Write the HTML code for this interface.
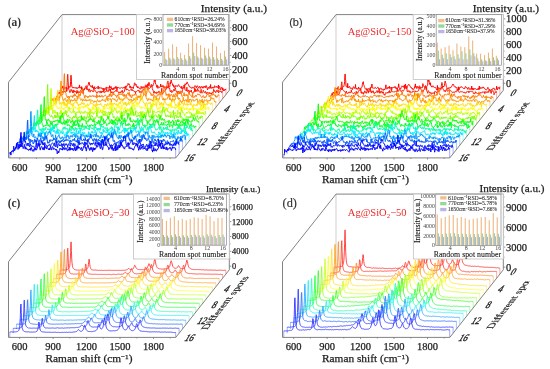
<!DOCTYPE html><html><head><meta charset="utf-8"><style>html,body{margin:0;padding:0;background:#fff;overflow:hidden}svg{display:block}</style></head><body>
<svg width="550" height="369" viewBox="0 0 550 369">
<rect width="550" height="369" fill="#fff"/>
<g transform="translate(0.0,0.0)">
<text x="7.7" y="26.4" font-family="'Liberation Serif', serif" font-size="11.5" font-weight="700" fill="#333" stroke="#333" stroke-width="0.0">(a)</text>
<line x1="62.0" y1="14.6" x2="62.0" y2="90.3" stroke="#cdcdcd" stroke-width="1"/>
<g fill="none" stroke-width="0.70" opacity="0.50"><path d="M60.0 94.5V90.7M225.9 94.5V88.8" stroke="#ff0000"/><path d="M56.7 98.8V96.7M222.6 98.8V91.2" stroke="#ff1500"/><path d="M53.3 103.0V101.1M219.2 103.0V95.8" stroke="#ff7700"/><path d="M50.0 107.2V102.4M215.9 107.2V101.7" stroke="#ff9400"/><path d="M46.6 111.4V110.8M212.5 111.4V104.5" stroke="#ffdc00"/><path d="M43.3 115.7V112.9M209.2 115.7V108.8" stroke="#ffff00"/><path d="M39.9 119.9V116.3M205.8 119.9V113.8" stroke="#bfff00"/><path d="M36.6 124.1V121.2M202.5 124.1V116.5" stroke="#7fff00"/><path d="M33.2 128.3V124.1M199.2 128.3V122.1" stroke="#15ff00"/><path d="M29.9 132.6V129.8M195.8 132.6V125.8" stroke="#00ff2a"/><path d="M26.6 136.8V132.1M192.5 136.8V129.9" stroke="#00ffa9"/><path d="M23.2 141.0V136.6M189.1 141.0V134.7" stroke="#00e9ff"/><path d="M19.9 145.2V141.0M185.8 145.2V135.5" stroke="#0094ff"/><path d="M16.5 149.5V144.9M182.4 149.5V140.6" stroke="#0054ff"/><path d="M13.2 153.7V150.9M179.1 153.7V144.1" stroke="#0015ff"/><path d="M9.8 157.9V153.8M175.7 157.9V150.0" stroke="#0000ff"/></g><g fill="none" stroke-width="0.98" stroke-linejoin="round" opacity="1.00"><path d="M60 90.7l.3-.8.3.2.2.1.3-1.2.3-.4.3.1.2-.6.3-.3.3 0 .3-1.6.3 1.7.2.4.3 2 .3-2.2.3-.4.3.1.2.5.3.3.3-.3.3-.2.3-.4.2-.8.3.9.3 3.7.3-1.2.2-1.3.3-.6.3-.2.3-.8.3-.2.2 1.3.3-.3.3-1.5.3-.1.3.3.2.3.3-1.2.3-4.5.3-6 .2-.3.3 5.9.3 3.8.3 2.1.3.6.2 0 .3.4.3.1.3-.6.3-.4.2.6.3.4.3-.3.3-.2.3.1.2.1.3-.3.3.3.3.8.2-.3.3-.7.3.1.3.7.3 0 .2-.6.3-.2.3-.4.3.2.3.8.2-.7.3-2.6.3 2.7.3.4.2-.6.3-.3.3.3.3 1.1.3.9.2-2.8.3 2.2.3-.3.3.8.3 1.5.2-.2.3-1.3.3 0 .3.7.3-.3.2-.7.3-.5.3-.4.3 0 .2.2.3-.6.3 0 .3.7.3 1.2.2-2.5.3 0 .3-.7.3-.8.3-.8.2-.7.3-1.1.3-.9.3.9.3 2 .2.5.3.2.3-.1.3 1.1.2 0 .3-.2.3-.1.3.4.3.7.2-2.2.3 2.5.3.2.3-.8.3 0 .2 2.1.3.7.3-2.3.3-1.1.2 1.7.3.7.3-.7.3.1.3.1.2-.5.3-.4.3.1.3 0 .3.3.2.4.3.2.3-2.7.3 2.7.3.5.2-.5.3-1.2.3.2.3.3.2-.1.3.4.3-.1.3-.5.3.4.2.3.3-.4.3.5.3.9.3 0 .2-.9.3-.4.3.9.3 1 .3.5.2-.9.3-.9.3.6.3.3.2-.7.3-.7.3-.7.3-.5.3.8.2.8.3-.3.3-.4.3-.2.3-.1.2.4.3.3.3-.6.3.4.2.3.3-2.6.3.9.3.6.3 1 .2-.3.3-1.4.3.8.3 1.9.3.2.2-.2.3.1.3.6.3-1.9.3 1.2.2-1.4.3 1.6.3-.1.3-.8.2-.9.3-.4.3.6.3.6.3-2 .2 0 .3 1.4.3.4.3-.1.3.3.2-.5.3-.8.3.5.3.2.2-.4.3.3.3.2.3 0 .3.2.2.3.3-.1.3-.3.3-.1.3-.1.2-.3.3-.3.3.3.3.3.3.2.2.3.3-.2.3-.4.3.3.2-.1.3-.9.3-.1.3 1 .3.4.2-1.1.3-.3.3.3.3-.7.3.2.2.1.3-.9.3-.7.3.1.3-.4.2-1.4.3.4.3.5.3.2.2-.8.3 1.1.3.6.3 2.4.3-1.7.2.4.3 0 .3 1.8.3-.8.3-.5.2 0 .3.3.3.1.3-.1.2.6.3.6.3-1.9.3-.5.3-1.2.2-1.6.3-.6.3.7.3.7.3.8.2.3.3-1 .3 1.1.3 1.1.3-.5.2 1 .3.9.3-.9.3-.3.2 1 .3.2.3 0 .3.3.3-.3.2.1.3.9.3.4.3-.4.3-.6.2-1.9.3.8.3.1.3 1.2.3-.6.2.2.3-1 .3-.6.3 1.1.2.6.3-.2.3.1.3-.1.3-.5.2-.7.3-.6.3.1.3 0 .3-.2.2 0 .3-.1.3.8.3.5.2-.5.3-3 .3 2.4.3-.8.3-1.4.2-1.7.3.5.3 1.8.3 1.1.3.4.2.4.3.6.3.1.3-.4.3-.4.2-1 .3-.3.3.5.3.5.2.1.3-.8.3-.9.3-1.2.3-.6.2-2.3.3.9.3-4 .3-.2.3 5.6.2 1.3.3.3.3.5.3 1.2.2 1.2.3.1.3-.5.3-1.4.3 3 .2-.9.3-.7.3.2.3.2.3.1.2.3.3-.3.3-.3.3-.7.3-2.3.2 3 .3 0 .3-.7.3-.6.2.5.3.9.3-.6.3-1.1.3.2.2 1.8.3-.1.3-.6.3 1.2.3.4.2-1.3.3-.2.3.7.3-.1.3-.5.2-.2.3.2.3.5.3.6.2.1.3-.8.3-.8.3.3.3.6.2-.7.3-.3.3.4.3 0 .3-.1.2-4 .3 1.3.3-2.2.3-1.6.2-.6.3 1.6.3 1.8.3.3.3.5.2 1.5.3 0 .3-.6.3 1.8.3-1.2.2 1.7.3.6.3-.9.3 0 .3.4.2-.5.3-1 .3-.1.3.7.2-.2.3.2.3.3.3 0 .3-.4.2-.8.3-.4.3-.3.3.2.3 1.1.2.6.3-.1.3.3.3.4.3-.2.2.5.3.9.3 0 .3-1.9.2 1.7.3.9.3.1.3-.4.3-.9.2-1.4.3-.8.3.1.3.6.3.3.2-.6.3-1.4.3-.9.3.5.2.6.3-.2.3-.5.3-1.3.3-.3.2-.6.3.4.3 1.3.3.4.3.4.2.9.3 0 .3.7.3.9.3.1.2.1.3.2.3 0 .3-.2.2.1.3.7.3.4.3.2.3-.7.2-.6.3.2.3 0 .3.2.3.6.2-.1.3-.9.3-.5.3-.6.2-.4.3.5.3-.1.3-.2.3.9.2 1 .3-.1.3-1.2.3-.8.3.2.2.6.3.1.3.4.3.8.3-.6.2-.1.3-.2.3-.6.3 1.1.2 1.1.3-.7.3-.8.3.1.3-.3.2-.3.3.7.3 1 .3-.7.3-.8.2 1 .3.5.3-.9.3-.7.3-.5.2.9.3.4.3-.6.3.3.2.5.3-1.6.3-.5.3 1.5.3.1.2-.2.3 1.6.3 1.4.3-.8.3-.7.2-.5.3-.6.3.5.3.7.2-1 .3-1 .3.2.3.8.3-3 .2 3.7.3.4.3-.4.3-.6.3-.5.2.4.3.7.3-.9.3-.4.3.9.2.3.3.2.3-.3.3-1.5.2-.8.3.4.3.7.3.3.3.3.2 0 .3-.8.3-.5.3.5.3.9.2.2.3-.6.3-.6.3-1.5.3 3.8.2-1.3.3-1.3.3.2.3.5.2 1.1.3 1.6.3.3.3-.8.3-1 .2-.7.3.1.3.2.3 0 .3 2.5.2-1.6.3-.2.3 1.3.3 1.2.2-.8.3-.3.3.7.3-.8.3-.6.2.6.3 0 .3-.9" stroke="#ff0000"/><path d="M56.7 96.7l.2.2.3-.5.3-1.4.3-1 .2-.9.3 0 .3.4.3-.9.3-.7.2.8.3 1 .3.1.3.1.3.4.2-.3.3-1.3.3-.6.3.4.2-.3.3-.8.3 0 .3 1 .3.3.2-.5.3-.2.3-.5.3-.4.3.5.2.4.3.1.3-.1.3-.1.3-.2.2-.7.3-.9.3-1.7.3-2 .2-3.9.3-7.5.3-.7.3 6.6.3 4.1.2 3.3.3 1.5.3.3.3.7.3 1.6.2.3.3-1.7.3-.4.3-1.3.3 0 .2.8.3 1 .3.4.3-.6.2.4.3 1.5.3-2.9.3 2.7.3-1.5.2-.8.3.4.3 1.4.3-.2.3-.5.2-.4.3.7.3.2.3.7.2-.4.3 1.4.3-3.3.3 2.6.3-1.3.2.5.3.8.3-.9.3-.5.3.2.2.4.3.6.3-.3.3-1.1.3-.7.2-.2.3-.4.3-.2.3 0 .2-.3.3 0 .3.6.3.6.3.7.2 2.2.3-1.9.3-1.5.3 0 .3-.2.2-1.4.3-.6.3-.3.3-.9.2-.5.3-.4.3-.3.3 1.3.3 1.5.2.1.3.1.3 1.1.3 0 .3-.6.2 1.2.3 1.1.3-1.3.3-1.3.3.4.2 1.5.3 1.5.3-.5.3-1.2.2 0 .3-.2.3 0 .3 0 .3-.1.2 1 .3.5.3-.5.3.3.3.2.2-1.1.3-.2.3.3.3 0 .3-.1.2-.2.3.2.3.7.3.9.2.2.3 0 .3.8.3.2.3-.8.2-.8.3-.2.3.2.3.1.3-.5.2-.3.3.4.3.1.3.6.2.9.3-.7.3-1.3.3 0 .3.2.2 1.7.3-1.2.3-.5.3-.4.3 1.1.2.2.3-.4.3.2.3-3.6.3 3.4.2.8.3.1.3-.6.3-.1.2-.6.3-.2.3.4.3-.2.3-2.8.2 2 .3.3.3-.3.3 1 .3.1.2.1.3-.6.3-1.2.3-1.2.3.3.2 1 .3.1.3.8.3-2 .2 4.1.3-1.5.3.3.3 1.1.3-.9.2-.4.3.7.3.4.3.8.3-.3.2-1 .3-.6.3 0 .3 0 .2.1.3-.2.3-.5.3-.6.3.7.2.2.3.1.3-.4.3-4.2.3 3.3.2.5.3.9.3 0 .3.2.3.9.2 0 .3-.5.3.4.3.5.2-.7.3-.6.3.4.3.7.3-.7.2-.8.3.6.3-.5.3-1.3.3.7.2 1.7.3.4.3-.6.3-.2.2-.3.3.1.3-.7.3-2 .3-.9.2-.2.3.2.3-2.5.3 4.3.3-.2.2-.5.3.2.3 0 .3-.7.3.1.2.8.3.4.3.3.3.2.2-.1.3 0 .3-.1.3-.2.3-.3.2-.4.3-.1.3.1.3.7.3-.2.2-1.3.3.7.3 1 .3-.4.3.4.2.2.3-.2.3.1.3.5.2.8.3-.1.3-.4.3.1.3 2.2.2-1.6.3-.4.3-.5.3.1.3-.4.2-.3.3 0 .3-.3.3.2.2.4.3-.7.3-.2.3 1.3.3.8.2-.7.3 1.2.3-.7.3-.1.3-.5.2.6.3.2.3.2.3 0 .3-1 .2-.7.3.1.3-.4.3-.9.2.1.3.5.3-.4.3.1.3 0 .2-1.9.3-2.5.3-.6.3.3.3-.1.2 1 .3 1.6.3.5.3 0 .3-.3.2-.6.3-.1.3.3.3.9.2.5.3-.5.3.1.3-.2.3-.2.2-.4.3-.7.3-.8.3-1.4.3-.4.2.3.3 1.4.3 2.7.3 1.1.2-.2.3.6.3 1.4.3 1.6.3 0 .2-1.6.3-.4.3 1.4.3.6.3-.6.2-.6.3.3.3 1.1.3.2.3-1.2.2-.6.3.5.3.7.3-.2.2-.1.3-.1.3-1.4.3-.3.3.7.2.4.3.6.3.1.3-.3.3-.3.2.1.3.2.3-.7.3-3.5.2 4.3.3 1.5.3.3.3-1 .3-.7.2-.1.3 0 .3-.5.3-.5.3-.3.2-.4.3-.6.3-1.4.3 1.2.3-.7.2-.5.3-.1.3-1.5.3-2.6.2-1.8.3-1.2.3-.7.3 1.3.3 2.7.2 2.2.3.8.3.8.3-.8.3 1.9.2 1.5.3.5.3-.8.3-.5.3 0 .2 1.1.3 1.1.3-.8.3-1 .2.2.3.3.3-.6.3-1.2.3-.3.2.9.3.7.3-1 .3-1.3.3-.8.2 0 .3 1.8.3 1.7.3.1.2-.1.3.9.3.8.3.8.3-2.4.2.3.3.3.3-.5.3.2.3.6.2-.4.3.5.3 1.4.3-.3.3-1.4.2-.5.3.5.3-.4.3.4.2-.1.3.5.3-2.6.3-.5.3-1.2.2-.9.3.4.3-.2.3 0 .3.7.2-3.3.3 4.4.3.9.3-.2.3 0 .2.4.3.6.3 0 .3-3.8.2 3.4.3.9.3-.1.3-1.2.3-.3.2 1 .3-.5.3 3.3.3-.4.3-2.1.2-.6.3.6.3.4.3-.2.2.3.3-1.6.3 2.2.3.2.3.2.2-.1.3.2.3.3.3.1.3-.5.2-1.2.3.1.3.2.3-4 .3 2.8.2.8.3-2.2.3 2.4.3-1 .2-.2.3.7.3-.2.3-1.6.3 0 .2-.9.3 3.1.3-.6.3-.6.3.1.2.5.3.3.3.3.3.9.3.6.2.1.3-.7.3-3.1.3 3.5.2.2.3.1.3 0 .3-.3.3 0 .2-1.3.3-1.3.3.6.3.9.3.3.2.4.3.4.3-.1.3-1 .2-.5.3 1 .3 1.2.3.5.3-.1.2-1.3.3-.5.3.6.3.1.3 0 .2-.2.3.3.3 1 .3-.4.3-.3.2-.6.3 1.3.3-.1.3.3.2-.5.3-.6.3.8.3.6.3-1.3.2-.7.3-.1.3.3.3.3.3-1.5.2-2 .3.5.3 1.6.3 0 .2-.6.3.3.3.7.3.7.3.2.2-1.1.3-1.2.3 0 .3 1.1.3.3.2-.5.3-.2.3-1.3.3 3.1.3.1.2-1.1.3-.7.3.1.3-.2.2-.4.3.7.3.3.3-.6.3-.1.2.8.3.9.3-.3.3-1 .3-.2" stroke="#ff1500"/><path d="M53.3 101.1l.3-.5.3-.4.2 0 .3-.1.3-.2.3.2.3-.7.2-1.1.3-.3.3 0 .3.4.3.4.2-1.3.3-1.4.3.7.3.4.2-.4.3.3.3.7.3.6.3-.4.2-1.5.3-.7.3-.3.3-.2.3.2.2.2.3.3.3.1.3-.9.3-1.3.2.1.3.8.3-.4.3-.9.2-1.3.3-2.9.3-5.2.3-9.2.3-1.2.2 10.5.3 6.6.3 1.8.3.1.3.6.2 1.2.3 1.2.3.4.3-.3.2 2.1.3-.5.3.3.3-.8.3-.7.2.8.3.3.3 1 .3-1.7.3.1.2-.2.3-.7.3.2.3.5.3-.1.2-.1.3-.1.3-.5.3.2.2 1.5.3.2.3-1 .3-.9.3-.8.2.3.3 1.1.3-2.6.3 1.2.3-.7.2.6.3 1.2.3-.3.3.4.3.7.2-.6.3-.3.3.6.3.4.2-.2.3-.3.3-.3.3-.1.3-.5.2-.8.3-.3.3.8.3.8.3-.6.2-2.7.3-1.6.3 1.8.3.1.2-2.2.3-1.1.3-.3.3.6.3-1.2.2 4.1.3 1.3.3.6.3.4.3.9.2 1.9.3.3.3-1.5.3-1.3.3-.3.2.8.3.8.3-.2.3-.3.2.6.3-.4.3.4.3 1.2.3-.8.2-1.1.3.4.3.4.3-.4.3-.6.2-.6.3.2.3.9.3.2.2-.8.3 0 .3.2.3.4.3-.1.2-.2.3-.6.3-.1.3.9.3.1.2-.7.3.3.3.3.3-.5.3-.1.2.5.3.8.3-.2.3-.8.2.3.3-2 .3 3.8.3-1 .3-1.7.2.1.3.9.3-.3.3-.1.3.8.2-.4.3-1.3.3.3.3 1.7.3-.1.2-1.1.3.1.3.6.3 0 .2-.8.3-.7.3.2.3 1 .3.6.2.2.3.1.3-.6.3-.7.3-.1.2.1.3-.1.3-.5.3-.5.2 0 .3.6.3.6.3.3.3.8.2.9.3.1.3-.8.3-1.2.3-.5.2.1.3.2.3.7.3-1.1.3-1.5.2 1 .3 1.2.3-1 .3-3.6.2 1.7.3 1.6.3 1.3.3.6.3-1.6.2-.8.3.8.3-.7.3-1.1.3.2.2.9.3-.2.3-.7.3.2.3.5.2.7.3.5.3 0 .3-.2.2-.1.3 1 .3 1.2.3-.3.3-1.7.2-.6.3.8.3.2.3-1 .3-1.2.2-.5.3.8.3.8.3.2.2-.4.3-.2.3.2.3-.3.3-.7.2.5.3.5.3-.4.3 0 .3-.6.2-.3.3 2.6.3-.4.3.8.3-.8.2-1.6.3.6.3 1.8.3.2.2-.9.3-.4.3-.2.3 0 .3 1.6.2-1.2.3-1.3.3-.3.3.2.3-.7.2-.8.3.5.3 1.6.3.7.2.1.3-2.9.3 2.7.3 1.1.3.3.2-1.5.3-.3.3 1.7.3 1.5.3-.3.2-.1.3-1.1.3-1.5.3-.3.3.4.2-.1.3 0 .3.6.3-.2.2-.9.3-.2.3-.4.3.9.3.3.2-.1.3-.3.3-.2.3.8.3 1.2.2.5.3 0 .3-.2.3.5.3.2.2-1.4.3-.1.3 1 .3-.4.2 0 .3.9.3-.2.3-1.7.3-1.7.2-.7.3-.4.3-.8.3-1.6.3-.7.2 1.2.3.9.3.8.3 1.3.2.7.3.3.3-.4.3-.6.3-.1.2.3.3.6.3 1.5.3-1.1.3-.5.2-.7.3-.9.3-1 .3-4.2.3 2.2.2-2.3.3-.2.3 1.7.3 1.3.2.9.3.7.3-.2.3.3.3.9.2-.3.3.3.3 1.5.3.9.3-1 .2-.7.3 1.1.3 1 .3-.3.3-.8.2-.8.3 0 .3.7.3.8.2.9.3-.2.3-.6.3.3.3.7.2.9.3.2.3-.2.3 0 .3-1.1.2-1.1.3.2.3-.3.3-.7.2.5.3.1.3.2.3-1.1.3-1 .2-.8.3.7.3 1.6.3-1 .3-1.2.2.7.3 1 .3 0 .3-.6.3.1.2-.1.3-.6.3-.5.3-.2.2-1 .3-1.9.3-1.7.3-1.2.3-.4.2.5.3 1.4.3 1.6.3 2 .3 3 .2.8.3-1.3.3.1.3.8.2.4.3-.3.3-.8.3-.2.3 1.3.2.8.3-2.5.3 1 .3 1.1.3.9.2-.5.3-1.1.3-.2.3-.3.3-.3.2 0 .3.7.3.7.3.4.2 1.1.3-.1.3-1.7.3-1 .3 1.2.2 1.5.3-.3.3-1 .3-1.1.3-.9.2-.3.3 1 .3.2.3 1.3.3.3.2-.8.3.6.3-.3.3-1.2.2-1.1.3-1.6.3 2 .3.2.3-1.1.2-1.3.3-.4.3-.4.3 0 .3 1.4.2.7.3-.1.3 0 .3 1 .2 2 .3.6.3-.3.3 0 .3-.5.2-.4.3.3.3-.6.3-2.4.3 3.3.2.3.3-1.4.3-.1.3.1.3.2.2.7.3-.2.3-1.1.3.2.2 1.4.3.1.3-1.1.3-.2.3.3.2-.3.3-.1.3-2.6.3 1.8.3.2.2.9.3.2.3.3.3.2.3-.2.2.4.3.3.3.9.3.3.2-4.2.3 1.7.3 1.3.3 1.3.3-.1.2.1.3.1.3-.7.3-.8.3.1.2 0 .3-.9.3.5.3 1 .2-.4.3-1.1.3-.3.3-.1.3-.4.2-.7.3.1.3.2.3 0 .3.8.2 0 .3-.5.3.2.3.2.3 1 .2-.1.3.6.3.3.3.3.2.6.3.1.3-.4.3-.2.3-.9.2-.6.3.2.3.1.3.9.3 1.4.2-.1.3-.7.3.3.3-.1.3-.8.2 0 .3.5.3-.9.3-1.2.2-.4.3-.1.3.4.3-.9.3-.7.2.6.3.4.3 1 .3 1.7.3-.5.2-1 .3.4.3-.4.3.7.2-.1.3-1.5.3 0 .3-.4.3-.2.2.9.3.3.3-1.1.3-.8.3.7.2.9.3 0 .3-.3.3.5.3.4.2-.5.3-.1.3 2.1.3-.7.2-.5.3.4.3 1 .3 0 .3-.5.2-.3.3-.6.3-1.1.3-.1.3.2.2.4.3.5" stroke="#ff7700"/><path d="M50 102.4l.2.1.3.4.3.1.3-.8.3-4.3.2 2.3.3.6.3-.3.3-.9.3-1 .2 1.4.3 1.3.3-.8.3-2.5.2-.3.3 1.9.3 1.4.3.9.3-1.1.2-2 .3-.2.3.8.3 1.1.3.7.2-.8.3-1 .3-.1.3.1.2.4.3.6.3.2.3.3.3-.3.2-.8.3-1.2.3-1.9.3-2 .3-3.6.2-8.2.3-2 .3 7.1.3 5.4.3 2.6.2.9.3 1.4.3 1.5.3.9.2 0 .3.9.3-2.7.3.4.3.1.2-.6.3-.6.3.2.3.4.3.9.2 1.3.3.6.3-.6.3-.7.3-.2.2-.5.3.8.3.9.3-.8.2-1.2.3-1.1.3.7.3 1.2.3.4.2.7.3 1.7.3-2.7.3-.5.3-.1.2.4.3.8.3-.5.3.1.2.8.3-.5.3-.6.3.2.3.7.2-.3.3-.8.3-1.4.3-.3.3 1.8.2.9.3-.1.3-.5.3-.2.3.8.2.4.3-.7.3-4.5.3 2.6.2.4.3-.4.3-5.5.3.2.3 2.7.2.5.3.5.3.3.3 1.2.3 1 .2.5.3.3.3-.5.3-.5.3-.5.2-.3.3 1.4.3 1.3.3-.4.2-.9.3-.7.3 0 .3.6.3.8.2-.1.3-.6.3 0 .3-.6.3-.1.2 1.6.3.3.3-1.4.3.3.2.8.3-.6.3-.2.3.4.3-.2.2-.5.3.5.3.6.3-1 .3-.5.2.4.3.4.3-.3.3-.5.3.7.2.8.3.4.3-.4.3-.3.2.2.3-.3.3.1.3.7.3.5.2.6.3.2.3-.9.3-.8.3-.1.2.8.3.4.3-.6.3.1.2.8.3.3.3-.8.3-1.1.3-1.1.2.2.3.8.3.2.3.7.3.6.2 0 .3-.2.3-1.2.3-.2.3 1.1.2 0 .3-.5.3 0 .3-.3.2-.9.3-.3.3-.3.3-.1.3 1.2.2.3.3-.8.3-.1.3.4.3-.3.2-.2.3.9.3.5.3.5.3.4.2-1.5.3-1.9.3-.1.3 1 .2-.2.3-1.1.3.3.3 1.8.3.9.2-1.8.3-1.3.3.2.3.7.3.2.2-.1.3.4.3 0 .3-.9.2.1.3 1.4.3 1.9.3-1.8.3-1.1.2-.1.3-.3.3-.5.3.2.3.7.2 0 .3-.2.3 1 .3.2.3-1.3.2 0 .3 1.3.3.1.3-.2.2.6.3.7.3.7.3-.5.3-1.3.2-.7.3.3.3-.1.3-1.8.3-1.2.2-.1.3 0 .3 1.1.3 1.4.3.9.2 0 .3-.7.3-.5.3.1.2.6.3.4.3.3.3.1.3-.7.2 1.4.3-1.2.3-1.1.3.9.3-.7.2 0 .3.3.3-.3.3-1.5.2-.6.3.5.3-.5.3-.2.3 1 .2.7.3-.3.3-.1.3.1.3-.2.2.8.3 1.1.3-.1.3-.1.3.9.2.2.3-1.1.3-.3.3.5.2 0 .3.7.3 0 .3-1.2.3.5.2 1.6.3 0 .3-1 .3 0 .3.5.2-.1.3-1.5.3-.9.3.8.2-.1.3.8.3.4.3-1 .3 0 .2-.1.3-1.4.3-.6.3 1.3.3 1.6.2 0 .3-1.3.3-1.3.3-.5.3-.8.2-.2.3.4.3-.5.3.3.2 1 .3.6.3 1 .3 1.3.3.1.2-.9.3-.3.3.1.3-.1.3-1.1.2-1.1.3-.2.3-.4.3-.2.3-.9.2-1.8.3-2.1.3-1.9.3-.9.2.5.3 1.9.3 2.6.3-2 .3 6.1.2 1.4.3-.4.3.4.3 1.3.3.7.2 0 .3-1.2.3-1.1.3.9.2.5.3-.8.3-.2.3.2.3-.1.2 0 .3.6.3.8.3-.3.3-.5.2 0 .3.7.3.2.3-.6.3 1 .2.6.3-1.7.3-3.4.3.4.2 1.2.3 1.9.3.2.3-.4.3.2.2.2.3-.8.3-.9.3 1.2.3-1.7.2 1.5.3.9.3-.5.3-.2.3-.6.2-.1.3 1.1.3-.1.3-.9.2-1.2.3-1.1.3-.8.3-3.3.3 2.3.2-1.1.3-.8.3.6.3-.2.3 4 .2.7.3.7.3 1.2.3.2.2-1.4.3-.9.3 2 .3.3.3-1.2.2.3.3 1 .3-.6.3-.9.3.1.2.4.3-.3.3-.1.3.3.3-.5.2-1.4.3-.5.3.5.3-1.7.2-.5.3.5.3 1.8.3 2.4.3-2.1.2-.2.3 2.2.3.3.3-.8.3.5.2 1.8.3-.4.3-.8.3-.1.3-1.6.2-.1.3 1.7.3-.5.3-.2.2 1.6.3-.2.3-1.9.3.3.3.3.2-2 .3-1.5.3-.3.3-.2.3-.2.2-.8.3-1.1.3 1.2.3 2.6.2 1.4.3-1.1.3 1.8.3-.5.3-.3.2.5.3-1.1.3 1.8.3 1.6.3-.9.2.3.3 1.3.3.4.3-.8.3.7.2-.2.3-1.3.3.2.3.2.2-4.1.3 3.1.3-.1.3.9.3.2.2-.9.3.1.3.2.3-.8.3-.4.2 1.2.3.4.3-1.3.3.6.2 1.9.3-1.9.3-1.2.3-3.8.3 4.4.2.9.3 1.8.3-.1.3-2.5.3-.9.2.9.3 0 .3-.9.3 0 .3.6.2 1.6.3.6.3-1.3.3-.3.2 0 .3-.8.3.3.3-.1.3.4.2 1.3.3 0 .3-.2.3-.3.3-.6.2-.2.3.3.3-.5.3-.9.3.3.2.7.3-.5.3-.7.3 1 .2 2.3.3 1 .3-.6.3-.7.3-.2.2-.3.3-.8.3-.8.3.2.3 1.1.2.9.3.7.3-1.9.3 1.1.2-.8.3.1.3-2.1.3 3.9.3-1.4.2-.6.3.7.3 1.4.3-.4.3-1.4.2-.8.3-.6.3.1.3.6.3-.1.2-.3.3.4.3-.3.3-.6.2.4.3 1.8.3.8.3-.4.3-1.4.2-.4.3.2.3.3.3.2.3-.7.2-.4.3.9.3-.2.3-2.2.3-1.6.2.5.3 1.4.3.4.3-.5.2-.7.3.1.3.7.3-.2.3-.5.2.1.3.9.3 1.3.3 1.2.3-.3.2-.2.3 1 .3.3.3-.6" stroke="#ff9400"/><path d="M46.6 110.8l.3-.9.3-.6.3-.2.2-1.4.3-.8.3.5.3.8.3 2.1.2-3.2.3-.3.3.7.3.7.2-.2.3-.6.3-.2.3-.1.3.1.2-.6.3-.9.3-.2.3-.1.3.4.2-.2.3-.4.3.5.3-.6.2-3.4.3 2.3.3-2.8.3 3.3.3-1.1.2-.9.3.8.3 1.1.3-1.3.3-2.5.2-1.5.3-2.3.3-5.5.3-1.4.3 5.2.2 3.5.3 1.9.3.6.3.3.2 1.8.3 1.3.3-.8.3-1.2.3.2.2.6.3.5.3.4.3-.5.3-1 .2-.8.3 1 .3.9.3-.6.2-.3.3-2.3.3 3.4.3 1.6.3-3.4.2.5.3 1.7.3.4.3.4.3.6.2-2.3.3.7.3 1.7.3.8.3-.8.2-4.9.3 3.4.3-.9.3-4.3.2 3.6.3.2.3 0 .3.9.3-.2.2-.9.3-.5.3.3.3 1.9.3.8.2-.8.3-.6.3-.3.3.1.3.1.2 2.5.3-.7.3 0 .3-1.2.2-1.4.3-.1.3.1.3-.1.3-.8.2-.8.3.1.3 0 .3-.2.3 2 .2-1.1.3.9.3.4.3-.5.2 1.2.3.8.3 1.1.3-1.4.3 0 .2-.4.3.8.3.1.3-.9.3-.3.2.7.3.4.3-1.3.3-1.2.3.3.2.6.3.6.3-.7.3-.7.2 1.2.3.7.3-1.1.3-.3.3.1.2 1.1.3.5.3.2.3.9.3.4.2-1.2.3 0 .3.6.3-.2.3.1.2-.7.3-1.2.3.6.3 1.5.2-.2.3-.5.3.1.3-.4.3-.3.2-.5.3-.4.3-3.9.3 4 .3-.2.2.5.3-.5.3-.2.3-.1.2.1.3.6.3.5.3-.5.3.4.2.9.3.4.3.6.3-.4.3-1.3.2-.1.3.6.3 2.3.3-.8.3-1.6.2-2.9.3 3 .3.7.3-.4.2-1 .3-.2.3.4.3-.1.3-.1.2.6.3 0 .3-.8.3.5.3.4.2-1.2.3-.6.3 1.1.3 1 .2 0 .3.1.3.3.3.2.3.3.2.4.3.3.3-.3.3.1.3 2 .2-2.8.3-1.3.3-.4.3.1.3.8.2.1.3-.9.3.9.3 1 .2-.4.3-1.2.3-.7.3-.6.3.2.2 1.2.3.6.3.3.3-.5.3-1.2.2-.6.3-.7.3 0 .3.7.3.9.2 1.2.3-3.3.3 3.5.3 0 .2-1.1.3-1.1.3.5.3 1 .3.1.2-.9.3-.8.3.5.3-.1.3-.8.2.6.3.9.3.1.3.4.2.3.3-1 .3-.6.3.9.3 1.7.2-1.1.3-.4.3 1 .3-.1.3-1.7.2-.8.3.3.3-.9.3-.6.3.9.2 1.1.3-.2.3-1.5.3-1.8.2-1.5.3-.2.3.9.3 1.1.3.9.2.5.3.7.3 1.3.3.7.3-.2.2-1.1.3-1.1.3.9.3 1.5.3-.5.2-2.1.3-.2.3 2.1.3 1.9.2-.1.3-2.1.3-.5.3 1.2.3-.1.2-.8.3.1.3-2.1.3 3.1.3.1.2-.3.3-.8.3-.9.3-.9.2.2.3.9.3-2.1.3 1.3.3-1.1.2 1.3.3 1.5.3 0 .3.2.3-.2.2-.7.3-.2.3-.1.3-.7.3 0 .2.1.3-.8.3-.5.3.1.2-3.8.3 5 .3 1.2.3.7.3.2.2-.4.3 0 .3-.3.3 0 .3 0 .2-.5.3 0 .3.3.3-.5.2-1.5.3-1.4.3-.3.3 1.5.3-3.1.2-1.8.3-1.4.3.3.3 2 .3 1.6.2.5.3.3.3 1.8.3 1.4.3-.2.2.1.3.7.3-.2.3.6.2.2.3 1.9.3-.9.3-2.2.3-.3.2.1.3.7.3 1.2.3.1.3-.2.2-.5.3-.5.3-.4.3-.4.3.7.2.6.3-.4.3-.3.3-1.1.2 1.3.3.7.3.2.3.4.3.4.2-.5.3-1.1.3.9.3 2 .3-.2.2-2.4.3-1.1.3 1.2.3.9.2-.1.3.2.3 0 .3-1.1.3-.1.2.3.3-.4.3 1.4.3 1.3.3-1.6.2-2.8.3-1.7.3-1.2.3-.6.3 1 .2 1.8.3.1.3.1.3 2.3.2 1.5.3-.4.3-.7.3-.2.3-.8.2-.3.3 2 .3-2.5.3 2.7.3.2.2.1.3-1.2.3-.7.3 1.2.3.6.2-1.3.3-1.5.3-.6.3.3.2-1.4.3 1.4.3.3.3.7.3.7.2.4.3-.3.3 0 .3.7.3.6.2.3.3-.5.3-.9.3.4.2.8.3-.3.3-.3.3.7.3-.1.2-1.4.3.2.3.6.3-.6.3-.8.2-.2.3-.5.3-.6.3-.8.3-.5.2.5.3 0 .3-1.3.3-.7.2.4.3 1.5.3 1.7.3.6.3.7.2 1.3.3-.2.3-1 .3.7.3.6.2 0 .3.1.3.2.3.8.3.4.2-4.4.3 2.1.3-.2.3 1.1.2-4.3.3 3.1.3.8.3-.3.3-.8.2.2.3-.2.3-.7.3.1.3.4.2-.2.3-.6.3-.1.3.2.2.8.3 1.4.3-.7.3-1.9.3-1 .2 1 .3 1.9.3-.2.3-.2.3.7.2.2.3-.5.3-.7.3-.8.3.6.2 1.2.3.5.3-.6.3-1.1.2.3.3.5.3 0 .3-.2.3-.7.2-.1.3.5.3.4.3-2.4.3 2.9.2-.3.3-.4.3.2.3.6.2.9.3 1.3.3-.4.3-1.1.3 0 .2-1 .3-.8.3.7.3.4.3.4.2-.1.3-.4.3.4.3-.1.3-1.2.2 0 .3 1.5.3-.1.3-1.5.2-1.5.3-.1.3.9.3-.3.3.1.2 1.1.3.5.3-.3.3-3.3.3 2.9.2.3.3.9.3.4.3-.7.3 1.3.2-2.9.3-.1.3 0 .3.1.2 1.3.3 1.7.3 1.4.3-4.7.3 1.9.2-.7.3-.4.3 1.2.3.6.3-1.4.2-.4.3.5.3-.2.3-.7.2.3.3 1.1.3-.5.3-1.2.3-.7.2 0 .3.7.3.2.3 0 .3.1.2-.1.3 0 .3.6.3.5.3 0 .2-.5.3-1 .3-.3.3.6.2.3.3.9" stroke="#ffdc00"/><path d="M43.3 112.9l.3.3.2 0 .3-1.7.3-.9.3.5.2 0 .3-.4.3-3.5.3 2.7.3.3.2-.4.3 1.3.3-.2.3-.3.3 1.2.2.1.3-1.9.3-1 .3.4.3-.2.2-1.1.3-2 .3 1.4.3.1.2 0 .3 1.1.3.3.3.9.3-.6.2-1.5.3-.4.3.3.3.9.3.7.2-1.4.3-1.6.3-1 .3-3.2.3-4.9.2-.5.3 3.9.3 1.9.3 1.5.2.5.3-.1.3 2.7.3-.6.3-.3.2.5.3 1 .3 1.1.3.2.3 0 .2-.1.3-.2.3-.1.3-1.1.2-.4.3.9.3.1.3.4.3.7.2-.5.3-.8.3 0 .3-4 .3 3.9.2 1 .3-.1.3-.6.3-.1.3.7.2 1.3.3.2.3-.7.3-.9.2-1 .3 0 .3.2.3-.8.3 0 .2.6.3-.8.3.3.3 1.1.3-.1.2-.5.3-.5.3.3.3-.2.2.3.3.4.3.5.3 1.1.3.3.2-1 .3-.6.3 0 .3.2.3.5.2-.3.3-.7.3-.3.3-.9.3-.9.2.3.3 1.1.3 1.1.3.4.2-.5.3-.9.3.1.3.2.3-.8.2.2.3 1 .3.3.3.4.3.3.2-.2.3-.4.3-.8.3.5.3 1.2.2.3.3-.7.3-1.3.3-1 .2-.4.3 3.3.3-.4.3-1.5.3.3.2.5.3 0 .3-.6.3-.6.3.1.2-.7.3-.5.3 0 .3.9.2 1 .3.3.3-.7.3-1.5.3.8.2.4.3.1.3-.5.3-1.2.3-.2.2 1.2.3-.2.3-1 .3.3.3 1.2.2.7.3-.2.3.2.3.7.2 1.7.3-2.4.3.1.3 1.2.3.5.2-.4.3.3.3.3.3-.5.3.3.2.3.3.3.3.4.3-.9.3-2.5.2 2.1.3.2.3-.6.3-3 .2 1.2.3 2.2.3.6.3-.8.3.7.2 0 .3-.9.3.3.3.4.3 0 .2.1.3-.3.3.3.3.4.2-.6.3-.1.3 1 .3.2.3-3.2.2.9.3.7.3.1.3-.3.3.3.2.7.3 1.3.3-.2.3-1.1.3.3.2 1 .3-.5.3-.5.3 1 .2-.4.3-1.8.3 0 .3.8.3-4.1.2 3.7.3-.1.3-.9.3.3.3-.1.2-.6.3-.3.3-.4.3.5.2 0 .3-.3.3 1.2.3.3.3-.4.2.7.3-.2.3-.7.3-.1.3-.1.2.1.3-1.9.3 3.2.3-.8.3-2 .2-.8.3.2.3.7.3-.2.2-1.4.3-.8.3 1.3.3 1.5.3-.3.2.1.3.1.3-.2.3 1.1.3 1.7.2.7.3-.5.3-.4.3-.1.3.5.2-.9.3-1.7.3.4.3 0 .2-.6.3-.3.3-1.4.3-.8.3.8.2 1.4.3 1.7.3-.7.3-1.3.3.8.2 1.5.3.4.3 1.2.3-.5.2-.8.3-.2.3-4.3.3 3 .3.4.2.3.3.1.3.6.3.7.3 0 .2-1 .3-1.1.3.6.3.5.3-1.3.2-.3.3 1.6.3 1.5.3-.9.2.6.3 1.3.3-.9.3-1.6.3.9.2.8.3.6.3.4.3-.8.3-.2.2-.7.3-1.3.3-.1.3 1.1.3-.3.2-.8.3-1 .3-.2.3-1.2.2-1.2.3-.2.3.8.3 1.4.3.5.2-1.7.3.6.3-2.2.3.5.3 2.3.2-.2.3-.9.3-.1.3.5.2.6.3-.4.3-.1.3.7.3-.6.2-1.9.3-1.7.3 0 .3.9.3.3.2.9.3 1.2.3.8.3.3.3-.2.2.1.3.5.3.6.3.5.2-.5.3-1.2.3 1.3.3.3.3.2.2 0 .3-.7.3-.7.3.4.3.4.2-.2.3.1.3.6.3.3.3.1.2-.2.3-1.1.3-1.4.3.8.2 1.8.3-.3.3-1.2.3-.4.3-2.4.2 3.6.3 0 .3 0 .3.3.3-.3.2 0 .3 1.2.3.8.3-.4.2-.3.3 0 .3-.1.3-.1.3-.5.2-.4.3-.2.3-1 .3-.4.3-.4.2-2.4.3-1.5.3.4.3-1.2.3-2.7.2-1 .3 1.3.3 2.3.3 2 .2 1.1.3.4.3.7.3 1.8.3 1 .2.1.3.1.3.2.3.9.3-.6.2-1.6.3.5.3 0 .3-.6.2 1.2.3.3.3-.1.3-1.8.3-1.4.2-.2.3.1.3-1.3.3.1.3 1.4.2.8.3.3.3-.4.3-.3.3.7.2 1 .3.1.3-.2.3-.2.2-.3.3.8.3 1.4.3 0 .3-1 .2 0 .3.4.3-.4.3-.1.3.9.2 2.1.3-2.9.3-.6.3.1.3-1 .2-1.4.3.4.3-.1.3-1.8.2-1.1.3 1.9.3 2 .3-.6.3-3.7.2 5 .3.4.3-.3.3-.8.3-.1.2.5.3.3.3-.4.3.1.2 1.1.3 0 .3-1.4.3.4.3 1.4.2-.4.3-.9.3-.4.3.3.3.6.2-.7.3-.8.3.5.3 0 .3-.2.2.9.3 1.2.3.3.3-3.1.2 2.1.3.9.3 1.1.3-.3.3-1.8.2-.9.3.9.3.7.3-.8.3-1.5.2-.1.3 2.1.3.4.3-.2.3-.4.2-.9.3-.2.3 1.3.3 1.4.2-1 .3-.2.3-.2.3-.3.3.6.2 1.1.3-.2.3-1.4.3-.9.3 1.2.2 1.3.3.3.3-.2.3 0 .2-.1.3-.3.3.4.3.7.3-1 .2-1.6.3 2.1.3-.1.3-1.3.3.6.2 0 .3-.5.3-.3.3.4.3.4.2.3.3-.8.3-2.8.3 4.5.2-.2.3-1.3.3-.4.3-.6.3 0 .2.6.3 0 .3.1.3.7.3.5.2-.7.3-.5.3.5.3.8.2.1.3-.6.3-.2.3-.3.3-.6.2.4.3.7.3.4.3-.2.3-.3.2-3.1.3 4.3.3-.4.3-1.3.3 1.1.2.3.3-3.2.3 2.3.3.2.2.7.3.1.3-.7.3-.8.3-.3.2-.1.3 0 .3-.1.3-3.3.3 4.4.2-.2.3-.4.3 0 .3-.5.3-.2.2.2.3-.9.3-.6.3 0 .2.3.3 1 .3 1 .3-.4" stroke="#ffff00"/><path d="M39.9 116.3l.3-1.5.3.1.3.3.2-.5.3.3.3-.7.3-2 .3-.4.2.8.3-.4.3-.6.3.5.3-.1.2-1.4.3-.6.3.6.3-.6.3.4.2 1.9.3.5.3-.2.3.1.2-.1.3.4.3 1.5.3-.3.3-2.5.2-.6.3 1.7.3.6.3-.2.3-.4.2-2.2.3-1.2.3.6.3-.7.2-2.9.3-5.2.3-9.7.3-3.1.3 9.5.2 7.4.3 2.7.3 1.5.3 2.5.3 1.7.2-1.9.3-.3.3-1.3.3-.3.3 1.5.2 1.4.3-1.4.3-1 .3.9.2 1.7.3.1.3-.9.3.4.3.7.2-1 .3-.1.3 1.4.3.7.3-.1.2-.4.3.1.3.2.3-.2.3-.8.2-.7.3.2.3.7.3.4.2-3.5.3 3.2.3-3 .3 4.1.3-.2.2-.4.3.8.3-.7.3-1.6.3 1.5.2-2 .3.4.3.2.3-.1.2-.7.3-.1.3 1.1.3.9.3-.5.2-1.3.3-.5.3.4.3.4.3.1.2.5.3-.6.3-2.3.3-1.7.3-.4.2-.4.3-.6.3 1 .3 1.9.2 1.9.3.7.3-.4.3.2.3.2.2.2.3.9.3-.4.3-1.3.3-.4.2.3.3.5.3-3.4.3 3.2.2.9.3-.3.3-1 .3-.3.3 1.4.2 1.5.3-1 .3-.6.3 1 .3-.6.2-1.1.3-.1.3.7.3 0 .3-.3.2 0 .3-.4.3.9.3-2.1.2 2.2.3 0 .3-1.1.3.4.3 1.1.2 1 .3-1 .3-1.6.3-.2.3.7.2.4.3-.4.3.5.3 1.1.3-.5.2-1.2.3 0 .3 1.2.3.3.2-1.6.3-.8.3.7.3-.2.3 0 .2 1.3.3.2.3-.7.3.3.3-.8.2.9.3 1.2.3 1.1.3-1.1.2-1.7.3.6.3 1.2.3-.2.3-2.7.2 1.9.3-3.6.3 4.1.3-3.4.3 2.8.2 0 .3.1.3-.7.3.9.3-.9.2-.7.3 1.3.3 1.2.3.3.2-1.7.3.8.3-.1.3-1 .3-.9.2.5.3-.2.3-.5.3.8.3.1.2-1.1.3-4.1.3 7.3.3-2.1.3-1.5.2-.3.3.3.3.9.3.8.2.6.3.2.3-.2.3-.5.3-1.7.2-.7.3 1.2.3.6.3.1.3.8.2-.3.3-.6.3 1.9.3-2.8.2.6.3.6.3-1.4.3.2.3 1.7.2.1.3-1.5.3 2.5.3-1.9.3-.8.2.3.3.8.3.7.3 0 .3-.5.2-.2.3.7.3.8.3.9.2-.8.3-2.1.3.6.3 1.1.3-1 .2-.5.3.7.3.8.3.1.3-1.6.2-1.4.3 1.5.3.8.3-5.4.2 3 .3.8.3.8.3.1.3.1.2-.5.3-1.7.3-1.1.3-.4.3-.8.2.2.3.8.3.1.3 1.1.3 1.3.2-.3.3 1.8.3-1.3.3 1.5.2.5.3-1.1.3-.9.3-.2.3 1.1.2-.7.3-.3.3-.3.3-.3.3 2 .2 1.2.3 1.1.3-1.8.3 1.1.3-.2.2-.8.3.3.3-.9.3-.7.2 1.4.3.2.3-1.7.3-1.2.3.7.2.9.3-.8.3.1.3 1 .3-.1.2-.1.3.1.3-.6.3-.4.2-.4.3-.2.3.4.3-.6.3-.8.2.3.3.2.3-.2.3.1.3-.4.2-.6.3.8.3 1.5.3 1.6.3-.3.2 2.2.3.3.3-1.5.3-3.4.2-1.4.3.9.3 1 .3.8.3-.1.2-.3.3-.3.3-1.2.3-1.3.3-.6.2-.5.3.4.3.8.3.6.3.4.2 1.1.3 1.3.3.1.3-.3.2 0 .3.4.3.6.3.8.3.4.2-1 .3-.7.3 0 .3 0 .3.6.2-.2.3-1.1.3-.3.3.7.2.3.3-.7.3.7.3 2.3.3.7.2-2.2.3-1.9.3 1.5.3 2.5.3-.2.2-.7.3-.5.3-1.4.3 0 .3.3.2-.4.3.6.3.9.3-.3.2-.9.3-.1.3-.2.3-1.6.3-.7.2 1.3.3.9.3-.3.3-.4.3 1 .2.3.3-2.3.3.3.3 2 .3-.9.2-3.6.3-3.5.3-.1.3 1.2.2 1.4.3 2 .3.2.3 1.4.3.2.2-.3.3.3.3.7.3-.6.3-.5.2.5.3 1 .3.6.3-.1.2-.3.3.1.3.2.3-.7.3.2.2.5.3-1.5.3.4.3-.7.3 1 .2-.1.3-.8.3 0 .3-.2.3 1 .2.9.3.1.3.1.3.2.2-1.4.3-1.5.3 1.9.3.1.3-.3.2-.2.3-1.9.3 1.4.3.9.3-.4.2-.5.3.5.3.2.3-1 .2-.9.3-.8.3.1.3 1.4.3-.5.2-1.9.3-.6.3.1.3.5.3 1.4.2 1.7.3.5.3-.8.3.2.3 1.2.2.1.3.1.3.1.3-1 .2-.2.3 1.7.3 1.9.3-.3.3-1.5.2-.1.3-.6.3-1.2.3.3.3.5.2-.5.3.1.3 1.4.3.3.3-.7.2.8.3.1.3-1.1.3-.5.2.6.3 1.2.3.3.3.3.3.9.2.1.3-.4.3-.8.3-3.9.3-.9.2 4.3.3.2.3 0 .3-.4.2-1.1.3-.3.3 1 .3.3.3-.3.2-.2.3-1.2.3-3.6.3 3 .3-.6.2-.9.3 1.1.3 1.9.3 0 .3-.4.2.4.3.2.3.9.3 1.3.2.8.3-.5.3-1.1.3-.5.3-.4.2-.1.3-.9.3-.6.3 1.1.3.1.2-.5.3-.1.3-.5.3-.5.3-.2.2.5.3.4.3-.5.3.7.2 1.1.3-.8.3-.7.3.4.3.6.2-.1.3.4.3.8.3.3.3-.1.2-.2.3-.1.3-.3.3.3.2.8.3.5.3.6.3-1.2.3-1.6.2.1.3.1.3.2.3 1 .3-.1.2-4.1.3 2.1.3 1.5.3-.3.3-1.8.2-2 .3 4.3.3-.4.3-.9.2-1.2.3-.4.3 1.5.3 1.2.3-.8.2-.6.3.5.3.5.3-.9.3.9.2-1.1.3.1.3.9.3-.4.2-1.1.3.5.3 1.6.3.7.3-.3.2 0 .3-.3.3-.8.3-2.4.3 1.8.2 1" stroke="#bfff00"/><path d="M36.6 121.2l.3 1.4.2.4.3-.6.3-1.7.3.7.3-1.5.2 0 .3-.1.3.1.3-2.9.3 3.2.2.4.3-2.1.3-1 .3.9.2.4.3-.6.3-.8.3-.2.3-.3.2-.2.3-.2.3-.5.3-.1.3.2.2-.8.3 1 .3-.9.3-.1.3.9.2-.2.3-1 .3-5.3.3 3.2.2-.7.3-2.5.3-3.8.3-6.7.3-12.4.2-2.3.3 12.9.3 8.6.3 4.4.3 2.9.2 1.8.3 0 .3.2.3 1 .3.2.2.3.3.3.3-1 .3-.9.2 0 .3.7.3 1 .3-.2.3.3.2 1.6.3.1.3-.8.3.1.3-.5.2-1 .3-1.6.3 3.1.3-2.1.2-.4.3 1.8.3-1.5.3 1.4.3.4.2-.3.3-1.6.3-3.3.3 4.1.3.9.2-.6.3-1.3.3 0 .3 1.3.3 1.1.2.3.3 0 .3-.8.3-.4.2.9.3-.7.3-1.4.3-.1.3 1.1.2.5.3-.5.3-.1.3.9.3-.5.2-.4.3-1.1.3-1.9.3.1.3 0 .2-1.2.3-1 .3-1.2.3-.1.2 1.9.3 1.6.3 1.9.3.5.3-.2.2 1 .3-.5.3-1.3.3-.1.3.5.2.9.3 1 .3 0 .3-.1.2-.1.3 0 .3.1.3.6.3.9.2.2.3.2.3 1 .3-1.2.3-1.9.2.8.3.2.3-1.3.3-.8.3-.2.2 1.1.3.8.3-1.1.3-.7.2.7.3 0 .3-3.2.3 4.8.3.1.2-1.2.3-.4.3.9.3 2 .3-.6.2-.6.3-1.3.3.2.3.6.2-.9.3-.4.3.3.3.1.3.3.2-.3.3-1.1.3-.3.3.5.3.2.2.5.3 1.2.3.4.3-.8.3.4.2 1 .3-.6.3-2 .3-.6.2 2 .3.9.3-1 .3-.7.3.3.2.4.3 1.6.3-1.6.3.1.3-1.3.2-.9.3 0 .3.8.3 1.2.3.1.2-.6.3-.8.3-.4.3.3.2-2.7.3 5.2.3 1 .3-3.3.3.1.2-.1.3-.9.3.4.3.1.3-.1.2 1.2.3.1.3.5.3 1.4.2-.5.3-.4.3-.2.3-.1.3-.2.2.2.3.6.3-.2.3-1.6.3-.4.2 0 .3-3.9.3 3.3.3-.5.3 1 .2.8.3.4.3.7.3-.6.2-.3.3.2.3-.8.3.2.3 1.1.2-.4.3-1.1.3-.7.3 0 .3 1.3.2.3.3 1.3.3-2.1.3-.3.3-1.2.2-1.4.3.2.3 1.3.3.3.2-.3.3-.4.3.7.3-1.8.3 0 .2 1.1.3.7.3-.3.3.1.3-.2.2-.2.3.7.3.8.3.7.2-.1.3.3.3 1.5.3-1.7.3-1.9.2-1.5.3.6.3-2.3.3 1.9.3.3.2-.8.3-1 .3.4.3.3.3-.1.2.3.3.6.3 2.2.3 1.9.2-.6.3-.9.3-.2.3 1.5.3.4.2-.3.3-.1.3 1.2.3.9.3.1.2-.6.3-1.3.3-1.1.3.1.3-.5.2.3.3 2.1.3.7.3-.8.2-1.3.3 1.8.3 0 .3 0 .3-1.6.2-.2.3-2.2.3 2.2.3-.9.3-5.2.2 3 .3 1.5.3-2.8.3.8.2-.1.3.9.3.9.3.2.3-.2.2 0 .3-1.3.3-.5.3-1 .3-1.7.2-1.3.3.3.3.2.3.4.3 1.8.2 1.6.3 1 .3 1.5.3.6.2-1.6.3-1 .3.5.3.2.3.4.2-.5.3-1.6.3.2.3.4.3-1.2.2-2.5.3-3.3.3-.3.3 2.1.2-2.1.3 3.2.3.7.3 3.1.3 1.3.2-.2.3-3.2.3 4 .3-.5.3-.6.2-.2.3 0 .3.4.3-3.7.3 3.5.2.7.3.8.3-.4.3.9.2-1 .3-.8.3-.1.3.4.3.9.2-.4.3-1 .3.2.3 1.4.3.8.2 0 .3.3.3-.9.3-4.3.3 1.7.2 2.4.3 1.4.3-.5.3-1.6.2-.3.3.8.3.7.3.3.3 0 .2-1.2.3-1.5.3.6.3 1.5.3.3.2-1 .3.1.3.8.3-.9.2-1.7.3-.9.3-.4.3-1.6.3-2.1.2-.7.3 1 .3 1.7.3 3.4.3 2.2.2-.5.3-.2.3 1.2.3.5.3.3.2-.3.3-1.4.3-1.7.3.1.2 1.6.3 1.6.3-.9.3-1 .3-5 .2 4.2.3.3.3 2.9.3-.9.3-1.4.2-.5.3-.1.3-.5.3-.3.3-.2.2.5.3.6.3.9.3-.2.2-.7.3 1 .3.9.3-.4.3.1.2-.9.3-2.1.3-.1.3 1.7.3.2.2-.1.3 2 .3.3.3-2.6.2.6.3.9.3-.7.3-2.1.3-1.1.2-1.5.3-3.3.3-1.3.3.4.3-.6.2.5.3 2.3.3 2.1.3.4.3.5.2.9.3.8.3 2 .3.2.2-1.2.3.7.3.6.3-.5.3-.2.2-.9.3-.1.3.5.3.2.3 1.1.2-.1.3-.8.3-.1.3.4.2-.9.3 1.6.3 1 .3-1.5.3-.9.2.6.3-.3.3.5.3.7.3.3.2 0 .3-1.9.3-5.2.3 4.5.3 1.5.2 2.8.3-2.6.3-1.1.3-.1.2.4.3-.5.3.5.3 1.2.3.5.2.5.3-.4.3-1.4.3-.3.3 1.2.2.9.3-.4.3-.7.3.2.3-.1.2-.4.3-.4.3-3.7.3 4.1.2 1.1.3-1.2.3.4.3-.1.3.4.2.8.3 1.7.3.4.3-1.1.3-.2.2.6.3-.3.3.2.3 1 .2.2.3-.1.3-.3.3-.5.3-.6.2-1 .3-1.2.3.3.3-.7.3.8.2.5.3.4.3.2.3 0 .3-.8.2-.9.3.8.3.8.3-.7.2-.8.3-.4.3.9.3.9.3-2.1.2-2.2.3 1.1.3.8.3 1.3.3.3.2-.8.3-1.8.3.3.3 1.2.3.5.2-.3.3-1.1.3.2.3 1.2.2-.2.3-.1.3-.3.3-.2.3.4.2.2.3.4.3.5.3-1.9.3 2.2.2.1.3 1 .3.8.3-.7.2-.9.3.1.3-.7.3-.5.3 1.8.2-2 .3 1.5.3-.6.3-.9.3-.8.2 1 .3.6.3-.9" stroke="#7fff00"/><path d="M33.2 124.1l.3-1.1.3 0 .3.9.3.7.2-.1.3.2.3-.6.3-1.2.3 0 .2-.3.3-.2.3 1 .3 1.1.2-.1.3-1.5.3-1 .3-.3.3-.2.2-.6.3-.8.3.7.3.4.3-.1.2.5.3 1 .3.9.3-.3.3-.4.2-.5.3-3.5.3 2.2.3-.5.2-.3.3-.5.3-5.2.3 1 .3-1.6.2-5.7.3-9.9.3-1.6.3 10.7.3 8.4.2 3.4.3.9.3-.1.3.5.2-.8.3.6.3-.5.3.7.3.4.2-.6.3-.6.3-.2.3-.5.3 1.9.2-.1.3.1.3-.3.3.9.3 1.5.2 0 .3-1.5.3-.3.3 1.7.2 1.3.3-.1.3-.9.3-1.3.3.2.2-.2.3-.9.3 1 .3.1.3-1.2.2.1.3 1.2.3-.1.3-.8.3-.5.2-.6.3-.1.3.6.3.5.2 0 .3-.8.3-.6.3.6.3 1 .2.4.3.5.3.3.3-.8.3-2.2.2-1.6.3.3.3-2.6.3 5.1.2-.9.3-2.9.3-2 .3.7.3.7.2-2 .3-1.3.3 2.3.3 2.5.3.4.2.2.3 1.5.3 1.5.3-.4.3-.5.2 1.3.3.9.3-1.2.3 0 .2 1.9.3-.3.3-1.7.3-1.7.3-.2.2-.4.3 1.4.3 2.2.3-1.6.3-.7.2-.9.3-.2.3 1 .3 0 .3-.1.2 1.4.3 1.3.3.3.3-.8.2-1.5.3.3.3.9.3-1.1.3-.9.2.4.3 1 .3 1.8.3.5.3-1.3.2-.9.3.8.3.9.3-1.2.2-1.6.3.1.3 1.2.3 0 .3-.9.2-.6.3-.6.3.8.3 1 .3-.6.2-.5.3.1.3-.6.3-.4.3 1.1.2 1.3.3.4.3-.4.3-1.6.2-.5.3.7.3-.1.3-4.6.3 3.2.2 1.2.3-1.1.3-1.4.3 1.4.3.7.2-.8.3 1 .3.5.3-.8.2.2.3-.1.3.2.3.7.3.1.2.9.3 2.1.3.4.3-2 .3-1.6.2.3.3.6.3.1.3.2.3-.8.2-1.1.3-.9.3.1.3 1.1.2 0 .3-1.6.3-.5.3.5.3.1.2.9.3.2.3-.6.3.6.3 1.2.2.8.3-.9.3-1.1.3 1 .3 1.3.2-3.1.3 3.4.3-.3.3.2.2-.2.3-.3.3 0 .3.3.3.2.2.1.3.5.3-.1.3-.5.3-.3.2-.1.3-.2.3-.7.3-.6.2.6.3 2.5.3 0 .3-2 .3.6.2.4.3-2.3.3-2.5.3-.9.3.9.2 2.3.3.7.3.1.3.4.3.1.2-.2.3-2.4.3 3.7.3 1.2.2-.6.3-1.2.3-.4.3-.6.3-.1.2-.3.3-.5.3 0 .3.3.3-.9.2-.4.3-.2.3-1.8.3-1 .3.9.2 1.3.3 1.2.3.9.3-.1.2.1.3.7.3 1.6.3-1.3.3-.4.2-.1.3-1.3.3.6.3 2.7.3 1 .2-1.1.3-.8.3.6.3-1.5.2 1.6.3-.2.3-1.8.3-.2.3.9.2-.1.3-1.2.3-.8.3.4.3.7.2.6.3 0 .3.2.3.1.3-1 .2.1.3.2.3-.6.3.1.2 1.1.3.1.3-.4.3-.2.3 0 .2.5.3-.3.3-.6.3-.1.3-.7.2-2.3.3-1.9.3.7.3 1.8.3 1.4.2 1.7.3-.8.3 1.7.3.1.2-1.5.3-1.8.3-.6.3 1.6.3.8.2.6.3 1 .3-.6.3-.5.3-.2.2-1 .3-.2.3-.6.3-3.3.2-2.5.3.7.3 1.2.3 1.5.3 1.4.2.9.3 1 .3.9.3-3.1.3 2.9.2 1.7.3-.7.3-.6.3.9.3-.4.2.2.3.9.3-.4.3-1.5.2-.6.3.1.3.3.3.3.3.4.2 1 .3 0 .3.5.3-1.7.3.7.2.7.3-.3.3-1.2.3-.4.2 1.1.3-.3.3.4.3.9.3.9.2-.8.3-.9.3-.5.3-.9.3.2.2.8.3.5.3.3.3.1.3-.2.2.1.3 0 .3-.3.3-.2.2-.8.3-.2.3-4 .3 1.6.3-1.3.2-.8.3-1 .3-.6.3-.1.3 1.3.2 2 .3-1.1.3 2.9.3 1.3.3.5.2-.6.3.9.3 2.4.3-.6.2-2.1.3-.3.3.3.3.4.3-.7.2.2.3.3.3-1.1.3-.7.3.8.2-.2.3-.7.3-.7.3-1.1.2-1.2.3-.1.3.7.3.9.3 1 .2 1.6.3 1.9.3.4.3-1.2.3-1.5.2-.3.3 1.5.3-.2.3-.1.3.5.2-.1.3-.5.3-.9.3.3.2.8.3 1 .3.8.3-.1.3 0 .2-.3.3-1.1.3-1.1.3-1.2.3-1.5.2-1.3.3-.8.3.3.3 2.1.3 2.2.2 0 .3-.2.3.2.3-1.5.2-.4.3 1.4.3.6.3.3.3-.8.2-.5.3-.3.3.1.3.9.3 1 .2 1.3.3.6.3-.1.3-.2.2-.3.3-.1.3-.1.3-.7.3-.3.2.2.3-.2.3.8.3 1.4.3-.8.2-2.3.3 1.2.3.7.3.8.3.2.2.4.3-1.7.3 1 .3.3.2-.6.3-.9.3 0 .3-.6.3-1 .2.8.3.7.3.8.3 1.4.3-.3.2-.8.3 0 .3-.3.3-.8.2-.9.3.1.3.6.3.4.3 0 .2-.7.3-.7.3-.3.3 1.8.3-2.3.2.5.3 1.7.3.4.3-.8.3-.4.2-.2.3.3.3.7.3.4.2 1.5.3-1.5.3-.2.3-.2.3-.8.2-.5.3 1.6.3.9.3-1.2.3-.5.2-1 .3-.9.3.8.3.5.3-.9.2.2.3.4.3-.5.3-.3.2 0 .3 1.9.3-2.1.3.5.3 2.4.2.7.3-1.7.3-.7.3.5.3 0 .2-.7.3.2.3 1 .3 0 .2 0 .3.7.3 0 .3-.3.3.6.2-.1.3-.5.3-1.4.3 1 .3-.6.2-.5.3-.3.3-2.9.3 1.9.3-.4.2 1.8.3.4.3 0 .3-1.6.2-1.4.3-.3.3.6.3 1 .3.8.2.2.3.8.3.4.3-.6.3.3.2 1 .3.3.3-.7.3-.1.3.6" stroke="#15ff00"/><path d="M29.9 129.8l.3-.4.3-.4.2.1.3.2.3-.9.3-.7.3.6.2 0 .3-.4.3 0 .3-.7.2-.4.3.2.3-3 .3 1.4.3.2.2.4.3-.9.3-1.3.3-.1.3 1 .2 1.2.3-1.1.3-1.9.3-.4.3.5.2.2.3-.4.3.5.3.8.2 0 .3.2.3.2.3-.7.3-1.5.2-.7.3-1.9.3-4.9.3-8.2.3-2.1.2 8.5.3 6.7.3 2.6.3 1.1.2 1.3.3.7.3.7.3.8.3-.8.2-.8.3.6.3.2.3-.2.3-.2.2-.5.3 0 .3.9.3-.3.3-2.3.2-2.9.3 2.6.3-.8.3.3.2 1.8.3 1.6.3-.1.3-1.1.3-.3.2 1.1.3.8.3.7.3-.2.3-2.6.2-1.3.3.9.3.6.3.4.2-.2.3-.8.3-.7.3.8.3 1.7.2.2.3-.2.3.9.3 1.2.3 1.1.2-.3.3-2 .3-1.7.3-1 .3.5.2 1.7.3 0 .3-1.5.3-.8.2-.2.3.3.3.9.3-.1.3-2.1.2-2.3.3.3.3.6.3.2.3 1 .2-2.4.3 3 .3-.3.3-1.2.3-.4.2.9.3 1.7.3.3.3-1.7.2 1.5.3-.1.3.6.3-.1.3-1.3.2-1.3.3.3.3.8.3.2.3 1.4.2.5.3-2.5.3-.9.3 1.3.2.2.3-1 .3-1.2.3 1.4.3 3.4.2.3.3-1.1.3-.1.3-.1.3.7.2.4.3-.1.3-.8.3.8.3 1.3.2-.2.3-.2.3 1.1.3.9.2-.9.3-1.8.3.6.3 1.9.3-1.2.2-3 .3-.5.3 1.5.3 1.1.3-.2.2-4.6.3 3.7.3.5.3-.5.3-.7.2 1 .3.6.3-.3.3-.8.2-.6.3.2.3-.4.3-3.7.3 4.3.2.9.3 1.2.3-3.7.3 1.9.3 1.6.2-1.7.3 0 .3.6.3.5.2.4.3-.1.3-1 .3.2.3 1.5.2.5.3-4 .3 2.2.3-.3.3 1.5.2.4.3-.5.3-.1.3-.4.3-.1.2-.5.3.4.3 1.4.3.2.2-.9.3-.5.3.3.3-.3.3-.4.2-.3.3-.9.3.3.3 1.1.3.9.2.1.3-.2.3-.5.3-1.4.3 0 .2 1 .3-.5.3-.7.3-.2.2 0 .3 0 .3.4.3.9.3.2.2-.8.3-.3.3.7.3.2.3-.2.2-.1.3-.9.3-1.2.3.4.2 1.7.3.3.3-1.3.3-.8.3.4.2.1.3-.4.3-.4.3.1.3-1.1.2 1.4.3-1.9.3-1.2.3-.3.3 1.2.2 1 .3.9.3 1.9.3-.2.2-1.1.3.5.3 0 .3-.1.3.7.2-.2.3-.8.3.2.3 0 .3-.7.2.1.3.2.3-.6.3-1.2.2-1.1.3.5.3 1.1.3-.5.3-.6.2.8.3.7.3 1.1.3 1.3.3 0 .2-.7.3.3.3-.4.3-1.2.3-.1.2-.6.3.4.3.9.3-.8.2-.8.3 0 .3-.2.3-.3.3.6.2.5.3.3.3.4.3-1.1.3.1.2 1.4.3-4.5.3 3.4.3 1.1.3.5.2-.1.3-1.3.3-1.3.3-.4.2 1.5.3.8.3-1.6.3.3.3 1.9.2.1.3-.4.3-.1.3.2.3.5.2-.8.3-3.2.3.2.3-.3.2-.3.3-1.1.3-.5.3 1.5.3 1.9.2.7.3.7.3.4.3-.9.3-.9.2.1.3-1.4.3 4.1.3 0 .3-1.2.2 0 .3-.8.3.8.3-.7.2-1.1.3-1.1.3-1.1.3 0 .3 1.8.2 2.4.3 1.7.3-.1.3-1 .3-.1.2.8.3-.4.3-1.2.3.7.3 1.3.2-.7.3-.9.3-1 .3.6.2.9.3-.5.3.3.3.8.3.2.2.2.3.7.3.5.3.1.3 0 .2-.3.3-.9.3-1.4.3 3 .2-.4.3-3.9.3 2.3.3 2.1.3-1.7.2-.4.3.2.3-.4.3-.2.3.8.2.1.3-.8.3-.4.3 0 .3-.1.2-.3.3-1.1.3-1.1.3.4.2.5.3 1.6.3.7.3-1.7.3-1.1.2-1.4.3-1.3.3-.6.3-.8.3.3.2 1.4.3.9.3.5.3.2.2 3 .3.7.3-.5.3.1.3.6.2-.6.3.3.3 1.4.3.4.3-.8.2-.7.3.1.3.3.3-.2.3-.2.2.3.3-.2.3-1 .3-1.4.2-.9.3.2.3.1.3-.2.3.7.2 1.2.3.8.3-.7.3-.6.3 1.2.2.3.3-.8.3-.3.3.1.3.9.2-.3.3-.6.3.1.3-1 .2-.5.3 1 .3.7.3.8.3.4.2 0 .3-.6.3-2 .3-1.6.3-.6.2.4.3-.1.3-1.2.3-.6.2-.4.3 2.1.3.8.3 0 .3-1.2.2 3.2.3.9.3.7.3-.1.3-.7.2.2.3-.6.3-.6.3 1 .3.3.2-1.2.3-1.7.3 0 .3 2 .2 1 .3-.5.3-.6.3-.1.3.3.2-2 .3 2.9.3-.3.3 0 .3-.3.2.1.3.3.3-.4.3.7.3 0 .2.2.3-.3.3-1.2.3-.2.2 1 .3-.2.3-.3.3 0 .3-.9.2-.1.3 2.5.3 1.3.3-.7.3-1.4.2-.5.3.3.3.6.3-.2.2.1.3 0 .3-.6.3 2.7.3-.1.2-1.1.3-1.1.3-3.9.3 3.6.3-.8.2-.1.3.7.3 1 .3 0 .3-.8.2.2.3-.1.3-2.8.3 2.9.2.3.3-.4.3-.9.3.5.3 2 .2 1.3.3-1 .3-2.3.3-1.2.3.6.2 1.5.3.2.3-1 .3 0 .2.9.3.6.3-.6.3-1 .3.3.2-.1.3-.2.3.9.3.2.3-3 .2.7.3-.9.3 1 .3.8.3-1.7.2 2.9.3.4.3-4.5.3 3.1.2.3.3.9.3.2.3-.3.3-1.1.2-1.6.3-1.8.3-2.3.3 5.3.3.3.2-.3.3 1 .3 1.3.3-.1.3-.6.2-.1.3.1.3-1 .3-1.3.2 1.7.3 1.1.3.6.3-.2.3-.5.2-.2.3-.2.3-.4.3.9.3 1 .2.3.3.2.3-1.1.3-.5.2.9.3-.3.3-.9" stroke="#00ff2a"/><path d="M26.6 132.1l.2 1.8.3.1.3-2.2.3.5.3 1.6.2-1.7.3-1.2.3.6.3.7.2-1.1.3-.9.3-.4.3-1 .3-.4.2 1.3.3 1.1.3 0 .3-.5.3-1 .2-.8.3.6.3-.8.3-1.2.2 1.4.3 1.2.3-.4.3-.3.3-.5.2-.4.3.6.3 0 .3-1 .3-1 .2-.6.3-.4.3-1.7.3-3.8.3-4.6.2-5.6.3-.2.3 8 .3 5.9.2 1.9.3 1 .3 2.3.3 1 .3.1.2.2.3.2.3-1 .3-.7.3 1.7.2.7.3-1.3.3-1.2.3 0 .3.9.2-.7.3-1.1.3.5.3 2.2.2-.4.3.5.3-1.2.3-1 .3.9.2.7.3-1.3.3-1.5.3.3.3.4.2 0 .3.3.3.5.3.7.2.6.3-.4.3-.7.3.6.3.3.2-1 .3.6.3.7.3-.5.3-.2.2-1.5.3-.5.3 2 .3.1.3-.4.2.7.3-.3.3 0 .3 0 .2-4.2.3 3 .3-.1.3-.6.3.5.2.9.3-1.9.3-2.3.3.5.3.1.2-.5.3 0 .3.4.3 1.3.2 1.3.3.6.3.3.3.1.3.5.2 1.2.3.8.3-.8.3-.8.3.1.2.2.3 1 .3.6.3-.3.3-.1.2.2.3.1.3-.6.3.3.2-1.6.3-.9.3-.3.3-.9.3-.3.2 1.4.3.7.3-1.6.3-.3.3.8.2-1.5.3 2.2.3.1.3-.2.3.2.2-.2.3-.7.3-.3.3.5.2.8.3 1.5.3 1.6.3.3.3-1.5.2-1.3.3.3.3-2.5.3 2.6.3.4.2-1.1.3-.7.3 1 .3.9.2-.1.3-1.1.3-.7.3.1.3-.4.2.5.3.7.3-1 .3-.6.3 1.4.2 1.5.3-.1.3-.9.3-1.2.3-1.4.2.7.3 1.2.3-1.4.3 1.6.2.7.3-.5.3-.2.3-.4.3-.6.2.2.3-.3.3-.5.3-.5.3 0 .2 1.9.3 0 .3-1.2.3 1 .3.2.2-1.3.3-.5.3.6.3 1.5.2.9.3-.2.3-.3.3-.5.3-.1.2-.1.3-.6.3.2.3.7.3 0 .2-1.6.3-1.8.3-.4.3 1.1.2 1.6.3-.4.3-1 .3.8.3 1.1.2.1.3-.4.3-.3.3-.4.3.3.2 1 .3-.4.3 1.1.3-.9.3-2.9.2-.6.3 1.3.3 0 .3.5.2.9.3.3.3 0 .3-.5.3.4.2.6.3-.9.3-.7.3.2.3.9.2 1.7.3-1.6.3-1.6.3-1.1.3.9.2 1.2.3-.8.3-.1.3 1.8.2.5.3-.5.3.2.3.5.3-.8.2-.3.3.3.3-.1.3-.3.3.4.2.7.3-.9.3-.5.3.8.2 1.3.3-4.3.3-2.5.3.9.3 2.3.2-.2.3-.5.3.8.3.6.3-.2.2-.8.3-.1.3 1.5.3.7.3-.3.2.2.3-.6.3-.4.3.8.2.8.3.8.3.9.3 0 .3-1.2.2-2.1.3 2.6.3 1.5.3-.7.3-1.4.2.2.3.4.3-.2.3.3.2.2.3-1.1.3-1.3.3.4.3.4.2-1 .3-1.1.3.1.3 1.4.3 1.2.2.2.3.2.3-.5.3-.1.3.4.2-.1.3-.5.3-1.1.3-2 .2-1.2.3-.2.3-.3.3.7.3 1.9.2 1.2.3-.3.3-.3.3-.2.3 0 .2 1.3.3.6.3-.9.3-.6.3.6.2 1.7.3.3.3-1.5.3-1.2.2-1.2.3-1.4.3-.7.3-.7.3-.5.2.2.3.3.3 2.4.3 1 .3 1 .2.4.3-.1.3.6.3.7.2-.1.3-1.1.3-.4.3 1 .3 1 .2-.2.3-1.6.3.3.3 2 .3.5.2 0 .3-.3.3-1.2.3-1 .3.8.2.4.3-1.4.3-.4.3.4.2-.1.3.1.3.8.3-1.8.3 3.7.2-.2.3-1.3.3-.6.3.3.3-.5.2-.2.3.7.3.1.3 0 .3.1.2-.6.3-.6.3.5.3 1.2.2-.2.3-1.2.3-.1.3.6.3.3.2-1.2.3.5.3-2.7.3-2.1.3-2.9.2-1.6.3-1 .3.9.3 1.8.2 1.8.3 2.2.3 1.3.3.4.3 1.6.2 1.6.3-.4.3-.7.3.8.3 1.3.2.2.3-.9.3-.8.3-.2.3 1.4.2.1.3-.8.3-1.3.3-1 .2.2.3-.2.3-1.7.3-1.1.3 2.4.2-.5.3 1 .3 1 .3.8.3 1.1.2-.1.3-.2.3.1.3-.4.2-3 .3 1.9.3 1.3.3-.4.3-2 .2-1.4.3.1.3 1.4.3-.5.3-1.8.2.2.3-1.2.3 3.7.3-1.5.3-.8.2.9.3.3.3.5.3-.1.2-2.6.3-1.6.3.2.3.1.3.9.2 2 .3 1.3.3.1.3.8.3 1.1.2.5.3.1.3-.9.3-.4.3.5.2-.2.3 0 .3 0 .3-.8.2-.3.3-.3.3-1.2.3.8.3-.9.2 3.1.3-.9.3-.8.3-1.5.3.3.2 1.8.3 2.7.3 1.5.3-2.2.2 1.1.3-1.3.3-.9.3-1.6.3-.9.2 2.1.3.7.3-.6.3-.2.3-1.1.2.2.3.6.3-.5.3-1.3.3 3 .2-.3.3.1.3-1.3.3-2 .2 1.1.3 2.4.3-.1.3-.4.3.8.2-.5.3 0 .3.7.3.3.3.7.2 0 .3 0 .3-2 .3 2.8.3 0 .2 0 .3-1 .3-1.2.3-.8.2-.4.3.7.3.3.3.3.3 1.2.2-.1.3-1.4.3-1 .3-.1.3.6.2.5.3.7.3-.1.3-.9.2-.8.3-1.4.3.5.3 1.1.3-.1.2-.4.3-.2.3-.6.3 1 .3-1.6.2-.8.3.4.3 2.6.3.3.3-1.5.2.2.3 1.8.3.6.3-.8.2.5.3 1.1.3-.3.3-1.2.3-.9.2-.4.3-.2.3.1.3-3.6.3 4.4.2 3.6.3-.7.3-1.6.3-2.9.2-.7.3 1.2.3-.9.3-1.6.3.2.2 1.2.3.4.3 0 .3.6.3.4.2 0 .3.2.3-.9.3-1.8.3.6.2 1.6.3-.6.3 1 .3 1.8.2-1.5.3-1.2.3 1.8.3 1.5.3-1.1" stroke="#00ffa9"/><path d="M23.2 136.6l.3 0 .3.7.2-1.2.3-.8.3.2.3.1.3 0 .2.1.3-.2.3-2.3.3-1.8.3 1 .2 1.1.3 0 .3-.4.3.7.3-.1.2-.6.3.4.3-.6.3-2.3.2-1.6.3 1.1.3 1.7.3.4.3 0 .2.4.3-3.1.3 3.4.3 1.4.3-1.2.2-.5.3-.5.3-.4.3-.7.3-.8.2-1.8.3-4.8.3-5.4.3-2.7.2 7.7.3 5.6.3 3.3.3-1.4.3-1.1.2.1.3 1.4.3.4.3-1.2.3.8.2.7.3-.2.3-.5.3 1 .2 1.4.3.8.3-.1.3-1.2.3-.3.2.3.3-.1.3-.4.3-.7.3 1.3.2 2.6.3-1.1.3-3.2.3-1.1.3 1.6.2 2 .3-1.3.3-1.2.3 1.3.2.3.3.6.3 1.3.3-.6.3-.4.2-2 .3 2.4.3-1.7.3 0 .3-1 .2-.7.3 1.8.3.6.3-.5.3.3.2-.1.3-.7.3-.3.3-.2.2-.8.3-.5.3 1 .3-1.1.3-1.2.2 3.9.3.4.3-2.4.3-2.4.3 2.1.2-2.1.3-1.7.3-.3.3 1.6.2 1.7.3 1.7.3.3.3-1.7.3-.2.2.8.3 0 .3 1.4.3 1.1.3-.4.2.2.3-2.4.3.2.3 2.1.3.7.2-4.5.3 2.8.3 1.2.3.4.2-1.4.3-.4.3 1.5.3.8.3-.1.2.2.3-.6.3-1 .3-.5.3.4.2.5.3 0 .3-.6.3-.3.3 1.2.2.7.3-1.6.3-1 .3.8.2.9.3.3.3.7.3 1.4.3.5.2-1.1.3 0 .3.3.3-.8.3-2.2.2 2.1.3-.3.3 1.5.3-4.6.2 2.9.3-.9.3-.5.3.4.3-.1.2-1.2.3-.8.3 0 .3.1.3.3.2.4.3.4.3.8.3.9.3-.9.2-.9.3 1.3.3.1.3-1.1.2-.2.3 0 .3.2.3-.1.3-.3.2 1.3.3 1.4.3-1.6.3 2.1.3-.3.2-.4.3-1.6.3-2.1.3-.2.2 2.2.3 1.6.3-.2.3-.4.3 0 .2.5.3-3.4.3 3.2.3.2.3-2.9.2.1.3-.1.3-1.2.3-.6.3 2.5.2 2.4.3 0 .3-.3.3.2.2 0 .3-.4.3-1.3.3-.6.3 1.1.2.8.3.1.3-.3.3-.8.3-.5.2 1.5.3.8.3.8.3.3.3-.1.2-.7.3-.2.3 1.2.3.8.2-.8.3-1.2.3-.2.3-.6.3-2.3.2 3.6.3-.1.3-1.5.3-.9.3.1.2.9.3.5.3-.7.3-.8.2.3.3-.5.3-1.3.3-.2.3 1.1.2 1 .3.1.3 0 .3-.1.3-.6.2-.7.3.2.3.5.3-.9.3-1.4.2 1.1.3 1.1.3-.4.3 1.3.2.1.3-1.6.3-.3.3-.9.3-1.9.2-.7.3.3.3.4.3 1.4.3 1.5.2.1.3 0 .3 1.1.3.2.3-.2.2.8.3-.8.3-.8.3 1.1.2 1.4.3.7.3-.6.3-1.8.3-1 .2-2.7.3 2.5.3.8.3-1 .3-.9.2 1 .3.2.3-.1.3 1 .2.1.3-.9.3.1.3.6.3.5.2-.4.3-1.8.3-.8.3 2.1.3 1.8.2-.8.3-.4.3 1.7.3.8.3-3.3.2.3.3-.3.3.3.3.3.2-1.8.3.2.3 1.7.3-2.1.3-3.3.2.8.3 2.5.3 1.2.3.2.3-.1.2.1.3.9.3 1.2.3-.2.2-1.4.3-1.1.3.3.3 1.4.3 1.4.2-.3.3-1 .3.2.3-.2.3-3.4.2-1.4.3-1.2.3-.5.3 1.7.3 3.4.2 2.1.3-.7.3-.6.3-.1.2-.2.3.6.3.3.3-.4.3-.3.2-.5.3-.6.3-1 .3.1.3.5.2-.1.3.4.3-.1.3-.5.3-1.8.2 3.2.3 1.2.3-2.2.3-3.1.2.8.3 2.9.3 0 .3-.5.3-.7.2.8.3-.1.3-.6.3.6.3 1.7.2.8.3-1.5.3-.2.3 1.4.2 1.2.3-.1.3-2.6.3-.6.3-1.4.2 2.5.3-.1.3 1 .3-1 .3-1.7.2 1.1.3.8.3-1.2.3-.9.3.2.2-.1.3 0 .3-2.4.3-.1.2.1.3.2.3-1.2.3 2.1.3 2.9.2.8.3-.1.3-.5.3-.9.3.3.2.3.3-.4.3-1 .3.3.3 1.1.2.1.3.3.3.3.3-.8.2-1.2.3.5.3 1.4.3-3.1.3-.9.2-1.4.3-.4.3 1.1.3.7.3.5.2-.2.3.7.3 2.1.3.8.2-.7.3-.4.3 1 .3.4.3-.4.2.1.3-.1.3-.4.3.5.3.6.2-.4.3-.4.3 0 .3.8.3.3.2 1.1.3-1.7.3-2.4.3-2.1.2 0 .3-.2.3-1.1.3.2.3 1.2.2.5.3.6.3.7.3.7.3 1.1.2 1.1.3-.1.3-.5.3.4.2-.1.3-.1.3.5.3-.6.3-.8.2.4.3 1.1.3.4.3.1.3.6.2.3.3-.1.3.1.3.1.3-.1.2.3.3.5.3.6.3 1.5.2-4 .3-1.6.3-.1.3.6.3 1.4.2 1.2.3-.6.3-1.8.3.4.3 2.3.2.9.3 1.6.3-2.5.3-.8.3 0 .2-.3.3-.6.3-.8.3-.9.2-.3.3.9.3 1.3.3.8.3 1.5.2-.7.3-2.4.3-.7.3.8.3.6.2-.2.3-.8.3-.6.3-.1.2.7.3 1.5.3 0 .3-1.1.3-.1.2.2.3-.1.3-.4.3.1.3.9.2.6.3.1.3-2.1.3.7.3 1.3.2.6.3-.4.3-.4.3.5.2.6.3-.4.3-.5.3-1 .3-1.5.2 1.5.3 1.8.3-1.2.3-.6.3.8.2.9.3-2.3.3-.1.3-.6.3-.3.2.8.3 1.5.3.5.3-1.1.2-3.4.3 2.3.3.5.3.7.3-.9.2 0 .3.1.3.1.3.9.3-.8.2-1.7.3.7.3 1.6.3-2.7.2-.9.3.5.3 1 .3.4.3-.7.2-.8.3.4.3.7.3.6.3 1.3.2.3.3-.7.3.2.3.9.3-.5.2-1.9.3 2.4.3 1.1.3.6.2-.8.3-1.6.3.5.3 1.4.3-.2.2-.2.3-.1" stroke="#00e9ff"/><path d="M19.9 141l.2.2.3-.7.3-.4.3-.7.3-1 .2-2.1.3 2.2.3-.6.3 1.3.3-.1.2-1.9.3.2.3.2.3-1.6.3 2 .2 0 .3.3.3 1 .3-.3.2-1.1.3.2.3-.1.3-1.8.3.8.2 1.9.3-.7.3-.6.3-.4.3-.6.2-.7.3-.3.3.5.3.6.2.2.3-1.1.3-2.4.3-3.2.3-6.8.2-10.4.3-1.6.3 8.5.3 6.8.3 5.8.2 3.3.3.6.3.2.3 0 .3-.1.2.1.3-2.7.3 3.3.3.7.2.1.3.1.3-.8.3-.6.3.2.2.6.3.9.3-.3.3.4.3 1 .2-.6.3-.9.3-.2.3-3.9.3 2.3.2-2.1.3-.6.3 1.5.3 1.4.2.2.3-1.7.3 2.5.3-.1.3-4.3.2 3.2.3.9.3.5.3 1.1.3-1.2.2-1.1.3 1.1.3.7.3-.8.2.1.3.4.3-.3.3-.8.3-4.1.2 4.1.3-.3.3-1 .3.1.3.9.2.2.3-.9.3-.5.3.1.3-.5.2-1.3.3-.8.3.1.3.2.2-.9.3-.9.3.7.3.8.3.7.2.1.3-.2.3 1.7.3 1.6.3-.5.2-.3.3.3.3-1 .3-.7.3 1.6.2 1.9.3 1.1.3.2.3-.4.2-.2.3-.1.3-.5.3.2.3-3.5.2 3.5.3-.2.3 1 .3-.4.3-1.6.2-.2.3 0 .3-.2.3.1.2-.5.3-1.1.3-.5.3.7.3 1.3.2 1.2.3-.3.3 1.4.3.2.3-.7.2-.7.3.5.3.2.3-1.5.3-.4.2.9.3-.2.3 0 .3 2.2.2.6.3-1.7.3-1 .3-.2.3 0 .2-.1.3-.5.3.3.3 1.3.3.4.2-.7.3-2.2.3-.8.3 1.5.3.2.2-.8.3-.5.3.8.3 1.8.2.7.3 0 .3.3.3.2.3-3.3.2.9.3-.2.3-1 .3-.1.3 1.3.2.2.3-.4.3.8.3-.3.2-2.2.3-.6.3.2.3-.1.3 1 .2 1 .3.5.3-.4.3-1.7.3.7.2 2.4.3-.5.3-2 .3-.7.3 0 .2.9.3 1.9.3-.3.3-1.4.2 1.5.3 1.5.3-.7.3-.3.3.4.2.5.3.3.3-2.3.3 1 .3-1.6.2-1.9.3.1.3 1.8.3.4.2-.9.3-.3.3-.6.3-.3.3 1 .2 1 .3-.4.3-.7.3.6.3.9.2.9.3.5.3-1 .3-.4.3.1.2-1.4.3-.4.3 1.9.3.3.2-1 .3 1 .3-.3.3-1.2.3.8.2-.4.3-.4.3.6.3-.3.3.1.2 1.6.3.5.3-3.2.3.1.3-.2.2-.3.3.1.3.2.3.2.2.3.3.8.3.6.3.1.3-.9.2-1.4.3-.5.3.2.3.3.3.1.2 2.4.3-2.1.3-1.4.3-.3.2 1.6.3 1.8.3.5.3-.9.3-1 .2 1 .3.6.3-1.1.3 0 .3 1.4.2 1 .3-.4.3 1.2.3-1.7.3.6.2-1.6.3-1.2.3 0 .3.8.2.9.3.8.3.5.3-.6.3.2.2-.3.3-1.6.3-.2.3 2 .3.8.2-1.7.3-.3.3 1.2.3 1.6.3.2.2-1.7.3-.9.3 1.6.3 1 .2-1.3.3-1.5.3-1.7.3-.9.3.6.2.1.3-.7.3-.1.3.7.3.8.2.6.3.2.3.3.3.2.2 0 .3 0 .3-4 .3 4.3.3.7.2-2.1.3 2 .3-5.4.3 2.9.3-.8.2-1.5.3-1.7.3-1.3.3-.5.3 1.7.2 1.9.3.6.3.7.3 1 .2-.4.3.3.3 1.6.3.9.3.2.2-.3.3.1.3 1.4.3.2.3-3.2.2-.7.3 2.6.3-2.7.3 3.2.2.5.3-.2.3-1.4.3-2 .3.9.2.8.3-.3.3 1 .3.1.3-.6.2-.1.3.3.3.4.3.3.3.2.2.2.3-3.3.3.3.3-.1.2.7.3.6.3-.3.3-1.6.3-.6.2 1.3.3 1.1.3.3.3-1.1.3-1 .2 1 .3.4.3-1.6.3-1.2.3.6.2 0 .3-1.3.3-.6.3-.1.2-1 .3-.9.3 1.4.3 1.8.3 1.2.2 1.8.3 1.4.3.2.3-.6.3.3.2 1.4.3.3.3-1.9.3-.8.2 1.2.3-.4.3-1 .3.7.3.2.2-.4.3.2.3-.7.3-1.6.3-.5.2 1.5.3.5.3-1.6.3-.6.3-.4.2-1.4.3 1 .3 1.7.3.9.2 1.6.3-.1.3-.7.3.2.3-.6.2-1 .3 5.1.3-1.7.3-2.5.3.4.2 1 .3-2.9.3 1.7.3-.5.3.6.2.5.3-.8.3-1.2.3-.3.2-2.9.3 1.9.3-.1.3-.8.3-.5.2-.4.3-.4.3.3.3.8.3 1.7.2 1.8.3 1.4.3.9.3-1.3.2-1.8.3.6.3 1.5.3.6.3.2.2-.4.3-.7.3.2.3 1.2.3-.4.2-2.7.3-.5.3 2.6.3 1.8.3-.4.2-2 .3-1.6.3-.1.3.5.2 1 .3.9.3.2.3-.5.3-.7.2-.3.3.6.3.3.3-.8.3.3.2.4.3-.8.3-.1.3.9.2.7.3.4.3-.9.3-1 .3.5.2.1.3.3.3.5.3-.3.3-2.4.2 1.8.3-1 .3-.9.3.8.3.5.2-.9.3-.5.3 1 .3 1.3.2-.5.3-1.3.3-.2.3-.5.3.1.2 1.2.3-.2.3-.5.3 1.4.3.8.2-.9.3-.4.3.2.3-.6.3-1 .2.2.3 1 .3 0 .3-.4.2-.5.3.1.3 2.1.3 1.8.3-1.2.2-1.3.3.5.3-.6.3-.8.3.6.2 1 .3.8.3.3.3-.7.2-1.7.3-1.6.3 1.7.3 2 .3.3.2-1.5.3-1.1.3-.1.3 2 .3 1.6.2.3.3 1.4.3.6.3-1.6.3-1.3.2-.3.3 1.3.3-2.8.3.2.2-.5.3 1.9.3.1.3-.4.3.1.2-.6.3 0 .3.6.3-1.2.3-.9.2 2 .3 1.9.3-.5.3-2.5.3-1.3.2 1.4.3.7.3-1.1.3-1 .2-.6.3-.2.3.4.3-.1.3-.5.2 1.7.3 3.3.3-3.3.3-.9" stroke="#0094ff"/><path d="M16.5 144.9l.3-.6.3-1.2.3-.7.2.4.3-.2.3-.5.3.2.3.3.2-.6.3-.3.3 1.1.3 0 .3-4.3.2 3.9.3-3.9.3 3.6.3.4.2 1 .3-.8.3-1.2.3-.4.3.2.2-.7.3-1.9.3-.5.3 1.4.3.5.2-.5.3 1 .3.4.3-2.2.2-1.7.3 0 .3 2.6.3-.1.3-1.1.2-3.6.3-5.1.3-8 .3-1.7.3 8 .2 6.4.3 3.7.3 2.2.3-1.7.3 3.2.2.3.3 1.7.3-.8.3-3 .2-.8.3 1.1.3 1.3.3-1 .3-.1.2.3.3-.9.3.5.3 3 .3.5.2-1.3.3.5.3-.4.3-2.5.3-1.1.2 2 .3.8.3-2.1.3.1.2 1.4.3-.9.3 0 .3.4.3-1.7.2-1.2.3.8.3 1.8.3 1.6.3.1.2-1.2.3-1 .3.2.3 1.2.2.2.3-1.8.3-1.7.3.2.3 1.7.2 1.2.3.5.3-.3.3-.4.3-.4.2-.1.3.6.3-.2.3-1 .3-2.1.2-.4.3 2.4.3.5.3-1.6.2-2.3.3-.1.3 1.5.3 1.4.3-1.2.2-1.8.3 1 .3 2.6.3 2.1.3 1.3.2-.2.3-1 .3 0 .3 1.1.2-.1.3-2.1.3-1.2.3 1.4.3.2.2-1.2.3-.5.3.1.3.4.3-.3.2.3.3 1 .3-.8.3-.6.3.5.2-.3.3-1.3.3-.4.3 1 .2 0 .3.2.3.5.3-.7.3 1.4.2 1.9.3-2.7.3-.4.3-1.5.3 4.7.2-.7.3-.1.3.3.3-.2.3-1.3.2-.3.3-.1.3 2.8.3-.1.2-.9.3-1.2.3 1.2.3.6.3-1.9.2 1.1.3-1.1.3-.7.3.9.3-.3.2-1 .3.8.3 1.2.3.1.2-.3.3.6.3-1.1.3-.7.3.8.2-1.1.3-.2.3.9.3-.7.3-.8.2.6.3.8.3-.1.3-.8.3-.1.2.7.3.2.3-.3.3-.2.2-.2.3.6.3 1.7.3 1.3.3-.1.2-1.6.3-1.6.3.1.3 1.4.3.5.2-.6.3-.3.3-.2.3-.6.3-1.1.2 0 .3.9.3-.1.3-.4.2.9.3-2.4.3 1.6.3 1 .3.6.2-.4.3-.2.3.1.3.4.3.6.2-1.6.3 2.5.3-4.3.3 2.2.2 1 .3-1 .3-.8.3 1.8.3 1.6.2-1.1.3-1.7.3-1.4.3-1.4.3.8.2-2.1.3 3.3.3-.5.3 1.3.3 0 .2-.3.3.4.3-.3.3-.1.2.1.3-1.4.3.3.3 1.4.3-.4.2-.1.3-1 .3-1 .3 2.1.3.9.2-1.2.3.4.3.8.3-.5.2-1 .3-.2.3.7.3-.6.3-.7.2 1.1.3 0 .3-1.5.3-.5.3.2.2-.5.3-3.4.3 3.3.3-1.4.3-.6.2 1.4.3 1.6.3.5.3.3.2 1.2.3.1.3-.9.3 1.2.3.6.2-2.4.3-.7.3 1.2.3.4.3-.5.2 0 .3 1.4.3.6.3-2.9.3 2.7.2-.2.3.8.3 1.6.3-.9.2-2.7.3-.9.3.5.3.5.3 1.1.2-.6.3-.6.3.5.3.3.3.1.2 1.2.3.9.3.5.3-2.8.2 2.5.3-.1.3-3.9.3 2.6.3 1.3.2-.2.3-2.7.3-.5.3.9.3-.6.2-.8.3-.8.3-.4.3 1.1.3-1 .2-2.1.3-.3.3 3 .3.9.2-.1.3 1.6.3.2.3-1.2.3-.9.2-.9.3.5.3.5.3-.4.3-.1.2-.1.3-.8.3-1.1.3-.6.3-1.5.2-1.3.3 1.4.3 2.5.3.8.2-.3.3-2.4.3 4.7.3 1.4.3-.1.2-.2.3-.6.3-.1.3 1.4.3-.1.2 1 .3.5.3.5.3.5.2-.9.3-.9.3.7.3.1.3-.9.2-.4.3-.3.3-.4.3.4.3 1.3.2.8.3-.7.3-.3.3-2.6.3 1 .2.1.3-.2.3-.5.3-.8.2-.1.3 1.8.3.1.3-.9.3.5.2-.3.3-.7.3.4.3 0 .3-.2.2.3.3-.2.3.1.3.3.2-1.4.3-1.7.3-.8.3-.3.3-.3.2-1 .3-.2.3.1.3-1.2.3-1.4.2.9.3 2.8.3 1.6.3 1.4.3-.7.2 1.7.3.9.3-.3.3-.2.2-1 .3-.8.3.5.3.8.3.5.2.7.3.1.3-1.1.3-1.2.3-.1.2-.3.3-.4.3.2.3.7.3-1.2.2-1.5.3-.9.3 1.9.3.5.2.5.3 1.9.3 1 .3-.8.3.3.2.4.3.6.3 1 .3-1.7.3-1.7.2 1.2.3 1.3.3.4.3-.6.2-1.5.3-.5.3.1.3-.6.3.3.2 1.8.3-.4.3-1.9.3 0 .3-.5.2-2.2.3-1.7.3-.3.3.6.3.8.2 1.7.3 1.2.3-1.5.3.6.2 1.4.3-.1.3-.9.3 1 .3 1.4.2-.1.3-.2.3.1.3-.9.3-1 .2-.2.3.5.3.6.3.2.3.8.2 1.9.3.4.3-1.4.3-.4.2.7.3.7.3 1.1.3-.5.3-2.8.2-1.2.3.9.3.8.3 1.2.3 1.5.2 0 .3-1.2.3-1.2.3-.7.2-.8.3-.5.3-.1.3 2.1.3-1 .2.2.3.7.3.6.3-.1.3.1.2-1 .3-1.3.3-.4.3-.1.3.8.2.6.3.2.3 1.2.3 1 .2-.8.3-1.3.3-.5.3.7.3.3.2-.2.3 0 .3-.4.3 0 .3.5.2 1 .3-.3.3-2 .3-.4.2 1.3.3 0 .3-.7.3.3.3 1 .2.6.3.1.3 1.3.3 1.6.3-.2.2-.8.3-1.2.3-1.3.3-.5.3.6.2 1.3.3-.1.3-.2.3 1.3.2.5.3-.4.3.1.3-.6.3-1.3.2-.4.3 0 .3-.2.3.2.3.1.2-.2.3.3.3.3.3-.1.3-.5.2-1 .3.1.3 1.1.3.3.2.6.3.7.3.9.3.7.3-2.2.2-1.5.3 1.4.3-2.4.3-.8.3.9.2.8.3.9.3.2.3-.3.2.5.3 1.4.3-.3.3-1.9.3-.9.2-.1.3-.4.3.1.3-1.9.3 3.1.2-1.1.3-1.4.3.3.3 1.6.3.7.2-.8" stroke="#0054ff"/><path d="M13.2 150.9l.3-1.7.2-3 .3 2.3.3.4.3 2 .3-.8.2-.4.3-1.5.3.6.3-1.1.2.3.3-4.1.3 2.8.3-1.3.3-1.9.2-.9.3 1.4.3 3 .3.5.3-3 .2-.5.3 2.3.3.2.3-.8.3.8.2-2.5.3 2.9.3-.8.3-.4.2.6.3-.6.3.4.3-2.8.3.8.2-1.8.3-1.1.3-.7.3-2.3.3-6 .2 0 .3 6.7.3 3.3.3.1.3-1.1.2 1.3.3 1.2.3 1.8.3-.1.2-.2.3-.7.3-1.4.3.8.3 2.1.2-1.2.3-1.6.3.7.3.5.3 2.5.2.1.3-.3.3-2.7.3.4.2.7.3-.1.3.4.3.7.3.4.2.4.3-.4.3-.6.3-.2.3.3.2.2.3.4.3.9.3.3.3.7.2 0 .3-1.8.3-.2.3-1.3.2-.2.3-4.1.3 4.8.3 1.9.3-1.4.2-2.1.3-.3.3-.7.3.7.3 2 .2.3.3-.3.3.2.3-.5.3-.8.2-.2.3 0 .3.2.3-1.7.2-2.4.3.8.3 1.1.3-.3.3 1.4.2-1.9.3 3.4.3-2 .3.3.3 1.6.2-.3.3-.8.3-1.3.3-.1.2 1.3.3.5.3.5.3.6.3 0 .2-.3.3.3.3 1 .3.2.3-.6.2.1.3-.3.3-.7.3-.3.3.3.2 0 .3-.6.3.8.3 1.1.2-.1.3-.8.3-.9.3-.7.3-.2.2-.2.3-.4.3-.1.3-.2.3.5.2.2.3.7.3 1.4.3.6.2-2 .3-1.4.3 1.3.3 1.2.3.5.2 1.2.3-1.4.3-2.7.3-1.5.3 3.5.2 1.5.3 1.6.3-1.5.3-2.6.3-.2.2.1.3-.2.3 1 .3 1.3.2-.6.3.1.3.4.3-.5.3.4.2-.9.3-1.3.3 1.5.3 2.1.3.2.2-1.7.3-1.7.3.7.3.9.3-1.3.2-.8.3 1.9.3 1.3.3-.6.2-1 .3-.7.3.5.3-1.2.3.1.2.1.3 1.1.3 0 .3-.1.3 2.7.2-1.6.3-.3.3-1.3.3-.1.2-.6.3.8.3.6.3.4.3.8.2.2.3-1.7.3-1.7.3.6.3.5.2-.4.3.3.3 1.5.3.5.3-1.1.2-1.5.3-.1.3 1.8.3 1.6.2-.8.3-.1.3-2.2.3.8.3.8.2.6.3 0 .3 0 .3 1.6.3-.4.2-.3.3.3.3 1.4.3-1 .3-3.2.2-2.5.3.3.3 1.7.3 1.3.2-.7.3-1.5.3.1.3.5.3.6.2.3.3-.8.3-.3.3-.4.3-.4.2.8.3.2.3 0 .3.4.2-.2.3.4.3 1.3.3-1.8.3-1.7.2 2.2.3 2.3.3-1.8.3-2.3.3.9.2 1.3.3-1.1.3.1.3 1.2.3-2.4.2-2 .3-.2.3.1.3 1 .2.8.3.8.3.7.3-.4.3-.2.2 1.2.3 1.1.3-.1.3-1.3.3-.7.2 1.2.3-.3.3-.7.3 1.1.2.1.3-1 .3-.1.3.1.3-.8.2 0 .3 1 .3.8.3.4.3.7.2-1.3.3-2.1.3.1.3 1.4.3.7.2-.5.3-.2.3 0 .3-.5.2.2.3 1 .3.5.3-.3.3-2.1.2 2.5.3-1 .3.3.3 1.3.3-.6.2-1.5.3 1 .3.9.3-1.9.3-2.9.2-1.5.3.3.3 1.3.3 4 .2-.7.3-1.4.3.1.3 1.7.3 1.3.2.1.3-.3.3-.7.3-.7.3.4.2 1.2.3-.8.3 0 .3-2.7.2-.6.3-1.1.3-.5.3-.8.3-.1.2 1.6.3 2.1.3 1.3.3.2.3 1.1.2.8.3-.5.3.3.3-.1.3-1 .2-.3.3.5.3.8.3 0 .2-.5.3.4.3-.1.3-.7.3-.4.2-.4.3-.3.3-.6.3-.2.3.5.2 1.7.3 1.6.3-1.2.3-1.8.3 2 .2-.2.3-.3.3 1 .3.8.2.7.3-.9.3-1.7.3-.5.3 1 .2.6.3-.9.3.6.3 1.3.3-1.6.2-1.8.3-2.2.3 4.4.3-.9.2-2 .3-.9.3-.1.3-.5.3-.4.2.2.3-.6.3-4.6.3-.1.3.8.2.5.3-.1.3-.5.3-.7.3 1.7.2 3.9.3 1.8.3 1.3.3.5.2.1.3-.4.3-1.7.3-.7.3 1.4.2-1 .3.2.3-.3.3 1.1.3.5.2-.7.3-.5.3-.6.3-.5.2-.6.3-1.1.3.3.3 0 .3-.7.2 1.7.3 2.4.3-.3.3.5.3.4.2-1.7.3-.8.3.4.3.5.3.8.2.1.3-.5.3-.5.3-.2.2.3.3 1.1.3.7.3-.8.3-.3.2.5.3 1.5.3-2.8.3-.1.3.4.2-.2.3-.8.3-2.5.3-1 .3 1.7.2 2 .3 2 .3 1.4.3.2.2-.3.3-1 .3-.7.3.6.3-.1.2-.5.3-.3.3.1.3 1.7.3 1.3.2.5.3.5.3.7.3-.8.2-1.4.3.4.3-.9.3-1 .3-.3.2-.7.3.8.3 1.6.3.4.3-1 .2-.9.3.8.3.9.3-2 .3-1.3.2 3.1.3 1.7.3-2.1.3-1.8.2-3.1.3 3.1.3 1.2.3.3.3-.6.2-.5.3 1.1.3.5.3-.1.3.3.2-.1.3-.4.3-.9.3.2.3.5.2-1.7.3-1.9.3 1.1.3 2.6.2-.2.3-1.6.3-1.4.3-.1.3 2.5.2.7.3-.4.3 1.2.3-.7.3-6.4.2 2.4.3.8.3-.3.3-.3.2 1.9.3.8.3-1.3.3.3.3.3.2-.7.3-2.7.3 3.7.3-.1.3-1.1.2-.2.3 2.6.3 2.1.3-.8.3-.4.2-1.1.3-.9.3.9.3-.8.2-.9.3.7.3-.1.3-.3.3 0 .2-.2.3-.7.3-.4.3.6.3 1.1.2-.7.3-1.7.3.3.3 1.1.2-.1.3.2.3 1.3.3.7.3-.8.2-1.1.3.7.3 1 .3-.7.3-.4.2 1 .3.6.3-.1.3.1.3-.8.2-1.2.3.6.3 1.4.3-.8.2-1.7.3-.5.3.9.3 1.2.3-1 .2 1.6.3-1.4.3-3.5.3 3.2.3 0 .2-1.1.3.1.3-.2.3-.2.3.5.2-.2.3 1.8.3-.4" stroke="#0015ff"/><path d="M9.8 153.8l.3-1.5.3-.3.3 2.5.3.6.2-2.3.3-1.7.3-.1.3.4.2-.4.3-.5.3 1.2.3.1.3-1 .2.1.3-.7.3-1 .3-.2.3.1.2.1.3-1 .3-1.1.3-.5.3-.1.2-3 .3 3.7.3.2.3.1.2.9.3.9.3 0 .3-.4.3-1.5.2-.6.3 1.3.3 0 .3-2.2.3-3.2.2-2.6.3-5.2.3-2.5.3 5.9.2 5 .3 3.1.3.1.3-.3.3-.1.2 1.5.3 1 .3-1 .3-.6.3-1.2.2-1.4.3 1.1.3 2.7.3.9.3-1.3.2-1.1.3 1.4.3 1.1.3-.8.2 0 .3.4.3.8.3.4.3-.5.2.5.3.4.3-.7.3-.2.3.5.2-1 .3-.1.3 1.4.3 0 .3-2.4.2 1.5.3-2 .3.9.3 1.2.2 1 .3.7.3-.1.3-1.2.3-.4.2 1.1.3.8.3-1.1.3-1.9.3.1.2 1.4.3.2.3-1.2.3-1 .2 1.1.3 1.1.3-.2.3-.8.3-.9.2-.5.3-.7.3-.7.3-1 .3-1.1.2-1.3.3-.6.3 1.6.3 2.9.3 2.1.2 1.2.3-.6.3-1.5.3-.9.2-.2.3-.4.3 0 .3.9.3.6.2 1.1.3.7.3-1.9.3-.4.3 1.8.2.8.3-1 .3-4.6.3 2.6.3-.5.2.4.3 1 .3.7.3.1.2-1.4.3-1 .3 1 .3.8.3.2.2.3.3.6.3.5.3-1 .3-.7.2.6.3 1.3.3-1.2.3-1.5.2-.8.3.9.3 1.9.3.8.3-.5.2-1.4.3-1.5.3-.1.3.4.3.5.2 1.9.3-.3.3.1.3-.8.3.6.2.1.3.4.3.3.3-.8.2-.1.3 1.3.3.2.3-.9.3 1.2.2 3.1.3-.7.3-.7.3-1.3.3.4.2 1.4.3-.5.3-1.8.3-.2.2-.5.3-1.6.3.8.3-.3.3-.1.2.4.3.6.3-.3.3-.9.3.9.2.8.3-2 .3-1.1.3 1 .3 1.1.2.4.3.2.3-.3.3-1.7.2-.3.3 1.7.3 0 .3.1.3-.9.2-.5.3.3.3 1.9.3.8.3 0 .2-.5.3-.8.3.6.3-1.1.3.5.2-2.4.3 1.8.3 1.4.3-3.1.2 2.6.3 0 .3-1.2.3-.5.3.1.2.8.3.9.3 0 .3-1.2.3-.7.2 1.3.3 1.2.3-.4.3-.7.2.1.3-1.8.3-.9.3 2.9.3 1.1.2-1.7.3-.8.3-1.1.3 1.8.3 1.2.2-1.1.3-2.1.3-1.3.3.8.3-.1.2 1.9.3-1.3.3.6.3-.4.2.5.3-.4.3 1.3.3.8.3-.8.2.1.3 0 .3-1.3.3 1.1.3 2.4.2-.5.3-1 .3 0 .3-1.2.3-1.8.2.1.3.2.3-.6.3-.6.2.6.3 1.8.3.4.3-1.3.3 1.1.2 2.9.3-.3.3-2.7.3-1 .3-.2.2-1.1.3-1.1.3.4.3 2.2.2.9.3-.3.3 1.3.3 1.1.3.1.2-1.6.3-1.3.3 1.1.3 1.2.3-.8.2-1.4.3 0 .3 1.5.3 2.2.3.4.2-2.3.3-1.9.3 1.4.3 1.2.2-1.2.3-.9.3 2.1.3-.3.3-1.4.2.4.3 0 .3-1 .3-.9.3-1.6.2-.1.3 1.4.3.6.3-.6.2-1.4.3-1.5.3-1.2.3.2.3 2 .2 1.5.3-.3.3.7.3 2 .3-.2.2.2.3-2.1.3-1.3.3 1.5.3.3.2 1 .3 1.9.3-.2.3-1.7.2-1.6.3-1.4.3-2.7.3-1.9.3 0 .2-.5.3-3.3.3 4.7.3 1.9.3 1.6.2 0 .3-.1.3.7.3.2.3.1.2.6.3.4.3 0 .3.4.2 1.6.3 1 .3-.7.3-1.1.3-.1.2.4.3-.4.3-1.6.3-1 .3 1 .2 2.5.3.6.3-1.7.3-1.2.2.6.3 2.5.3.8.3.5.3-2.3.2.3.3.2.3-.9.3-.2.3-1.6.2 4.6.3-2.6.3-2.4.3 1.4.3 2.6.2.4.3-1.9.3-1.3.3 1.5.2 1.1.3-.8.3-.5.3-.5.3-1.6.2.3.3 1.3.3-1 .3-1.9.3-1.2.2-1 .3-1.2.3.2.3 1.5.3 1.2.2.4.3.1.3 1 .3.7.2.7.3-.2.3-.4.3 1.1.3 1.1.2.1.3-.5.3-1.2.3-.7.3.3.2-.1.3-.2.3-.2.3.2.2-1.2.3.2.3.5.3 0 .3-.9.2-.7.3-1.9.3 5 .3 1 .3-1.1.2-.8.3.7.3 1 .3.1.3.2.2.1.3-.9.3-.1.3.4.2.6.3.7.3-.5.3-.2.3 1.2.2.1.3-1 .3-.8.3-.9.3-.9.2-.6.3-.3.3 0 .3-1.3.2 1.1.3-.9.3-1.2.3.3.3 2.2.2 1.3.3-.5.3.1.3 1.5.3 2 .2-.4.3-1.3.3.1.3-3.1.3 2.2.2.7.3.9.3-.4.3-1.3.2-.4.3.9.3-.4.3-2 .3.5.2-.4.3 3.4.3-.3.3-.3.3-.5.2-.3.3.3.3.5.3.2.3-.1.2 0 .3.8.3.8.3 0 .2-.7.3-1.5.3.7.3 1.6.3-2 .2-1.4.3 1.1.3.5.3-1.2.3-1.1.2 1.2.3.5.3-.4.3.2.2.3.3-.7.3-2.4.3-.5.3 3.6.2 2.3.3-.4.3 2 .3-2 .3.9.2-.9.3-2.7.3 1 .3 2.3.3.3.2.2.3-1.1.3-1.3.3.9.2 1 .3.2.3.2.3-1.1.3-.7.2.6.3-.4.3-1.1.3.1.3-.5.2-1.7.3-1.3.3-.8.3.8.3 1.4.2-.4.3-2.7.3 3.5.3 1.3.2.8.3-.6.3-1.3.3-.7.3-1.2.2.5.3 2.6.3.9.3-1.2.3-1.1.2.2.3 1.2.3.6.3-.8.2-.5.3.4.3.7.3 1.2.3-.5.2-2.4.3.3.3 2.4.3.6.3-1 .2-.8.3.2.3.5.3.1.3-.3.2-.9.3-.1.3-.6.3-.1.2 1.6.3-.3.3.7.3 1.4.3-.3.2-2 .3-.1.3-1.6.3 1.7.3.2.2-.7.3-.6.3.2.3.5.3.2.2-.4.3-.1.3.3.3.9.2 1.2" stroke="#0000ff"/></g>
<g stroke="#828282" stroke-width="1.0" fill="none">
<polyline points="8.5,157.9 8.5,82.2 62.0,14.6 229.3,14.6"/>
<polyline points="8.5,157.9 175.8,157.9 229.3,90.3 229.3,14.6"/>
</g>
<path d="M19.7 157.9v1.6 M36.4 157.9v1.1 M53.1 157.9v1.6 M69.8 157.9v1.1 M86.6 157.9v1.6 M103.3 157.9v1.1 M120.0 157.9v1.6 M136.8 157.9v1.1 M153.5 157.9v1.6 M170.2 157.9v1.1" stroke="#777" stroke-width="0.8"/>
<text x="19.7" y="170.5" text-anchor="middle" font-family="'Liberation Serif', serif" font-size="10.5" fill="#222" stroke="#222" stroke-width="0.25">600</text>
<text x="53.1" y="170.5" text-anchor="middle" font-family="'Liberation Serif', serif" font-size="10.5" fill="#222" stroke="#222" stroke-width="0.25">900</text>
<text x="86.6" y="170.5" text-anchor="middle" font-family="'Liberation Serif', serif" font-size="10.5" fill="#222" stroke="#222" stroke-width="0.25">1200</text>
<text x="120.0" y="170.5" text-anchor="middle" font-family="'Liberation Serif', serif" font-size="10.5" fill="#222" stroke="#222" stroke-width="0.25">1500</text>
<text x="153.5" y="170.5" text-anchor="middle" font-family="'Liberation Serif', serif" font-size="10.5" fill="#222" stroke="#222" stroke-width="0.25">1800</text>
<text x="45.5" y="182.5" font-family="'Liberation Serif', serif" font-size="11" fill="#222" stroke="#222" stroke-width="0.25" textLength="87" lengthAdjust="spacingAndGlyphs">Raman shift (cm<tspan dy="-3.5" font-size="7">−1</tspan><tspan dy="3.5">)</tspan></text>
<text x="232.1" y="86.9" font-family="'Liberation Serif', serif" font-size="10.5" fill="#222" stroke="#222" stroke-width="0.25">0</text>
<text x="232.1" y="73.0" font-family="'Liberation Serif', serif" font-size="10.5" fill="#222" stroke="#222" stroke-width="0.25">200</text>
<text x="232.1" y="59.1" font-family="'Liberation Serif', serif" font-size="10.5" fill="#222" stroke="#222" stroke-width="0.25">400</text>
<text x="232.1" y="45.2" font-family="'Liberation Serif', serif" font-size="10.5" fill="#222" stroke="#222" stroke-width="0.25">600</text>
<text x="232.1" y="31.3" font-family="'Liberation Serif', serif" font-size="10.5" fill="#222" stroke="#222" stroke-width="0.25">800</text>
<path d="M229.3 76.4h1.2 M229.3 62.5h1.2 M229.3 48.6h1.2 M229.3 34.7h1.2 M229.3 20.8h1.2 M229.3 83.3h2 M229.3 69.4h2 M229.3 55.5h2 M229.3 41.6h2 M229.3 27.7h2" stroke="#777" stroke-width="0.8"/>
<text x="200.8" y="12.3" font-family="'Liberation Serif', serif" font-size="11.2" fill="#222" stroke="#222" stroke-width="0.25" textLength="66.2" lengthAdjust="spacingAndGlyphs">Intensity (a.u.)</text>
<text transform="matrix(0.82,0,-0.57,0.95,237.6,95.8)" text-anchor="middle" font-family="'Liberation Serif', serif" font-size="10.5" fill="#222" stroke="#222" stroke-width="0.4">0</text>
<text transform="matrix(0.82,0,-0.57,0.95,225.2,112.2)" text-anchor="middle" font-family="'Liberation Serif', serif" font-size="10.5" fill="#222" stroke="#222" stroke-width="0.4">4</text>
<text transform="matrix(0.82,0,-0.57,0.95,212.8,128.6)" text-anchor="middle" font-family="'Liberation Serif', serif" font-size="10.5" fill="#222" stroke="#222" stroke-width="0.4">8</text>
<text transform="matrix(0.82,0,-0.57,0.95,200.5,144.9)" text-anchor="middle" font-family="'Liberation Serif', serif" font-size="10.5" fill="#222" stroke="#222" stroke-width="0.4">12</text>
<text transform="matrix(0.82,0,-0.57,0.95,188.1,161.3)" text-anchor="middle" font-family="'Liberation Serif', serif" font-size="10.5" fill="#222" stroke="#222" stroke-width="0.4">16</text>
<clipPath id="clpa"><rect x="150" y="101.5" width="200" height="100"/></clipPath>
<g clip-path="url(#clpa)"><text transform="matrix(0.620,-0.784,0.900,0.000,217.0,150.5)" font-family="'Liberation Serif', serif" font-size="11.0" fill="#222" stroke="#222" stroke-width="0.25">Different spot</text></g>
<rect x="136.5" y="14.6" width="92.8" height="64.9" fill="#fff" stroke="#c8c8c8" stroke-width="0.9"/>
<rect x="164.10" y="51.95" width="1.05" height="13.25" fill="#efb27c"/><rect x="165.20" y="58.86" width="1.05" height="6.34" fill="#8ccf8c"/><rect x="166.30" y="60.01" width="1.05" height="5.19" fill="#b2abe2"/><rect x="168.09" y="48.66" width="1.05" height="16.54" fill="#efb27c"/><rect x="169.19" y="57.71" width="1.05" height="7.49" fill="#8ccf8c"/><rect x="170.29" y="59.44" width="1.05" height="5.76" fill="#b2abe2"/><rect x="172.08" y="44.34" width="1.05" height="20.86" fill="#efb27c"/><rect x="173.18" y="58.29" width="1.05" height="6.92" fill="#8ccf8c"/><rect x="174.28" y="59.44" width="1.05" height="5.76" fill="#b2abe2"/><rect x="176.07" y="46.76" width="1.05" height="18.44" fill="#efb27c"/><rect x="177.17" y="57.13" width="1.05" height="8.07" fill="#8ccf8c"/><rect x="178.27" y="58.86" width="1.05" height="6.34" fill="#b2abe2"/><rect x="180.06" y="52.70" width="1.05" height="12.50" fill="#efb27c"/><rect x="181.16" y="58.29" width="1.05" height="6.92" fill="#8ccf8c"/><rect x="182.26" y="60.01" width="1.05" height="5.19" fill="#b2abe2"/><rect x="184.05" y="54.89" width="1.05" height="10.31" fill="#efb27c"/><rect x="185.15" y="58.86" width="1.05" height="6.34" fill="#8ccf8c"/><rect x="186.25" y="60.59" width="1.05" height="4.61" fill="#b2abe2"/><rect x="188.04" y="43.48" width="1.05" height="21.72" fill="#efb27c"/><rect x="189.14" y="55.98" width="1.05" height="9.22" fill="#8ccf8c"/><rect x="190.24" y="58.29" width="1.05" height="6.92" fill="#b2abe2"/><rect x="192.03" y="36.21" width="1.05" height="28.99" fill="#efb27c"/><rect x="193.13" y="52.52" width="1.05" height="12.68" fill="#8ccf8c"/><rect x="194.23" y="55.98" width="1.05" height="9.22" fill="#b2abe2"/><rect x="196.02" y="43.07" width="1.05" height="22.13" fill="#efb27c"/><rect x="197.12" y="56.56" width="1.05" height="8.64" fill="#8ccf8c"/><rect x="198.22" y="58.29" width="1.05" height="6.92" fill="#b2abe2"/><rect x="200.01" y="45.15" width="1.05" height="20.05" fill="#efb27c"/><rect x="201.11" y="57.71" width="1.05" height="7.49" fill="#8ccf8c"/><rect x="202.21" y="58.86" width="1.05" height="6.34" fill="#b2abe2"/><rect x="204.00" y="47.74" width="1.05" height="17.46" fill="#efb27c"/><rect x="205.10" y="55.40" width="1.05" height="9.80" fill="#8ccf8c"/><rect x="206.20" y="58.29" width="1.05" height="6.92" fill="#b2abe2"/><rect x="207.99" y="48.66" width="1.05" height="16.54" fill="#efb27c"/><rect x="209.09" y="56.56" width="1.05" height="8.64" fill="#8ccf8c"/><rect x="210.19" y="58.86" width="1.05" height="6.34" fill="#b2abe2"/><rect x="211.98" y="42.55" width="1.05" height="22.65" fill="#efb27c"/><rect x="213.08" y="57.13" width="1.05" height="8.07" fill="#8ccf8c"/><rect x="214.18" y="59.44" width="1.05" height="5.76" fill="#b2abe2"/><rect x="215.97" y="46.47" width="1.05" height="18.73" fill="#efb27c"/><rect x="217.07" y="58.29" width="1.05" height="6.92" fill="#8ccf8c"/><rect x="218.17" y="60.01" width="1.05" height="5.19" fill="#b2abe2"/><rect x="219.96" y="52.98" width="1.05" height="12.22" fill="#efb27c"/><rect x="221.06" y="58.86" width="1.05" height="6.34" fill="#8ccf8c"/><rect x="222.16" y="60.59" width="1.05" height="4.61" fill="#b2abe2"/><rect x="223.95" y="50.68" width="1.05" height="14.52" fill="#efb27c"/><rect x="225.05" y="56.56" width="1.05" height="8.64" fill="#8ccf8c"/><rect x="226.15" y="59.44" width="1.05" height="5.76" fill="#b2abe2"/>
<rect x="163.0" y="14.6" width="65.3" height="50.6" fill="none" stroke="#8a8a8a" stroke-width="0.7"/>
<text x="162.1" y="67.1" text-anchor="end" font-family="'Liberation Serif', serif" font-size="5.8" fill="#444">0</text>
<text x="162.1" y="55.6" text-anchor="end" font-family="'Liberation Serif', serif" font-size="5.8" fill="#444">200</text>
<text x="162.1" y="44.1" text-anchor="end" font-family="'Liberation Serif', serif" font-size="5.8" fill="#444">400</text>
<text x="162.1" y="32.5" text-anchor="end" font-family="'Liberation Serif', serif" font-size="5.8" fill="#444">600</text>
<text x="162.1" y="21.0" text-anchor="end" font-family="'Liberation Serif', serif" font-size="5.8" fill="#444">800</text>
<text x="177.7" y="70.8" text-anchor="middle" font-family="'Liberation Serif', serif" font-size="6" fill="#444">4</text>
<text x="193.6" y="70.8" text-anchor="middle" font-family="'Liberation Serif', serif" font-size="6" fill="#444">8</text>
<text x="209.6" y="70.8" text-anchor="middle" font-family="'Liberation Serif', serif" font-size="6" fill="#444">12</text>
<text x="225.5" y="70.8" text-anchor="middle" font-family="'Liberation Serif', serif" font-size="6" fill="#444">16</text>
<text x="161.0" y="77.8" font-family="'Liberation Serif', serif" font-size="8.6" fill="#222" stroke="#222" stroke-width="0.12" textLength="67.3" lengthAdjust="spacingAndGlyphs">Random spot number</text>
<text transform="translate(150.0,63.8) rotate(-90)" font-family="'Liberation Serif', serif" font-size="7.6" fill="#222" stroke="#222" stroke-width="0.12" textLength="45.8" lengthAdjust="spacingAndGlyphs">Intensity (a.u.)</text>
<rect x="166.9" y="17.7" width="6.2" height="3.3" fill="#f3bd8c"/>
<text x="174.6" y="21.1" font-family="'Liberation Serif', serif" font-size="5.9" fill="#333" stroke="#333" stroke-width="0.1" textLength="50.0" lengthAdjust="spacingAndGlyphs">610cm<tspan dy="-1.6" font-size="3.6">−1</tspan><tspan dy="1.6">RSD=26.24%</tspan></text>
<rect x="166.9" y="23.3" width="6.2" height="3.3" fill="#96d896"/>
<text x="174.6" y="26.8" font-family="'Liberation Serif', serif" font-size="5.9" fill="#333" stroke="#333" stroke-width="0.1" textLength="50.0" lengthAdjust="spacingAndGlyphs">770cm<tspan dy="-1.6" font-size="3.6">−1</tspan><tspan dy="1.6">RSD=34.69%</tspan></text>
<rect x="166.9" y="29.0" width="6.2" height="3.3" fill="#b9b6e6"/>
<text x="174.6" y="32.4" font-family="'Liberation Serif', serif" font-size="5.9" fill="#333" stroke="#333" stroke-width="0.1" textLength="51.5" lengthAdjust="spacingAndGlyphs">1650cm<tspan dy="-1.6" font-size="3.6">−1</tspan><tspan dy="1.6">RSD=38.03%</tspan></text>
<text x="70.7" y="35.3" font-family="'Liberation Serif', serif" font-size="10.8" fill="#ee2a2a" textLength="64.1" lengthAdjust="spacingAndGlyphs">Ag@SiO<tspan dy="2" font-size="7">2</tspan><tspan dy="-2">−100</tspan></text>
</g>
<g transform="translate(274.0,0.0)">
<text x="15.2" y="26.3" font-family="'Liberation Sans', sans-serif" font-size="11.0" font-weight="400" fill="#333" stroke="#333" stroke-width="0.15">(b)</text>
<line x1="62.0" y1="14.6" x2="62.0" y2="90.3" stroke="#cdcdcd" stroke-width="1"/>
<g fill="none" stroke-width="0.70" opacity="0.50"><path d="M60.0 94.5V92.4M225.9 94.5V86.7" stroke="#ff0000"/><path d="M56.7 98.8V96.4M222.6 98.8V91.4" stroke="#ff1500"/><path d="M53.3 103.0V100.6M219.2 103.0V97.4" stroke="#ff7700"/><path d="M50.0 107.2V104.7M215.9 107.2V101.4" stroke="#ff9400"/><path d="M46.6 111.4V107.9M212.5 111.4V103.9" stroke="#ffdc00"/><path d="M43.3 115.7V113.5M209.2 115.7V109.0" stroke="#ffff00"/><path d="M39.9 119.9V118.6M205.8 119.9V115.5" stroke="#bfff00"/><path d="M36.6 124.1V121.8M202.5 124.1V117.3" stroke="#7fff00"/><path d="M33.2 128.3V126.4M199.2 128.3V121.2" stroke="#15ff00"/><path d="M29.9 132.6V131.5M195.8 132.6V125.6" stroke="#00ff2a"/><path d="M26.6 136.8V132.7M192.5 136.8V130.1" stroke="#00ffa9"/><path d="M23.2 141.0V138.3M189.1 141.0V132.5" stroke="#00e9ff"/><path d="M19.9 145.2V141.3M185.8 145.2V136.3" stroke="#0094ff"/><path d="M16.5 149.5V146.3M182.4 149.5V140.7" stroke="#0054ff"/><path d="M13.2 153.7V149.4M179.1 153.7V147.9" stroke="#0015ff"/><path d="M9.8 157.9V154.9M175.7 157.9V148.3" stroke="#0000ff"/></g><g fill="none" stroke-width="0.98" stroke-linejoin="round" opacity="1.00"><path d="M60 92.4l.3-.3.3.2.2-.6.3-2 .3-.8.3-.3.2.3.3 0 .3 0 .3-.3.3.3.2.5.3-1.9.3 1.7.3-.1.3.2.2.3.3.2.3-.1.3-.6.3-.2.2-.1.3.1.3.1.3-1.1.2-.3.3 1.5.3.8.3-.9.3-1.3.2-.6.3-.4.3-.1.3.2.3-.3.2-.8.3-1.5.3-2.7.3-5.6.2-1.9.3 5.2.3 1.1.3 6.2.3.2.2-.2.3 0 .3.5.3.6.3-4.2.2 3.6.3 1 .3-.4.3-.6.3.1.2-.5.3-.3.3 1 .3 1.1.2 0 .3-.4.3.1.3.2.3-.3.2-.1.3.8.3.9.3-.5.3-1.5.2-.8.3-.1.3.6.3.5.2-.3.3.4.3.8.3-.6.3-3.6.2 2.7.3.6.3.6.3.8.3-1 .2.4.3.5.3.2.3 0 .3-.6.2-1.7.3 1.5.3-.2.3.2.2.3.3 0 .3-.3.3-.4.3 0 .2 0 .3-.2.3-.2.3-.4.3-1.3.2-1.7.3-1.3.3-1.1.3-.2.3 3 .2.2.3.6.3 1.1.3.8.2.5.3.8.3.5.3-.4.3.2.2.2.3 1.1.3-1.9.3.9.3.5.2-.2.3-.4.3-.6.3 0 .2.7.3.1.3 0 .3.1.3-.5.2-.9.3-.9.3-.1.3.5.3 0 .2-.6.3-3 .3 2.8.3.7.3.6.2.2.3-.4.3 0 .3.3.2.3.3-.2.3-.4.3-.5.3 0 .2.5.3.4.3.1.3.1.3 0 .2-.3.3-.2.3-.4.3-.4.3.1.2.8.3.8.3 0 .3.1.2.2.3-.7.3-.1.3 0 .3-.5.2.1.3.3.3 1 .3-.3.3.1.2.3.3-.5.3.6.3.9.2 0 .3-.5.3-.9.3-.1.3 1 .2 0 .3-.6.3-.7.3-.8.3-3 .2 3.5.3.5.3.4.3-.8.3-.7.2.6.3.2.3-1 .3-.6.2.9.3.5.3-.2.3-1.8.3 2.2.2-.5.3 0 .3 0 .3-.4.3.6.2 1.4.3.3.3-1.4.3-1.1.2.2.3.3.3-.2.3-.4.3-.2.2.5.3.1.3-.9.3 0 .3.6.2-.8.3.3.3 1.5.3.5.3-.9.2-.3.3 1 .3.2.3-.8.2.1.3-.5.3-1.7.3-2.2.3 3.2.2.8.3.6.3.6.3-.3.3-.1.2.4.3-.4.3-1.2.3-.6.3-.5.2-.5.3.4.3.6.3.3.2-.4.3-.2.3.4.3.6.3-2.4.2 3.5.3.1.3-.5.3-4.2.3 2.7.2 1 .3-.1.3-.3.3.8.2-1.5.3-.2.3-.2.3-.6.3-.5.2-.4.3-.3.3-.1.3.6.3.7.2.2.3 0 .3.8.3.9.3.3.2.1.3-.4.3.5.3.8.2-.7.3.3.3 1.3.3-.3.3-.4.2.3.3-.3.3-1 .3-1 .3-1.1.2-.5.3-1.5.3 3.5.3-1.2.3.7.2 1 .3.7.3-.7.3-1.2.2-.4.3.4.3.9.3.2.3-.1.2-.6.3 1 .3.5.3-1.2.3.1.2 0 .3.3.3-.3.3-.1.2.4.3.4.3-.2.3-1.1.3-2.3.2-1 .3 1.3.3.6.3.4.3.9.2.4.3 0 .3-.3.3.2.3 0 .2.4.3 0 .3.6.3-.9.2-1.1.3-.3.3-.2.3-.5.3-5.1.2 1.3.3-2 .3-1 .3 2.6.3 1.9.2 1.4.3.3.3.5.3-2.3.2 2.9.3-.1.3.5.3.9.3-.1.2 0 .3.3.3-.8.3-.6.3.4.2.5.3.5.3.4.3 0 .3 0 .2.1.3.1.3-.3.3.2.2.7.3.3.3 1.1.3.4.3-1.1.2-3.6.3 3 .3 2.4.3-2.2.3-.9.2-.2.3.3.3.6.3.5.3.2.2-.4.3 0 .3.5.3 0 .2-1.3.3-.8.3.3.3.3.3-.2.2-.7.3-.7.3.9.3-.9.3.6.2-.5.3-.7.3-1.8.3-2.4.2-.2.3 1.4.3.9.3 1.7.3 1.7.2.4.3.5.3 1.1.3.4.3-.8.2.1.3.4.3-.8.3-.6.3.4.2.1.3.1.3.2.3-.6.2-.5.3.4.3-.5.3-.6.3-.1.2-.4.3-.6.3-.8.3-.6.3.6.2.2.3-.3.3 1.1.3.9.3.3.2-.1.3-.1.3.2.3-.2.2.4.3 1 .3.1.3-.3.3-.3.2 1.1.3 1.6.3.6.3-.2.3-.5.2-3.3.3 3.2.3-.6.3-1.2.2-.7.3.4.3-.3.3-.7.3-.1.2.1.3-.1.3-.2.3.7.3.5.2-.2.3.2.3.4.3.2.3.1.2-.4.3-.1.3.7.3-.2.2-.9.3-.9.3-.3.3.8.3.5.2.1.3-.1.3-.1.3.6.3 0 .2 1.2.3-1.5.3-.3.3-.2.2.2.3.7.3.8.3.5.3 0 .2-.5.3-.5.3.5.3.3.3-.4.2-3 .3 3.4.3-.4.3.2.3-1.2.2 2.1.3-.9.3.1.3-.7.2.6.3-.5.3.1.3-.2.3 0 .2.4.3 0 .3.3.3.4.3-.2.2-.6.3.2.3.6.3-.4.3-1.2.2 0 .3.9.3.8.3-3.8.2 2.9.3-.2.3.1.3-1.1.3-.2.2.8.3.1.3-.5.3-.3.3.5.2.1.3-.9.3-.3.3-.1.2.3.3.9.3.2.3-.2.3.2.2.7.3.4.3 0 .3.2.3.4.2.1.3-.5.3-.2.3-.2.3-.6.2-.8.3-.5.3 1 .3 1 .2-.1.3-.2.3.1.3.5.3.4.2.1.3.5.3.5.3-.5.3-1 .2-.4.3.5.3.1.3-.5.3-.6.2-.4.3.3.3-.5.3 0 .2 0 .3.9.3.7.3.5.3-.1.2-.2.3-.2.3-.1.3-.2.3-3.2.2 2.5.3.1.3 1.2.3-.9.2-1.4.3-.5.3.5.3.4.3.7.2.1.3-1.2.3-1" stroke="#ff0000"/><path d="M56.7 96.4l.2-.7.3-.6.3-.1.3 1.8.2-3.5.3 1.9.3-1.5.3-.5.3-1.2.2.2.3 1.1.3-.2.3-.2.3.8.2-.3.3-1.1.3-.3.3 0 .2.1.3.6.3.4.3-2.5.3 3.5.2-.1.3-.1.3.7.3.6.3-.7.2-.4.3-.1.3-.4.3-.6.3-1.1.2-.9.3-.5.3-.7.3 0 .2-2.9.3-3.7.3-1.4.3 3 .3 2.9.2 2 .3.4.3.1.3.3.3.2.2.7.3 0 .3 0 .3.4.3.2.2.7.3.9.3-.3.3-2.3.2 1 .3.6.3.9.3 0 .3-.3.2-.2.3-.4.3.3.3.3.3-1.4.2.7.3.3.3-.3.3-.3.2.5.3.1.3-.9.3-2 .3 2.2.2 0 .3.2.3.5.3.3.3 0 .2.3.3.4.3.1.3-.6.3-.7.2.1.3.3.3.2.3.4.2-.3.3-.9.3-1.1.3 2.1.3-.9.2-.3.3.6.3.6.3-.7.3-1.4.2 0 .3-.3.3-1.1.3.1.2 0 .3.3.3-.9.3 1 .3-2.1.2 4.5.3.4.3-1.5.3 1.6.3.4.2-.2.3-1 .3-.4.3.8.3 1.4.2-1 .3-.2.3-.9.3-1.3.2.1.3.2.3.5.3 1.2.3 0 .2.4.3-1.4.3 0 .3-.6.3-1.7.2.3.3 1.7.3 1.5.3-2.4.3.7.2 0 .3-.6.3.4.3.5.2-3.8.3 3 .3-.1.3 1.4.3.9.2-1.3.3-1 .3.3.3.9.3.3.2.2.3-1.7.3 2.1.3.3.2.4.3.1.3-.8.3-.8.3.3.2.1.3-.5.3-.1.3.4.3-.4.2-1.3.3 0 .3 1.5.3.6.3-.9.2-.4.3.5.3.1.3-3.2.2 4.4.3-.1.3-1.1.3-.7.3.9.2 1 .3-.7.3-1.2.3-.1.3.2.2.4.3 1.4.3-.1.3-1.4.3.4.2 1.3.3 1.1.3.5.3-.5.2.7.3.2.3-1.7.3-1 .3.2.2.2.3-.2.3.2.3-.2.3-.7.2.2.3.8.3 0 .3-1 .2-.7.3.3.3.7.3-2 .3 2.3.2-.2.3-.3.3.3.3-.8.3-1.3.2-3.5.3 3.9.3.9.3.3.3-.4.2-.1.3 0 .3.3.3.2.2-.3.3-.1.3.2.3.1.3-.2.2-.4.3-.3.3.3.3.3.3-.3.2-.4.3-.1.3-2.2.3 2.8.2-.4.3-.1.3.3.3-.1.3-1.2.2-.7.3.6.3.2.3-.1.3-.4.2.6.3 1.1.3.5.3.2.3-.6.2-.9.3-.2.3.5.3.3.2 0 .3 0 .3-.7.3-.8.3-.2.2-.3.3-.2.3-1 .3-1.8.3-.8.2.8.3 1.5.3 1.2.3-2.4.3 4.8.2.6.3.1.3-.8.3-.6.2.1.3.6.3.9.3.2.3-.8.2-.7.3.5.3 1 .3.1.3.3.2-.3.3-.1.3 0 .3.2.2-.1.3-1 .3-.5.3-.1.3.5.2.5.3 0 .3.1.3.4.3-.5.2-1.1.3.3.3.8.3.2.3-.2.2-.3.3.1.3-.3.3-.2.2.3.3 0 .3-.3.3-.3.3-.9.2-2.3.3-1.8.3.1.3.6.3 1.3.2 1.1.3.1.3.2.3.6.3.7.2.8.3.5.3-.5.3 0 .2.9.3-.8.3-1.3.3-.3.3.1.2-.4.3-1.3.3-1.2.3-.9.3-.6.2 1.8.3 2.1.3.3.3-2.4.2 3.8.3.5.3.7.3 1 .3-1.6.2-.8.3-.2.3.8.3.2.3 1.3.2-.1.3.2.3-.3.3-.4.3.6.2 1.1.3.2.3-.9.3-.7.2.1.3.7.3-.2.3-.6.3.2.2-.1.3.2.3.6.3.8.3-2.5.2-.6.3.1.3.4.3.1.2-.2.3.5.3.6.3-.8.3-.4.2-.1.3.1.3-.3.3.1.3.6.2 0 .3-.7.3-.3.3-.3.3-.7.2-1 .3-.6.3-.4.3-.5.2-1.3.3-2.3.3-1.5.3.9.3 2.3.2 2.5.3 1.2.3.1.3.4.3.8.2.8.3-.1.3-.9.3 0 .3.5.2.8.3-.9.3-.8.3-.7.2-.5.3.8.3 1.3.3.4.3 0 .2-.4.3-.6.3-.2.3.1.3-.1.2-.4.3.1.3.1.3.3.2.5.3.4.3-.2.3.3.3.3.2.5.3.4.3.3.3-.1.3-.4.2-.3.3.2.3.2.3.5.3.4.2-.8.3-.9.3-.3.3.1.2.6.3.2.3-.1.3-.5.3-1.3.2-.8.3.6.3.1.3.2.3.7.2.5.3.5.3.5.3-.1.3-.4.2-.4.3-.2.3.3.3.5.2-.3.3-.3.3.1.3.3.3.1.2-.3.3-.1.3.4.3.4.3.1.2-.6.3-.1.3.5.3.6.2.2.3-.5.3 0 .3.5.3-.5.2-.8.3-.1.3.2.3 0 .3-.3.2-.1.3-.6.3.2.3 1.5.3.2.2-.4.3-1 .3.4.3-.3.2-.5.3.1.3.5.3.1.3-.3.2-.3.3-.1.3.2.3.2.3.3.2.8.3.8.3-.4.3-.1.3.9.2.3.3-.7.3-.1.3-1.6.2 1.2.3-.6.3.4.3.1.3.2.2.3.3-.3.3.3.3.5.3-.7.2-.1.3.3.3-.3.3.3.2.7.3-.1.3-.7.3-.7.3 0 .2.4.3 0 .3-.2.3.2.3-.3.2-.8.3 0 .3.6.3 0 .3-.2.2-.1.3-.5.3.1.3 1.2.2.8.3-.7.3-1.1.3-.3.3 0 .2.4.3.6.3-.3.3-.6.3 0 .2.3.3.8.3-.3.3-1.5.2-.3.3.2.3-.7.3-.9.3.4.2 2.5.3-.2.3-.3.3 1.5.3.3.2-1.4.3-1.3.3-.4.3.2.3.7.2-.3.3-.2.3.6.3.4.2 3 .3-.9.3-.6.3-.2.3-.4.2-1.1.3.4.3.7.3-.8.3-.5" stroke="#ff1500"/><path d="M53.3 100.6l.3-.1.3-.3.2-.7.3.1.3.5.3.4.3.4.2-.5.3-1.2.3-.4.3-.3.3-.5.2.3.3 0 .3-.4.3-.5.2-1.7.3 1.8.3-.1.3-.3.3-.1.2-.7.3-1.1.3-.4.3.5.3.2.2-.5.3-.5.3-.3.3-.5.3-.2.2.9.3 1.1.3.3.3-.3.2-3.6.3 1.2.3-2.4.3-4.2.3-.4.2 4.3.3 2.7.3 1.6.3.7.3 0 .2.5.3-.3.3.2.3.4.2.3.3-.5.3-1 .3-.6.3-.4.2.4.3.7.3.7.3-.5.3-.3.2.4.3.6.3-.2.3-1.4.3-.8.2 1.8.3 1.7.3-.5.3-.8.2.5.3.2.3-.4.3.4.3.3.2-.1.3.1.3-.8.3-.4.3.6.2-.2.3.2.3.4.3.2.3-.2.2-.3.3.3.3-.4.3-.9.2.5.3 1.9.3-.1.3.2.3-.7.2-1.5.3-.5.3 1.2.3 1.1.3-.7.2-1 .3-.2.3-.6.3-.9.2 1.1.3-2.2.3.1.3.6.3.6.2.5.3.6.3.6.3-.5.3-.5.2.9.3 1.3.3.1.3-.9.3-.2.2.2.3.4.3.5.3.3.2-.1.3-.3.3-.3.3.1.3-.2.2-.8.3.2.3-.2.3-.3.3 1 .2-.4.3-.5.3.8.3.4.2-.6.3-.8.3.1.3.5.3.5.2.1.3-.2.3.3.3-.2.3-.1.2.5.3.2.3.2.3-.1.3-.4.2.7.3.5.3-.2.3-.5.2-.7.3-.6.3-.3.3.3.3.5.2.3.3.7.3 0 .3-.7.3-.1.2-.7.3-.4.3-.2.3-.2.3.3.2.1.3-.8.3-.1.3 1 .2.3.3-.2.3-.3.3 1.3.3-.1.2-.1.3-1 .3 0 .3.6.3-.3.2-.7.3.6.3 1.3.3-.7.2-1.2.3.6.3.4.3-.4.3-.2.2 0 .3.3.3.3.3-.4.3-.3.2.5.3.5.3.2.3.2.3.3.2-.1.3.3.3.4.3-.3.2 0 .3.2.3-.4.3-.4.3-.5.2-.1.3.5.3-.1.3-.4.3.4.2.1.3-.6.3-.4.3.5.3.8.2-.2.3-.8.3-.5.3.6.2.1.3-.3.3.1.3-.6.3-.2.2.7.3.1.3-.8.3-.4.3.9.2.6.3-.3.3.3.3.3.2-.4.3-.8.3-.6.3-.2.3.1.2-.4.3-.7.3.3.3.7.3.7.2-3.1.3 3.6.3-.1.3.6.3.4.2.1.3-.1.3-.8.3-.3.2.7.3 0 .3-1.3.3-.6.3.3.2-.2.3 0 .3.2.3-.9.3-1.1.2-.9.3.1.3 1.9.3 1 .2.1.3.6.3.1.3-.3.3-.1.2.1.3.1.3.7.3.7.3-.5.2-.7.3.4.3.1.3-.6.3-.3.2-.1.3-.7.3-.8.3 0 .2 1.1.3 1.1.3.2.3-.5.3-1 .2-.6.3.1.3-.5.3 0 .3 1.3.2.3.3.3.3.9.3.1.3-.6.2-.8.3.1.3.7.3.5.2-.5.3-.4.3.6.3-3.3.3 3.4.2-.4.3-.1.3-.6.3-.9.3-.2.2.4.3.5.3 1.1.3-2.5.2 4.4.3-.3.3-2.3.3-.7.3 1.2.2.7.3-.2.3-.6.3-.1.3 0 .2-.2.3-.3.3-1.3.3-1.8.3-1.1.2-.5.3-.6.3 0 .3 2.4.2 2.4.3 1 .3 0 .3.6.3-.7.2-.5.3.3.3 1.1.3.4.3 0 .2.8.3-.2.3-.7.3.4.3-.7.2-.9.3.1.3.3.3.8.2-.1.3-1.5.3 1.2.3-.9.3-.1.2-.9.3.1.3 1.4.3.1.3-.4.2.1.3.4.3.2.3-.5.2-.2.3.5.3-.4.3 0 .3.7.2.1.3.2.3-.5.3-1.1.3-.1.2.2.3-.1.3.4.3-.2.3.2.2-.1.3-.3.3-1.7.3 1.7.2-1 .3-1.2.3-2 .3 1 .3-.2.2-2.6.3 3.3.3 1.4.3.9.3-.5.2 0 .3 1 .3.8.3.1.2-.1.3-.1.3.3.3.5.3-.4.2-.7.3 0 .3.4.3.1.3.3.2-.2.3-1.8.3.2.3.1.3-.4.2-.3.3.2.3.6.3-.1.2.3.3 0 .3-.4.3-.3.3-.7.2-.1.3.6.3.6.3-.2.3-1.3.2-3.6.3 4.8.3 1 .3.2.3-.5.2-.2.3.6.3-1.9.3 2.7.2.2.3.2.3.1.3-.8.3-1.7.2-.2.3 1.3.3-.4.3-.6.3-.2.2.9.3 1.3.3.1.3.1.2 0 .3.1.3.3.3.2.3-.3.2-.2.3 1.2.3.6.3-.9.3-1 .2-.5.3.6.3.7.3-.2.3-.2.2-.6.3-.3.3.2.3.1.2-.1.3.3.3-.1.3-.2.3-.5.2 0 .3-.4.3-.3.3.6.3.8.2-.1.3-.8.3-.1.3 1.2.3.6.2-.6.3-.8.3-.1.3.5.2 0 .3-.4.3.1.3 1.1.3.6.2-1.2.3-.8.3.7.3.6.3.4.2.4.3-.2.3.6.3.7.2-.6.3-.8.3-.6.3.1.3.2.2.9.3-2.3.3.1.3.8.3.3.2-1.6.3.8.3-.9.3.3.3 1.5.2 1.2.3-.5.3-.8.3-.7.2-.6.3.1.3.2.3.4.3.7.2-.3.3-1.1.3-.4.3-.2.3-.2.2.3.3.1.3-3.6.3 3.4.3-.3.2 0 .3.1.3-.2.3.1.2.6.3.6.3.3.3.7.3.7.2-.1.3-.6.3-.3.3-.5.3-1 .2.7.3 1.3.3.2.3-.2.2 0 .3.5.3-.1.3-1.3.3-.5.2.3.3-.1.3.5.3.9.3 0 .2-.5.3.2.3.4.3-.2.3-.4.2.1.3.2.3.6.3.3.2-.5.3.1.3.2.3 1 .3-2.9.2-.2.3.5.3.6.3 0 .3.6.2.1.3-.3" stroke="#ff7700"/><path d="M50 104.7l.2-1 .3.2.3-.2.3-.5.3-.1.2.3.3 1 .3.4.3-1.7.3-.7.2-.5.3-.8.3.2.3-.3.2-.9.3.4.3.9.3.3.3.2.2.2.3.1.3.1.3.2.3-.4.2-.4.3.1.3-.9.3-.9.2.4.3-.5.3-.9.3.3.3.6.2-.3.3-1 .3-1.7.3-1.6.3-1.9.2-4.8.3-1.3.3 5.8.3 4.8.3 1.4.2 1 .3.5.3 1.8.3-2.6.2 0 .3 1.2.3.6.3-.5.3-.2.2-.4.3-.6.3-.1.3.1.3.1.2-.2.3-.7.3-.3.3-.1.3-.1.2 1.7.3 2.1.3-3.9.3-1 .2 1.8.3 1.5.3 1 .3 1.1.3 0 .2-.7.3-.3.3-.2.3-.5.3-.2.2.6.3.4.3-.6.3-.7.2-.2.3-.1.3.1.3.4.3.7.2.2.3-1.2.3-.8.3.7.3-.1.2-.9.3-.5.3.1.3.3.3-.1.2-.9.3-.8.3.6.3 1.5.2.5.3-1.2.3-1.8.3-.7.3.7.2 1.1.3.4.3 0 .3-.2.3-.1.2 1.8.3.6.3-1.9.3.1.3 2 .2.9.3-.4.3-.9.3-.2.2.5.3.7.3-.4.3-.6.3 1 .2-2.7.3 1.7.3.2.3.8.3.4.2.3.3-.5.3-.8.3-.4.2.7.3.7.3.3.3-.1.3 0 .2-3.8.3 3.3.3-.4.3-.2.3-.7.2-.3.3.8.3.2.3 0 .3 0 .2-.9.3 0 .3.7.3-.6.2-.2.3.4.3 0 .3-.3.3-.3.2-.3.3-.5.3 0 .3.6.3.8.2-.1.3-2.3.3 2.6.3.2.2-1.4.3 2.4.3-.8.3-.5.3-.4.2.4.3.1.3-.4.3-.2.3-.7.2.4.3 2.3.3-1.2.3 0 .3 0 .2-.1.3.4.3-.7.3.5.2.6.3.8.3 0 .3.1.3-.1.2-.4.3-.6.3-.9.3-.2.3.2.2.1.3-.2.3-.6.3-.9.3.2.2.7.3 0 .3.1.3.9.2.3.3-.6.3-1.4.3 2 .3-1 .2.2.3.6.3 1.1.3-.1.3-.5.2-.7.3-.6.3.1.3.3.2-.3.3-.3.3 1 .3-1.3.3-.1.2-.1.3.6.3.1.3.3.3-.3.2.1.3.1.3.9.3 1 .3-.6.2-1.3.3-.5.3.6.3.5.2-.6.3-.4.3.3.3.2.3.3.2.1.3-.2.3-.3.3-.2.3.8.2 1.2.3-1.1.3.8.3-1.3.3.1.2.3.3 1.4.3-2.5.3-.5.2.5.3 1.4.3-2.7.3 1 .3-.8.2.3.3.5.3-.3.3-.9.3-4.9.2 2.9.3-3 .3 1.5.3.5.2 3.2.3-.5.3 1.1.3-.5.3 0 .2.4.3.2.3.5.3-.1.3-.1.2.3.3 1.1.3 0 .3-.7.3.3.2 0 .3-.4.3-.8.3-.4.2.1.3-.4.3-.1.3.2.3.1.2-3 .3 3.5.3.5.3.1.3-.3.2 1.3.3 1.1.3-.5.3-.1.2-.4.3 1.5.3-1.1.3-1.9.3 0 .2.2.3 1.7.3.6.3-1.7.3-.1.2.2.3.1.3 0 .3-.5.3-.3.2-.8.3-1.4.3-.5.3.2.2.7.3.3.3-.1.3 1.4.3.8.2-.8.3-1 .3.5.3.4.3 0 .2-1 .3-.8.3.3.3 2.4.3-3.7.2 1.2.3-2 .3-2 .3-.7.2.7.3 1.6.3 1.8.3 1.6.3.6.2.5.3 1.5.3 1 .3 0 .3-1.2.2-1.1.3.1.3.5.3.1.2-3.2.3 2.7.3.8.3-.2.3-.6.2.3.3 1.2.3.7.3-1.2.3-1.1.2 1.3.3 1.7.3-.6.3-1.1.3.1.2.3.3.3.3.3.3-.6.2-.8.3.2.3-.3.3-2.4.3 1.2.2.2.3.2.3.2.3-.7.3.6.2.5.3.7.3-.7.3-1.2.3.1.2.5.3-.5.3-.8.3-3.8.2 3.5.3-.2.3-.3.3-.5.3-.8.2-.1.3.4.3 0 .3.4.3 1.7.2 1.6.3.1.3-.5.3-.1.2.6.3-.2.3.1.3-2.1.3-.9.2.6.3 1.3.3-3.1.3 2.7.3-.3.2.6.3.1.3 1.7.3-1.9.3-.4.2-.5.3-.7.3-1.5.3-.3.2.3.3.3.3.6.3.1.3.1.2 1.1.3.6.3.1.3.2.3.1.2.8.3.9.3-.6.3-.8.3.1.2.3.3 1 .3.2.3-1.6.2-.9.3.8.3 1.2.3.1.3-.3.2 0 .3-.7.3-1.7.3-1.9.3-1.1.2 1.1.3 1.5.3.2.3.5.2 1.3.3.4.3-.5.3-.8.3.1.2 1 .3.6.3 0 .3-.5.3-.6.2 0 .3.7.3.7.3-.2.3-.5.2.3.3 1 .3.1.3-.1.2-.3.3-.5.3.6.3.4.3-.1.2-.4.3-.7.3-.5.3-.6.3-.1.2.2.3.2.3.3.3-3.1.2 3.6.3-.6.3-.6.3-.4.3.3.2.2.3.2.3 1.3.3.4.3-1.3.2-.8.3.2.3-.3.3-.3.3-.6.2-.6.3.8.3.9.3-.1.2-.2.3-.5.3 1.7.3.2.3 0 .2-.4.3-.2.3.1.3.6.3.2.2-.5.3.2.3.5.3-.5.3-.7.2-.2.3.1.3.2.3.8.2.4.3-.6.3-.3.3.3.3-.2.2-.7.3-1 .3 0 .3 1.2.3.4.2-.2.3 1.5.3-1.3.3-.6.2-.4.3-.2.3.3.3.5.3 0 .2.1.3 1.2.3 1.1.3.3.3-.2.2.5.3-.2.3-1.5.3-.3.3.5.2.1.3.2.3.5.3 1.7.2-1.3.3-.3.3-.9.3-.3.3.6.2 0 .3-.3.3-.1.3 0 .3.7.2.3.3-1 .3-.9.3-.3.3-.1.2.3.3-.2.3-1.1.3-.5.2-2.6.3 3.7.3 0 .3.3.3.9.2.5.3-.9.3-.3.3.3.3-.5.2.3.3 1.3.3.4.3-.7" stroke="#ff9400"/><path d="M46.6 107.9l.3-.9.3-1 .3.2.2.6.3.8.3-.3.3.4.3.2.2-.2.3-.2.3-1.5.3-1.9.2.2.3.9.3-.3.3-.2.3.4.2 0 .3-1.9.3 1.5.3.2.3-.2.2.8.3 1 .3-.5.3-.8.2 2.2.3-1.4.3.5.3.4.3-1.2.2-1 .3-.3.3.1.3-2.1.3 1.6.2-1.5.3-.8.3-4.7.3-1.3.3 3.2.2 3.3.3 2.6.3.6.3-1 .2-2.7.3 1.9.3.4.3.8.3.2.2.4.3 1 .3.4.3-.5.3-.8.2-.7.3-.4.3.5.3.8.2.6.3-.7.3-1.2.3.2.3.4.2-.7.3 2 .3-1 .3-.5.3.8.2-.1.3.2.3.1.3.1.3.7.2.2.3-.4.3-.1.3.5.2.4.3-.4.3-.8.3-.2.3 0 .2.1.3-.2.3-.4.3-.4.3-.3.2.3.3.2.3 0 .3.2.3 0 .2 1.7.3-1.4.3-.4.3-.7.2-.1.3 0 .3.1.3 0 .3-.6.2-.3.3.3.3-1.9.3 2.8.3-.3.2.4.3 0 .3.1.3-.6.2 1 .3.3.3-.3.3-.3.3 0 .2-.1.3.3.3.3.3-.7.3-.7.2.5.3 1.2.3 0 .3-1.5.3-.9.2.9.3-.7.3-.4.3 4.1.2.7.3-.5.3-.6.3.3.3-.2.2-.5.3-.2.3.3.3.8.3-.9.2-4.9.3 3.5.3.3.3.2.3-.1.2-.1.3-2.3.3 1.3.3-.4.2-.8.3-.2.3.7.3.9.3-.8.2-1.1.3.6.3.2.3-.3.3.4.2 1.1.3.3.3.6.3.4.2.4.3-.2.3-.6.3 1.5.3-1.5.2-.4.3-.5.3.1.3-2.2.3 3.2.2-.2.3 0 .3-.8.3.2.3-.1.2-1.2.3.1.3 1 .3.9.2-.4.3-1.1.3-1.3.3 1.6.3.1.2.6.3-.1.3-.6.3 1 .3 1 .2-.4.3-.9.3-.8.3-.3.2 0 .3.3.3 1.4.3.2.3-.7.2-.1.3.9.3-.7.3-.5.3.3.2.1.3.2.3-.1.3-.7.3-.5.2-.6.3-.2.3.6.3 1.2.2-2 .3.6.3 1.3.3 1.1.3 0 .2-1.2.3.8.3-.4.3-.9.3.4.2.4.3.4.3.9.3-.5.3-1 .2-.3.3-.3.3 0 .3 1.9.2-1.5.3.1.3-.6.3-1.2.3.1.2 1 .3.8.3.4.3-.8.3-.9.2-.7.3-.6.3.3.3 1.1.2.8.3-.7.3-.3.3 1.4.3.1.2-.8.3.6.3.8.3-.2.3-1.1.2.4.3 1.4.3-.5.3-3.8.3 1.7.2-.6.3-.4.3 1.2.3-1.9.2-.3.3-.3.3-.4.3.3.3 1.6.2 1.5.3-.3.3-.7.3-.3.3.6.2 1.1.3 1.2.3.8.3 0 .3-.2.2-1 .3-1.1.3.7.3.7.2-.8.3 0 .3 1 .3-.5.3-1.2.2-.4.3.5.3.5.3-.8.3-.6.2.4.3.1.3-.1.3-.1.2.3.3.6.3-.1.3-.6.3-.4.2.7.3.9.3.3.3.3.3.1.2-.3.3.1.3.3.3-2.1.3-.3.2-1.2.3-.5.3-.7.3-.5.2.3.3-.1.3.2.3 1.5.3 1 .2.7.3-1.8.3.2.3.4.3.4.2-.5.3 1.7.3-1.1.3-.4.2.2.3-.9.3-1.9.3-1.6.3-1.4.2-1.7.3-1 .3-2.1.3 4.3.3 2.1.2 1.9.3 1.5.3 1.2.3.3.3.1.2.7.3.8.3.3.3-.9.2-.7.3.6.3.5.3 1.4.3-1.7.2.4.3.5.3-1 .3-.5.3.1.2.5.3.5.3.2.3-.1.3-.1.2-.2.3.3.3.5.3-.2.2-1.2.3-.1.3.9.3-.5.3.3.2 1.2.3-.1.3 0 .3-.2.3-1 .2-.3.3-.1.3-.7.3-.1.2.2.3.4.3.9.3-.3.3-1.1.2-.5.3.8.3-1.1.3-1.6.3-1.3.2-1 .3.1.3-.6.3-1.8.3-.5.2 1.3.3 1.3.3 1.5.3 4 .2-.8.3-1 .3-.7.3.7.3.7.2.6.3 0 .3.6.3.3.3-.8.2-.3.3.1.3-.5.3.3.3.6.2-.7.3-1 .3-.2.3-.8.2-1.6.3-.6.3.5.3 1.1.3 1.7.2.7.3-.2.3 1.2.3-.9.3 0 .2.7.3.6.3.5.3-.1.2-.5.3-.1.3-.5.3-.2.3.6.2.1.3-.1.3.5.3.2.3-.2.2.5.3-.4.3-1.7.3-1.5.3.2.2.3.3-1.9.3-.5.3 2.3.2 1.4.3-.5.3-.2.3.3.3.4.2.7.3.5.3-.1.3.3.3.2.2-1.3.3-1 .3.8.3 1.2.3.3.2.1.3-.3.3-.1.3.6.2-1.2.3-1.6.3.2.3-.2.3.2.2 1 .3-.1.3-1.1.3-.3.3.8.2.9.3 0 .3-.3.3-.1.2 0 .3-.2.3.4.3 1.3.3-.1.2-1.1.3.1.3.7.3.4.3-.2.2-.8.3-.2.3-.4.3-.1.3.6.2.1.3-.1.3-.3.3-.2.2-.3.3-.6.3 1 .3 1.3.3 0 .2.2.3.5.3-.2.3-.3.3.5.2-.6.3-1.2.3.5.3.5.2-.5.3.2.3-.2.3-1 .3-.8.2-.3.3.3.3.4.3.1.3.3.2-.1.3-.3.3 1 .3.7.3-1.1.2-1.3.3.5.3.4.3.5.2 1.1.3 0 .3-.6.3.7.3 1 .2-1.7.3 1.1.3.1.3.3.3.2.2.2.3.1.3-1 .3-1 .3.1.2.4.3.1.3-.4.3-2.2.2 2.4.3-.5.3-1 .3-.3.3.5.2-.1.3-.4.3.1.3.9.3.3.2-.1.3.1.3-1.1.3-.6.2.7.3 1 .3 2 .3-2.2.3-.9.2-.3.3.3.3.4.3-1.3.3 1.3.2.1.3.2.3.1.3-.2.3.1.2.2.3.3.3.1.3.3.2-.6.3-.8" stroke="#ffdc00"/><path d="M43.3 113.5l.3-.5.2.3.3.3.3 0 .3-1 .2-1.2.3-.6.3-.2.3.3.3.5.2.2.3.4.3.4.3-.2.3-.5.2-.6.3-.6.3-.5.3 0 .3.3.2-.2.3.5.3.7.3-.3.2-.4.3-.2.3-.1.3-.8.3-1.5.2 0 .3.4.3-.1.3-.2.3-1.5.2-.9.3.4.3-1.4.3-3.6.3-4.7.2-.3.3 4.9.3 3.9.3 3.2.2.3.3-1.3.3.7.3 1.4.3 0 .2-.5.3-.6.3.3.3.3.3-.1.2.3.3.2.3-.2.3-.4.2-.2.3.1.3-.4.3.5.3.7.2-.6.3-.2.3.6.3-.2.3-.8.2.2.3 1.8.3.6.3-1.5.3-.2.2.8.3-.1.3-.3.3-.3.2-.4.3-.4.3.3.3.3.3.2.2-2.2.3 1.8.3.5.3.7.3 0 .2-.2.3-.4.3-.4.3.4.2 1.2.3.4.3.3.3-2.2.3.3.2.9.3.2.3-.9.3-.6.3-.7.2-.9.3-1 .3-1.3.3 1.7.3-1.6.2.1.3.8.3 1 .3.3.2.7.3.6.3-.7.3-.2.3.6.2-.5.3-.3.3 1.1.3.5.3-.7.2-.3.3 1.1.3.7.3 0 .3.1.2-.6.3-.9.3-.3.3.4.2.9.3.9.3-.4.3-.8.3.3.2.4.3.1.3 0 .3.2.3.6.2-.3.3-.7.3-.6.3-.7.2.1.3 1 .3.2.3-.6.3-.2.2-.1.3.1.3-.1.3 0 .3.7.2.7.3.8.3-.1.3-.8.3-1.6.2-.3.3.9.3-.3.3.3.2.5.3-.4.3-.5.3-.2.3.5.2 1.2.3-.6.3-1 .3.3.3.7.2 1 .3 0 .3.2.3.4.3-.6.2-1.1.3-.4.3.4.3.7.2.1.3-1.5.3-1.5.3-.3.3.6.2.3.3-.6.3 1 .3 1.3.3-.2.2-.4.3-.1.3-.3.3-.5.2.3.3 1.4.3.8.3-2.9.3 2.3.2-4.9.3 3.9.3.5.3-.1.3-.7.2-.7.3 1.4.3 2.4.3-2.2.3-.5.2 0 .3.9.3-.1.3-1.9.2-1 .3 1.1.3.4.3-.5.3-.5.2-.4.3.8.3.5.3-.3.3 0 .2-.3.3.6.3.8.3-1 .2-1.3.3 2.7.3-.3.3-1.1.3-.2.2.8.3.8.3-.2.3-1 .3.4.2.2.3-1.1.3-.1.3.4.3.4.2 1 .3.3.3-1.4.3-1.5.2-.3.3.2.3-.5.3.4.3 2.2.2 1.2.3-3.6.3 2.4.3-1.1.3.2.2.7.3-.4.3-.3.3.2.3-.1.2-.4.3-.2.3.1.3.2.2-1.8.3-.3.3-.1.3-1 .3.5.2 1.6.3.7.3.3.3 0 .3-.1.2.3.3.1.3-.9.3-.4.2-1.5.3 3.8.3.3.3-.8.3-.6.2-1 .3 3.3.3.1.3-1 .3 0 .2.1.3-.8.3.4.3 1.1.3-.1.2-.3.3.2.3-.4.3-.8.2-.3.3 2.2.3.7.3-.2.3-.9.2-.7.3.3.3.7.3-.3.3-2.4.2-.3.3 1.3.3.4.3.1.3-.1.2-.3.3-.2.3-.9.3-1 .2-.5.3-.7.3 0 .3.9.3.2.2-.1.3.5.3.5.3-2.6.3 2.9.2.2.3-.5.3.1.3.1.2-.8.3-.8.3-.3.3.2.3.1.2-1.1.3-1.6.3-.8.3-.3.3.4.2 1 .3 1.4.3.8.3.4.3 2.9.2.1.3-.1.3-1.2.3-.4.2 1.3.3.3.3-.8.3.6.3.7.2-1.1.3-.7.3 1 .3.8.3-.4.2-.7.3-.5.3-.5.3-.2.3.9.2 1 .3-.1.3-.4.3.1.2 1.2.3.3.3 0 .3-1.1.3-.1.2.2.3-1.5.3.1.3.3.3 0 .2-1.3.3.8.3 1.1.3-1.1.2-.6.3.1.3.1.3 2.1.3-2.4.2-.1.3-3.2.3 2.6.3-.2.3-.6.2-.7.3-.6.3-1.4.3-1.6.3-1.1.2-.5.3.8.3 1.9.3 1.7.2.9.3 1.2.3.9.3.5.3-.7.2-.5.3 0 .3.1.3.1.3.8.2.3.3.9.3-.2.3.5.2 0 .3-.2.3.7.3.4.3-1.3.2-1.1.3.3.3.1.3.1.3.7.2.7.3.2.3 0 .3-.2.3-.2.2-.2.3-.5.3.4.3.2.2-1.1.3-.5.3.3.3-2.4.3 2.2.2.5.3.4.3 0 .3 1.5.3-2 .2.9.3-1.5.3-.1.3.1.3.8.2 1 .3-.3.3-3.8.3.3.2-.2.3 2.1.3 1.2.3-.9.3-.5.2.9.3.8.3 0 .3.1.3.2.2.2.3-.1.3-.1.3-1.9.2 1.4.3 0 .3 1 .3.6.3-.4.2-.5.3.4.3.9.3 0 .3-1 .2-.5.3.1.3-.2.3-1.5.3 3.1.2-.2.3-1.1.3-.8.3-1.9.2 2.4.3.5.3-.2.3-.9.3 0 .2.8.3-.1.3-3.5.3 1.4.3 2.9.2.1.3.5.3-4.2.3 2.9.3.4.2.3.3-.1.3-.9.3-.7.2 1.2.3.3.3-.5.3 0 .3-.2.2-.9.3-.4.3.6.3-.4.3 1.2.2 1.2.3-2.6.3 0 .3 1.9.2-1.3.3-.8.3.1.3.4.3 0 .2.8.3 1.1.3-.6.3-.8.3.8.2.6.3-.1.3.3.3.4.3.4.2-.4.3-1.2.3-.7.3 0 .2.5.3 1.7.3-1.4.3-1 .3.1.2.4.3.4.3 0 .3-.9.3-.9.2.2.3 1.4.3-1.3.3.2.2-.7.3.1.3 1.5.3.6.3-.4.2-1.7.3 1.8.3-.3.3.1.3-.7.2 1.2.3.7.3.2.3-.4.3.4.2.7.3.4.3-.1.3.1.2.2.3-.6.3-1.2.3-.2.3.2.2-.8.3-.2.3.7.3.4.3-.5.2-1 .3.6.3.8.3-.7.3-.7.2-.9.3-.1.3 1 .3.3.2-.3.3-.2.3.4.3.2" stroke="#ffff00"/><path d="M39.9 118.6l.3.4.3-.3.3-1.8.2-1.5.3.6.3.4.3-.8.3-.3.2.2.3-.1.3-.9.3-1.2.3-.5.2-.4.3-.4.3.5.3.9.3.3.2.1.3-2 .3 2.2.3-.3.2.5.3.9.3-.7.3-.6.3 0 .2 0 .3.3.3.8.3.5.3.2.2-.5.3-1.3.3-1.1.3-.9.2-.9.3-2.9.3-4.9.3-1 .3 3.8.2 2.2.3 1.6.3 1.4.3.1.3.6.2 1.3.3.3.3-3.5.3 2.8.3-.6.2 0 .3.8.3.5.3-.1.2-1 .3-1.3.3.9.3 1.4.3-.4.2-.3.3.7.3.3.3.9.3.7.2-1.1.3-.4.3.6.3.1.3-.4.2-.3.3.4.3-.6.3-.5.2.9.3.5.3.8.3 0 .3-1.3.2-.6.3-.3.3-.5.3.3.3.8.2.7.3-.2.3-.2.3.5.2-.1.3-2.7.3 1.5.3-.4.3-.7.2-.1.3.4.3.3.3.5.3.6.2-.1.3-1.1.3-.5.3.5.3.1.2-.9.3-.2.3.3.3-.2.2.2.3.3.3.7.3.5.3-.2.2 0 .3.7.3-.2.3-.7.3.1.2-.1.3-.5.3.4.3.4.2.3.3.3.3-.4.3-.2.3-.2.2-.2.3 1.4.3.6.3-.2.3-.5.2-.7.3.2.3.7.3 1.1.3-.3.2-1.8.3-1.1.3-.1.3 1.6.2 1.1.3-1.2.3-1.6.3-.1.3 1 .2.5.3.1.3-.3.3-.4.3-2.9.2 3 .3-1 .3-.5.3-.1.3 1.1.2 1.1.3-.2.3-.2.3.2.2 0 .3-.1.3.3.3-1.1.3 1.3.2 1.2.3.3.3-1.1.3-.4.3-.4.2-1.3.3-.4.3.3.3-.8.2-.5.3-.4.3 0 .3 1 .3.7.2-.2.3 1.3.3.5.3-1 .3.2.2 1.4.3.8.3-.4.3-1 .3-.5.2 1.1.3.6.3-3.2.3 1.5.2 0 .3.8.3.2.3-.3.3.6.2-.3.3-1.4.3-3.7.3 4.3.3.9.2-.2.3-.9.3-.7.3.5.3.6.2.5.3.8.3 0 .3-1.2.2-.2.3 1.6.3.2.3-.7.3.7.2.7.3-1.3.3-1.2.3 1.1.3 2.2.2-4.2.3.8.3-.4.3 1 .2-.1.3-1.4.3-.4.3 1 .3.6.2 0 .3-.1.3-.5.3.8.3 1.2.2-.7.3-1.1.3.1.3.3.3.5.2.4.3-1.1.3-.6.3.6.2.5.3.1.3-.3.3.3.3.6.2.4.3.2.3.1.3-.2.3-1 .2-1.1.3-.6.3.2.3.6.2-.3.3-.2.3-1.9.3-.3.3.2.2.4.3.7.3-1.5.3-2.7.3-.5.2.2.3 1.3.3.7.3.6.3.4.2-.1.3.5.3 1.3.3.4.2.4.3-.4.3-1.4.3.2.3 1.8.2 1 .3-.4.3-.9.3.1.3.9.2 0 .3-.4.3-.1.3 1.1.3.9.2-1.1.3-.6.3.4.3.9.2 1.1.3.1.3-1 .3-.1.3.3.2-.3.3-.3.3 0 .3.5.3 1.4.2-1.6.3-.8.3-.6.3.3.2.5.3-.6.3-1.2.3-.1.3-.6.2-.6.3.9.3-1.8.3-1.1.3.1.2.8.3.8.3.7.3.4.3.4.2.5.3-.6.3-.1.3.7.2.1.3-1.3.3 1.5.3 0 .3-1.2.2-1.1.3.5.3-1.3.3-3.1.3-1.7.2-.5.3.7.3 1.6.3 1.9.3 1.9.2 1.7.3-.4.3-1.2.3.6.2.9.3-.3.3-.2.3.7.3.2.2.2.3 1 .3 1.1.3-1.2.3-1 .2.9.3.5.3 0 .3-.6.2-1.2.3-.3.3.2.3.6.3 1.5.2.1.3-1 .3-2.4.3 2.1.3.9.2-.1.3-.7.3.8.3.7.3-.6.2-1 .3-1.3.3-.9.3 1.1.2 1 .3 0 .3.1.3 0 .3.9.2.4.3-1 .3-.6.3-.5.3-.4.2.3.3-.1.3-.7.3-1 .3-.6.2-.5.3-.9.3 0 .3.6.2.3.3.3.3.2.3 1.3.3 1.6.2-.3.3-.6.3.3.3-2.8.3 3.3.2.3.3.2.3-.2.3-.5.2.1.3-.9.3-.4.3.9.3-.1.2-.5.3 0 .3-.7.3-1.1.3-.3.2.1.3.1.3-.1.3.4.3 1.1.2.6.3.3.3.6.3.2.2-.4.3 0 .3.6.3.8.3.8.2.3.3-.1.3-.9.3-.5.3.8.2.5.3-1 .3-1.2.3.4.2 1 .3 0 .3-.4.3-.4.3-1.3.2-.7.3.3.3.2.3.4.3.7.2.9.3.8.3-.3.3-.1.3 0 .2-.6.3.1.3-.6.3-1.2.2.6.3 1.1.3-.2.3-1 .3-.7.2-.1.3-.1.3-.5.3.6.3 1.1.2-.1.3-.3.3-2.6.3 3.2.3 2 .2-1 .3-.3.3.1.3.4.2-.6.3-.3.3.6.3.1.3-.5.2-.3.3 0 .3-1 .3 0 .3 1.7.2.1.3-.5.3.8.3.8.2-.3.3-.7.3 0 .3.8.3-.1.2-1.1.3-.1.3.6.3-.3.3-.4.2.2.3.4.3-.1.3-1.1.3-.2.2.4.3-.9.3-.2.3 1.3.2 0 .3-1.1.3.2.3 1.1.3.4.2-.3.3 0 .3-.1.3-1.2.3-.7.2.9.3.1.3.3.3 1.4.3 1.1.2-.2.3-1.3.3-.7.3.6.2.6.3.4.3-.4.3-1 .3-.4.2-.1.3.4.3.8.3.2.3.2.2-.7.3-1.2.3.6.3 1 .2-.1.3-.8.3-.4.3.3.3.5.2.7.3.8.3 1 .3-.6.3-.9.2-.9.3-.8.3.8.3.7.3-1 .2-.3.3 0 .3-.6.3.2.2.6.3-.2.3-.9.3.5.3.4.2.5.3 0 .3.8.3.3.3.3.2.9.3.3.3-1.1.3 1.7.2-1.6.3-.1.3-3 .3 1.4.3.6.2.1.3-.6.3.1.3-1.6.3 2.9.2.6" stroke="#bfff00"/><path d="M36.6 121.8l.3-.2.2-.2.3-.7.3-.8.3 0 .3.5.2.1.3-.3.3-.9.3-1.2.3-.6.2 0 .3.9.3.8.3-.7.2-1 .3-.3.3-.2.3.5.3.6.2-.4.3-.3.3.6.3.2.3-1.2.2-.9.3 1.9.3-1.7.3.7.3.4.2-.6.3-.7.3.2.3.6.2.7.3-.9.3-2.2.3-2.1.3-4.8.2-1.3.3 1.5.3 7.6.3 1.8.3.2.2-.9.3.5.3 1.5.3-1.1.3-2.3.2-.3.3.2.3-.2.3.6.2 1 .3.7.3.6.3-3.1.3 2.1.2-.6.3.8.3.4.3.1.3 0 .2.2.3.3.3-.9.3-.4.2.7.3.4.3-.3.3-.7.3 0 .2.2.3 1 .3 1 .3-1.3.3-1 .2.7.3.9.3.5.3-.4.3-.6.2-.5.3-.4.3.4.3 0 .2-.2.3-.1.3-.4.3-.2.3.8.2.8.3-.1.3-.7.3-.1.3-.3.2-1 .3.1.3.1.3-.7.3.1.2.4.3-1 .3-1 .3.8.2.9.3.1.3.9.3.9.3 0 .2-.6.3 0 .3.9.3.6.3-.7.2-.9.3-2.6.3 3.2.3.7.2.1.3-.4.3-.4.3.1.3 1.1.2-3.1.3 1.9.3-1.1.3 1.2.3.8.2-.8.3-.6.3.1.3-1.1.3.4.2 1.1.3-.3.3-.7.3.1.2 1.9.3.4.3-.8.3-.7.3.4.2.8.3-.2.3-2 .3.1.3-.8.2-.6.3.8.3.7.3.3.2.7.3-.4.3-1.5.3.3.3.6.2 0 .3.1.3-.2.3.5.3.1.2.1.3.8.3.5.3.8.3 1.1.2-.7.3-1.3.3-.7.3 0 .2 1.3.3 1.2.3-.1.3 0 .3-2.8.2 1.7.3-.1.3-.6.3-2.3.3 1.5.2-1 .3 0 .3.7.3-.1.3 1.7.2-.9.3-1 .3-.7.3-.3.2.1.3 1.4.3 1.5.3.4.3.5.2-1.3.3.5.3-.6.3 0 .3.2.2.7.3-.1.3-1.8.3-1.3.2.2.3.1.3-.5.3.2.3.2.2 2.4.3-1.3.3.1.3-.2.3-1.2.2-1.8.3 3.1.3-.1.3.1.3-.2.2-.1.3.3.3.3.3 0 .2-.8.3-.2.3.5.3 0 .3.2.2-.3.3-.8.3.3.3.1.3-.6.2.4.3 1.7.3.6.3-.8.3-.4.2.3.3.1.3-.1.3.4.2-.4.3-1.4.3-.8.3-.1.3.4.2 1 .3-.1.3-.1.3 1.5.3.1.2-.4.3 1 .3.3.3-.5.2-.7.3-.1.3.4.3-.5.3-.1.2 1.1.3 0 .3-1.7.3-1.1.3-1 .2-1.1.3-.2.3 1 .3 1.6.3-.2.2 2.6.3.9.3-2.6.3.5.2-.3.3.3.3-.2.3.2.3.1.2-.3.3.5.3.2.3-.5.3-.1.2.3.3.1.3 1.3.3-1.8.3-1.2.2-.1.3 1.3.3.9.3.7.2.3.3.5.3-2.2.3 1.4.3 0 .2-1 .3-.2.3.3.3-.6.3-.2.2 1.2.3.8.3-.4.3-1.4.2-.7.3.8.3.5.3.8.3.3.2-1 .3-.6.3-1.4.3-1.6.3 0 .2-.1.3.8.3 1.9.3.4.3-.8.2-.1.3.4.3-.5.3-.1.2-.2.3-.8.3-.3.3 1 .3 1.1.2.5.3-.3.3-1.6.3-1 .3-1.2.2-2.3.3-2.4.3.1.3 1.4.2 1.9.3 1.2.3.4.3 1.4.3 1.3.2.1.3-.2.3.3.3 1 .3.9.2 0 .3.1.3-.2.3-.5.3.1.2.3.3.1.3-.9.3-.4.2 1.2.3-1.7.3-.7.3 0 .3.8.2 2 .3 1.2.3-1.1.3-2 .3-4.2.2 4.9.3-2.5.3 3.1.3.4.3.3.2-.5.3-1.1.3-.1.3 0 .2-.7.3-.2.3-3.4.3 4.4.3 1.7.2-.8.3-.9.3.9.3.9.3-.4.2-.9.3-.5.3-.9.3-.8.2-.3.3.7.3.6.3-1.8.3-2.2.2-.6.3 1 .3.5.3-.2.3.9.2 1.2.3.6.3.3.3.5.3.5.2.8.3.2.3-.3.3.2.2 0 .3-.4.3 0 .3-.3.3.7.2.8.3-1.3.3.8.3-1.6.3-.6.2-.9.3-1.1.3-.6.3.9.3 1.2.2.3.3.2.3.7.3-.1.2-.3.3.9.3.6.3-.4.3-.4.2.4.3-.3.3-.7.3.6.3.8.2-.7.3-.8.3 0 .3.7.2.7.3-.8.3-.4.3.5.3.2.2-2.3.3 1.8.3.9.3-.1.3-.6.2-.7.3-.9.3.4.3 1.3.3.6.2-.3.3.1.3 1.1.3.6.2-.3.3 0 .3-.2.3-1.1.3-.9.2 1.5.3.1.3-.5.3.6.3 0 .2-1 .3-.4.3.9.3.6.2-1 .3-.6.3.4.3.8.3 0 .2-.6.3-.8.3-.1.3.9.3.6.2 0 .3 0 .3-.1.3 0 .3.3.2-.1.3-.4.3-.2.3.2.2.8.3.3.3-.4.3-3 .3 3.6.2.3.3-.2.3-1 .3-.6.3-.6.2.4.3.1.3 1.4.3-.6.3 0 .2-1.1.3-1.1.3-.1.3 1 .2.8.3-.3.3-.8.3-1.1.3-1.2.2 2.2.3.6.3-.6.3 0 .3 0 .2-.7.3.3.3 1.6.3.3.2.2.3-.1.3-.3.3-.1.3.4.2-.4.3.6.3.8.3-.1.3.6.2.1.3-.7.3.4.3.9.3-.3.2-1.5.3-.3.3 1.4.3 1.2.2-.4.3-1 .3-.5.3 0 .3 0 .2-.2.3.1.3-.7.3-.6.3.2.2.4.3.6.3 0 .3-1.1.3-.5.2 1.1.3-.1.3-1.4.3.1.2.9.3 0 .3-.1.3.1.3-.6.2.2.3 1.1.3-.1.3.1.3.6.2-3 .3 2.3.3-.5.3-.9.2-.7.3 1.2.3 1.6.3-2.8.3-.7.2 2.1.3-.8.3 2.5.3.6.3-.7.2-1.3.3-.8.3 0" stroke="#7fff00"/><path d="M33.2 126.4l.3-.3.3-1.3.3.8.3-1.2.2-1.4.3.6.3.5.3-.1.3-.6.2-.7.3 1 .3 1.8.3-.4.2-1.4.3.1.3.1.3-.9.3-.6.2-.2.3.7.3.2.3-.1.3.7.2 1.2.3.3.3-1.3.3-.7.3.6.2-1 .3-1 .3 1.5.3 1.4.2 0 .3-1 .3-5.6.3 2 .3-1.8.2-5.4.3-7.2.3-1.9.3 8.3.3 3.9.2 2.3.3 2.1.3 0 .3.1.2.5.3-.2.3.2.3.3.3 1.6.2-1.5.3.5.3-.4.3.1.3.3.2-.2.3.4.3.2.3-.4.3-.4.2 1.6.3-1.3.3.2.3-.6.2-.2.3-.4.3.2.3 1.7.3.1.2-.6.3.1.3-.8.3.1.3 1.4.2-.4.3-1.5.3 0 .3.7.3.4.2.3.3-1 .3-1.3.3.3.2 1.2.3.7.3 0 .3-.5.3-.6.2.3.3 1.3.3.8.3-.8.3-1.1.2-.2.3-.2.3.4.3.4.2-1.4.3-1.6.3-.4.3.8.3.1.2-1.6.3-1.6.3-.4.3 1.1.3 2 .2 1.2.3.6.3.6.3 0 .3-.2.2-.1.3.7.3.1.3-1 .2-.2.3.5.3.2.3.4.3.1.2-.3.3-.4.3-.3.3.4.3.2.2-.1.3.7.3.7.3-.3.3-.3.2 0 .3 1 .3.6.3-1 .2-.5.3.4.3-.8.3-.8.3.6.2 1.1.3.3.3-.6.3-1.1.3 0 .2 1.2.3.1.3-.7.3.3.2.8.3-.4.3-1.1.3-.5.3-.7.2.4.3 1.7.3.5.3-.5.3-.4.2-.6.3-.3.3.3.3.4.3 0 .2.5.3 1.8.3.2.3-2.2.2-1.2.3 1.2.3.6.3-.6.3 0 .2.7.3-.2.3-.5.3 0 .3-.8.2-.2.3 1.5.3.4.3-.5.2-.1.3.8.3.5.3-.5.3.4.2-1.8.3.5.3-.1.3.3.3.9.2-.2.3-1.1.3-1.1.3-.5.3.3.2 1.3.3 1 .3.1.3.3.2-.1.3-.8.3-.3.3-.1.3-1 .2 1.6.3.1.3-.3.3-.9.3-.2.2.9.3.8.3-.4.3-.7.3 0 .2.5.3.2.3-.1.3.2.2.5.3-.1.3-1.9.3-.9.3 0 .2.3.3.3.3-2.2.3.7.3 1.1.2.7.3-.7.3-1.9.3 2 .2-.5.3-.1.3.2.3.6.3 1 .2 1.1.3 0 .3.5.3-1.5.3-.9.2-.1.3.7.3.2.3.9.3-.9.2 1.1.3.8.3-.9.3-.6.2-.1.3-.4.3-.5.3 1 .3.4.2-1.7.3-1.3.3.2.3 1 .3.4.2-1.8.3-1.4.3-.5.3.5.3.8.2.4.3.1.3.3.3 1 .2.5.3 0 .3.5.3 2.2.3-1.8.2-.9.3-1.2.3-.1.3.4.3-.1.2.6.3-.6.3-.2.3.3.2.1.3.2.3-.4.3.5.3-.5.2-2.4.3 4.1.3.7.3-.4.3-1 .2-1.2.3-.1.3.6.3.9.3.8.2-.5.3.2.3.6.3-.9.2-1 .3-.2.3.8.3.4.3-.8.2-.4.3-.5.3-.8.3-.5.3-.4.2-.1.3.4.3-.2.3-.5.3.8.2 1.4.3 1 .3.2.3-.7.2.4.3 1.1.3 0 .3 0 .3-.1.2-1.1.3-1.2.3-.9.3-4.9.3 2.8.2-.2.3-1 .3-3 .3-2.3.2.2.3 1.6.3 1.7.3 1.2.3.6.2.3.3.6.3 1.3.3 1.2.3.7.2-.3.3-.6.3.1.3 0 .3 0 .2.4.3-3.4.3 4.3.3 1.1.2.3.3-.8.3-.8.3-.8.3.7.2 2 .3.1.3-1.3.3-.3.3-.2.2-.6.3.9.3.9.3-.9.2-.7.3.5.3.4.3-1 .3-.2.2 1.2.3.7.3-.6.3-.7.3.3.2 1 .3.5.3-.5.3-1 .3-.1.2.3.3.4.3.8.3.3.2-2 .3.5.3-.9.3-.6.3-.1.2.5.3-1.7.3-1.6.3.4.3 1.3.2.9.3 1.1.3.5.3.3.3.8.2.6.3-.7.3-1.1.3-.8.2-.5.3 1 .3 1.4.3.3.3 0 .2 0 .3-.4.3.1.3.2.3-.6.2-.9.3-.1.3.3.3-.1.2-2.2.3 3.3.3-1.7.3-.1.3.5.2-.2.3.5.3.6.3-1 .3-.6.2.8.3.4.3.5.3.8.3-.4.2-1.3.3.6.3.8.3-.6.2-1.1.3.1.3.7.3.3.3-.2.2.2.3-.4.3-1.8.3-.6.3.9.2-.4.3-.9.3.3.3.5.3.9.2.6.3 0 .3 0 .3.6.2 1.2.3.7.3.9.3.8.3-1.8.2-.4.3-1.2.3.1.3.7.3 0 .2 0 .3.5.3 1.3.3 1.4.2-1.1.3-.6.3-.7.3-.5.3.2.2-.1.3-.4.3-.3.3 2.1.3-2.2.2 0 .3 1.7.3 1.2.3 0 .3-.1.2-.9.3-.8.3.2.3.4.2.7.3-.1.3-.8.3-.7.3-.7.2.1.3.5.3-.6.3-1.3.3-.5.2 1.2.3 1 .3 0 .3.4.2.9.3-.3.3-.6.3 0 .3.1.2.9.3 1.3.3-1.4.3-.7.3-.3.2-.7.3-1.5.3-1 .3 1.1.3.7.2-.3.3.4.3.2.3-1 .2.1.3 1.2.3-.4.3-.8.3.4.2 0 .3.8.3-1.1.3.9.3 1.4.2-.4.3.7.3-.5.3 1 .3-.2.2-.9.3-.6.3.4.3.5.2-.6.3-.7.3.4.3 1.4.3.7.2-1.3.3-1.6.3.3.3 1 .3.1.2-2.6.3.9.3.5.3 1.7.2 1 .3-.9.3-1.3.3-.1.3.2.2 0 .3-.3.3-.2.3.2.3.4.2.7.3.3.3-.8.3-.6.3.8.2.3.3-.9.3.3.3 1.1.2-1.5.3.2.3.1.3.2.3.1.2-3.4.3 3.3.3-.1.3 0 .3.3.2 1.8.3 1.1.3-2 .3-2.1.3.2" stroke="#15ff00"/><path d="M29.9 131.5l.3-1.3.3-3.3.2.6.3-.1.3 1.6.3.4.3-2 .2-1.6.3 1.7.3.4.3-.7.2-.7.3-.7.3-.6.3.6.3-.4.2-1.3.3.3.3 1.2.3.2.3-.6.2.2.3.8.3-.2.3-.5.3-.6.2-.6.3.8.3.7.3.3.2.7.3-.5.3-1.5.3-.6.3-.5.2-1.4.3-1.4.3-2.9.3-5.8.3-1 .2 6 .3 4.1.3 1.8.3 1 .2 1.3.3.6.3-2 .3 3.4.3-.5.2-1.2.3-1.4.3-.6.3 3.2.3 0 .2-.3.3-.4.3.4.3.4.3-.1.2-.9.3-1.1.3-.3.3.7.2.6.3-4.3.3 2.5.3.1.3.4.2.9.3.9.3 1.3.3 1 .3-.4.2-.3.3-.1.3-1 .3-.4.2-.2.3 0 .3.2.3-.1.3 0 .2-.1.3-.4.3-.9.3 0 .3.1.2-.5.3.7.3.4.3-.5.3.2.2.4.3-1.1.3.3.3-.9.2-.5.3 1.1.3.7.3-1 .3-.6.2-.3.3-1 .3-1.9.3-.9.3 1.4.2 1.4.3.6.3.6.3.3.3-.7.2-.7.3 1.2.3 1.7.3-.1.2-.5.3.1.3 1.1.3.6.3-.5.2.4.3.3.3-1.1.3-1.2.3-.1.2.9.3.1.3.1.3.3.2 0 .3.4.3-.6.3-.4.3 1.4.2.6.3-.8.3-.6.3-.3.3-.7.2-.3.3.7.3.9.3.1.3-2.7.2 2.2.3.2.3.2.3-.5.2-.4.3-1.4.3 1.2.3.5.3-1.5.2-.4.3.7.3 1.7.3 1.8.3.3.2-1.2.3-1 .3.1.3.4.3.4.2.5.3-.4.3-1.1.3-.6.2.1.3 1.1.3 1 .3-.8.3-1.2.2.6.3.8.3.4.3.4.3-.3.2-1 .3-.1.3 1 .3.3.2-.1.3-.6.3-.9.3.6.3.2.2-.9.3 0 .3.3.3.4.3-1.7.2.9.3.5.3-1.1.3-.1.3 1.7.2.7.3-.5.3-.7.3-.6.2 0 .3-.6.3-.7.3.4.3 1.3.2.7.3-.2.3 0 .3-.3.3.6.2 1.4.3-.9.3-1.5.3.5.3.8.2 0 .3-.6.3.1.3-1.5.2 1 .3.9.3-.2.3-.9.3-.5.2-.8.3-.3.3.2.3 1 .3.3.2-1 .3-.8.3-.1.3-.2.2-.6.3.2.3 1.8.3 1 .3-.9.2-.4.3-.2.3-.8.3-.6.3-.2.2-.8.3-2.4.3 3.4.3.1.3-.1.2.1.3.6.3 1.6.3 2.5.2-2.5.3-.4.3.9.3-.6.3-1.9.2 0 .3-2.1.3 3.7.3.4.3-.5.2-.7.3.2.3.6.3-.4.2-.8.3-1 .3-.6.3 1.7.3 1.8.2.1.3 1.2.3-1.6.3.4.3.3.2-.6.3-.3.3 1 .3.9.3.1.2-.6.3-1.1.3-.6.3-.5.2-.7.3 0 .3.8.3 1.2.3.7.2-1.1.3-1.3.3.8.3 2.6.3 1.1.2-.9.3-1.3.3-4.4.3 4 .3.2.2.6.3-3 .3 0 .3 1.8.2 1.7.3.8.3-.2.3-1.1.3 1.4.2-2 .3-.7.3.2.3-2.1.3.4.2 1 .3.5.3-1.8.3-1.1.2-3.1.3 1.9.3.2.3 1.6.3 1 .2.2.3.3.3-.5.3-.5.3-.2.2-.3.3.2.3 1 .3 0 .3-.9.2-.9.3.4.3 1.2.3-.4.2-1.4.3-1.5.3-.4.3 1.3.3.6.2.8.3 1 .3.2.3.8.3 1.2.2-.3.3-1.8.3 0 .3 1.4.3-.1.2-.6.3-.2.3.1.3.5.2.3.3-.3.3.2.3.9.3.4.2-.8.3-2.8.3 1.4.3-1.8.3 2.1.2 1 .3-.3.3-.4.3 0 .2 0 .3.1.3-.4.3-.8.3.1.2.9.3.1.3-2.7.3 2.7.3.9.2.1.3-.7.3-1.2.3.4.3 1.3.2-.4.3-1.1.3-.1.3.3.2.1.3 0 .3-.6.3-.8.3-.3.2-1.4.3-2.3.3-1.1.3-1.2.3-.1.2-2.9.3 3.9.3 3.5.3 1.7.2 0 .3-.1.3-.2.3.6.3 2 .2 1.3.3-.4.3-.6.3.1.3.3.2.2.3-.4.3-1 .3-.1.3.8.2-.3.3-.6.3-.2.3.3.2-.8.3-2 .3-.8.3 1.1.3 2.4.2-.4.3.3.3-.3.3.9.3 1 .2-1.1.3-3.5.3 2.5.3-.1.3.3.2 1.4.3 0 .3-1.6.3-1.1.2-.2.3.2.3 2.1.3 1.7.3-.7.2-1.3.3-.8.3.1.3-.2.3-.4.2-.1.3-.9.3-.9.3-.3.2.1.3.9.3 1.6.3 1.8.3 1 .2-.2.3.1.3.2.3.8.3-.8.2-.3.3-.1.3-.1.3-.7.3 0 .2-.1.3-1 .3-.9.3 1.6.2.2.3.5.3-.1.3.7.3 1 .2-2.8.3 2.5.3-.3.3-1 .3-.6.2 0 .3 0 .3.1.3-3.2.3 3.5.2.6.3.1.3-.7.3-.5.2.6.3.8.3.6.3-.4.3-1.1.2-.5.3-.1.3.2.3-.8.3-.8.2 3.1.3-.2.3-.8.3-.2.2.1.3-.5.3-.1.3.2.3-.4.2-.6.3.6.3 1.2.3.3.3 0 .2-1 .3-1.4.3.8.3 1.1.3-.9.2-3 .3 3 .3.1.3-1.8.2-.8.3 1.5.3 3.5.3-1.5.3-.9.2-.6.3-.3.3.4.3.5.3.3.2.4.3-.6.3-1 .3.8.2 1.6.3.2.3-1 .3-.7.3.2.2.3.3.5.3 0 .3-.4.3.4.2.5.3.3.3.7.3-.1.3-1.2.2-.7.3.1.3-.2.3-.6.2-.2.3.2.3.1.3.5.3.4.2-.1.3-.3.3-.8.3 0 .3.5.2-.1.3.3.3.2.3.1.3.1.2-.9.3-1.4.3-.9.3.5.2 1.2.3 0 .3-2 .3 2.1.3-.8.2 2.9.3.9.3 1 .3-.4.3-1.4.2-2.7.3 3.8.3-1.2.3.2.2.1.3-1.1.3-.4" stroke="#00ff2a"/><path d="M26.6 132.7l.2 0 .3.4.3.7.3.1.3-.6.2-.3.3 0 .3.3.3-.2.2-1.4.3 0 .3 1.3.3.1.3-2 .2.6.3 0 .3.8.3.1.3-.7.2 0 .3-.3.3-1.8.3-.1.2 1.4.3.1.3.1.3-.2.3-1.5.2-.3.3 1.3.3.5.3-1.1.3-.5.2.7.3 0 .3-.3.3 0 .3-1.8.2-3.1.3 0 .3 3 .3 1.6.2.3.3-.4.3-3.2.3 5 .3-.8.2-1.5.3.4.3.5.3-.3.3.3.2.9.3.7.3-.8.3-1.2.3-.3.2-.2.3-.1.3.2.3.2.2-1.4.3-1 .3 1.9.3.5.3-.9.2.3.3 0 .3-.1.3.4.3.3.2.1.3.2.3.1.3-.3.2.3.3-.9.3-1 .3 1.6.3 1.7.2-.4.3.2.3.5.3-1 .3-.1.2.8.3-.5.3-.9.3.1.3.3.2-.2.3-.2.3.1.3.3.2-.1.3.1.3.3.3-.2.3-.3.2.5.3-.1.3-.6.3-.6.3-.3.2-.2.3-1.1.3 1 .3 2.6.2-.9.3-4.9.3 3.8.3.6.3.6.2 0 .3-.4.3-2.1.3.4.3 1 .2 0 .3.6.3-.4.3.8.3-.4.2.2.3.1.3.7.3 1.1.2-.1.3-.9.3.1.3 0 .3-.8.2-.6.3-.2.3 0 .3.4.3-.8.2-.3.3 1.4.3.9.3.5.3.7.2.5.3-.7.3-.7.3.3.2.5.3-.8.3-.9.3.4.3.2.2-1.1.3-1.3.3.8.3 1.7.3-.1.2-1.5.3-3.4.3 3.6.3-.1.2-1.9.3 3 .3 1.4.3-.8.3-1.1.2.4.3.3.3-.3.3-.3.3-.9.2 0 .3.7.3.9.3.7.3-.4.2.2.3-.5.3-1 .3-3.3.2 3.7.3-1 .3 1.6.3-.1.3-.2.2-.7.3-4.1.3 2.7.3-.4.3.2.2-3.7.3 3.8.3.6.3-3 .3 3 .2-3.4.3 4.3.3-.1.3-1.3.2-.7.3 1 .3 2 .3.1.3-.8.2.5.3.7.3-.3.3-.8.3.7.2.8.3-.5.3.3.3.1.2-.2.3-.4.3.1.3-.4.3-.3.2.2.3.6.3 0 .3-.4.3-1.2.2-1.2.3.5.3 1.4.3-.4.3-2.1.2-.4.3.8.3.1.3.8.2.3.3.2.3.1.3-1.6.3.2.2 1.9.3-.5.3-1.5.3-.8.3.7.2.7.3-.5.3-.3.3-.7.3-.4.2 1.2.3.3.3.6.3-.2.2-1.9.3.6.3 1.8.3.1.3-1.3.2-.3.3.4.3-.4.3-.3.3-.1.2.5.3 0 .3-.9.3.2.2.3.3-1.7.3-2.6.3-1.5.3.6.2 2.2.3 1.2.3.4.3-.3.3.8.2.9.3.8.3.5.3.4.3.6.2.1.3-.6.3-1 .3-.4.2 1 .3.6.3-.6.3-.4.3.5.2.1.3-.4.3.1.3.1.3.4.2.6.3-.2.3-.7.3.1.2-.1.3-1.4.3-.3.3 1.6.3 1.7.2-.4.3-1.2.3-.3.3.7.3.6.2.3.3 0 .3-.6.3-.5.3 0 .2.1.3.5.3-.3.3-1.2.2-2 .3-1.6.3-.1.3 1.4.3 1.7.2-.1.3-.1.3 1.5.3 0 .3-.8.2.5.3.4.3.4.3.7.3-.5.2-1.2.3-.6.3-.5.3-.5.2 1 .3.8.3-1.3.3-2.4.3-3.4.2 3.5.3 1.6.3-.5.3.2.3 1 .2.1.3 1.2.3.7.3-.8.2.9.3.8.3-.9.3-.3.3 0 .2.4.3 3.7.3.6.3-1.1.3-1.2.2-.3.3-1.1.3-.5.3.7.3.8.2-.1.3-.7.3.6.3.6.2-.7.3-.4.3 0 .3 0 .3-1.1.2-1.3.3-.6.3 1.3.3.2.3-.1.2-.1.3 1 .3 1.1.3.2.3-.2.2-1.1.3-.9.3 1.1.3-1.6.2.1.3.7.3 0 .3.7.3-1.5.2-.9.3-1.4.3-.3.3.1.3-2 .2-1 .3 1 .3-.4.3-.6.2 1 .3 1.3.3 1.6.3 1.6.3-.9.2 1.4.3-.2.3.3.3-.7.3.5.2-.1.3-.9.3.4.3.7.3.2.2.6.3.2.3-2.6.3 1.6.2-.4.3-.4.3-1.2.3-.6.3-.5.2-.1.3-.2.3-.3.3 1.4.3 1.4.2-.5.3.2.3.7.3.4.2.1.3-1.5.3-.2.3 1.1.3.4.2.3.3-.1.3-1.4.3-.6.3.8.2.6.3-.2.3.1.3.8.3.7.2-.7.3-.9.3.3.3.2.2-.2.3.5.3-.3.3 0 .3.6.2.7.3-1 .3-.8.3.9.3.8.2.1.3 1.6.3-.8.3-.9.3-1.3.2-.3.3.4.3.9.3.3.2-.6.3.3.3 1.3.3-2.7.3 1.5.2.2.3-.8.3-.2.3 1.8.3.2.2-1.3.3.1.3 1.3.3.5.2-.8.3-1 .3-.4.3.4.3.6.2.5.3-.4.3-1 .3 0 .3 1.1.2.5.3-.6.3-1.2.3-.1.3.9.2.4.3-.1.3 0 .3.1.2.7.3.6.3-.1.3-1.2.3-.8.2.4.3-.4.3-.1.3-.5.3-1 .2 1 .3.9.3-.9.3-.3.3 1.5.2 2.4.3-2.2.3-1.7.3-.1.2.7.3 0 .3-.4.3-.2.3.9.2 0 .3-.6.3-.1.3.9.3.9.2-1.3.3-.5.3 1.1.3-1 .2-.4.3 1 .3.3.3-.5.3.9.2.5.3-.1.3-.1.3-.2.3.5.2.3.3.5.3-.8.3-2.3.3-.3.2 1.3.3.8.3-.4.3-.7.2.4.3-.2.3 0 .3.3.3-.7.2 1.2.3.8.3-.9.3-3.8.3 3.8.2.7.3.5.3-.5.3-.4.2-1 .3-.5.3.8.3.3.3.1.2.3.3-.8.3 1.6.3-.3.3-1.2.2-.7.3.9.3.7.3-.2.3 0 .2 1.3.3.5.3-1.5.3.5.2 1.9.3 0 .3-1.6.3-1.1.3-.3" stroke="#00ffa9"/><path d="M23.2 138.3l.3-.4.3-.2.2 1 .3 0 .3-1.2.3 0 .3-.4.2-.8.3.5.3 0 .3-1.2.3-.7.2.3.3.6.3-.3.3-1.1.3.7.2-.8.3.4.3.4.3 1.4.2 1.5.3-.5.3-1.2.3 0 .3-.3.2-.9.3-.8.3-1.4.3.1.3.9.2-.9.3-.6.3.2.3-.8.3-1.5.2-.7.3-.8.3-3.3.3-1.8.2 4 .3 3.6.3.1.3-.5.3.6.2-.1.3-1.8.3 1.5.3 1 .3.4.2-.2.3.5.3.9.3.2.2 0 .3.3.3-.7.3-.8.3 0 .2-.3.3-.3.3.7.3.8.3-.9.2-.8.3-.1.3.1.3.5.3.2.2.6.3-.1.3-.8.3-.4.2.2.3-.3.3 2.1.3.7.3.7.2-.4.3-1.4.3-.4.3-2.8.3 2.9.2.4.3 1 .3.7.3-.3.3-.6.2.3.3-.4.3.3.3.8.2-.8.3-.6.3 0 .3-.1.3.7.2-.9.3-2.1.3 3 .3.4.3-1.1.2-2 .3-.2.3.2.3.5.2 1.1.3 0 .3-.2.3-.1.3.2.2.9.3-.1.3-2.1.3 1.2.3 1.1.2-.8.3-1.5.3.6.3.4.3.5.2.3.3.8.3-.5.3-.4.2.3.3.2.3 1.4.3-.2.3-1.1.2-.3.3 1.1.3-.3.3-1.9.3 1.6.2-.7.3.4.3.1.3-.1.3.3.2.9.3-.7.3-.4.3.3.2-.7.3-2.1.3.9.3.2.3.4.2 0 .3.8.3.5.3-.2.3.1.2.3.3-.4.3-.8.3.5.2.5.3-.2.3-.1.3.2.3-.2.2-.7.3-.2.3-.4.3-.9.3 0 .2.9.3.8.3.7.3 0 .3-.5.2 0 .3 1.6.3.7.3-1.6.2-1 .3.1.3.1.3-.1.3-.2.2.6.3 1.4.3.3.3-1.5.3-.6.2.9.3.1.3-.8.3.5.2.4.3-.2.3-.8.3 0 .3 0 .2-1.5.3-1.7.3-.6.3.5.3 1.4.2-.5.3 3.2.3.9.3 0 .3-.9.2-4 .3 2.8.3 1.4.3.7.2-1 .3-.3.3-.1.3.4.3 1.6.2.2.3-1 .3-1.5.3-.3.3-.2.2-.9.3 0 .3-.1.3.4.3 1.3.2-.4.3-.5.3.4.3.4.2.7.3-.3.3-1 .3-.4.3 1 .2.1.3.9.3-1.4.3-.4.3 1.1.2.7.3-.3.3.4.3 0 .2-1.4.3-.6.3.9.3-.1.3-1.8.2-.4.3 1.3.3.8.3 0 .3 1.3.2 1 .3-1.8.3-.9.3.3.3-.4.2.1.3.4.3-1 .3-1.9.2-.2.3 1.3.3.3.3-.9.3-.8.2-.7.3-.8.3.1.3 1.9.3 1.6.2-.2.3-.5.3.2.3.2.3.9.2 1.3.3 1 .3.3.3-1 .2-1.2.3 0 .3-.5.3-.6.3.9.2 0 .3-.9.3.2.3.5.3 0 .2-.8.3-.6.3.7.3 1.6.2.8.3-.8.3-1.3.3-.7.3.7.2 1.2.3-.5.3-.6.3.4.3-.2.2.6.3.8.3-1.2.3-.7.3.6.2.3.3.4.3.2.3-.3.2-.6.3-.8.3-1.8.3-1.9.3.4.2.2.3 0 .3.6.3.2.3 1.3.2.9.3-.3.3.8.3.5.2-.7.3.2.3.4.3-.7.3-.5.2-.4.3-.5.3-.8.3-1.8.3-2 .2-1.9.3-.1.3 2.7.3 2.1.3.9.2.7.3.3.3.6.3.6.2-.4.3.4.3.7.3-.5.3-.1.2.8.3.4.3.3.3-.4.3-.7.2 1.2.3.4.3-.4.3-.4.3-.5.2 0 .3-.7.3-.5.3.4.2.5.3 1.4.3 1.1.3 0 .3-1.2.2.2.3.5.3.3.3-3.2.3 1.5.2-.5.3 0 .3-.3.3.3.2 1.3.3-.3.3-.9.3.4.3.5.2-.6.3-.5.3-.1.3.3.3.6.2-.2.3-1.9.3-1.6.3-.2.3-.4.2-1.7.3-1.3.3-.8.3-.8.2.8.3 1.9.3 2.1.3 2 .3.4.2-.4.3 2.2.3-1.6.3.6.3.7.2-.2.3-.1.3.2.3.7.3.6.2-2.8.3 2.6.3-.5.3-.7.2-.6.3-.4.3.5.3-.4.3-1.9.2-1.6.3-2.3.3 4.7.3-.8.3 2.5.2-1.7.3-.2.3 1.3.3.2.2-.4.3-.2.3-.2.3.2.3.8.2 1.4.3.5.3-.6.3-.1.3 0 .2-1 .3-.9.3.3.3.3.3-.1.2-.5.3-.4.3-.2.3-.2.2.3.3.2.3-.4.3-.4.3-.5.2-.1.3 1.6.3 1.2.3 0 .3.3.2 1.2.3.3.3-.9.3-.2.2.2.3-.1.3.2.3-.1.3-.5.2.3.3.6.3.4.3 1 .3-.4.2-1 .3 0 .3-.6.3-1 .3.2.2.9.3.4.3-.7.3-.1.2 0 .3-.9.3-.6.3.7.3.7.2.5.3-1 .3-.3.3 1.3.3.7.2-.6.3-.9.3-.3.3.2.3-.3.2-.4.3.1.3.4.3.1.2 0 .3-.4.3 0 .3.6.3.2.2.7.3-1 .3.5.3-.1.3-3.2.2 3.1.3.3.3-.5.3 1 .2.6.3-1.3.3.1.3 1.6.3 1 .2-1.3.3-2 .3-.5.3.1.3.9.2 1.3.3-3.5.3 2.2.3-1 .3.4.2.8.3-.2.3-.9.3.8.2 1.3.3-3 .3 1.8.3.2.3 0 .2 0 .3-.5.3-.3.3.2.3.4.2.4.3-1.7.3 2.5.3-1 .3-.3.2.5.3.2.3-.3.3.6.2.5.3-.3.3 0 .3-.5.3-.4.2.8.3 0 .3 0 .3-.9.3.2.2-.2.3-1.3.3-.2.3 1.1.2.4.3-.2.3-.7.3 1.4.3.4.2-.1.3-.9.3-.4.3-.3.3.5.2 1.4.3.6.3-.6.3-.4.3-1.5.2-1 .3.8.3.9.3-.1.2-.6.3 2.1.3-.3.3.2.3-1 .2-1.2.3-.2" stroke="#00e9ff"/><path d="M19.9 141.3l.2 0 .3-.3.3-1.1.3-.6.3-2.6.2 1.3.3-.6.3.2.3-.6.3-.3.2 1.1.3 1.4.3-.1.3-.7.3-.8.2-.8.3.9.3 2 .3.4.2-1 .3-1.1.3-1.3.3-2.8.3 3.2.2 1 .3 0 .3.2.3.8.3-.3.2-.5.3.8.3-.3.3-.6.2.1.3-.5.3.1.3-1.1.3-2.5.2-2.1.3-.8.3 2.3.3 1.5.3.1.2.5.3.9.3 1.2.3 1.3.3.2.2-.4.3.7.3.3.3-.3.2 0 .3-.2.3-.1.3 1 .3 1.8.2-.9.3-2.6.3-.3.3 1.5.3.2.2-.3.3-.3.3-1 .3.2.3.3.2-.3.3.8.3-.5.3-.5.2 1.4.3.3.3-.7.3-.6.3-1 .2-.9.3.6.3 0 .3 1.4.3-.7.2-.8.3.5.3-.8.3 1.3.2-.4.3-.8.3-.5.3.9.3.3.2.1.3 0 .3-.5.3-.3.3-.6.2.3.3.9.3-3.9.3 4 .3-.3.2-.6.3 0 .3.5.3-.5.2-.7.3.8.3.4.3.1.3-3.1.2 3.1.3-.3.3.4.3-.9.3-.7.2 1.1.3.5.3-.2.3 0 .3-.4.2-.4.3.7.3 1.5.3-.2.2-.3.3 2 .3 1.3.3-1.2.3-1.2.2-.3.3-.1.3-.8.3-.8.3.3.2-.7.3-.2.3-.3.3.3.2 1.1.3-.3.3-.4.3 1.2.3.5.2-.6.3-.2.3-1.3.3 1.8.3.5.2-1.5.3-.1.3-.9.3-.4.3-.2.2.4.3 1.2.3-.1.3-2.5.2 2.6.3.2.3 0 .3.5.3.4.2.1.3.5.3.2.3-.9.3-.6.2 0 .3-.1.3-.8.3-.4.3 1.1.2 1.2.3-.2.3-.5.3-.3.2.1.3.6.3-.4.3-1.5.3-.9.2.7.3.2.3-1.1.3.1.3.7.2-.2.3.4.3.4.3-.8.2-.2.3.4.3.4.3 0 .3-.3.2-.2.3-.5.3.8.3 1.1.3-.2.2-.9.3-.1.3.8.3.1.3.1.2.8.3.3.3-.8.3-1.8.2.1.3 1.8.3.8.3.5.3-.6.2-1 .3.8.3 1.8.3-2.5.3.4.2.1.3-1.4.3-.9.3.7.2.6.3.2.3.1.3-.2.3.1.2.6.3-.5.3-.6.3.9.3.2.2-1.7.3.8.3 2.3.3-.2.3.4.2-2 .3 1.2.3.6.3-1.4.2-2.3.3-.9.3.6.3-.2.3-.5.2.3.3 1.1.3.7.3 0 .3-.3.2.2.3.6.3.3.3 0 .3-.5.2-.9.3-.1.3-.2.3-.3.2.4.3 1.3.3-.5.3-2.2.3-.6.2.1.3-.3.3-.4.3.2.3 1.2.2-.3.3 0 .3 1.6.3 1 .2.3.3-.1.3.9.3 1.3.3.5.2-.1.3.4.3-.3.3-1.3.3-.5.2-.4.3-.1.3.2.3-.2.3.1.2.2.3.6.3-.3.3-1.7.2.1.3.9.3.1.3.3.3.3.2-.4.3-.7.3-.4.3.3.3-.8.2-1.5.3.9.3 1.8.3.4.3.8.2.9.3-.1.3-1.1.3-.1.2-.4.3-1.5.3.9.3.3.3-1.3.2-.1.3.6.3-1.5.3 0 .3.8.2.9.3.5.3.1.3.5.2 1.1.3 2.4.3-2.2.3-1.8.3-1.1.2 0 .3.6.3-.1.3-.7.3-1.5.2-2.5.3-1.4.3-.3.3-.8.3-.3.2.2.3 3.2.3 2.7.3 1.4.2-.6.3-.5.3 1.4.3 1.6.3-.3.2-.9.3-.3.3-.2.3-.6.3.7.2 1.7.3-1 .3-2.5.3.3.2 1.9.3 1.5.3.6.3-1 .3-.3.2.1.3-1.3.3-.4.3.9.3.8.2.2.3-1.7.3-1.9.3.1.3.5.2.6.3 1.5.3.8.3-.5.2-.8.3.1.3 1.6.3.6.3-1.4.2-1 .3-.5.3 0 .3.4.3.3.2-1.1.3-.1.3 1.8.3.4.3-1.6.2-1.4.3-1.3.3-1.5.3-1.4.2-1.7.3 0 .3 1.4.3 1.4.3 1.8.2 1.3.3.6.3.6.3.2.3-.3.2.3.3.8.3-.5.3 1.1.2-.5.3-1.4.3-.1.3.6.3 0 .2.5.3-.6.3-1.7.3.5.3-.1.2 1.8.3 1 .3-.8.3-1.1.3-.1.2.7.3.7.3-.6.3-1.2.2-.6.3.5.3 2 .3 1.3.3-.4.2-.5.3-.8.3-4.3.3 4.5.3 1.5.2.1.3-.6.3-1.1.3-1 .3.1.2-.1.3-.1.3.5.3-.4.2-.4.3 0 .3-.3.3-.6.3.2.2-.3.3-1.3.3.3.3.8.3-.7.2.6.3.8.3-.7.3.4.2 1.2.3.1.3-.1.3.4.3.4.2-.3.3-.5.3.9.3 1.9.3.5.2-1.2.3-.4.3.7.3 0 .3-.1.2.3.3-.7.3-.3.3.3.2-.4.3-.6.3-1.1.3 2.2.3-.1.2-1.7.3-.9.3.5.3.8.3.5.2.4.3-.1.3-.1.3.2.2.6.3-.5.3-1.2.3-.1.3 2.2.2-1.5.3.2.3-.1.3-.6.3-.4.2.6.3 1.6.3.2.3-.4.3-.2.2-.3.3-.5.3.6.3.3.2.2.3 1.5.3 0 .3-.7.3-.7.2-.8.3 1.1.3 1 .3-.8.3-.5.2 1.3.3-1.3.3-.6.3-.5.3-.1.2-.6.3.1.3.8.3-.4.2-.3.3.4.3.5.3.3.3-.5.2-.3.3.7.3.9.3 1.2.3-.3.2-1.6.3-.1.3-.1.3-.8.2-.3.3.9.3.9.3-.8.3-1.2.2-1 .3-.1.3.2.3-.1.3.8.2 1.3.3-.6.3-1.6.3 1 .3 2.5.2.8.3-1.1.3-1 .3-1.1.2-.2.3.1.3-.3.3.8.3.3.2.6.3 1.1.3-.9.3-1.3.3 0 .2.2.3.4.3.1.3-.3.3-.2.2-.5.3-.9.3-.1.3 1 .2.2.3-1.2.3-.6.3.8.3 1 .2 0 .3-2.5.3.9.3.7" stroke="#0094ff"/><path d="M16.5 146.3l.3-1.1.3-1.3.3-.1.2.8.3-.3.3-1.3.3 0 .3.5.2-.4.3-.4.3.2.3.5.3.7.2.6.3-.2.3-1.7.3.9.2-.1.3-.5.3.3.3 1.2.3-.3.2-1.6.3-.1.3.8.3.4.3-1.6.2 1.4.3.6.3-.3.3-.3.2 0 .3-.1.3-1.2.3-1.2.3-.9.2-.8.3-.5.3-1.4.3-1.2.3.7.2 2 .3 2.9.3.3.3-1.4.3-.6.2 1.2.3 1.5.3-4.6.3-1.3.2 4.8.3 1.6.3 0 .3-.8.3.1.2.1.3-.7.3-.5.3.1.3.5.2-.9.3-.7.3 1.7.3.8.3-.8.2.8.3 1.6.3-3.9.3 2.8.2.8.3-1.3.3-2.6.3.4.3 1.4.2-.2.3-.6.3-.8.3-.5.3.9.2.9.3-.5.3 0 .3.9.2-.4.3-3.4.3 1.6.3 1.5.3.7.2-2.6.3 1 .3 1.3.3.4.3.1.2.1.3-1.5.3-.5.3 1.1.3.3.2-.7.3-.7.3 0 .3.5.2 0 .3.9.3-1.2.3-.1.3.1.2 0 .3.5.3.3.3.8.3.8.2-1.1.3.1.3.8.3-1.2.2-.8.3.6.3.8.3-1.1.3-1.1.2.8.3.6.3 1 .3.4.3-.7.2.4.3.5.3.5.3-.9.3-4.2.2 4.5.3 1.4.3-1.6.3-2.4.2-.5.3.2.3-.4.3.4.3-.1.2.4.3 1.4.3-.3.3-1.2.3-.6.2.8.3.8.3-1 .3-.7.3.5.2-1.2.3 2.3.3 1.3.3.9.2 0 .3-.9.3-.9.3-.5.3-.2.2-.2.3-.2.3.5.3.4.3.1.2-.1.3.9.3 1 .3-.8.2-.5.3.5.3-.5.3-.7.3.3.2.5.3-.2.3-.7.3-.2.3-.4.2 0 .3.2.3-.5.3-1.1.3-.8.2.6.3.8.3-3.8.3 3.6.2.4.3 1 .3.9.3.3.3.1.2-.5.3-.2.3.5.3-.3.3.5.2 1.4.3-.1.3-1.6.3-.7.3 1.9.2-.9.3-.8.3.5.3.6.2.1.3.8.3-.4.3.6.3-1.9.2-1.2.3 0 .3.6.3.8.3-.3.2-.6.3-.1.3-.3.3-.2.2.5.3 1 .3.1.3-.9.3.4.2.7.3.3.3.4.3-.6.3-1.3.2-1.3.3.7.3 1.7.3.3.3 0 .2-.2.3-.2.3 1 .3-.9.2-2.1.3 0 .3.4.3-.5.3-.8.2-.5.3-.3.3-.2.3.5.3.8.2.6.3.7.3.3.3-.4.2-.7.3-.1.3.5.3.5.3.3.2-.6.3-2.3.3.8.3 1.6.3.3.2-1.3.3-.6.3.4.3.1.3-.7.2-.1.3-.2.3-.3.3 1.8.2 1.4.3-2.3.3 1.3.3 1.4.3.5.2-.4.3.5.3.4.3-.8.3.2.2.1.3 1.1.3.3.3-.8.3-.7.2-.1.3-3.4.3 3.1.3.4.2.6.3-1.2.3-.6.3.6.3.3.2.5.3.6.3-.8.3-1.2.3-.6.2-.9.3.1.3.4.3-.8.2-.2.3.1.3.7.3.9.3-1.2.2 1.3.3.2.3.7.3 1 .3-.7.2-2.9.3-1.7.3.1.3-.7.3-.3.2 1.4.3 1.5.3.8.3-.2.2.1.3.6.3-.9.3-.7.3.8.2.5.3-.2.3.2.3-.4.3-.8.2-3.4.3 1.2.3-.7.3-.4.3-2.2.2-1.3.3.4.3 1.6.3.8.2 2.7.3-.4.3 1.6.3.5.3.8.2.2.3-.2.3 0 .3.4.3.7.2-.9.3-.9.3.6.3.6.2 0 .3.3.3.8.3.5.3 0 .2.4.3.3.3-.8.3-3.5.3 4.4.2.5.3-1.9.3-1.1.3 1 .3.3.2-.8.3-.9.3-.8.3.5.2 1.4.3 1 .3.5.3.1.3.1.2.1.3-.7.3 0 .3.7.3-3.5.2 2.1.3.1.3.4.3-1 .2-.5.3-.5.3-.9.3-2.9.3 2.1.2-1.1.3-1.7.3-1.4.3.6.3 1.5.2 1 .3.8.3.8.3 1.7.3 1.1.2-.6.3.7.3 0 .3-.5.2.1.3.4.3-1.1.3-1 .3.7.2.9.3 0 .3-1.1.3-1.4.3-.2.2.2.3-1.2.3-.5.3.4.3-1.3.2-.3.3 1.2.3.5.3 1.1.2.8.3.7.3-.1.3.5.3-.2.2-.1.3-.7.3-.8.3 1.2.3.6.2-.3.3.2.3 1 .3.5.2-.4.3-2.1.3 1.9.3-.3.3-.4.2.3.3.7.3-.9.3-.8.3 1 .2.1.3-.6.3.2.3-.5.3-.9.2-.4.3.5.3 1.1.3-1.6.2 2.1.3-.4.3.4.3.6.3-.4.2-.2.3.4.3-1.3.3.7.3 1 .2 0 .3-.9.3-.3.3.6.3.6.2 0 .3-.5.3-.3.3.4.2.4.3.4.3-.3.3-1.4.3-1.3.2-.3.3 1 .3 1.2.3-.1.3-.6.2-.6.3-.3.3.7.3.9.2.1.3-.1.3-.2.3 0 .3-.2.2-.1.3.1.3-.3.3-.1.3.3.2.5.3-.3.3-.4.3.5.3.8.2.1.3-.5.3.1.3.7.2-1.9.3 2.8.3-.2.3-1.1.3-1.8.2.4.3.5.3-.5.3.6.3 1 .2.6.3.8.3.8.3-.4.2-1.8.3-.5.3.8.3-.1.3-1.4.2-.9.3.4.3 1.5.3.7.3-.8.2-.3.3.3.3-.2.3-.7.3 0 .2 1.3.3.2.3-1.3.3.2.2 1.8.3-.1.3-4.8.3 2.2.3-.3.2.7.3 1.7.3-.1.3.9.3-2.5.2-1.1.3.3.3 1.4.3-.1.3-.8.2.7.3-.8.3-.9.3.8.2.3.3.4.3-.1.3.5.3.4.2.2.3.4.3-.9.3 0 .3.3.2-.8.3.2.3-.6.3.9.2.4.3.5.3.5.3-.9.3-.8.2.6.3.7.3-.1.3-.7.3-.4.2-.4.3.3.3.9.3-2.4.3 1.5.2-.9" stroke="#0054ff"/><path d="M13.2 149.4l.3-.1.2.8.3-.2.3-.7.3-.6.3-.9.2-.8.3-.3.3-.3.3-.8.2 0 .3.4.3-.3.3.2.3.8.2-.1.3-.1.3.6.3-.4.3-1.7.2.1.3 1.6.3 1.4.3-1.5.3 1.3.2-1.5.3.5.3-1.6.3-1.1.2.8.3 1.5.3.6.3-.2.3.3.2.9.3-1.1.3-2.7.3-3.3.3-4.4.2-.8.3 4.6.3 2.7.3.2.3.5.2 1.3.3.3.3.3.3 0 .2-1.9.3-1.1.3.1.3 1.1.3 1.4.2-.1.3-.1.3 2.5.3-2.1.3.1.2 1.5.3.5.3-.6.3-.6.2 0 .3-.6.3-1.9.3-2 .3 2.3.2 1 .3-.2.3-.2.3.5.3.2.2.4.3.9.3-.3.3 1.3.3-.9.2.6.3-.2.3-.4.3-.1.2-.6.3-2.2.3-.4.3 1.9.3.9.2.1.3-.9.3-1.5.3.2.3 1.2.2.6.3.8.3.6.3-1.1.3-.9.2.7.3.6.3-.2.3-3.3.2 1.6.3 1.2.3-1.9.3-1.5.3.2.2 1.1.3.5.3.5.3.6.3.3.2 1.3.3-.4.3-2.2.3.2.2.8.3-.6.3.6.3 1.1.3-.5.2-1.1.3 0 .3.5.3 1.1.3-.9.2-.2.3.1.3-.8.3-1 .3-.3.2 1.1.3 1.7.3.8.3-1.1.2-1 .3-.4.3-.6.3.8.3 1.1.2-1 .3-.2.3 1.5.3.8.3-.8.2-1.3.3-.5.3.7.3.8.2-.7.3-1.4.3.2.3.2.3.5.2 1.2.3-.6.3-1.9.3-.5.3 3.9.2.5.3-.9.3.2.3-.3.3.4.2.7.3-1 .3-.8.3.1.2-.4.3.2.3.4.3.2.3-.4.2-.1.3-.6.3-.1.3-3 .3 2.3.2.8.3.6.3.7.3 0 .3-1.2.2-.8.3.2.3.7.3-.3.2 0 .3 1.2.3.1.3-.6.3-.1.2-.1.3.3.3.4.3.2.3.2.2-.7.3-.8.3.8.3 1.7.2 0 .3-1.2.3-1 .3.2.3 1 .2 0 .3-.5.3-.5.3-1.1.3 0 .2.4.3.1.3.6.3.4.3.3.2-1 .3-.3.3 1.2.3-.1.2-1.7.3.8.3 3.2.3.5.3-2 .2-1.7.3-.4.3.4.3.9.3.4.2-1.6.3-1.3.3-.6.3.5.3 2 .2.4.3-.2.3 0 .3-.1.2.1.3.3.3.9.3-.4.3-1.2.2-.6.3-.3.3-.2.3.5.3.2.2-.5.3.7.3 1.4.3-.8.2-.6.3 1.5.3-3.1.3-.7.3 2.3.2.1.3 0 .3.2.3.3.3.6.2 0 .3-2.3.3-1.7.3.3.3-.3.2-1.4.3-1 .3.3.3 1.2.2 1.7.3 1 .3-.1.3.2.3.6.2.6.3.5.3.5.3.1.3-.9.2-.6.3.8.3.8.3-.5.2-.7.3.9.3.4.3-.8.3-1.9.2 2.3.3.4.3-.5.3-.9.3.5.2-.7.3-1.3.3.3.3.2.3.8.2 1.6.3.1.3-.6.3-.6.2-.3.3.9.3.2.3-1.2.3 0 .2.6.3.4.3-.4.3-.8.3.5.2.6.3-1.7.3-2.5.3-.2.3 1.2.2.6.3-.7.3-.7.3.9.2.8.3.1.3 0 .3.4.3.2.2-1 .3.3.3 1.5.3 0 .3-.7.2-1.1.3-1.3.3.2.3.8.2-1 .3-2.1.3-.9.3.3.3.3.2.6.3 1.2.3.8.3.5.3.8.2 0 .3 0 .3.3.3 1.3.3 1.1.2-.4.3.6.3 1 .3-.8.2-.3.3 1 .3-.6.3-1.8.3 0 .2.8.3-.1.3.4.3 1 .3-.4.2-.1.3.3.3-.3.3-.4.3-1.3.2-.9.3.8.3-1.2.3 3.6.2-.2.3-.5.3-.6.3.1.3.8.2-1.2.3-2.6.3-.1.3 1.2.3.5.2.2.3.1.3.6.3.8.2 0 .3-1 .3-1.9.3-.8.3.8.2.2.3-1.6.3-2.1.3-4.7.3 4 .2 2.1.3.6.3-1.8.3-.3.3 2.2.2 2.6.3-.2.3-.6.3 1.3.2.5.3.3.3 1.4.3-.8.3 0 .2-.7.3-.7.3.1.3 1.6.3.3.2-1.5.3-.3.3.3.3.1.2-.1.3 0 .3-1.4.3-1.1.3-.2.2 1.1.3 1 .3 1.3.3-3.8.3 2.6.2-.4.3 0 .3-.6.3.3.3 1.1.2.6.3-.3.3-.7.3 0 .2.4.3.7.3 1.1.3.2.3-1.1.2.2.3 1.8.3-1.2.3-2.5.3.7.2.8.3-1.1.3-.7.3.3.3 0 .2-1.1.3-1.1.3.6.3 1.6.2 1 .3-.2.3-.8.3-3.3.3 4.6.2.3.3.2.3-.9.3.6.3.2.2-1.1.3.4.3.5.3.2.2 1 .3-.1.3-1.6.3-.8.3.2.2.1.3.9.3.6.3-.3.3-.6.2-.4.3 1 .3.8.3-.1.3 0 .2.3.3 1.1.3.8.3-1.4.2-1.8.3-.7.3.4.3 1.6.3 1.1.2-.5.3-.8.3-.3.3.2.3-.2.2-.8.3-.8.3.7.3.7.3-.2.2-2 .3.1.3.4.3.8.2.9.3 0 .3-1.1.3-.4.3 1.4.2 1.3.3-1.3.3-2.6.3-1.5.3.9.2 2.4.3 1 .3.1.3-.7.2-1.7.3-.3.3.6.3-.1.3.3.2 1.5.3.5.3-.9.3.3.3.8.2-.4.3.2.3.3.3-.6.3-.4.2.3.3 0 .3 0 .3.4.2.4.3.8.3-.2.3-.7.3-.9.2-1.4.3.8.3 1.9.3 0 .3-1.1.2-.4.3 0 .3-.5.3 0 .2.2.3-.6.3-.4.3-.5.3 1.2.2-.7.3-.3.3.7.3.9.3.4.2-.4.3-2.1.3 3 .3.1.3-.9.2-1 .3.4.3.6.3-.9.2-.9.3.2.3.7.3 1 .3.1.2-.8.3.2.3.4.3-.5.3 0 .2 1.1.3.6.3-1.1.3-1.5.3-.2.2 1.2.3 1.6.3.4" stroke="#0015ff"/><path d="M9.8 154.9l.3.2.3-1.4.3-4.6.3 1.8.2.1.3-.2.3 0 .3 1 .2.4.3-1.4.3-.2.3.5.3-.5.2.1.3-1.7.3 1.4.3.1.3-1.7.2-.6.3.4.3.7.3.8.3-.3.2-.3.3.4.3.1.3.2.2 0 .3-.4.3.4.3.8.3-.3.2-1.1.3-.5.3.1.3 0 .3.2.2-1.2.3-3.5.3-1.2.3 2.4.2 2 .3 1.4.3 1.6.3-.2.3-.2.2-1.4.3.3.3-.1.3-.7.3-.3.2 1 .3.2.3-1 .3.2.3.7.2-.2.3-.2.3.7.3-.3.2-1.3.3-.2.3 1 .3.5.3-1.3.2-1.1.3 2.6.3 3.4.3-1.3.3-3 .2-.8.3 1.1.3 2.4.3.6.3-1.7.2-.7.3.4.3.4.3-.2.2-1.4.3-1.2.3.6.3 1 .3.4.2.4.3-.2.3-.8.3.2.3.2.2-.3.3-.5.3-1.3.3.4.2 2.3.3.2.3-1 .3-.1.3-.7.2-1.1.3-.4.3-.6.3.1.3.1.2-.7.3 1.1.3 1 .3-.8.3 1.1.2 1.4.3-2 .3 2.2.3-.4.2.6.3-1.5.3.3.3.2.3.7.2.3.3 0 .3.2.3-1.2.3-1.8.2.1.3.9.3-.3.3.4.3 1.4.2.3.3-.4.3.1.3 1 .2.4.3-.8.3-.9.3.1.3-1 .2 1.9.3-1.7.3-.6.3.3.3.1.2.6.3-.2.3.3.3 1.1.2-.3.3.1.3.9.3-1.2.3-2.6.2-1 .3 1 .3 1.7.3.7.3.3.2.8.3.4.3-.6.3-.8.3 2.1.2.1.3-2.3.3-.2.3.6.2.6.3.5.3-.7.3-.8.3.9.2 1.3.3-.2.3-1.5.3-.7.3.8.2.4.3-1.1.3-.5.3.6.2.3.3 1 .3-.1.3-1.8.3-.2.2 1 .3.1.3-.2.3-.3.3-.7.2-.3.3.2.3.8.3.8.3 0 .2.9.3.1.3-1 .3.6.2.1.3-.8.3.3.3-.4.3-.4.2 1.2.3.7.3-.6.3-1.1.3.2.2.9.3-.3.3-1.2.3.1.3 1.2.2-.3.3-.7.3 0 .3-.2.2 0 .3.2.3.1.3.6.3.4.2-.8.3-.4.3 0 .3-.1.3.5.2.2.3 0 .3.2.3.3.2.7.3.4.3.1.3.3.3-1.1.2-1.9.3-.6.3-.1.3.5.3 1.2.2-.3.3-1.6.3-.7.3.3.3.4.2.2.3 1.2.3.5.3-1.3.2.1.3 1.3.3 0 .3-.4.3.3.2-1 .3-1.3.3.2.3.2.3.6.2-.3.3-.4.3.8.3.7.3-.2.2-.8.3-.9.3-.6.3.4.2.8.3.3.3.6.3.3.3-.6.2 1.2.3.2.3-2.2.3-1.8.3 1.4.2 1.3.3-1 .3-.5.3 1 .2 1.1.3.2.3-1.2.3-1 .3.6.2.9.3-1.1.3-.6.3 3.3.3-1.7.2-.9.3.7.3 1.3.3-.2.3-.9.2-.9.3 0 .3 1.1.3.3.2-1 .3.1.3 1.5.3-.2.3-.7.2.1.3-.5.3.2.3.5.3-1 .2-.5.3.4.3-.1.3.3.2.7.3.5.3-.6.3-1.9.3-1.3.2-1.6.3 3.2.3-.4.3-.2.3 1.7.2.9.3-.4.3.2.3-.5.3-1.2.2-.5.3.5.3.7.3.5.2-.4.3-1.6.3-1.2.3-.9.3-1 .2.1.3 1.1.3 1.6.3.8.3-1.4.2 2.5.3 0 .3-3.6.3 2.2.3.7.2.6.3.4.3-.2.3.2.2.9.3 1.4.3-2 .3-.5.3-1 .2.2.3 1.3.3.6.3-.5.3-.3.2-.1.3.2.3-.6.3 0 .2.2.3-1.2.3-.9.3.6.3 1.5.2.7.3-1.3.3-1.8.3-.3.3.6.2 1.1.3.3.3-.8.3 1 .3 1.3.2 0 .3-1 .3-1.3.3-.1.2.8.3.1.3-.3.3.6.3.3.2-1.1.3-1.1.3-.5.3-.1.3.4.2-3 .3 2.6.3-1.1.3.8.3 2.3.2.8.3-.5.3-1.1.3.1.2.8.3-.4.3.1.3-.1.3-.7.2 1.4.3 1.5.3-.8.3-1.6.3-.8.2 0 .3 1.1.3 1.4.3 0 .2-.9.3-1.3.3-2 .3-.3.3 1.3.2.4.3.7.3 1.1.3.9.3 0 .2-.7.3.3.3 1.2.3.1.3-1.7.2-1.1.3 1.2.3 2.1.3.1.2-1.2.3.1.3 1.4.3 1 .3-.8.2-1.1.3.6.3.3.3-1.4.3.2.2-.3.3-.8.3.9.3 1.5.2-.6.3-2.3.3-.8.3-.1.3 0 .2 1.1.3.6.3-.1.3-.7.3-.3.2 1.3.3 1.5.3-.1.3-.6.3-.4.2.6.3 1.5.3.5.3-.2.2-.2.3-1.5.3-1.2.3.3.3-.2.2 1 .3 1.6.3.2.3-.7.3-.8.2.2.3.5.3-.4.3-1.3.3-1.3.2.6.3 2.3.3.7.3-1.1.2-.6.3-.5.3-.7.3.2.3.4.2.6.3.5.3-.6.3 1.3.3-.2.2-.8.3-.8.3 0 .3.9.2.9.3-.2.3-.3.3 0 .3-.1.2-.4.3-2.1.3.6.3.3.3-.4.2 1.1.3.6.3-1.3.3-1 .3 1.7.2 1.3.3-.7.3-.4.3 0 .2-.8.3-.9.3 1.4.3 2.6.3-2.2.2-.7.3.1.3.6.3-.3.3-3.8.2 3.6.3.3.3-1.2.3-.9.3.5.2-1.3.3 4 .3 1.5.3-2.1.2-1.7.3 1.1.3.6.3-.3.3-.3.2-.1.3.3.3.7.3.7.3-.2.2-.5.3-3.3.3 3.3.3 1.3.2-.6.3-2.1.3-.4.3.3.3 0 .2.6.3.2.3-.6.3-1.3.3-.6.2 1.2.3 1.5.3 1 .3-1.1.3-2.7.2-.2.3 1.9.3-1.5.3.7.2 1.3.3 1.3.3.3.3-1.9.3-.5.2 1.1.3.8.3.1.3-.5.3-.8.2-.2.3.3.3.4.3-.1.3-1.5.2-1.2.3 1.1.3 1.3.3-.7.2-.3" stroke="#0000ff"/></g>
<g stroke="#828282" stroke-width="1.0" fill="none">
<polyline points="8.5,157.9 8.5,82.2 62.0,14.6 229.3,14.6"/>
<polyline points="8.5,157.9 175.8,157.9 229.3,90.3 229.3,14.6"/>
</g>
<path d="M19.7 157.9v1.6 M36.4 157.9v1.1 M53.1 157.9v1.6 M69.8 157.9v1.1 M86.6 157.9v1.6 M103.3 157.9v1.1 M120.0 157.9v1.6 M136.8 157.9v1.1 M153.5 157.9v1.6 M170.2 157.9v1.1" stroke="#777" stroke-width="0.8"/>
<text x="19.7" y="170.5" text-anchor="middle" font-family="'Liberation Serif', serif" font-size="10.5" fill="#222" stroke="#222" stroke-width="0.25">600</text>
<text x="53.1" y="170.5" text-anchor="middle" font-family="'Liberation Serif', serif" font-size="10.5" fill="#222" stroke="#222" stroke-width="0.25">900</text>
<text x="86.6" y="170.5" text-anchor="middle" font-family="'Liberation Serif', serif" font-size="10.5" fill="#222" stroke="#222" stroke-width="0.25">1200</text>
<text x="120.0" y="170.5" text-anchor="middle" font-family="'Liberation Serif', serif" font-size="10.5" fill="#222" stroke="#222" stroke-width="0.25">1500</text>
<text x="153.5" y="170.5" text-anchor="middle" font-family="'Liberation Serif', serif" font-size="10.5" fill="#222" stroke="#222" stroke-width="0.25">1800</text>
<text x="48.0" y="182.5" font-family="'Liberation Serif', serif" font-size="11" fill="#222" stroke="#222" stroke-width="0.25" textLength="87" lengthAdjust="spacingAndGlyphs">Raman shift (cm<tspan dy="-3.5" font-size="7">−1</tspan><tspan dy="3.5">)</tspan></text>
<text x="232.1" y="86.9" font-family="'Liberation Serif', serif" font-size="10.5" fill="#222" stroke="#222" stroke-width="0.25">0</text>
<text x="232.1" y="74.0" font-family="'Liberation Serif', serif" font-size="10.5" fill="#222" stroke="#222" stroke-width="0.25">200</text>
<text x="232.1" y="61.1" font-family="'Liberation Serif', serif" font-size="10.5" fill="#222" stroke="#222" stroke-width="0.25">400</text>
<text x="232.1" y="48.2" font-family="'Liberation Serif', serif" font-size="10.5" fill="#222" stroke="#222" stroke-width="0.25">600</text>
<text x="232.1" y="35.3" font-family="'Liberation Serif', serif" font-size="10.5" fill="#222" stroke="#222" stroke-width="0.25">800</text>
<text x="232.1" y="22.4" font-family="'Liberation Serif', serif" font-size="10.5" fill="#222" stroke="#222" stroke-width="0.25">1000</text>
<path d="M229.3 76.9h1.2 M229.3 64.0h1.2 M229.3 51.1h1.2 M229.3 38.2h1.2 M229.3 25.3h1.2 M229.3 83.3h2 M229.3 70.4h2 M229.3 57.5h2 M229.3 44.6h2 M229.3 31.7h2 M229.3 18.8h2" stroke="#777" stroke-width="0.8"/>
<text x="198.8" y="12.3" font-family="'Liberation Serif', serif" font-size="11.2" fill="#222" stroke="#222" stroke-width="0.25" textLength="66.2" lengthAdjust="spacingAndGlyphs">Intensity (a.u.)</text>
<text transform="matrix(0.82,0,-0.57,0.95,237.6,95.8)" text-anchor="middle" font-family="'Liberation Serif', serif" font-size="10.5" fill="#222" stroke="#222" stroke-width="0.4">0</text>
<text transform="matrix(0.82,0,-0.57,0.95,225.2,112.2)" text-anchor="middle" font-family="'Liberation Serif', serif" font-size="10.5" fill="#222" stroke="#222" stroke-width="0.4">4</text>
<text transform="matrix(0.82,0,-0.57,0.95,212.8,128.6)" text-anchor="middle" font-family="'Liberation Serif', serif" font-size="10.5" fill="#222" stroke="#222" stroke-width="0.4">8</text>
<text transform="matrix(0.82,0,-0.57,0.95,200.5,144.9)" text-anchor="middle" font-family="'Liberation Serif', serif" font-size="10.5" fill="#222" stroke="#222" stroke-width="0.4">12</text>
<text transform="matrix(0.82,0,-0.57,0.95,188.1,161.3)" text-anchor="middle" font-family="'Liberation Serif', serif" font-size="10.5" fill="#222" stroke="#222" stroke-width="0.4">16</text>
<clipPath id="clpb"><rect x="150" y="101.5" width="200" height="100"/></clipPath>
<g clip-path="url(#clpb)"><text transform="matrix(0.620,-0.784,0.900,0.000,218.0,150.5)" font-family="'Liberation Serif', serif" font-size="11.0" fill="#222" stroke="#222" stroke-width="0.25">Different spot</text></g>
<rect x="139.2" y="14.6" width="90.1" height="64.9" fill="#fff" stroke="#c8c8c8" stroke-width="0.9"/>
<rect x="162.70" y="42.53" width="1.05" height="22.67" fill="#efb27c"/><rect x="163.80" y="50.65" width="1.05" height="14.55" fill="#8ccf8c"/><rect x="164.90" y="59.26" width="1.05" height="5.94" fill="#b2abe2"/><rect x="166.64" y="48.57" width="1.05" height="16.63" fill="#efb27c"/><rect x="167.74" y="54.80" width="1.05" height="10.40" fill="#8ccf8c"/><rect x="168.84" y="58.27" width="1.05" height="6.93" fill="#b2abe2"/><rect x="170.58" y="47.18" width="1.05" height="18.02" fill="#efb27c"/><rect x="171.68" y="53.32" width="1.05" height="11.88" fill="#8ccf8c"/><rect x="172.78" y="59.26" width="1.05" height="5.94" fill="#b2abe2"/><rect x="174.52" y="45.50" width="1.05" height="19.70" fill="#efb27c"/><rect x="175.62" y="54.31" width="1.05" height="10.89" fill="#8ccf8c"/><rect x="176.72" y="57.28" width="1.05" height="7.92" fill="#b2abe2"/><rect x="178.46" y="50.15" width="1.05" height="15.05" fill="#efb27c"/><rect x="179.56" y="56.29" width="1.05" height="8.91" fill="#8ccf8c"/><rect x="180.66" y="59.26" width="1.05" height="5.94" fill="#b2abe2"/><rect x="182.40" y="43.52" width="1.05" height="21.68" fill="#efb27c"/><rect x="183.50" y="54.31" width="1.05" height="10.89" fill="#8ccf8c"/><rect x="184.60" y="58.27" width="1.05" height="6.93" fill="#b2abe2"/><rect x="186.34" y="46.59" width="1.05" height="18.61" fill="#efb27c"/><rect x="187.44" y="51.34" width="1.05" height="13.86" fill="#8ccf8c"/><rect x="188.54" y="59.26" width="1.05" height="5.94" fill="#b2abe2"/><rect x="190.28" y="47.18" width="1.05" height="18.02" fill="#efb27c"/><rect x="191.38" y="53.32" width="1.05" height="11.88" fill="#8ccf8c"/><rect x="192.48" y="59.26" width="1.05" height="5.94" fill="#b2abe2"/><rect x="194.22" y="36.39" width="1.05" height="28.81" fill="#efb27c"/><rect x="195.32" y="49.36" width="1.05" height="15.84" fill="#8ccf8c"/><rect x="196.42" y="55.30" width="1.05" height="9.90" fill="#b2abe2"/><rect x="198.16" y="40.45" width="1.05" height="24.75" fill="#efb27c"/><rect x="199.26" y="53.32" width="1.05" height="11.88" fill="#8ccf8c"/><rect x="200.36" y="56.29" width="1.05" height="8.91" fill="#b2abe2"/><rect x="202.10" y="53.72" width="1.05" height="11.48" fill="#efb27c"/><rect x="203.20" y="58.27" width="1.05" height="6.93" fill="#8ccf8c"/><rect x="204.30" y="61.24" width="1.05" height="3.96" fill="#b2abe2"/><rect x="206.04" y="53.72" width="1.05" height="11.48" fill="#efb27c"/><rect x="207.14" y="59.26" width="1.05" height="5.94" fill="#8ccf8c"/><rect x="208.24" y="61.24" width="1.05" height="3.96" fill="#b2abe2"/><rect x="209.98" y="55.10" width="1.05" height="10.10" fill="#efb27c"/><rect x="211.08" y="60.25" width="1.05" height="4.95" fill="#8ccf8c"/><rect x="212.18" y="61.24" width="1.05" height="3.96" fill="#b2abe2"/><rect x="213.92" y="52.63" width="1.05" height="12.57" fill="#efb27c"/><rect x="215.02" y="58.27" width="1.05" height="6.93" fill="#8ccf8c"/><rect x="216.12" y="61.24" width="1.05" height="3.96" fill="#b2abe2"/><rect x="217.86" y="48.57" width="1.05" height="16.63" fill="#efb27c"/><rect x="218.96" y="57.28" width="1.05" height="7.92" fill="#8ccf8c"/><rect x="220.06" y="60.25" width="1.05" height="4.95" fill="#b2abe2"/><rect x="221.80" y="55.70" width="1.05" height="9.50" fill="#efb27c"/><rect x="222.90" y="58.27" width="1.05" height="6.93" fill="#8ccf8c"/><rect x="224.00" y="60.25" width="1.05" height="4.95" fill="#b2abe2"/>
<rect x="162.2" y="14.6" width="65.3" height="50.6" fill="none" stroke="#8a8a8a" stroke-width="0.7"/>
<text x="161.3" y="67.1" text-anchor="end" font-family="'Liberation Serif', serif" font-size="5.8" fill="#444">0</text>
<text x="161.3" y="57.2" text-anchor="end" font-family="'Liberation Serif', serif" font-size="5.8" fill="#444">100</text>
<text x="161.3" y="47.3" text-anchor="end" font-family="'Liberation Serif', serif" font-size="5.8" fill="#444">200</text>
<text x="161.3" y="37.4" text-anchor="end" font-family="'Liberation Serif', serif" font-size="5.8" fill="#444">300</text>
<text x="161.3" y="27.5" text-anchor="end" font-family="'Liberation Serif', serif" font-size="5.8" fill="#444">400</text>
<text x="161.3" y="17.6" text-anchor="end" font-family="'Liberation Serif', serif" font-size="5.8" fill="#444">500</text>
<text x="176.1" y="70.8" text-anchor="middle" font-family="'Liberation Serif', serif" font-size="6" fill="#444">4</text>
<text x="191.9" y="70.8" text-anchor="middle" font-family="'Liberation Serif', serif" font-size="6" fill="#444">8</text>
<text x="207.6" y="70.8" text-anchor="middle" font-family="'Liberation Serif', serif" font-size="6" fill="#444">12</text>
<text x="223.4" y="70.8" text-anchor="middle" font-family="'Liberation Serif', serif" font-size="6" fill="#444">16</text>
<text x="160.2" y="77.8" font-family="'Liberation Serif', serif" font-size="8.6" fill="#222" stroke="#222" stroke-width="0.12" textLength="67.3" lengthAdjust="spacingAndGlyphs">Random spot number</text>
<text transform="translate(148.3,61.0) rotate(-90)" font-family="'Liberation Serif', serif" font-size="7.4" fill="#222" stroke="#222" stroke-width="0.12" textLength="43.7" lengthAdjust="spacingAndGlyphs">Intensity (a.u.)</text>
<rect x="164.2" y="19.0" width="6.2" height="3.3" fill="#f3bd8c"/>
<text x="171.5" y="22.4" font-family="'Liberation Serif', serif" font-size="5.9" fill="#333" stroke="#333" stroke-width="0.1" textLength="50.0" lengthAdjust="spacingAndGlyphs">610cm<tspan dy="-1.6" font-size="3.6">−1</tspan><tspan dy="1.6">RSD=31.36%</tspan></text>
<rect x="164.2" y="24.4" width="6.2" height="3.3" fill="#96d896"/>
<text x="171.5" y="27.9" font-family="'Liberation Serif', serif" font-size="5.9" fill="#333" stroke="#333" stroke-width="0.1" textLength="50.0" lengthAdjust="spacingAndGlyphs">770cm<tspan dy="-1.6" font-size="3.6">−1</tspan><tspan dy="1.6">RSD=37.29%</tspan></text>
<rect x="164.2" y="29.9" width="6.2" height="3.3" fill="#b9b6e6"/>
<text x="171.5" y="33.3" font-family="'Liberation Serif', serif" font-size="5.9" fill="#333" stroke="#333" stroke-width="0.1" textLength="49.0" lengthAdjust="spacingAndGlyphs">1650cm<tspan dy="-1.6" font-size="3.6">−1</tspan><tspan dy="1.6">RSD=37.9%</tspan></text>
<text x="73.8" y="35.3" font-family="'Liberation Serif', serif" font-size="10.8" fill="#ee2a2a" textLength="63.6" lengthAdjust="spacingAndGlyphs">Ag@SiO<tspan dy="2" font-size="7">2</tspan><tspan dy="-2">−150</tspan></text>
</g>
<g transform="translate(0.0,179.5)">
<text x="7.7" y="27.0" font-family="'Liberation Serif', serif" font-size="11.5" font-weight="700" fill="#333" stroke="#333" stroke-width="0.0">(c)</text>
<line x1="62.0" y1="14.6" x2="62.0" y2="90.3" stroke="#cdcdcd" stroke-width="1"/>
<g fill="none" stroke-width="0.70" opacity="0.50"><path d="M60.0 94.5V90.6M225.9 94.5V90.9" stroke="#ff0000"/><path d="M56.7 98.8V94.9M222.6 98.8V94.9" stroke="#ff1500"/><path d="M53.3 103.0V99.2M219.2 103.0V98.9" stroke="#ff7700"/><path d="M50.0 107.2V103.1M215.9 107.2V103.4" stroke="#ff9400"/><path d="M46.6 111.4V107.2M212.5 111.4V107.5" stroke="#ffdc00"/><path d="M43.3 115.7V111.4M209.2 115.7V111.8" stroke="#ffff00"/><path d="M39.9 119.9V115.7M205.8 119.9V115.4" stroke="#bfff00"/><path d="M36.6 124.1V119.9M202.5 124.1V119.5" stroke="#7fff00"/><path d="M33.2 128.3V123.7M199.2 128.3V123.8" stroke="#15ff00"/><path d="M29.9 132.6V128.1M195.8 132.6V127.9" stroke="#00ff2a"/><path d="M26.6 136.8V132.2M192.5 136.8V132.4" stroke="#00ffa9"/><path d="M23.2 141.0V136.3M189.1 141.0V136.2" stroke="#00e9ff"/><path d="M19.9 145.2V140.3M185.8 145.2V140.6" stroke="#0094ff"/><path d="M16.5 149.5V144.6M182.4 149.5V144.7" stroke="#0054ff"/><path d="M13.2 153.7V148.9M179.1 153.7V148.8" stroke="#0015ff"/><path d="M9.8 157.9V152.5M175.7 157.9V152.9" stroke="#0000ff"/></g><g fill="none" stroke-width="0.90" stroke-linejoin="round" opacity="0.80"><path d="M60 90.6l.3 0 .3.1.2 0 .3 0 .3 0 .3 0 .2-.1.3 0 .3-.1.3 0 .3 0 .2.1.3 0 .3 0 .3 0 .3-.1.2-.1.3 0 .3-.1.3 0 .3 0 .2 0 .3-.1.3-.1.3 0 .2-.1.3-.1.3-.1.3-.1.3-.3.2-.3.3-.3.3-.7.3-.7.3-1.4.2-2.2.3-3.9.3-7 .3-9.2.2-1.3.3 8.6.3 7.6.3 4.5.3 2.5.2 1.5.3.9.3.6.3.4.3.4.2.2.3.2.3.1.3.2.3 0 .2.2.3 0 .3.1.3 0 .2.1.3 0 .3 0 .3.1.3 0 .2 0 .3-.1.3.1.3 0 .3-.1.2.1.3 0 .3 0 .3-.1.2.1.3-.1.3.1.3 0 .3 0 .2-.1.3.1.3-.1.3 0 .3-.1.2.1.3 0 .3.1.3-.1.3.1.2 0 .3-.1.3-.1.3 0 .2 0 .3-.1.3-.1.3-.1.3-.2.2-.3.3-.3.3-.5.3-.7.3-1.2.2-1.9.3-2.8.3-2.6.3.3.3 2.9.2 2.6.3 1.7.3 1 .3.8.2.4.3.5.3.2.3.3.3 0 .2 0 .3.1.3.2.3-.1.3.1.2.1.3-.1.3 0 .3-.1.2.1.3-.1.3.1.3-.1.3.1.2 0 .3.2.3-.1.3.1.3-.1.2.1.3-.1.3.1.3.1.3 0 .2-.1.3 0 .3 0 .3 0 .2.1.3 0 .3 0 .3 0 .3-.1.2 0 .3 0 .3.1.3 0 .3 0 .2.1.3 0 .3 0 .3 0 .3-.1.2 0 .3 0 .3 0 .3-.1.2 0 .3.1.3-.1.3.1.3 0 .2 0 .3-.1.3 0 .3 0 .3-.1.2.1.3 0 .3 0 .3.1.2-.1.3 0 .3-.1.3 0 .3 0 .2.1.3 0 .3.1.3 0 .3 0 .2-.1.3.1.3-.1.3.1.3 0 .2.1.3 0 .3 0 .3 0 .2-.1.3 0 .3-.1.3 0 .3 0 .2 0 .3.1.3 0 .3.1.3 0 .2 0 .3-.1.3 0 .3-.1.2.1.3 0 .3 0 .3 0 .3 0 .2 0 .3 0 .3 0 .3.1.3 0 .2 0 .3-.1.3-.1.3 0 .3 0 .2 0 .3 0 .3 0 .3 0 .2 0 .3 0 .3 0 .3 0 .3 0 .2-.1.3-.1.3 0 .3 0 .3-.2.2 0 .3-.1.3-.2.3-.2.3-.2.2-.3.3-.3.3-.1.3.1.2.1.3.3.3.2.3.1.3.1.2.1.3 0 .3.1.3-.1.3 0 .2-.1.3-.1.3-.1.3-.2.2-.2.3-.4.3-.6.3-.6.3-.7.2-.8.3-.4.3.1.3.5.3.7.2.7.3.6.3.4.3.3.3.3.2.2.3.1.3.1.3.2.2 0 .3 0 .3.1.3 0 .3-.1.2.1.3 0 .3.1.3 0 .3 0 .2 0 .3-.1.3 0 .3-.1.3.1.2 0 .3.1.3-.1.3.1.2 0 .3-.1.3-.1.3 0 .3 0 .2-.2.3 0 .3-.2.3-.2.3-.1.2-.1.3-.2.3-.3.3-.3.2-.5.3-.7.3-.8.3-1 .3-.8.2-.5.3.2.3.8.3.9.3.8.2.6.3.4.3.2.3 0 .3 0 .2 0 .3-.1.3-.2.3-.1.2-.5.3-.5.3-.7.3-1.1.3-1.4.2-1.6.3-1.4.3-.7.3.6.3 1.5.2 1.6.3 1.4.3 1 .3.9.2.6.3.5.3.4.3.3.3.2.2 0 .3.2.3.1.3.1.3.1.2.2.3 0 .3-.1.3.1.3 0 .2.2.3 0 .3 0 .3 0 .2.1.3-.1.3 0 .3 0 .3 0 .2 0 .3-.1.3 0 .3 0 .3-.1.2 0 .3 0 .3 0 .3 0 .3 0 .2 0 .3-.1.3-.1.3-.1.2-.1.3-.1.3 0 .3-.2.3-.2.2-.2.3-.3.3-.5.3-.5.3-.7.2-1.1.3-1.2.3-1.4.3-1 .2-.4.3.7.3 1.3.3 1.3.3 1 .2.9.3.6.3.5.3.3.3.3.2.2.3.2.3.1.3.1.3 0 .2.1.3 0 .3 0 .3-.1.2 0 .3-.3.3-.2.3-.3.3-.4.2-.6.3-.5.3-.2.3.1.3.4.2.6.3.5.3.5.3.2.3.3.2.2.3.1.3 0 .3.1.2-.1.3.1.3 0 .3 0 .3 0 .2-.1.3-.1.3-.1.3-.2.3-.3.2-.3.3-.4.3-.6.3-.7.2-.9.3-1.2.3-1.5.3-1.4.3-.8.2.4.3 1.2.3 1.5.3 1.4.3 1.1.2.8.3.6.3.5.3.3.3.3.2.1.3.2.3.1.3.2.2.2.3.1.3.1.3.1.3 0 .2.1.3 0 .3 0 .3.1.3-.1.2.1.3.1.3-.1.3.1.2.1.3 0 .3-.1.3.1.3-.1.2 0 .3-.1.3 0 .3 0 .3 0 .2 0 .3 0 .3.1.3 0 .3.1.2 0 .3 0 .3 0 .3 0 .2-.1.3.1.3 0 .3 0 .3.1.2 0 .3.1.3-.1.3 0 .3 0 .2 0 .3 0 .3 0 .3.1.3.1.2 0 .3 0 .3 0 .3 0 .2 0 .3 0 .3-.1.3 0 .3 0 .2 0 .3 0 .3.1.3 0 .3 0 .2.1.3 0 .3-.1.3 0 .2 0 .3 0 .3-.1.3.1.3.1.2-.1.3.1.3-.1.3.1.3-.1.2.1.3 0 .3 0 .3.1.3 0 .2 0 .3 0 .3 0 .3 0 .2-.1.3 0 .3.1.3-.1.3 0 .2.1.3.1.3.1.3 0 .3 0 .2 0 .3-.2.3 0 .3.1.3-.1.2 0 .3 0 .3 0 .3 0 .2.1.3-.1.3 0 .3 0 .3.1.2 0 .3 0 .3.1.3-.1.3 0 .2 0 .3 0 .3 0 .3.1.2-.1.3 0 .3 0 .3-.1.3.1.2 0 .3 0 .3.1" stroke="#ff0000"/><path d="M56.7 94.9l.2 0 .3 0 .3-.1.3 0 .2 0 .3 0 .3 0 .3 0 .3.1.2-.1.3-.1.3 0 .3 0 .3-.2.2 0 .3.1.3-.1.3 0 .2.1.3.1.3-.1.3 0 .3 0 .2-.1.3-.2.3 0 .3-.1.3-.1.2-.2.3-.2.3-.3.3-.4.3-.5.2-.8.3-1.3.3-2 .3-3.7.2-6.5.3-8.3.3-1.2.3 7.9.3 7.1.2 4.2.3 2.3.3 1.3.3.9.3.7.2.4.3.2.3.3.3.1.3.1.2.1.3 0 .3 0 .3 0 .2 0 .3.1.3.1.3.1.3.1.2.1.3-.1.3-.1.3 0 .3 0 .2-.1.3.1.3 0 .3.1.2-.1.3-.1.3 0 .3-.1.3 0 .2.1.3 0 .3 0 .3.1.3 0 .2 0 .3.1.3 0 .3-.1.3.1.2-.1.3 0 .3 0 .3-.1.2 0 .3-.1.3-.1.3 0 .3-.1.2-.1.3-.1.3-.2.3-.3.3-.4.2-.7.3-1.2.3-1.7.3-2.7.2-2.4.3.4.3 2.7.3 2.5.3 1.6.2 1 .3.6.3.5.3.1.3.3.2.2.3.1.3 0 .3.1.3 0 .2 0 .3.1.3 0 .3.1.2 0 .3 0 .3 0 .3.1.3 0 .2 0 .3 0 .3 0 .3-.1.3.1.2 0 .3 0 .3 0 .3 0 .3 0 .2 0 .3 0 .3 0 .3.1.2 0 .3-.1.3 0 .3.1.3 0 .2 0 .3.1.3 0 .3 0 .3 0 .2-.1.3-.1.3 0 .3 0 .2 0 .3.1.3.1.3 0 .3-.1.2 0 .3 0 .3-.1.3 0 .3.1.2 0 .3.1.3 0 .3-.1.3 0 .2 0 .3 0 .3 0 .3.2.2-.1.3 0 .3-.1.3 0 .3 0 .2.1.3-.1.3 0 .3.1.3-.1.2 0 .3 0 .3 0 .3 0 .3 0 .2 0 .3 0 .3.1.3.1.2 0 .3.1.3 0 .3-.1.3-.1.2-.1.3 0 .3-.1.3.1.3 0 .2-.1.3 0 .3 0 .3 0 .2 0 .3.1.3 0 .3.1.3-.1.2.1.3 0 .3 0 .3-.1.3-.1.2 0 .3-.1.3 0 .3-.1.3.1.2 0 .3 0 .3 0 .3.1.2.1.3-.1.3.1.3 0 .3-.1.2-.1.3 0 .3 0 .3 0 .3 0 .2 0 .3-.1.3-.1.3-.2.2-.2.3-.3.3-.3.3-.4.3-.3.2-.1.3.2.3.3.3.2.3.3.2.2.3.1.3 0 .3.2.3-.1.2 0 .3-.1.3 0 .3-.2.2-.2.3-.2.3-.4.3-.3.3-.5.2-.8.3-.8.3-.9.3-.6.3 0 .2.7.3.9.3.8.3.7.3.6.2.3.3.3.3.2.3.2.2.1.3.2.3 0 .3 0 .3.1.2.1.3 0 .3 0 .3.1.3 0 .2-.1.3 0 .3 0 .3-.1.2 0 .3-.1.3.1.3-.1.3 0 .2-.1.3.1.3-.1.3.1.3 0 .2 0 .3-.1.3 0 .3-.1.3-.2.2-.1.3-.2.3-.1.3-.4.2-.2.3-.4.3-.7.3-.7.3-.9.2-1.1.3-1 .3-.5.3.4.3.8.2 1.1.3.9.3.6.3.5.3.3.2.2.3.2.3.1.3-.1.2-.2.3-.2.3-.4.3-.6.3-.8.2-.9.3-1.3.3-1.4.3-1.3.3-.4.2.5.3 1.4.3 1.4.3 1.3.2 1 .3.8.3.5.3.4.3.4.2.3.3.1.3.2.3.2.3.1.2 0 .3.1.3.1.3 0 .3-.1.2 0 .3.1.3 0 .3 0 .2 0 .3 0 .3.1.3-.1.3 0 .2 0 .3.1.3 0 .3 0 .3 0 .2 0 .3 0 .3-.1.3 0 .2 0 .3 0 .3-.1.3 0 .3-.1.2-.1.3 0 .3 0 .3-.1.3-.1.2-.1.3-.2.3-.4.3-.3.3-.4.2-.6.3-.9.3-.9.3-1.2.2-1.3.3-1.1.3-.3.3.8.3 1.2.2 1.3.3 1.2.3.8.3.7.3.4.2.4.3.3.3.2.3.1.3.1.2 0 .3 0 .3.1.3 0 .2.1.3-.2.3-.1.3-.1.3-.3.2-.3.3-.5.3-.5.3-.5.3-.3.2.2.3.5.3.6.3.5.2.4.3.2.3.2.3.1.3 0 .2.1.3.1.3 0 .3 0 .3 0 .2 0 .3 0 .3 0 .3-.1.3-.1.2 0 .3-.2.3-.3.3-.4.2-.5.3-.7.3-.9.3-1.1.3-1.2.2-1.4.3-.7.3.3.3 1.1.3 1.3.2 1.3.3 1 .3.8.3.6.3.4.2.4.3.3.3.1.3.1.2.1.3 0 .3.1.3.1.3.2.2.1.3.1.3 0 .3 0 .3.1.2 0 .3-.1.3 0 .3 0 .2 0 .3 0 .3 0 .3 0 .3.1.2 0 .3.1.3 0 .3 0 .3 0 .2 0 .3 0 .3 0 .3 0 .3 0 .2.1.3 0 .3 0 .3 0 .2.1.3 0 .3 0 .3.1.3 0 .2-.1.3-.1.3.1.3-.1.3 0 .2 0 .3 0 .3-.1.3 0 .3.1.2 0 .3.1.3 0 .3 0 .2 0 .3-.1.3 0 .3 0 .3.1.2 0 .3.1.3 0 .3 0 .3 0 .2.1.3 0 .3.1.3-.1.2 0 .3-.1.3 0 .3 0 .3.1.2 0 .3-.1.3 0 .3 0 .3-.1.2 0 .3.1.3.1.3 0 .3 0 .2 0 .3 0 .3 0 .3 0 .2 0 .3.1.3 0 .3 0 .3 0 .2 0 .3-.1.3 0 .3-.1.3.1.2 0 .3.1.3 0 .3-.1.2.1.3-.1.3-.1.3.1.3.1.2-.1.3 0 .3.1.3 0 .3-.1.2.1.3 0 .3 0 .3 0 .3.1.2 0 .3 0 .3 0 .3 0 .2-.1.3 0 .3.1.3 0 .3.1.2 0 .3 0 .3 0 .3 0 .3-.1" stroke="#ff1500"/><path d="M53.3 99.2l.3 0 .3 0 .2-.1.3 0 .3.1.3 0 .3 0 .2 0 .3.1.3-.1.3 0 .3-.1.2 0 .3-.1.3.1.3 0 .2 0 .3 0 .3 0 .3-.1.3-.1.2 0 .3 0 .3 0 .3-.2.3 0 .2-.1.3-.1.3-.2.3-.2.3-.2.2-.5.3-.6.3-.9.3-1.4.2-2.4.3-4.2.3-7.2.3-9.4.3-1.4.2 8.8.3 7.9.3 4.7.3 2.6.3 1.6.2 1 .3.7.3.4.3.3.2.2.3.2.3.1.3.1.3.2.2 0 .3.1.3.1.3-.1.3 0 .2.1.3.1.3.1.3-.1.3.1.2 0 .3-.1.3-.1.3.1.2 0 .3-.1.3.1.3 0 .3 0 .2 0 .3 0 .3-.1.3-.1.3 0 .2.1.3-.1.3.1.3.1.3 0 .2 0 .3 0 .3-.1.3 0 .2 0 .3-.1.3-.1.3 0 .3 0 .2-.1.3-.1.3-.1.3-.2.3-.3.2-.4.3-.4.3-.7.3-1.1.2-1.8.3-2.6.3-2.5.3.4.3 2.7.2 2.4.3 1.7.3 1.1.3.5.3.4.2.3.3.3.3.1.3.1.3.1.2.1.3-.1.3.1.3 0 .2.1.3.1.3 0 .3 0 .3.1.2 0 .3 0 .3 0 .3 0 .3 0 .2 0 .3 0 .3 0 .3-.1.2.1.3 0 .3 0 .3 0 .3 0 .2 0 .3 0 .3 0 .3-.1.3 0 .2.1.3 0 .3 0 .3 0 .3 0 .2 0 .3.1.3 0 .3 0 .2 0 .3 0 .3-.1.3 0 .3 0 .2 0 .3-.1.3 0 .3.1.3 0 .2 0 .3 0 .3 0 .3 0 .3 0 .2 0 .3 0 .3 0 .3 0 .2 0 .3-.1.3 0 .3-.1.3.1.2 0 .3 0 .3.1.3-.1.3 0 .2 0 .3-.1.3 0 .3 0 .2 0 .3 0 .3.1.3 0 .3.1.2-.1.3.1.3 0 .3 0 .3-.1.2.1.3-.1.3 0 .3.1.3 0 .2 0 .3 0 .3 0 .3-.1.2-.1.3 0 .3 0 .3 0 .3 0 .2 0 .3 0 .3 0 .3-.1.3.1.2 0 .3 0 .3 0 .3 0 .3 0 .2 0 .3 0 .3-.1.3 0 .2 0 .3 0 .3.1.3-.1.3-.1.2 0 .3 0 .3 0 .3 0 .3 0 .2.1.3-.1.3 0 .3 0 .2-.1.3-.2.3-.2.3-.3.3-.3.2-.3.3-.3.3-.1.3.1.3.2.2.4.3.2.3.2.3.1.3 0 .2 0 .3 0 .3 0 .3-.1.2-.1.3 0 .3-.1.3-.2.3-.4.2-.4.3-.5.3-.7.3-.7.3-.8.2-.4.3 0 .3.7.3.7.2.7.3.7.3.4.3.3.3.4.2.2.3.1.3 0 .3.1.3.1.2 0 .3.1.3 0 .3.1.3-.1.2.1.3 0 .3 0 .3 0 .2.1.3 0 .3 0 .3 0 .3 0 .2-.1.3 0 .3.1.3-.1.3-.1.2.1.3 0 .3-.1.3-.1.3 0 .2-.2.3-.1.3 0 .3-.1.2-.2.3-.2.3-.3.3-.4.3-.5.2-.7.3-.8.3-1 .3-.9.3-.5.2.2.3.7.3 1 .3.8.2.7.3.5.3.2.3.2.3.1.2-.1.3-.1.3-.1.3-.1.3-.4.2-.6.3-.7.3-1 .3-1.3.3-1.4.2-1.3.3-.5.3.6.3 1.3.2 1.5.3 1.3.3.9.3.8.3.5.2.5.3.4.3.4.3.1.3.2.2.1.3.1.3.1.3.1.3 0 .2.1.3 0 .3 0 .3 0 .2.1.3-.1.3 0 .3 0 .3 0 .2.1.3.1.3.1.3.1.3-.1.2-.1.3 0 .3-.1.3 0 .2.1.3.1.3 0 .3 0 .3-.1.2 0 .3-.1.3-.1.3-.1.3 0 .2-.1.3-.1.3-.2.3-.3.3-.3.2-.4.3-.5.3-.5.3-.7.2-1 .3-1.4.3-1.5.3-1.2.3-.3.2.7.3 1.5.3 1.5.3 1.1.3 1 .2.7.3.5.3.4.3.4.2.1.3.2.3.1.3 0 .3.1.2 0 .3 0 .3-.1.3 0 .3-.2.2-.2.3-.2.3-.3.3-.4.3-.4.2-.5.3-.2.3.1.3.3.2.5.3.5.3.3.3.3.3.3.2.2.3.1.3.1.3.1.3.1.2 0 .3 0 .3-.1.3-.1.3-.1.2 0 .3-.1.3-.1.3-.2.2-.4.3-.4.3-.5.3-.5.3-.9.2-1.1.3-1.4.3-1.3.3-.7.3.3.2 1.1.3 1.3.3 1.3.3 1 .2.7.3.6.3.4.3.4.3.2.2.3.3.1.3.3.3.2.3.1.2 0 .3.1.3-.1.3 0 .3.1.2 0 .3.1.3 0 .3.2.2-.1.3.1.3-.1.3.1.3-.1.2 0 .3 0 .3 0 .3-.1.3 0 .2 0 .3 0 .3 0 .3.1.3.1.2-.1.3.1.3.1.3-.1.2.1.3 0 .3 0 .3 0 .3.1.2 0 .3.1.3 0 .3 0 .3 0 .2 0 .3 0 .3 0 .3-.1.2 0 .3.1.3 0 .3-.1.3.1.2 0 .3 0 .3-.1.3.1.3-.1.2 0 .3 0 .3 0 .3-.1.3.1.2 0 .3 0 .3.1.3-.1.2-.1.3 0 .3 0 .3 0 .3 0 .2.1.3 0 .3.1.3-.1.3.1.2 0 .3 0 .3 0 .3-.1.3.1.2 0 .3-.1.3.1.3 0 .2 0 .3 0 .3.1.3-.1.3.1.2-.1.3-.1.3 0 .3 0 .3 0 .2-.1.3.1.3-.1.3.1.2 0 .3.1.3 0 .3.1.3 0 .2 0 .3-.1.3-.1.3 0 .3 0 .2 0 .3.1.3 0 .3 0 .3.1.2 0 .3-.1.3-.1.3 0 .2 0 .3-.1.3.1.3 0 .3.1.2 0 .3 0 .3.1.3-.1.3 0 .2-.1.3 0" stroke="#ff7700"/><path d="M50 103.1l.2.1.3 0 .3 0 .3 0 .3-.1.2-.1.3 0 .3 0 .3-.1.3 0 .2 0 .3-.1.3 0 .3 0 .2 0 .3.1.3 0 .3 0 .3 0 .2 0 .3-.1.3-.1.3 0 .3 0 .2-.1.3 0 .3-.1.3-.1.2-.3.3-.3.3-.4.3-.4.3-.7.2-.9.3-1.4.3-2.5.3-4.3.3-7.6.2-9.8.3-1.4.3 9.3.3 8.4.3 4.9.2 2.7.3 1.6.3 1 .3.7.2.5.3.3.3.3.3.2.3.2.2 0 .3.1.3.1.3 0 .3 0 .2.1.3 0 .3 0 .3.1.3.2.2.1.3-.1.3 0 .3 0 .2 0 .3 0 .3 0 .3.1.3 0 .2 0 .3 0 .3.1.3-.1.3 0 .2-.1.3 0 .3 0 .3 0 .2 0 .3.1.3 0 .3-.1.3 0 .2 0 .3 0 .3-.2.3.1.3 0 .2 0 .3-.2.3 0 .3-.1.3-.2.2-.1.3-.2.3-.4.3-.5.2-.7.3-1.3.3-2 .3-3 .3-2.6.2.4.3 3 .3 2.9.3 1.9.3 1.1.2.7.3.4.3.3.3.2.3.1.2.1.3.1.3 0 .3.1.2.1.3.1.3.1.3.1.3 0 .2 0 .3-.1.3.1.3-.1.3.1.2 0 .3.1.3-.1.3.1.2-.1.3.1.3-.1.3 0 .3-.1.2 0 .3 0 .3 0 .3 0 .3 0 .2 0 .3-.1.3.2.3 0 .3 0 .2 0 .3.1.3-.1.3.1.2-.1.3.1.3-.1.3 0 .3 0 .2-.2.3 0 .3.1.3-.1.3.1.2.1.3 0 .3.1.3 0 .2-.1.3.1.3 0 .3-.1.3.1.2-.1.3.1.3 0 .3 0 .3-.1.2 0 .3 0 .3-.1.3 0 .3.1.2 0 .3 0 .3 0 .3 0 .2 0 .3 0 .3 0 .3 0 .3 0 .2 0 .3 0 .3.1.3-.1.3 0 .2 0 .3 0 .3-.1.3.1.3 0 .2-.1.3 0 .3 0 .3-.1.2 0 .3 0 .3.1.3 0 .3 0 .2 0 .3.1.3 0 .3 0 .3 0 .2-.1.3 0 .3-.1.3 0 .2 0 .3-.1.3 0 .3 0 .3 0 .2 0 .3.1.3 0 .3-.1.3.1.2-.1.3-.1.3-.1.3 0 .3-.1.2 0 .3 0 .3 0 .3-.1.2 0 .3-.1.3 0 .3-.1.3-.2.2-.2.3-.3.3-.3.3-.3.3-.1.2.2.3.2.3.2.3.3.3.1.2.1.3.1.3 0 .3 0 .2 0 .3-.1.3-.1.3 0 .3-.2.2-.2.3-.3.3-.4.3-.5.3-.8.2-.8.3-.8.3-.6.3.1.2.6.3.8.3.9.3.7.3.5.2.4.3.3.3.2.3 0 .3.1.2 0 .3 0 .3 0 .3 0 .3 0 .2.1.3.1.3.1.3 0 .2.1.3.1.3-.1.3 0 .3-.1.2 0 .3-.1.3 0 .3.1.3-.1.2 0 .3 0 .3 0 .3-.2.2 0 .3 0 .3-.2.3 0 .3-.1.2-.1.3-.2.3-.2.3-.2.3-.4.2-.4.3-.4.3-.7.3-.8.3-1.1.2-1 .3-.5.3.2.3.8.2 1 .3.8.3.6.3.5.3.3.2.2.3.1.3 0 .3-.2.3-.2.2-.2.3-.5.3-.6.3-.8.3-1.1.2-1.5.3-1.5.3-1.5.3-.5.2.6.3 1.5.3 1.8.3 1.5.3 1.1.2.7.3.5.3.4.3.4.3.3.2.2.3.3.3.1.3.1.2.1.3.1.3 0 .3.1.3.1.2.1.3 0 .3 0 .3 0 .3 0 .2-.1.3 0 .3.1.3 0 .3 0 .2.1.3 0 .3 0 .3.1.2 0 .3 0 .3-.1.3 0 .3-.1.2 0 .3 0 .3-.1.3-.1.3 0 .2-.1.3-.2.3 0 .3-.2.3 0 .2-.3.3-.2.3-.4.3-.4.2-.7.3-.7.3-1 .3-1.3.3-1.5.2-1.1.3-.3.3.6.3 1.3.3 1.5.2 1.2.3 1 .3.8.3.5.2.3.3.4.3.1.3.1.3.1.2.1.3-.1.3 0 .3.1.3 0 .2-.1.3 0 .3-.3.3-.1.3-.3.2-.5.3-.5.3-.4.3-.3.2.1.3.6.3.5.3.5.3.3.2.2.3.1.3.2.3 0 .3.2.2 0 .3.1.3 0 .3 0 .3-.1.2.1.3-.1.3-.1.3-.1.2-.2.3-.2.3-.3.3-.4.3-.4.2-.8.3-.9.3-1.3.3-1.3.3-1.4.2-.7.3.4.3 1.3.3 1.4.2 1.3.3 1.1.3.8.3.6.3.5.2.3.3.3.3.2.3.2.3.1.2.1.3.1.3 0 .3.1.3.1.2.1.3 0 .3.2.3 0 .2 0 .3.1.3 0 .3 0 .3 0 .2 0 .3-.1.3.1.3.1.3.1.2 0 .3 0 .3 0 .3 0 .2 0 .3.1.3 0 .3 0 .3 0 .2 0 .3.1.3 0 .3 0 .3 0 .2-.1.3 0 .3 0 .3.1.3-.1.2.1.3 0 .3-.1.3 0 .2.1.3-.1.3.1.3.1.3-.1.2 0 .3.1.3 0 .3 0 .3.1.2 0 .3-.1.3.1.3 0 .3 0 .2.1.3 0 .3 0 .3 0 .2.1.3-.2.3 0 .3 0 .3 0 .2 0 .3 0 .3 0 .3 0 .3 0 .2 0 .3 0 .3 0 .3.1.2.1.3-.1.3.1.3 0 .3-.1.2-.1.3.1.3-.1.3 0 .3 0 .2.1.3-.1.3.1.3-.1.3.1.2 0 .3 0 .3 0 .3 0 .2.1.3.1.3 0 .3 0 .3-.1.2 0 .3 0 .3 0 .3 0 .3.1.2.1.3-.1.3-.1.3 0 .3 0 .2-.1.3.1.3.1.3.1.2 0 .3 0 .3 0 .3-.1.3 0 .2 0 .3 0 .3 0 .3 0 .3 0 .2-.1.3 0 .3.1.3 0" stroke="#ff9400"/><path d="M46.6 107.2l.3-.1.3 0 .3.1.2-.1.3 0 .3.1.3.1.3-.1.2 0 .3 0 .3-.1.3 0 .2 0 .3 0 .3 0 .3-.1.3 0 .2 0 .3 0 .3 0 .3 0 .3 0 .2 0 .3 0 .3-.1.3 0 .2-.2.3-.3.3-.2.3-.2.3-.2.2-.5.3-.4.3-.8.3-1.3.3-2.2.2-3.6.3-6.7.3-8.4.3-1.2.3 8.1.2 7.1.3 4.4.3 2.3.3 1.3.2.9.3.7.3.3.3.4.3.1.2.2.3 0 .3.1.3.1.3.1.2 0 .3.1.3.1.3 0 .2.1.3.1.3-.1.3 0 .3 0 .2-.1.3.1.3 0 .3.1.3 0 .2 0 .3 0 .3 0 .3.1.3 0 .2 0 .3 0 .3 0 .3 0 .2-.1.3 0 .3-.1.3 0 .3.1.2-.1.3 0 .3 0 .3-.1.3 0 .2 0 .3.1.3 0 .3 0 .3 0 .2-.1.3-.1.3-.2.3-.2.2-.3.3-.3.3-.7.3-1 .3-1.7.2-2.5.3-2.3.3.3.3 2.6.3 2.3.2 1.5.3.9.3.7.3.4.2.3.3.2.3 0 .3.1.3.1.2 0 .3 0 .3.1.3 0 .3.1.2-.1.3 0 .3 0 .3.1.3 0 .2.1.3 0 .3.1.3-.1.2 0 .3 0 .3 0 .3-.1.3.1.2 0 .3 0 .3 0 .3 0 .3 0 .2-.1.3 0 .3.1.3 0 .3 0 .2.1.3 0 .3-.1.3-.1.2.1.3.1.3 0 .3.1.3 0 .2 0 .3 0 .3 0 .3 0 .3 0 .2 0 .3 0 .3-.1.3 0 .2.1.3 0 .3 0 .3.1.3 0 .2-.1.3 0 .3 0 .3.1.3-.1.2-.1.3 0 .3.1.3-.1.3 0 .2 0 .3 0 .3 0 .3.1.2 0 .3.1.3-.1.3 0 .3-.1.2.1.3-.1.3 0 .3.1.3-.1.2 0 .3-.1.3.1.3-.1.2 0 .3 0 .3 0 .3 0 .3.1.2 0 .3-.1.3.1.3 0 .3-.1.2 0 .3.1.3-.1.3 0 .3 0 .2 0 .3-.1.3.1.3 0 .2 0 .3.1.3 0 .3-.1.3-.1.2 0 .3-.1.3 0 .3.1.3-.1.2 0 .3 0 .3.1.3-.1.3.1.2 0 .3-.1.3-.1.3 0 .2-.1.3 0 .3 0 .3-.1.3-.1.2-.1.3-.2.3-.3.3-.3.3-.4.2-.3.3-.2.3.1.3.3.2.3.3.2.3.3.3.2.3.1.2 0 .3 0 .3 0 .3 0 .3-.1.2-.1.3-.1.3-.2.3-.4.3-.3.2-.4.3-.5.3-.7.3-.6.2-.5.3.1.3.4.3.8.3.7.2.4.3.5.3.2.3.1.3.3.2.2.3 0 .3.1.3.1.3-.1.2.1.3 0 .3 0 .3 0 .2.2.3 0 .3.1.3 0 .3 0 .2-.1.3-.1.3 0 .3 0 .3-.1.2-.1.3.1.3-.1.3 0 .2 0 .3 0 .3-.2.3 0 .3-.1.2 0 .3-.1.3-.2.3-.2.3-.2.2-.4.3-.3.3-.4.3-.7.3-.7.2-.9.3-1.1.3-1.1.3-.6.2.2.3.8.3 1.1.3 1 .3.7.2.6.3.4.3.2.3.1.3 0 .2-.2.3-.1.3-.3.3-.6.2-.6.3-1 .3-1.3.3-1.6.3-1.8.2-1.6.3-.6.3.7.3 1.7.3 1.8.2 1.8.3 1.2.3.9.3.5.3.6.2.4.3.3.3.3.3.2.2.2.3.1.3.2.3.1.3.1.2.1.3 0 .3 0 .3.1.3 0 .2 0 .3 0 .3 0 .3 0 .3 0 .2 0 .3.1.3-.1.3 0 .2-.1.3 0 .3 0 .3 0 .3.1.2 0 .3 0 .3 0 .3-.1.3-.1.2 0 .3 0 .3 0 .3-.1.2-.2.3-.1.3-.1.3-.2.3-.4.2-.3.3-.5.3-.7.3-.8.3-.9.2-1.3.3-1.4.3-1.2.3-.3.3.7.2 1.3.3 1.4.3 1.3.3.9.2.7.3.6.3.4.3.3.3.2.2.2.3.1.3 0 .3 0 .3-.1.2.1.3 0 .3-.1.3-.1.3-.1.2-.2.3-.4.3-.3.3-.6.2-.4.3-.2.3.2.3.4.3.6.2.5.3.4.3.2.3.2.3.1.2.1.3 0 .3.1.3.1.2 0 .3 0 .3-.1.3-.1.3 0 .2-.1.3-.1.3-.2.3-.2.3-.4.2-.4.3-.4.3-.7.3-.8.3-1.1.2-1.1.3-1.2.3-.5.3.3.2 1.1.3 1.3.3 1.3.3.9.3.7.2.5.3.4.3.3.3.3.3.2.2.1.3.2.3-.1.3 0 .3.1.2 0 .3.1.3.1.3.1.2.1.3 0 .3.1.3.1.3.1.2 0 .3 0 .3-.1.3 0 .3.1.2 0 .3 0 .3 0 .3-.1.2.1.3 0 .3 0 .3.1.3.1.2 0 .3-.1.3.1.3 0 .3 0 .2 0 .3.1.3 0 .3-.1.3-.1.2 0 .3 0 .3 0 .3 0 .2.1.3 0 .3 0 .3 0 .3.1.2.1.3 0 .3-.1.3 0 .3 0 .2 0 .3 0 .3 0 .3.1.2 0 .3 0 .3 0 .3 0 .3-.1.2 0 .3 0 .3.1.3 0 .3 0 .2.1.3.1.3 0 .3-.1.3 0 .2 0 .3-.1.3 0 .3.1.2.1.3 0 .3 0 .3.1.3-.1.2-.1.3 0 .3.1.3-.1.3.1.2 0 .3 0 .3 0 .3 0 .3 0 .2 0 .3 0 .3.1.3 0 .2-.1.3.1.3 0 .3-.1.3.1.2.1.3-.1.3 0 .3-.1.3-.1.2 0 .3 0 .3 0 .3 0 .2 0 .3.1.3 0 .3.1.3 0 .2.1.3.1.3-.1.3 0 .3 0 .2 0 .3-.1.3 0 .3 0 .3.1.2-.1.3.1.3 0 .3 0 .2 0 .3 0" stroke="#ffdc00"/><path d="M43.3 111.4l.3 0 .2 0 .3 0 .3-.1.3.1.2.1.3 0 .3-.1.3.1.3 0 .2 0 .3 0 .3.1.3 0 .3-.1.2-.1.3 0 .3 0 .3-.2.3 0 .2 0 .3 0 .3-.1.3 0 .2 0 .3 0 .3-.1.3-.1.3-.2.2-.2.3-.4.3-.4.3-.7.3-.8.2-1.4.3-2.1.3-4 .3-6.8.3-8.9.2-1.2.3 8.4.3 7.6.3 4.5.2 2.4.3 1.4.3 1 .3.5.3.5.2.3.3.2.3.2.3.1.3.1.2 0 .3.1.3.1.3.1.2 0 .3.1.3 0 .3-.1.3 0 .2-.1.3 0 .3.1.3.1.3.1.2.2.3 0 .3 0 .3-.1.3 0 .2-.2.3 0 .3 0 .3.1.2 0 .3 0 .3 0 .3 0 .3 0 .2 0 .3 0 .3 0 .3 0 .3-.1.2.2.3 0 .3-.1.3 0 .2 0 .3-.2.3-.1.3-.2.3-.1.2-.1.3-.2.3-.2.3-.5.3-.6.2-1.1.3-1.9.3-2.6.3-2.3.3.3.2 2.7.3 2.5.3 1.6.3.9.2.6.3.5.3.2.3.2.3.2.2.2.3.1.3.1.3 0 .3 0 .2 0 .3 0 .3 0 .3 0 .3 0 .2 0 .3 0 .3.1.3 0 .2 0 .3.1.3-.1.3.1.3 0 .2 0 .3 0 .3.1.3-.1.3 0 .2 0 .3 0 .3 0 .3-.1.2 0 .3.1.3 0 .3 0 .3 0 .2 0 .3.1.3 0 .3.1.3-.1.2 0 .3-.1.3 0 .3-.1.3 0 .2 0 .3 0 .3 0 .3 0 .2 0 .3 0 .3 0 .3 0 .3-.1.2 0 .3.1.3 0 .3 0 .3.1.2-.1.3 0 .3 0 .3 0 .3 0 .2 0 .3 0 .3 0 .3 0 .2-.1.3.2.3-.1.3 0 .3 0 .2 0 .3-.1.3 0 .3.1.3-.1.2.1.3.1.3 0 .3 0 .2.1.3 0 .3-.2.3 0 .3 0 .2-.1.3 0 .3.1.3-.1.3 0 .2 0 .3 0 .3 0 .3 0 .3 0 .2 0 .3-.1.3 0 .3 0 .2 0 .3 0 .3.1.3-.1.3 0 .2 0 .3 0 .3 0 .3 0 .3 0 .2-.1.3 0 .3-.1.3 0 .2-.1.3 0 .3 0 .3 0 .3 0 .2-.1.3 0 .3 0 .3 0 .3 0 .2-.1.3-.2.3-.1.3-.2.3-.3.2-.2.3-.3.3-.3.3-.2.2 0 .3.2.3.2.3.2.3.3.2.1.3.1.3.1.3.1.3-.2.2-.1.3-.1.3-.1.3-.2.3-.1.2-.3.3-.3.3-.6.3-.7.2-.9.3-.8.3-.6.3.1.3.6.2.8.3.9.3.7.3.5.3.3.2.3.3.1.3.2.3.1.2 0 .3.1.3.1.3.1.3.1.2.1.3 0 .3.1.3 0 .3 0 .2 0 .3 0 .3 0 .3-.1.3-.1.2-.1.3.1.3 0 .3 0 .2.1.3.1.3-.1.3 0 .3 0 .2-.2.3-.2.3-.1.3-.1.3-.1.2 0 .3-.1.3-.2.3-.3.3-.4.2-.5.3-.7.3-.7.3-1 .2-.8.3-.5.3.1.3.7.3.9.2.8.3.6.3.4.3.2.3.2.2 0 .3-.1.3 0 .3-.3.2-.4.3-.5.3-.7.3-.9.3-1.3.2-1.5.3-1.8.3-1.6.3-.7.3.8.2 1.6.3 1.8.3 1.7.3 1.2.3 1 .2.6.3.5.3.4.3.4.2.2.3.3.3.1.3.2.3 0 .2.1.3 0 .3.1.3 0 .3 0 .2 0 .3.1.3 0 .3.1.3 0 .2 0 .3 0 .3 0 .3-.1.2 0 .3 0 .3 0 .3 0 .3.1.2 0 .3 0 .3 0 .3-.1.3.1.2-.1.3 0 .3-.1.3-.1.2-.2.3-.1.3-.1.3-.1.3-.2.2-.2.3-.3.3-.5.3-.6.3-.9.2-1 .3-1.4.3-1.8.3-1.9.3-1.5.2-.5.3 1 .3 1.8.3 1.9.2 1.5.3 1.2.3.9.3.7.3.7.2.5.3.2.3.1.3.3.3 0 .2 0 .3.1.3.1.3 0 .2-.1.3-.1.3-.2.3-.3.3-.3.2-.5.3-.6.3-.6.3-.3.3.1.2.5.3.7.3.6.3.5.3.3.2.2.3.2.3.2.3 0 .2.1.3 0 .3.1.3 0 .3-.1.2 0 .3 0 .3-.1.3 0 .3-.1.2-.2.3-.2.3-.4.3-.5.3-.7.2-.9.3-1 .3-1.4.3-1.3.2-.6.3.3.3 1.1.3 1.4.3 1.3.2 1 .3.8.3.5.3.3.3.4.2.2.3.2.3.2.3.2.2 0 .3.1.3.1.3.1.3 0 .2.1.3.1.3 0 .3 0 .3.2.2 0 .3 0 .3 0 .3.1.3 0 .2-.1.3 0 .3 0 .3 0 .2 0 .3.1.3 0 .3 0 .3 0 .2 0 .3.1.3 0 .3 0 .3 0 .2 0 .3.1.3-.1.3.1.3 0 .2.1.3 0 .3 0 .3 0 .2 0 .3.1.3 0 .3 0 .3.1.2 0 .3 0 .3 0 .3-.1.3 0 .2 0 .3-.1.3 0 .3 0 .2 0 .3.1.3 0 .3 0 .3 0 .2 0 .3-.1.3 0 .3.1.3.1.2 0 .3.1.3-.1.3.1.3-.1.2 0 .3.1.3 0 .3 0 .2 0 .3 0 .3-.1.3 0 .3 0 .2-.1.3.1.3 0 .3 0 .3 0 .2.1.3 0 .3 0 .3.1.2 0 .3.1.3 0 .3 0 .3-.1.2 0 .3-.1.3.1.3.1.3 0 .2-.1.3 0 .3-.1.3 0 .3 0 .2.1.3 0 .3 0 .3 0 .2 0 .3 0 .3 0 .3 0 .3.1.2 0 .3-.1.3.1.3 0 .3-.1.2 0 .3 0 .3 0 .3 0 .3 0 .2-.1.3.1.3-.1.3 0 .2.1.3.1.3 0 .3 0" stroke="#ffff00"/><path d="M39.9 115.7l.3-.1.3 0 .3 0 .2 0 .3 0 .3.1.3 0 .3 0 .2 0 .3-.1.3-.1.3.1.3-.1.2 0 .3 0 .3 0 .3-.1.3 0 .2 0 .3 0 .3 0 .3 0 .2 0 .3-.1.3 0 .3-.1.3-.1.2-.2.3-.3.3-.1.3-.2.3-.5.2-.5.3-.7.3-1.4.3-2.1.2-3.7.3-6.4.3-8.5.3-1.2.3 8 .2 7.2.3 4.1.3 2.4.3 1.4.3.8.2.5.3.5.3.3.3.1.3.3.2.1.3.1.3 0 .3.1.2 0 .3 0 .3-.1.3.1.3 0 .2 0 .3 0 .3.2.3-.1.3 0 .2.1.3 0 .3-.1.3 0 .3 0 .2 0 .3 0 .3 0 .3 0 .2 0 .3 0 .3-.1.3.1.3 0 .2.1.3 0 .3-.1.3 0 .3.1.2 0 .3-.1.3.1.3 0 .2-.1.3 0 .3-.1.3-.1.3-.1.2-.1.3-.1.3-.1.3-.1.3-.4.2-.4.3-.7.3-1.1.3-1.6.3-2.5.2-2.3.3.4.3 2.6.3 2.3.2 1.5.3.9.3.5.3.4.3.3.2.1.3.2.3 0 .3.1.3 0 .2.2.3 0 .3.1.3.1.2-.1.3 0 .3 0 .3.1.3 0 .2.1.3.1.3 0 .3 0 .3 0 .2 0 .3.1.3-.1.3.1.3 0 .2 0 .3 0 .3 0 .3-.1.2 0 .3-.1.3-.1.3 0 .3.1.2-.1.3 0 .3.1.3 0 .3 0 .2 0 .3 0 .3 0 .3.1.3-.1.2 0 .3 0 .3 0 .3 0 .2 0 .3.1.3 0 .3 0 .3 0 .2-.1.3-.1.3 0 .3 0 .3 0 .2.1.3 0 .3 0 .3 0 .2.1.3 0 .3 0 .3 0 .3 0 .2 0 .3.1.3-.1.3 0 .3 0 .2-.1.3-.1.3 0 .3 0 .3 0 .2 0 .3 0 .3.1.3-.1.2.1.3 0 .3 0 .3 0 .3 0 .2 0 .3 0 .3 0 .3.1.3-.1.2 0 .3-.1.3.1.3 0 .3 0 .2 0 .3 0 .3 0 .3 0 .2-.1.3-.1.3 0 .3.1.3 0 .2.1.3.1.3-.1.3 0 .3-.1.2 0 .3.1.3-.1.3 0 .2 0 .3 0 .3-.2.3.1.3 0 .2 0 .3 0 .3-.1.3-.1.3.1.2-.1.3 0 .3-.1.3-.1.3-.2.2-.1.3-.3.3-.2.3-.5.2-.3.3-.2.3.1.3.1.3.4.2.3.3.3.3.2.3.2.3.1.2 0 .3-.1.3-.1.3 0 .2-.2.3-.1.3-.2.3-.2.3-.5.2-.4.3-.8.3-.8.3-.7.3-.4.2.1.3.6.3.9.3.7.3.7.2.5.3.2.3.2.3.2.2.1.3.1.3.2.3.2.3-.1.2.1.3-.1.3 0 .3 0 .3 0 .2 0 .3.1.3-.1.3 0 .3 0 .2.1.3-.1.3 0 .3 0 .2-.1.3 0 .3 0 .3 0 .3 0 .2 0 .3-.1.3-.1.3 0 .3-.2.2-.1.3-.1.3-.1.3-.2.2-.1.3-.3.3-.4.3-.5.3-.7.2-.9.3-1.1.3-1 .3-.6.3.1.2.8.3 1 .3.9.3.8.3.4.2.4.3.1.3 0 .3 0 .2-.1.3-.2.3-.3.3-.4.3-.7.2-.9.3-1.3.3-1.5.3-1.8.3-1.6.2-.7.3.7.3 1.6.3 1.8.3 1.5.2 1.3.3.9.3.8.3.6.2.4.3.3.3.3.3.1.3.2.2.2.3.1.3.1.3.1.3 0 .2.1.3 0 .3 0 .3 0 .2 0 .3.1.3-.1.3.1.3.1.2 0 .3 0 .3.1.3 0 .3-.1.2.1.3-.1.3 0 .3-.1.3 0 .2-.1.3-.1.3 0 .3 0 .2 0 .3 0 .3 0 .3-.2.3-.1.2-.2.3-.2.3-.2.3-.3.3-.3.2-.5.3-.8.3-.9.3-1.3.3-1.6.2-1.7.3-1.4.3-.4.3.9.2 1.6.3 1.6.3 1.4.3 1.2.3.8.2.6.3.5.3.3.3.2.3.2.2.2.3 0 .3.1.3.1.2-.1.3 0 .3-.1.3-.1.3-.2.2-.2.3-.5.3-.6.3-.5.3-.8.2-.3.3.2.3.6.3.6.3.6.2.6.3.3.3.2.3.3.2.1.3.1.3.1.3.1.3 0 .2 0 .3 0 .3.1.3-.1.3-.2.2-.1.3-.2.3-.2.3-.3.2-.4.3-.4.3-.6.3-.8.3-1 .2-1.2.3-1.2.3-.6.3.4.3 1.2.2 1.2.3 1.1.3.9.3.7.3.4.2.4.3.3.3.3.3.2.2.2.3.1.3.1.3 0 .3.1.2 0 .3 0 .3.1.3.1.3.1.2.1.3.1.3 0 .3 0 .3-.1.2.1.3 0 .3 0 .3 0 .2 0 .3 0 .3 0 .3 0 .3 0 .2 0 .3 0 .3.1.3 0 .3 0 .2-.1.3-.1.3 0 .3 0 .2 0 .3 0 .3 0 .3.1.3-.1.2.1.3 0 .3.1.3 0 .3.2.2-.1.3-.1.3.1.3-.1.3-.1.2.1.3.1.3-.1.3-.1.2 0 .3 0 .3 0 .3.2.3.1.2 0 .3.1.3-.1.3 0 .3 0 .2-.1.3 0 .3.1.3-.1.3 0 .2.1.3-.1.3 0 .3.1.2-.1.3 0 .3.1.3-.1.3.1.2 0 .3 0 .3 0 .3 0 .3-.1.2 0 .3.1.3 0 .3 0 .2 0 .3-.1.3 0 .3-.1.3 0 .2 0 .3 0 .3 0 .3.1.3 0 .2 0 .3 0 .3 0 .3 0 .3 0 .2 0 .3.1.3-.1.3.2.2-.1.3.1.3-.1.3.1.3-.1.2.1.3-.1.3 0 .3-.1.3 0 .2 0 .3.1.3 0 .3 0 .2.1.3 0 .3-.1.3 0 .3.1.2-.1.3 0 .3-.1.3.1.3-.1.2.1" stroke="#bfff00"/><path d="M36.6 119.9l.3.1.2 0 .3 0 .3 0 .3 0 .3-.1.2-.1.3 0 .3-.1.3 0 .3.1.2 0 .3 0 .3 0 .3 0 .2-.1.3 0 .3 0 .3 0 .3-.1.2-.1.3 0 .3 0 .3 0 .3-.1.2.1.3-.1.3-.1.3-.2.3-.2.2-.3.3-.5.3-.6.3-.8.2-1.5.3-2.2.3-3.9.3-6.8.3-8.8.2-1.3.3 8.4.3 7.5.3 4.4.3 2.4.2 1.5.3.9.3.6.3.4.3.2.2.3.3.3.3.1.3.1.2 0 .3.1.3-.1.3.1.3 0 .2.1.3-.1.3.1.3 0 .3 0 .2 0 .3.1.3 0 .3.1.2 0 .3-.1.3 0 .3 0 .3 0 .2 0 .3 0 .3 0 .3 0 .3-.1.2.1.3 0 .3 0 .3 0 .3.1.2 0 .3-.1.3 0 .3-.1.2 0 .3 0 .3 0 .3 0 .3-.1.2 0 .3-.1.3-.1.3-.1.3-.1.2-.2.3-.3.3-.6.3-.7.3-1.1.2-1.8.3-2.6.3-2.5.3.3.2 2.6.3 2.5.3 1.6.3 1.1.3.7.2.4.3.3.3.2.3.1.3.1.2.1.3.1.3.1.3 0 .2 0 .3.1.3 0 .3-.1.3.1.2 0 .3-.1.3 0 .3.2.3 0 .2 0 .3.1.3.1.3 0 .3 0 .2-.1.3 0 .3-.1.3 0 .2-.2.3.1.3-.1.3 0 .3.1.2.1.3 0 .3 0 .3-.1.3-.1.2 0 .3 0 .3 0 .3.1.2 0 .3 0 .3 0 .3 0 .3 0 .2 0 .3 0 .3 0 .3-.1.3 0 .2-.1.3 0 .3 0 .3.1.3 0 .2.1.3.2.3-.1.3-.1.2 0 .3 0 .3-.2.3.1.3 0 .2 0 .3 0 .3 0 .3.1.3-.1.2.1.3 0 .3.1.3-.1.3 0 .2 0 .3 0 .3 0 .3-.1.2.1.3.1.3-.1.3-.1.3 0 .2 0 .3 0 .3 0 .3 0 .3.1.2-.1.3 0 .3 0 .3 0 .2 0 .3 0 .3.1.3 0 .3 0 .2 0 .3-.1.3-.1.3-.1.3 0 .2 0 .3.1.3 0 .3 0 .3 0 .2 0 .3-.1.3.1.3 0 .2-.1.3 0 .3 0 .3 0 .3 0 .2 0 .3 0 .3 0 .3 0 .3 0 .2-.1.3 0 .3-.2.3 0 .3-.1.2-.1.3-.1.3-.1.3-.3.2-.3.3-.4.3-.3.3-.1.3 0 .2.3.3.3.3.1.3.2.3.2.2.1.3.1.3 0 .3 0 .2 0 .3-.1.3-.1.3-.1.3-.2.2-.4.3-.5.3-.6.3-.9.3-.9.2-1 .3-.5.3 0 .3.7.3 1 .2.8.3.8.3.6.3.4.2.3.3.3.3.2.3.2.3.1.2.1.3.1.3.1.3.1.3 0 .2 0 .3-.1.3-.1.3 0 .3 0 .2 0 .3.1.3 0 .3 0 .2 0 .3-.1.3-.1.3 0 .3.1.2-.1.3 0 .3 0 .3 0 .3-.1.2-.1.3 0 .3-.1.3-.1.2-.2.3-.2.3-.3.3-.3.3-.5.2-.6.3-.9.3-1 .3-1.2.3-1.1.2-.6.3.3.3.9.3 1.1.3 1 .2.8.3.5.3.4.3.2.2.2.3 0 .3 0 .3-.1.3-.3.2-.4.3-.6.3-.9.3-1.1.3-1.5.2-1.7.3-1.4.3-.5.3.6.2 1.5.3 1.7.3 1.4.3 1.2.3.9.2.7.3.5.3.5.3.3.3.3.2 0 .3.2.3.1.3 0 .3.1.2.2.3 0 .3 0 .3.1.2 0 .3 0 .3 0 .3.1.3 0 .2 0 .3 0 .3.1.3 0 .3.1.2 0 .3-.1.3 0 .3 0 .3-.1.2-.1.3.1.3-.1.3 0 .2 0 .3-.1.3-.1.3-.1.3-.1.2-.1.3-.1.3-.1.3-.3.3-.3.2-.4.3-.4.3-.6.3-.8.2-1 .3-1.4.3-1.8.3-1.9.3-1.6.2-.5.3 1 .3 1.9.3 1.9.3 1.6.2 1.3.3.9.3.7.3.5.3.4.2.2.3.3.3.1.3 0 .2.1.3.1.3-.1.3 0 .3 0 .2-.1.3-.1.3-.3.3-.4.3-.5.2-.5.3-.6.3-.3.3.1.3.6.2.6.3.6.3.5.3.4.2.2.3.1.3.2.3.1.3 0 .2 0 .3 0 .3.1.3-.1.3.1.2-.1.3-.1.3-.2.3-.1.2-.2.3-.3.3-.4.3-.5.3-.7.2-.9.3-1.2.3-1.4.3-1.2.3-.6.2.3.3 1.1.3 1.4.3 1.3.3 1 .2.9.3.5.3.5.3.3.2.3.3.2.3.2.3.2.3.2.2 0 .3 0 .3.2.3 0 .3 0 .2.1.3.1.3 0 .3-.1.2.1.3 0 .3 0 .3 0 .3.1.2-.1.3 0 .3-.1.3.1.3 0 .2 0 .3 0 .3.2.3-.1.3 0 .2 0 .3 0 .3-.1.3 0 .2 0 .3.2.3.1.3 0 .3 0 .2 0 .3-.1.3-.1.3.1.3-.1.2.1.3 0 .3 0 .3-.1.3.1.2 0 .3-.1.3.1.3 0 .2 0 .3 0 .3 0 .3-.1.3.1.2 0 .3 0 .3 0 .3.1.3-.1.2-.2.3.1.3.1.3-.1.2.1.3.2.3-.1.3 0 .3 0 .2-.1.3 0 .3 0 .3-.1.3 0 .2 0 .3-.1.3.1.3.1.3.1.2 0 .3.1.3 0 .3 0 .2-.1.3.1.3-.1.3.1.3 0 .2-.1.3 0 .3 0 .3-.1.3 0 .2.1.3.1.3-.1.3.1.3-.1.2 0 .3-.1.3 0 .3 0 .2 0 .3.1.3 0 .3 0 .3.1.2-.1.3 0 .3 0 .3 0 .3 0 .2.1.3-.1.3 0 .3 0 .2 0 .3-.1.3.1.3 0 .3-.1.2.1.3 0 .3 0 .3-.1.3.1.2-.1.3.1.3-.1" stroke="#7fff00"/><path d="M33.2 123.7l.3 0 .3 0 .3 0 .3 0 .2 0 .3.1.3 0 .3-.1.3-.1.2 0 .3 0 .3-.1.3.1.2 0 .3 0 .3 0 .3 0 .3-.1.2 0 .3 0 .3 0 .3 0 .3 0 .2-.1.3 0 .3-.2.3-.1.3-.1.2-.2.3-.2.3-.2.3-.5.2-.6.3-.9.3-1.4.3-2.4.3-4.2.2-7.2.3-9.5.3-1.4.3 8.9.3 8 .2 4.6.3 2.7.3 1.5.3.9.2.7.3.4.3.3.3.3.3.2.2.1.3 0 .3.2.3 0 .3.2.2 0 .3.1.3 0 .3 0 .3.1.2 0 .3 0 .3 0 .3 0 .2 0 .3.1.3 0 .3 0 .3 0 .2 0 .3-.1.3 0 .3.1.3 0 .2-.1.3 0 .3 0 .3 0 .3 0 .2.1.3-.1.3 0 .3 0 .2 0 .3 0 .3 0 .3 0 .3-.1.2 0 .3-.1.3-.1.3-.1.3-.1.2 0 .3-.2.3-.1.3-.3.2-.4.3-.8.3-1.1.3-2 .3-2.8.2-2.5.3.3.3 2.7.3 2.7.3 1.6.2 1.1.3.7.3.5.3.3.3.3.2.1.3.1.3 0 .3.1.2.1.3 0 .3.1.3.1.3.1.2 0 .3 0 .3 0 .3-.1.3-.1.2 0 .3.1.3 0 .3 0 .3.1.2.1.3-.1.3 0 .3 0 .2 0 .3-.1.3.1.3 0 .3.1.2 0 .3.1.3 0 .3 0 .3-.1.2 0 .3 0 .3-.1.3 0 .2 0 .3 0 .3 0 .3.1.3 0 .2.1.3 0 .3 0 .3 0 .3 0 .2 0 .3-.1.3-.1.3 0 .3 0 .2 0 .3 0 .3 0 .3 0 .2.1.3-.1.3.2.3-.1.3 0 .2 0 .3 0 .3-.1.3.1.3 0 .2 0 .3 0 .3 0 .3-.1.2 0 .3 0 .3 0 .3 0 .3.1.2 0 .3 0 .3.1.3-.1.3-.1.2 0 .3 0 .3 0 .3 0 .3 0 .2.1.3-.1.3.1.3 0 .2.1.3-.1.3 0 .3 0 .3 0 .2 0 .3-.1.3 0 .3 0 .3.1.2-.1.3 0 .3.1.3-.1.3 0 .2 0 .3 0 .3-.1.3.1.2 0 .3-.1.3.1.3-.1.3-.1.2 0 .3.1.3 0 .3-.1.3.1.2 0 .3 0 .3-.1.3 0 .2 0 .3-.1.3-.1.3-.2.3-.1.2-.3.3-.2.3-.3.3-.2.3-.4.2-.2.3.1.3.4.3.2.3.3.2.2.3.1.3.1.3.1.2-.1.3.1.3 0 .3-.1.3-.2.2-.1.3-.2.3-.4.3-.5.3-.6.2-.7.3-.9.3-.9.3-.6.3.2.2.7.3 1 .3.9.3.8.2.4.3.4.3.2.3.2.3.1.2.2.3.1.3 0 .3.1.3 0 .2.1.3.1.3 0 .3 0 .2.1.3 0 .3-.1.3.1.3 0 .2-.1.3 0 .3.1.3-.1.3 0 .2-.1.3-.1.3-.1.3 0 .3-.1.2 0 .3-.1.3-.1.3 0 .2-.2.3-.1.3-.1.3-.2.3-.2.2-.4.3-.4.3-.8.3-.8.3-1.1.2-1.2.3-1.2.3-.6.3.1.3 1 .2 1.2.3 1.1.3.8.3.6.2.3.3.2.3 0 .3.1.3 0 .2-.2.3-.2.3-.5.3-.7.3-1.1.2-1.3.3-1.6.3-1.8.3-1.6.2-.6.3.7.3 1.7.3 1.9.3 1.7.2 1.2.3 1 .3.8.3.5.3.3.2.4.3.3.3.3.3.2.3.1.2.1.3.1.3-.1.3 0 .2.1.3.1.3 0 .3.1.3-.1.2.1.3 0 .3 0 .3-.1.3.1.2 0 .3.1.3 0 .3 0 .2 0 .3 0 .3 0 .3 0 .3 0 .2-.1.3-.1.3.1.3-.1.3 0 .2 0 .3-.1.3-.1.3-.1.3-.2.2-.2.3-.3.3-.3.3-.5.2-.4.3-.7.3-.8.3-1.2.3-1.4.2-1.5.3-1.3.3-.3.3.8.3 1.5.2 1.5.3 1.3.3 1 .3.7.3.6.2.3.3.4.3.3.3.2.2.1.3.2.3 0 .3-.1.3 0 .2-.1.3-.1.3-.1.3-.2.3-.3.2-.3.3-.5.3-.7.3-.5.2-.3.3.1.3.5.3.6.3.6.2.5.3.3.3.2.3.2.3.1.2 0 .3.2.3.1.3.1.3.1.2 0 .3-.1.3-.1.3-.1.2-.2.3-.2.3-.2.3-.2.3-.4.2-.6.3-.6.3-.8.3-1.2.3-1.4.2-1.3.3-.7.3.3.3 1.1.3 1.5.2 1.3.3 1 .3.7.3.6.2.5.3.3.3.3.3.3.3.1.2.1.3.1.3 0 .3.1.3.1.2.1.3 0 .3.1.3 0 .2 0 .3 0 .3 0 .3 0 .3.1.2.1.3 0 .3.1.3 0 .3-.1.2 0 .3 0 .3 0 .3.1.3.1.2 0 .3-.1.3.1.3 0 .2-.1.3 0 .3 0 .3.1.3-.1.2.1.3 0 .3.1.3 0 .3 0 .2 0 .3 0 .3-.1.3 0 .2 0 .3 0 .3 0 .3.1.3 0 .2 0 .3 0 .3 0 .3-.1.3 0 .2.1.3 0 .3 0 .3.1.3.1.2-.1.3-.1.3.1.3.1.2-.1.3.2.3 0 .3 0 .3 0 .2 0 .3-.1.3-.1.3 0 .3 0 .2.1.3 0 .3.2.3-.1.3 0 .2 0 .3-.1.3 0 .3 0 .2.1.3 0 .3 0 .3 0 .3 0 .2 0 .3.1.3-.1.3 0 .3 0 .2-.1.3 0 .3.1.3 0 .2 0 .3 0 .3 0 .3 0 .3-.1.2 0 .3 0 .3 0 .3.1.3-.1.2.1.3 0 .3 0 .3-.1.3 0 .2 0 .3 0 .3 0 .3 0 .2.1.3.1.3-.1.3 0 .3.1.2 0 .3-.1.3 0 .3 0 .3-.1.2 0 .3.1.3 0 .3 0 .3.1" stroke="#15ff00"/><path d="M29.9 128.1l.3 0 .3 0 .2 0 .3 0 .3.1.3 0 .3 0 .2-.1.3 0 .3.1.3 0 .2 0 .3-.1.3 0 .3-.1.3 0 .2 0 .3 0 .3 0 .3 0 .3 0 .2-.1.3-.1.3 0 .3-.2.3 0 .2-.1.3-.1.3-.2.3-.1.2-.3.3-.4.3-.6.3-.9.3-1.3.2-2.4.3-4 .3-7.1.3-9.2.3-1.4.2 8.6.3 7.6.3 4.6.3 2.6.2 1.5.3 1 .3.7.3.4.3.3.2.2.3.1.3.2.3.1.3.1.2.1.3.1.3 0 .3 0 .3 0 .2 0 .3 0 .3 0 .3 0 .2 0 .3 0 .3.1.3 0 .3.1.2 0 .3-.1.3-.1.3.1.3 0 .2.1.3 0 .3 0 .3 0 .2 0 .3-.1.3 0 .3 0 .3-.1.2 0 .3 0 .3 0 .3 0 .3 0 .2-.1.3 0 .3 0 .3 0 .3-.1.2 0 .3-.1.3-.2.3-.1.2-.2.3-.4.3-.4.3-.6.3-1.2.2-1.6.3-2.4.3-2.4.3.3.3 2.7.2 2.2.3 1.5.3 1 .3.6.3.4.2.2.3.3.3.1.3.2.2 0 .3.2.3 0 .3.1.3-.1.2.1.3 0 .3 0 .3-.1.3 0 .2 0 .3-.1.3 0 .3.1.2 0 .3.1.3 0 .3 0 .3.1.2 0 .3-.1.3 0 .3.1.3 0 .2-.1.3.2.3.1.3 0 .3 0 .2 0 .3 0 .3-.1.3 0 .2-.1.3 0 .3 0 .3-.1.3 0 .2 0 .3.1.3 0 .3-.1.3 0 .2.1.3-.2.3.1.3.1.3 0 .2-.1.3.1.3 0 .3 0 .2 0 .3.1.3-.1.3 0 .3-.1.2 0 .3 0 .3 0 .3-.1.3.2.2-.1.3 0 .3 0 .3.1.2-.1.3-.1.3 0 .3.1.3 0 .2 0 .3 0 .3.1.3-.1.3.1.2.1.3-.1.3-.1.3 0 .3-.1.2 0 .3-.1.3.1.3 0 .2 0 .3 0 .3.1.3-.1.3.1.2-.1.3 0 .3 0 .3 0 .3.1.2-.1.3.1.3-.1.3.1.3-.1.2.1.3-.1.3 0 .3 0 .2-.1.3.1.3 0 .3.1.3 0 .2 0 .3 0 .3-.1.3-.1.3 0 .2 0 .3 0 .3.1.3 0 .2-.1.3 0 .3-.1.3-.2.3-.1.2-.1.3-.2.3-.1.3-.3.3-.3.2-.4.3-.3.3-.2.3.2.3.3.2.4.3.3.3.3.3.1.2.1.3 0 .3 0 .3 0 .3-.1.2 0 .3-.1.3-.1.3-.2.3-.2.2-.5.3-.5.3-.7.3-.8.2-.7.3-.4.3 0 .3.7.3.7.2.8.3.6.3.4.3.4.3.2.2.3.3.2.3.1.3.1.3.1.2-.1.3 0 .3 0 .3-.1.2 0 .3-.1.3 0 .3.1.3 0 .2.1.3 0 .3 0 .3 0 .3 0 .2 0 .3 0 .3 0 .3 0 .3 0 .2 0 .3-.1.3-.1.3 0 .2-.2.3 0 .3-.1.3-.1.3-.2.2-.3.3-.3.3-.3.3-.5.3-.6.2-.7.3-1 .3-1.2.3-1 .2-.6.3.2.3 1 .3 1 .3.9.2.8.3.5.3.3.3.3.3.1.2 0 .3-.2.3-.1.3-.3.3-.5.2-.7.3-.9.3-1.3.3-1.6.2-2 .3-1.7.3-.6.3.7.3 1.7.2 2 .3 1.7.3 1.3.3.9.3.8.2.5.3.4.3.4.3.3.3.2.2.2.3.2.3.1.3.1.2.1.3.1.3 0 .3 0 .3 0 .2 0 .3.1.3 0 .3 0 .3.1.2 0 .3 0 .3.1.3 0 .2 0 .3-.1.3 0 .3-.1.3 0 .2 0 .3.1.3-.1.3 0 .3-.1.2-.1.3 0 .3-.1.3-.1.3-.1.2 0 .3-.2.3-.3.3-.1.2-.3.3-.4.3-.5.3-.6.3-.9.2-1.3.3-1.6.3-1.7.3-1.5.3-.4.2.9.3 1.6.3 1.8.3 1.4.2 1.1.3.8.3.5.3.4.3.5.2.3.3.2.3.2.3.1.3 0 .2 0 .3 0 .3-.1.3-.1.3-.1.2-.2.3-.2.3-.3.3-.6.2-.6.3-.5.3-.3.3.1.3.6.2.6.3.6.3.4.3.5.3.2.2 0 .3.2.3 0 .3 0 .3.1.2.1.3 0 .3 0 .3 0 .2-.1.3-.1.3-.1.3-.1.3-.3.2-.2.3-.3.3-.5.3-.6.3-.7.2-1.1.3-1.2.3-1.2.3-.7.2.3.3 1.1.3 1.1.3 1.2.3.9.2.8.3.4.3.4.3.3.3.3.2.2.3.2.3.2.3.1.3 0 .2 0 .3.1.3 0 .3.1.2.1.3.2.3 0 .3 0 .3 0 .2 0 .3-.1.3 0 .3.1.3.1.2-.1.3.1.3 0 .3 0 .3 0 .2.1.3.1.3 0 .3-.1.2.1.3 0 .3 0 .3-.1.3 0 .2-.1.3.1.3 0 .3.1.3.1.2-.1.3 0 .3 0 .3-.1.2.1.3 0 .3 0 .3 0 .3 0 .2-.1.3 0 .3 0 .3.1.3 0 .2 0 .3.1.3-.1.3 0 .3 0 .2-.1.3 0 .3.1.3-.1.2.1.3.1.3 0 .3-.1.3.1.2-.1.3 0 .3.1.3-.1.3 0 .2.1.3 0 .3.1.3 0 .2 0 .3 0 .3-.2.3.1.3-.2.2 0 .3 0 .3 0 .3 0 .3.1.2.1.3-.1.3 0 .3 0 .3 0 .2 0 .3-.1.3 0 .3 0 .2.1.3 0 .3 0 .3.1.3.1.2 0 .3-.1.3 0 .3 0 .3 0 .2 0 .3.1.3 0 .3 0 .3 0 .2-.1.3 0 .3 0 .3 0 .2 0 .3 0 .3-.1.3 0 .3 0 .2-.1.3.1.3 0 .3 0 .3 0 .2-.1.3 0 .3.1.3 0 .2 0 .3.1.3 0" stroke="#00ff2a"/><path d="M26.6 132.2l.2 0 .3.1.3 0 .3.1.3 0 .2-.1.3 0 .3 0 .3-.1.2.1.3 0 .3-.1.3 0 .3.1.2 0 .3-.1.3 0 .3-.1.3 0 .2-.1.3 0 .3 0 .3 0 .2-.1.3-.1.3 0 .3-.1.3-.1.2-.2.3-.2.3-.4.3-.4.3-.5.2-.8.3-1.3.3-2 .3-3.9.3-6.8.2-8.8.3-1.2.3 8.1.3 7.4.2 4.5.3 2.4.3 1.5.3.9.3.6.2.4.3.3.3.2.3.2.3.2.2.2.3 0 .3 0 .3.1.3 0 .2-.1.3.1.3.1.3 0 .2-.1.3 0 .3 0 .3-.1.3 0 .2.1.3 0 .3.1.3 0 .3.1.2-.1.3.1.3-.1.3 0 .2 0 .3.1.3 0 .3.1.3 0 .2-.1.3 0 .3 0 .3-.1.3-.1.2.1.3-.1.3 0 .3 0 .3.1.2-.1.3 0 .3-.2.3-.1.2 0 .3-.2.3-.1.3-.3.3-.4.2-.7.3-.9.3-1.6.3-2.4.3-2.3.2.3.3 2.4.3 2.2.3 1.5.2 1 .3.7.3.3.3.2.3.2.2.1.3.1.3.1.3-.1.3.1.2.1.3 0 .3 0 .3 0 .3 0 .2 0 .3.1.3 0 .3 0 .2.1.3 0 .3 0 .3-.1.3.1.2 0 .3-.1.3 0 .3-.1.3.1.2-.1.3 0 .3.1.3.1.3 0 .2 0 .3.1.3-.1.3 0 .2-.1.3 0 .3 0 .3 0 .3.1.2.1.3 0 .3 0 .3 0 .3 0 .2 0 .3-.1.3-.1.3.1.2-.1.3 0 .3.1.3 0 .3-.1.2 0 .3 0 .3-.1.3 0 .3.1.2 0 .3-.1.3 0 .3 0 .3.1.2-.1.3 0 .3.1.3 0 .2-.1.3.1.3.1.3-.1.3 0 .2.1.3-.1.3-.1.3.1.3 0 .2-.1.3 0 .3 0 .3-.1.3-.1.2 0 .3.1.3.1.3.1.2 0 .3 0 .3-.1.3-.1.3 0 .2 0 .3-.1.3.1.3.1.3-.2.2 0 .3-.1.3 0 .3 0 .2.1.3 0 .3 0 .3-.1.3-.1.2.1.3 0 .3 0 .3 0 .3-.1.2 0 .3.1.3-.1.3 0 .3 0 .2 0 .3-.2.3 0 .3 0 .2-.1.3-.1.3.1.3-.1.3 0 .2-.1.3 0 .3-.1.3-.1.3-.2.2-.3.3-.2.3-.4.3-.4.3-.1.2.1.3.3.3.3.3.3.2.2.3.1.3 0 .3.1.3.1.2-.1.3 0 .3-.2.3-.2.3-.2.2-.1.3-.3.3-.3.3-.5.2-.8.3-.9.3-1 .3-.6.3 0 .2.7.3 1 .3.9.3.7.3.5.2.3.3.2.3.2.3.2.3.1.2.2.3.1.3.2.3 0 .2 0 .3.1.3 0 .3 0 .3 0 .2 0 .3 0 .3-.1.3 0 .3 0 .2 0 .3 0 .3 0 .3 0 .2-.1.3 0 .3 0 .3 0 .3-.1.2 0 .3 0 .3-.2.3-.1.3-.1.2-.1.3-.1.3-.1.3-.3.3-.4.2-.4.3-.5.3-.6.3-.9.2-1 .3-1 .3-.6.3.2.3.8.2.9.3.8.3.7.3.4.3.3.2.1.3.2.3-.2.3-.1.3-.3.2-.4.3-.6.3-.8.3-1.1.2-1.4.3-1.9.3-2.2.3-1.9.3-.8.2.8.3 1.9.3 2.3.3 1.8.3 1.6.2 1.1.3.9.3.7.3.5.2.4.3.3.3.2.3.2.3.2.2.1.3.1.3.1.3 0 .3.1.2 0 .3.1.3.1.3-.1.3 0 .2.1.3 0 .3 0 .3 0 .2 0 .3 0 .3 0 .3 0 .3-.1.2 0 .3-.1.3.1.3-.1.3.1.2 0 .3 0 .3-.1.3.1.3-.1.2-.1.3 0 .3-.2.3-.1.2-.2.3-.2.3-.3.3-.4.3-.5.2-.6.3-.9.3-1.2.3-1.4.3-1.7.2-1.4.3-.3.3.7.3 1.5.2 1.6.3 1.3.3 1.1.3 1 .3.6.2.4.3.4.3.2.3.2.3.1.2.1.3.1.3 0 .3 0 .3 0 .2 0 .3-.1.3-.3.3-.3.2-.3.3-.4.3-.4.3-.4.3-.2.2.1.3.4.3.5.3.5.3.4.2.3.3.3.3.1.3.1.2.1.3.1.3 0 .3.1.3 0 .2.1.3-.1.3-.1.3 0 .3-.2.2-.2.3-.1.3-.3.3-.3.3-.4.2-.5.3-.9.3-.9.3-1.2.2-1.2.3-.6.3.3.3 1 .3 1.3.2 1.2.3.8.3.7.3.5.3.4.2.3.3.2.3.2.3 0 .3.2.2.1.3.2.3.1.3 0 .2.1.3-.1.3.1.3 0 .3.1.2 0 .3.1.3 0 .3.1.3.1.2 0 .3 0 .3 0 .3 0 .2 0 .3 0 .3 0 .3-.1.3.1.2 0 .3.1.3 0 .3.1.3 0 .2 0 .3 0 .3-.2.3 0 .3 0 .2 0 .3 0 .3.1.3 0 .2-.1.3.1.3 0 .3 0 .3.1.2.1.3.1.3 0 .3-.1.3-.1.2 0 .3 0 .3 0 .3 0 .3.1.2 0 .3 0 .3 0 .3-.1.2 0 .3-.1.3.1.3.1.3 0 .2.1.3 0 .3-.1.3-.1.3 0 .2-.1.3.2.3.1.3 0 .2.1.3 0 .3-.1.3-.1.3-.1.2 0 .3 0 .3.1.3.1.3 0 .2-.1.3 0 .3.1.3-.1.3.1.2.1.3.1.3-.1.3 0 .2 0 .3-.2.3 0 .3.1.3-.1.2 0 .3.1.3 0 .3 0 .3.1.2 0 .3 0 .3-.1.3 0 .2 0 .3.1.3 0 .3 0 .3 0 .2.1.3-.1.3 0 .3-.1.3-.1.2 0 .3 0 .3.1.3.1.3 0 .2-.1.3 0 .3 0 .3-.1.2 0 .3 0 .3.1.3.1.3 0" stroke="#00ffa9"/><path d="M23.2 136.3l.3-.1.3 0 .2 0 .3 0 .3 0 .3 0 .3 0 .2 0 .3 0 .3-.1.3 0 .3 0 .2.1.3.1.3 0 .3 0 .3 0 .2-.1.3-.1.3-.1.3 0 .2-.1.3-.1.3-.1.3-.1.3-.1.2 0 .3-.1.3-.2.3-.3.3-.3.2-.5.3-.6.3-1 .3-1.5.3-2.5.2-4.5.3-7.8.3-10.1.3-1.4.2 9.4.3 8.7.3 5 .3 2.9.3 1.6.2 1 .3.6.3.5.3.3.3.3.2.4.3.1.3.1.3 0 .2 0 .3 0 .3 0 .3.1.3.1.2.1.3 0 .3 0 .3.1.3-.1.2 0 .3.1.3 0 .3 0 .3.1.2 0 .3 0 .3 0 .3 0 .2-.1.3.1.3-.1.3 0 .3 0 .2 0 .3-.1.3 0 .3 0 .3 0 .2 0 .3-.1.3 0 .3-.1.3.1.2 0 .3 0 .3 0 .3 0 .2-.1.3-.1.3-.1.3-.2.3-.2.2-.3.3-.4.3-.7.3-1.2.3-1.9.2-2.8.3-2.6.3.4.3 2.8.2 2.6.3 1.7.3 1.1.3.7.3.4.2.3.3.2.3.1.3.1.3.2.2 0 .3 0 .3.1.3.1.3-.1.2 0 .3 0 .3 0 .3-.1.2.1.3.1.3 0 .3.1.3.1.2 0 .3-.1.3 0 .3-.1.3 0 .2 0 .3 0 .3 0 .3 0 .3 0 .2 0 .3 0 .3.1.3.1.2 0 .3 0 .3 0 .3-.1.3-.1.2 0 .3 0 .3.1.3 0 .3 0 .2 0 .3 0 .3-.1.3 0 .2 0 .3 0 .3 0 .3 0 .3 0 .2 0 .3.1.3 0 .3 0 .3-.1.2 0 .3 0 .3 0 .3 0 .3 0 .2 0 .3 0 .3 0 .3 0 .2 0 .3 0 .3 0 .3 0 .3 0 .2 0 .3.1.3-.1.3-.1.3 0 .2.1.3 0 .3-.1.3.1.2 0 .3 0 .3 0 .3.1.3 0 .2 0 .3-.1.3 0 .3 0 .3-.1.2 0 .3.1.3 0 .3.1.3 0 .2.1.3-.2.3 0 .3-.1.2 0 .3-.1.3.1.3.1.3.1.2 0 .3-.1.3-.1.3 0 .3 0 .2 0 .3.1.3 0 .3.1.3 0 .2-.1.3-.1.3 0 .3-.1.2 0 .3 0 .3 0 .3-.1.3 0 .2-.1.3 0 .3 0 .3-.1.3-.2.2 0 .3-.3.3-.3.3-.4.2-.4.3-.4.3-.1.3.1.3.3.2.2.3.4.3.2.3.2.3.2.2.2.3-.1.3.1.3-.1.3-.1.2-.2.3-.1.3-.2.3-.2.2-.4.3-.5.3-.8.3-.9.3-.9.2-.6.3.1.3.6.3.9.3.9.2.8.3.5.3.4.3.3.3.2.2.1.3.1.3 0 .3.2.2 0 .3.1.3 0 .3 0 .3 0 .2 0 .3 0 .3 0 .3 0 .3.1.2 0 .3 0 .3-.1.3 0 .2-.1.3 0 .3.1.3-.1.3 0 .2-.1.3-.1.3 0 .3-.1.3-.1.2 0 .3 0 .3-.2.3-.2.3-.2.2-.3.3-.4.3-.5.3-.6.2-.9.3-1.2.3-1.3.3-1.2.3-.7.2.2.3 1.1.3 1.2.3 1.1.3.8.2.7.3.3.3.3.3.3.2 0 .3-.1.3-.2.3-.3.3-.4.2-.7.3-.9.3-1.1.3-1.5.3-1.7.2-1.5.3-.6.3.7.3 1.6.3 1.8.2 1.6.3 1.3.3.9.3.7.2.5.3.4.3.2.3.3.3.2.2.1.3.1.3.2.3 0 .3.1.2 0 .3.1.3.1.3 0 .3 0 .2 0 .3-.1.3 0 .3 0 .2.1.3 0 .3.1.3 0 .3 0 .2 0 .3 0 .3-.1.3 0 .3-.1.2 0 .3 0 .3 0 .3-.2.2.1.3-.2.3 0 .3-.1.3-.1.2-.2.3-.1.3-.2.3-.2.3-.4.2-.5.3-.6.3-.8.3-1.2.3-1.4.2-1.8.3-2.1.3-1.4.3-.5.2 1 .3 1.8.3 2 .3 1.6.3 1.3.2.9.3.7.3.5.3.4.3.2.2.2.3.2.3.2.3 0 .3.1.2.1.3-.1.3 0 .3 0 .2-.2.3-.3.3-.3.3-.5.3-.6.2-.7.3-.1.3.1.3.6.3.5.2.5.3.4.3.3.3.2.2.3.3.2.3.2.3.1.3 0 .2-.1.3 0 .3-.1.3-.1.3 0 .2-.1.3-.2.3-.1.3-.3.3-.2.2-.4.3-.5.3-.6.3-1 .2-1.2.3-1.4.3-1.3.3-.7.3.4.2 1.2.3 1.5.3 1.3.3 1 .3.8.2.7.3.3.3.4.3.3.2.2.3.1.3.2.3.1.3.1.2.1.3.1.3 0 .3 0 .3-.1.2 0 .3.1.3 0 .3.1.3.1.2.1.3 0 .3 0 .3.1.2 0 .3 0 .3-.1.3 0 .3 0 .2-.1.3.1.3.1.3 0 .3.1.2 0 .3 0 .3 0 .3-.1.3 0 .2-.1.3.1.3 0 .3.1.2-.1.3 0 .3 0 .3 0 .3-.1.2 0 .3.1.3 0 .3 0 .3-.1.2.1.3 0 .3.1.3 0 .2.1.3-.1.3 0 .3 0 .3 0 .2 0 .3.1.3 0 .3 0 .3 0 .2 0 .3 0 .3 0 .3 0 .3 0 .2 0 .3 0 .3 0 .3 0 .2 0 .3.1.3-.1.3 0 .3-.1.2 0 .3.1.3 0 .3.1.3 0 .2.1.3-.1.3-.1.3 0 .3 0 .2-.1.3 0 .3 0 .3.1.2 0 .3.1.3-.1.3.1.3-.1.2 0 .3-.1.3 0 .3 0 .3 0 .2.1.3 0 .3 0 .3 0 .2 0 .3 0 .3 0 .3.1.3 0 .2 0 .3-.1.3 0 .3-.1.3 0 .2.1.3 0 .3 0 .3 0 .3 0 .2 0 .3 0 .3.1.3 0 .2.1.3-.1.3.1.3 0 .3 0 .2-.1.3.1" stroke="#00e9ff"/><path d="M19.9 140.3l.2 0 .3 0 .3 0 .3-.1.3 0 .2 0 .3 0 .3 0 .3.1.3-.1.2 0 .3.1.3 0 .3 0 .3 0 .2 0 .3-.1.3 0 .3-.1.2 0 .3 0 .3 0 .3 0 .3-.2.2 0 .3-.2.3-.1.3-.1.3-.1.2-.3.3-.2.3-.4.3-.7.2-.9.3-1.4.3-2.4.3-4.2.3-7.5.2-9.6.3-1.4.3 9.1.3 8.1.3 4.7.2 2.7.3 1.6.3 1 .3.7.3.5.2.3.3.2.3.1.3.2.2.1.3.1.3.1.3.1.3.1.2 0 .3.1.3 0 .3.1.3 0 .2.1.3 0 .3 0 .3-.1.3 0 .2.1.3 0 .3.1.3.1.2-.1.3 0 .3 0 .3-.1.3 0 .2 0 .3 0 .3.1.3-.1.3 0 .2 0 .3-.1.3 0 .3.1.2 0 .3 0 .3.1.3-.1.3 0 .2-.1.3-.2.3-.1.3.1.3-.1.2-.2.3-.1.3-.4.3-.5.3-.6.2-1.1.3-1.8.3-2.7.3-2.4.2.3.3 2.7.3 2.5.3 1.7.3.9.2.7.3.4.3.3.3.2.3.2.2.1.3 0 .3.1.3-.1.3.1.2.1.3.1.3 0 .3 0 .2.1.3-.1.3-.1.3 0 .3 0 .2 0 .3.1.3 0 .3.1.3 0 .2 0 .3-.1.3.1.3 0 .2.1.3.1.3 0 .3-.2.3.1.2-.1.3-.1.3 0 .3.1.3 0 .2-.1.3.1.3 0 .3-.1.3 0 .2 0 .3 0 .3 0 .3.1.2.1.3 0 .3.1.3 0 .3 0 .2-.1.3.1.3-.1.3 0 .3-.1.2.1.3-.1.3.1.3-.1.3.1.2-.1.3.1.3-.1.3 0 .2 0 .3 0 .3 0 .3 0 .3-.1.2 0 .3 0 .3 0 .3 0 .3.1.2 0 .3 0 .3.1.3 0 .2-.1.3 0 .3 0 .3 0 .3-.1.2.1.3-.1.3 0 .3 0 .3 0 .2 0 .3.1.3-.1.3.1.3-.1.2 0 .3-.1.3 0 .3 0 .2 0 .3-.1.3 0 .3 0 .3.1.2 0 .3-.1.3.1.3 0 .3-.1.2 0 .3.1.3 0 .3 0 .2 0 .3-.1.3 0 .3-.1.3-.1.2 0 .3.1.3-.1.3 0 .3 0 .2 0 .3-.1.3 0 .3-.1.3-.1.2-.1.3-.2.3-.2.3-.2.2-.2.3-.4.3-.4.3-.4.3-.3.2 0 .3.4.3.3.3.4.3.3.2.2.3.1.3.1.3.1.3 0 .2-.1.3 0 .3-.2.3-.2.2-.2.3-.2.3-.4.3-.5.3-.6.2-.8.3-.9.3-.4.3.1.3.6.2.8.3.8.3.6.3.3.2.3.3.3.3.3.3.1.3.1.2.1.3 0 .3 0 .3 0 .3 0 .2.1.3 0 .3 0 .3 0 .3 0 .2 0 .3 0 .3 0 .3.1.2 0 .3 0 .3-.1.3 0 .3-.1.2 0 .3-.2.3 0 .3 0 .3 0 .2-.2.3-.1.3-.1.3-.2.3-.2.2-.1.3-.2.3-.3.3-.3.2-.5.3-.7.3-.8.3-1.1.3-1.3.2-1.3.3-.6.3.3.3 1 .3 1.2.2 1 .3.9.3.6.3.5.2.2.3.2.3 0 .3-.1.3-.1.2-.4.3-.4.3-.7.3-1 .3-1.2.2-1.5.3-1.9.3-1.6.3-.6.3.7.2 1.6.3 1.9.3 1.6.3 1.2.2 1 .3.8.3.6.3.4.3.3.2.3.3.2.3.2.3.2.3 0 .2.1.3.1.3-.1.3 0 .2 0 .3 0 .3 0 .3.2.3 0 .2 0 .3 0 .3 0 .3-.1.3 0 .2.1.3-.1.3.1.3 0 .3 0 .2 0 .3 0 .3 0 .3 0 .2 0 .3 0 .3-.1.3-.1.3-.1.2-.1.3-.2.3-.1.3-.2.3-.2.2-.3.3-.3.3-.4.3-.6.3-.8.2-1 .3-1.5.3-1.9.3-2 .2-1.7.3-.5.3 1 .3 1.9.3 1.9.2 1.7.3 1.3.3 1 .3.7.3.6.2.4.3.2.3.4.3.1.2.1.3.1.3 0 .3-.1.3 0 .2 0 .3-.1.3-.2.3-.3.3-.4.2-.6.3-.6.3-.6.3-.3.3.2.2.6.3.6.3.7.3.5.2.4.3.2.3.3.3 0 .3.1.2 0 .3.1.3.1.3.1.3 0 .2.1.3 0 .3-.2.3-.1.3-.2.2-.2.3-.3.3-.4.3-.5.2-.7.3-.8.3-1.2.3-1.3.3-1.2.2-.6.3.3.3 1.1.3 1.5.3 1.1.2 1 .3.8.3.6.3.3.2.4.3.3.3.1.3.2.3.1.2.2.3.1.3.1.3 0 .3.1.2.1.3 0 .3.1.3 0 .3 0 .2 0 .3 0 .3.1.3 0 .2 0 .3 0 .3.1.3 0 .3.1.2 0 .3-.1.3 0 .3.1.3-.1.2.1.3.1.3 0 .3.1.2.1.3 0 .3-.1.3.1.3-.1.2 0 .3 0 .3 0 .3 0 .3 0 .2 0 .3 0 .3.1.3 0 .3 0 .2 0 .3-.1.3 0 .3 0 .2 0 .3 0 .3 0 .3 0 .3.1.2.1.3 0 .3.1.3-.1.3.1.2-.1.3 0 .3.1.3 0 .3-.1.2.1.3-.1.3 0 .3.1.2.1.3-.1.3.1.3 0 .3 0 .2-.1.3 0 .3-.1.3.1.3 0 .2.1.3 0 .3 0 .3 0 .2 0 .3-.1.3 0 .3 0 .3 0 .2-.1.3.1.3 0 .3 0 .3.1.2 0 .3 0 .3.1.3-.1.3.1.2 0 .3.1.3-.1.3 0 .2 0 .3-.1.3 0 .3.1.3.1.2 0 .3 0 .3 0 .3 0 .3-.2.2.1.3-.1.3 0 .3 0 .3 0 .2-.1.3 0 .3 0 .3.1.2.1.3.1.3 0 .3.1.3-.1.2-.1.3 0 .3.1.3-.1" stroke="#0094ff"/><path d="M16.5 144.6l.3 0 .3-.1.3.1.2 0 .3.1.3 0 .3.1.3 0 .2 0 .3 0 .3-.1.3 0 .3.1.2-.1.3.1.3 0 .3-.1.2-.1.3-.1.3-.1.3 0 .3 0 .2 0 .3 0 .3 0 .3 0 .3-.2.2 0 .3-.1.3-.2.3-.2.2-.4.3-.6.3-.8.3-1.1.3-2 .2-3.5.3-6.1.3-7.9.3-1.1.3 7.4.2 6.7.3 4 .3 2.2.3 1.2.3.9.2.6.3.3.3.3.3.2.2.1.3.1.3 0 .3.1.3 0 .2.1.3 0 .3.1.3.1.3 0 .2 0 .3 0 .3 0 .3.1.3 0 .2 0 .3 0 .3.1.3 0 .2 0 .3 0 .3.1.3-.1.3 0 .2 0 .3 0 .3 0 .3 0 .3 0 .2-.1.3 0 .3 0 .3-.1.2.1.3 0 .3 0 .3 0 .3-.1.2 0 .3-.1.3-.1.3-.1.3-.1.2 0 .3-.1.3-.1.3-.2.3-.2.2-.4.3-.6.3-.9.3-1.5.2-2.2.3-2.1.3.2.3 2.3.3 2.1.2 1.3.3.9.3.6.3.3.3.3.2.1.3.1.3.1.3 0 .2.1.3.1.3 0 .3 0 .3.1.2 0 .3 0 .3.1.3-.1.3.1.2.1.3 0 .3 0 .3 0 .3 0 .2 0 .3 0 .3.1.3 0 .2-.1.3 0 .3-.1.3.1.3-.1.2 0 .3 0 .3 0 .3-.1.3 0 .2.1.3 0 .3.1.3-.1.3 0 .2 0 .3 0 .3 0 .3 0 .2-.1.3 0 .3 0 .3 0 .3 0 .2 0 .3 0 .3 0 .3 0 .3.1.2 0 .3 0 .3 0 .3 0 .2-.1.3 0 .3 0 .3-.2.3 0 .2 0 .3 0 .3 0 .3 0 .3.1.2.1.3-.1.3.1.3.1.3-.1.2 0 .3.1.3-.2.3 0 .2 0 .3 0 .3 0 .3.1.3.1.2-.1.3-.1.3 0 .3 0 .3 0 .2-.1.3 0 .3 0 .3-.1.3 0 .2 0 .3.2.3-.1.3.1.2 0 .3-.1.3-.1.3 0 .3-.1.2 0 .3.1.3 0 .3 0 .3 0 .2-.1.3 0 .3 0 .3 0 .2 0 .3 0 .3 0 .3 0 .3 0 .2 0 .3 0 .3-.1.3 0 .3-.1.2 0 .3 0 .3.1.3 0 .3-.1.2-.1.3-.1.3-.2.3-.2.2-.1.3-.2.3-.2.3-.4.3-.5.2-.5.3-.2.3 0 .3.3.3.4.2.4.3.3.3.2.3.2.2.1.3.1.3-.1.3 0 .3-.2.2-.1.3-.2.3-.2.3-.2.3-.4.2-.6.3-.6.3-.9.3-.9.3-.4.2.1.3.7.3.9.3.9.2.6.3.5.3.3.3.3.3.1.2.3.3.1.3 0 .3.1.3-.1.2.1.3 0 .3-.1.3.1.3 0 .2-.2.3 0 .3.1.3 0 .2.1.3 0 .3-.1.3-.1.3.1.2 0 .3.1.3 0 .3.1.3-.1.2-.2.3-.1.3-.1.3 0 .2-.2.3 0 .3-.1.3-.2.3-.2.2-.2.3-.4.3-.5.3-.6.3-.9.2-1.1.3-1.3.3-1.1.3-.7.3.1.2.9.3 1.2.3 1 .3.9.2.5.3.4.3.3.3.1.3 0 .2-.2.3-.1.3-.4.3-.6.3-.8.2-1.1.3-1.6.3-2 .3-2.2.3-2 .2-.7.3.8.3 2 .3 2.3.2 2.1.3 1.5.3 1.2.3.9.3.7.2.4.3.4.3.3.3.2.3.3.2.2.3.1.3.2.3 0 .2.1.3.1.3 0 .3 0 .3.1.2 0 .3 0 .3 0 .3 0 .3.1.2 0 .3-.1.3.1.3 0 .3 0 .2 0 .3 0 .3 0 .3 0 .2-.1.3.1.3-.1.3 0 .3 0 .2 0 .3-.1.3-.2.3-.1.3-.1.2-.2.3-.2.3 0 .3-.4.2-.5.3-.5.3-.8.3-.9.3-1.3.2-1.6.3-1.7.3-1.3.3-.5.3.8.2 1.8.3 1.7.3 1.4.3 1.2.3.9.2.6.3.4.3.4.3.2.2.2.3.2.3 0 .3 0 .3.1.2 0 .3-.1.3-.2.3-.1.3-.2.2-.3.3-.4.3-.6.3-.7.3-.7.2-.4.3.1.3.6.3.7.2.8.3.6.3.5.3.2.3.3.2.1.3.2.3.1.3.1.3.1.2 0 .3 0 .3-.1.3 0 .2-.1.3 0 .3-.1.3-.2.3-.1.2-.2.3-.4.3-.5.3-.7.3-.9.2-1.2.3-.9.3-.6.3.2.3.9.2 1 .3 1 .3.8.3.7.2.5.3.4.3.3.3.3.3.1.2 0 .3.2.3 0 .3.1.3.1.2.1.3-.1.3.1.3.1.3.1.2 0 .3 0 .3 0 .3 0 .2 0 .3 0 .3 0 .3 0 .3-.1.2.1.3.1.3.1.3 0 .3.1.2-.1.3 0 .3 0 .3 0 .2-.1.3.1.3 0 .3 0 .3.1.2 0 .3.1.3 0 .3 0 .3-.1.2.1.3-.1.3 0 .3.1.3.1.2-.1.3 0 .3 0 .3-.1.2.1.3 0 .3.1.3.1.3.1.2-.1.3 0 .3 0 .3-.1.3 0 .2-.1.3 0 .3 0 .3 0 .2.1.3 0 .3.1.3-.1.3 0 .2 0 .3 0 .3 0 .3.1.3 0 .2 0 .3 0 .3 0 .3.1.3-.1.2 0 .3.1.3-.1.3-.1.2 0 .3 0 .3 0 .3.1.3 0 .2 0 .3-.1.3 0 .3-.1.3 0 .2.1.3 0 .3 0 .3.1.3 0 .2-.1.3 0 .3.1.3-.1.2 0 .3 0 .3.1.3-.1.3.1.2 0 .3 0 .3-.1.3 0 .3 0 .2-.1.3 0 .3.2.3 0 .2 0 .3.1.3 0 .3 0 .3 0 .2-.1.3-.1.3 0 .3 0 .3-.1.2.1.3 0 .3 0 .3.1.3 0 .2 0" stroke="#0054ff"/><path d="M13.2 148.9l.3 0 .2 0 .3 0 .3-.1.3 0 .3 0 .2 0 .3 0 .3.1.3.1.2 0 .3 0 .3-.1.3 0 .3-.1.2-.1.3-.1.3.1.3-.1.3 0 .2-.1.3 0 .3 0 .3 0 .3-.2.2-.1.3 0 .3-.2.3-.2.2-.2.3-.2.3-.4.3-.6.3-.7.2-1.4.3-2.2.3-4 .3-7.1.3-9.1.2-1.3.3 8.4.3 7.7.3 4.6.3 2.6.2 1.5.3 1 .3.6.3.3.2.3.3.2.3.2.3.1.3.2.2.2.3.1.3 0 .3 0 .3 0 .2-.1.3 0 .3.1.3 0 .2.1.3 0 .3.1.3-.1.3-.1.2.1.3 0 .3-.1.3 0 .3 0 .2 0 .3 0 .3.1.3-.1.3 0 .2 0 .3.1.3 0 .3 0 .2 0 .3-.1.3.1.3 0 .3-.1.2 0 .3.1.3-.1.3 0 .3-.1.2 0 .3-.1.3-.1.3-.2.3 0 .2-.3.3-.3.3-.4.3-.7.2-1 .3-1.8.3-2.5.3-2.4.3.4.2 2.5.3 2.4.3 1.5.3 1 .3.6.2.4.3.3.3.3.3.2.2.1.3.1.3 0 .3 0 .3-.1.2.1.3 0 .3-.1.3 0 .3.2.2-.1.3.1.3 0 .3 0 .3-.1.2.1.3 0 .3.1.3-.1.2.1.3-.1.3 0 .3-.1.3.1.2-.1.3-.1.3.1.3 0 .3 0 .2 0 .3.1.3 0 .3.1.2 0 .3 0 .3-.1.3 0 .3 0 .2 0 .3 0 .3-.1.3 0 .3-.1.2-.1.3-.1.3.1.3.1.3.1.2.1.3.1.3 0 .3-.1.2 0 .3 0 .3 0 .3 0 .3 0 .2 0 .3-.1.3 0 .3 0 .3 0 .2 0 .3.1.3.1.3 0 .3 0 .2-.1.3-.1.3 0 .3 0 .2 0 .3 0 .3 0 .3 0 .3-.1.2 0 .3 0 .3-.1.3 0 .3.1.2-.1.3 0 .3 0 .3 0 .2 0 .3.1.3 0 .3 0 .3-.1.2 0 .3-.1.3 0 .3 0 .3 0 .2 0 .3 0 .3 0 .3 0 .3-.1.2.1.3 0 .3 0 .3 0 .2 0 .3 0 .3 0 .3 0 .3-.1.2 0 .3-.1.3-.1.3 0 .3 0 .2.1.3 0 .3 0 .3 0 .3-.2.2-.1.3.1.3 0 .3-.2.2 0 .3 0 .3-.3.3-.3.3-.3.2-.4.3-.4.3-.4.3-.2.3.2.2.3.3.3.3.4.3.2.2.2.3.1.3.1.3.1.3 0 .2-.1.3-.1.3-.1.3-.3.3-.3.2-.3.3-.5.3-.6.3-.9.3-1.1.2-1.2.3-.7.3.1.3.9.2 1 .3 1 .3.8.3.6.3.5.2.3.3.3.3.3.3.2.3.1.2.1.3.1.3.1.3.1.2 0 .3 0 .3.1.3-.1.3.1.2-.1.3 0 .3-.1.3 0 .3 0 .2.1.3 0 .3 0 .3 0 .3 0 .2-.1.3 0 .3 0 .3-.1.2-.1.3 0 .3-.1.3-.1.3-.1.2-.1.3-.3.3-.3.3-.3.3-.5.2-.6.3-.8.3-.9.3-1.1.3-1.2.2-.6.3.2.3.9.3 1 .2 1 .3.8.3.5.3.4.3.3.2 0 .3 0 .3-.2.3-.3.3-.3.2-.5.3-.7.3-1.1.3-1.4.2-1.8.3-2 .3-1.9.3-.7.3.8.2 1.9.3 2.1.3 1.9.3 1.3.3 1.1.2.8.3.6.3.4.3.4.3.3.2.3.3.1.3.2.3.2.2.1.3.1.3.1.3.1.3 0 .2 0 .3-.1.3.1.3 0 .3 0 .2.1.3 0 .3 0 .3 0 .3 0 .2.1.3 0 .3-.1.3 0 .2.1.3-.1.3 0 .3-.1.3.1.2-.2.3 0 .3-.1.3 0 .3-.1.2 0 .3-.2.3-.2.3-.2.2-.4.3-.3.3-.3.3-.5.3-.8.2-1 .3-1.3.3-1.8.3-1.9.3-1.5.2-.3.3.9.3 1.7.3 1.9.3 1.5.2 1.2.3.9.3.6.3.6.2.4.3.1.3.3.3.1.3.1.2.1.3.1.3 0 .3 0 .3-.1.2-.1.3-.2.3-.4.3-.3.2-.6.3-.8.3-.6.3-.3.3.2.2.5.3.7.3.7.3.6.3.4.2.3.3.1.3.1.3.1.3.1.2.2.3.1.3 0 .3.1.2-.2.3-.1.3-.1.3-.1.3-.1.2-.1.3-.3.3-.3.3-.3.3-.6.2-.8.3-1.1.3-1.2.3-1.2.3-.7.2.3.3 1 .3 1.3.3 1.2.2 1 .3.6.3.6.3.4.3.3.2.2.3.2.3.1.3 0 .3.2.2.1.3 0 .3.1.3.1.2.1.3 0 .3.1.3 0 .3 0 .2 0 .3.1.3 0 .3.1.3 0 .2-.1.3 0 .3 0 .3 0 .3 0 .2.1.3.1.3 0 .3 0 .2 0 .3 0 .3 0 .3 0 .3.1.2 0 .3-.1.3 0 .3 0 .3 0 .2-.1.3.1.3 0 .3 0 .3 0 .2 0 .3.1.3 0 .3.1.2-.1.3.1.3 0 .3 0 .3 0 .2 0 .3 0 .3 0 .3 0 .3 0 .2 0 .3-.1.3.1.3 0 .2 0 .3 0 .3 0 .3 0 .3 0 .2 0 .3 0 .3-.1.3 0 .3 0 .2 0 .3-.1.3.1.3 0 .3.1.2 0 .3-.1.3 0 .3 0 .2-.1.3.1.3.1.3 0 .3 0 .2 0 .3 0 .3 0 .3-.1.3.1.2.1.3 0 .3 0 .3.1.2-.1.3-.1.3-.1.3 0 .3.1.2 0 .3 0 .3.1.3-.1.3 0 .2-.1.3.1.3.1.3 0 .3 0 .2 0 .3 0 .3-.1.3 0 .2 0 .3-.1.3 0 .3 0 .3 0 .2.1.3 0 .3 0 .3.1.3 0 .2 0 .3 0 .3 0 .3 0 .3 0 .2 0 .3 0 .3 0" stroke="#0015ff"/><path d="M9.8 152.5l.3 0 .3 0 .3-.1.3 0 .2 0 .3-.1.3.1.3.1.2 0 .3 0 .3.1.3-.1.3 0 .2-.1.3 0 .3 0 .3 0 .3-.1.2.1.3-.1.3.1.3-.1.3 0 .2-.1.3 0 .3-.1.3-.1.2-.1.3-.2.3-.2.3-.3.3-.3.2-.6.3-.9.3-1.4.3-2.4.3-3.9.2-6.9.3-9 .3-1.3.3 8.6.2 7.6.3 4.5.3 2.5.3 1.5.3.9.2.6.3.3.3.4.3.2.3.2.2.1.3.1.3 0 .3.1.3.1.2.1.3-.1.3.1.3.1.2 0 .3-.1.3.1.3 0 .3 0 .2-.1.3 0 .3.1.3 0 .3.1.2.1.3 0 .3-.1.3 0 .3.1.2-.1.3 0 .3.1.3 0 .2 0 .3 0 .3 0 .3 0 .3 0 .2-.1.3 0 .3 0 .3 0 .3 0 .2 0 .3 0 .3-.1.3 0 .2-.2.3-.1.3-.2.3-.1.3-.3.2-.5.3-.8.3-1.1.3-1.7.3-2.6.2-2.3.3.4.3 2.6.3 2.4.3 1.5.2 1.1.3.5.3.5.3.2.2.2.3.2.3.2.3 0 .3 0 .2.1.3 0 .3 0 .3.1.3 0 .2 0 .3 0 .3.1.3 0 .3.1.2 0 .3 0 .3 0 .3.1.2-.1.3 0 .3 0 .3.1.3-.1.2 0 .3.1.3-.1.3 0 .3.1.2-.1.3.1.3 0 .3-.1.2.1.3 0 .3 0 .3 0 .3.1.2-.1.3 0 .3 0 .3 0 .3-.1.2.1.3 0 .3 0 .3 0 .3 0 .2-.1.3 0 .3 0 .3 0 .2.1.3.1.3.1.3-.1.3.1.2 0 .3-.1.3-.1.3 0 .3 0 .2 0 .3.1.3 0 .3.1.2.1.3-.1.3 0 .3 0 .3 0 .2-.1.3.1.3-.1.3 0 .3 0 .2-.1.3 0 .3.1.3 0 .3 0 .2 0 .3-.1.3 0 .3.1.2 0 .3 0 .3 0 .3-.2.3 0 .2.1.3-.1.3.2.3.1.3-.1.2 0 .3 0 .3-.1.3-.1.3 0 .2 0 .3 0 .3 0 .3.1.2 0 .3 0 .3 0 .3 0 .3 0 .2 0 .3-.1.3 0 .3 0 .3-.1.2-.1.3 0 .3-.1.3 0 .2 0 .3.1.3-.1.3 0 .3-.1.2 0 .3-.1.3-.1.3-.1.3-.2.2-.1.3-.4.3-.3.3-.3.3-.4.2-.3.3.2.3.3.3.3.2.3.3.2.3.2.3.2.3.1.2.1.3 0 .3-.1.3-.1.3-.2.2-.3.3-.2.3-.4.3-.4.3-.7.2-.8.3-1.1.3-1 .3-.8.2.1.3.8.3 1.1.3.9.3.9.2.6.3.4.3.3.3.3.3.2.2.2.3.2.3.1.3.1.2 0 .3 0 .3.1.3-.1.3 0 .2 0 .3 0 .3 0 .3 0 .3.1.2 0 .3.1.3-.1.3 0 .3-.2.2-.1.3 0 .3-.1.3.1.2 0 .3-.1.3 0 .3-.1.3-.2.2-.1.3-.1.3-.2.3-.2.3-.3.2-.3.3-.5.3-.6.3-.8.2-1 .3-1.1.3-1.2.3-.6.3.3.2.9.3 1.1.3 1 .3.7.3.5.2.4.3.2.3 0 .3 0 .3-.2.2-.3.3-.3.3-.5.3-.8.2-1.1.3-1.4.3-1.8.3-2.1.3-1.8.2-.7.3.8.3 1.9.3 2.1.3 1.9.2 1.4.3 1.1.3.8.3.6.3.4.2.4.3.2.3.2.3.2.2.3.3.2.3.1.3.1.3.1.2.1.3 0 .3 0 .3.1.3.1.2-.1.3-.1.3.1.3-.1.2-.1.3.1.3-.1.3-.1.3 0 .2 0 .3 0 .3.1.3 0 .3-.1.2 0 .3 0 .3-.1.3-.1.3-.1.2 0 .3-.1.3-.1.3-.2.2-.1.3-.3.3-.3.3-.4.3-.5.2-.7.3-.8.3-1.2.3-1.5.3-1.9.2-2.2.3-1.8.3-.5.3 1.1.3 1.9.2 2.1.3 1.8.3 1.4.3 1 .2.7.3.6.3.4.3.4.3.3.2.2.3.1.3.1.3 0 .3-.1.2.1.3-.2.3-.1.3-.3.2-.4.3-.5.3-.6.3-.7.3-.8.2-.4.3.3.3.6.3.7.3.8.2.6.3.4.3.3.3.3.3.2.2.2.3.1.3.2.3 0 .2.1.3-.1.3 0 .3-.1.3-.1.2-.1.3-.2.3-.1.3-.3.3-.3.2-.4.3-.7.3-.7.3-1 .2-1.2.3-1.1.3-.6.3.1.3 1.1.2 1.1.3 1.2.3.9.3.8.3.4.2.4.3.3.3.3.3.3.3.1.2.1.3.2.3 0 .3 0 .2.1.3.1.3.1.3 0 .3.1.2 0 .3-.1.3 0 .3 0 .3 0 .2 0 .3.1.3 0 .3.1.3 0 .2 0 .3 0 .3 0 .3-.1.2 0 .3.1.3.2.3.1.3.1.2-.1.3 0 .3 0 .3 0 .3.1.2 0 .3 0 .3-.1.3.1.2 0 .3-.1.3.1.3 0 .3 0 .2-.1.3 0 .3 0 .3 0 .3 0 .2 0 .3 0 .3 0 .3 0 .3 0 .2.1.3.1.3-.1.3 0 .2-.1.3 0 .3 0 .3.1.3.1.2 0 .3 0 .3-.1.3-.1.3 0 .2 0 .3 0 .3.1.3 0 .3.1.2.1.3 0 .3 0 .3 0 .2-.1.3.1.3 0 .3-.1.3.1.2 0 .3 0 .3 0 .3 0 .3 0 .2 0 .3-.1.3 0 .3 0 .2 0 .3 0 .3 0 .3.1.3.1.2 0 .3.1.3-.1.3-.1.3 0 .2 0 .3 0 .3 0 .3.1.3 0 .2 0 .3 0 .3 0 .3 0 .2-.1.3 0 .3 0 .3.1.3 0 .2.1.3.1.3 0 .3 0 .3.1.2 0 .3 0 .3 0 .3 0 .3.1.2 0 .3-.1.3 0 .3-.1.2 0" stroke="#0000ff"/></g>
<g stroke="#828282" stroke-width="1.0" fill="none">
<polyline points="8.5,157.9 8.5,82.2 62.0,14.6 229.3,14.6"/>
<polyline points="8.5,157.9 175.8,157.9 229.3,90.3 229.3,14.6"/>
</g>
<path d="M19.7 157.9v1.6 M36.4 157.9v1.1 M53.1 157.9v1.6 M69.8 157.9v1.1 M86.6 157.9v1.6 M103.3 157.9v1.1 M120.0 157.9v1.6 M136.8 157.9v1.1 M153.5 157.9v1.6 M170.2 157.9v1.1" stroke="#777" stroke-width="0.8"/>
<text x="19.7" y="170.5" text-anchor="middle" font-family="'Liberation Serif', serif" font-size="10.5" fill="#222" stroke="#222" stroke-width="0.25">600</text>
<text x="53.1" y="170.5" text-anchor="middle" font-family="'Liberation Serif', serif" font-size="10.5" fill="#222" stroke="#222" stroke-width="0.25">900</text>
<text x="86.6" y="170.5" text-anchor="middle" font-family="'Liberation Serif', serif" font-size="10.5" fill="#222" stroke="#222" stroke-width="0.25">1200</text>
<text x="120.0" y="170.5" text-anchor="middle" font-family="'Liberation Serif', serif" font-size="10.5" fill="#222" stroke="#222" stroke-width="0.25">1500</text>
<text x="153.5" y="170.5" text-anchor="middle" font-family="'Liberation Serif', serif" font-size="10.5" fill="#222" stroke="#222" stroke-width="0.25">1800</text>
<text x="45.5" y="182.5" font-family="'Liberation Serif', serif" font-size="11" fill="#222" stroke="#222" stroke-width="0.25" textLength="87" lengthAdjust="spacingAndGlyphs">Raman shift (cm<tspan dy="-3.5" font-size="7">−1</tspan><tspan dy="3.5">)</tspan></text>
<text x="232.1" y="89.5" font-family="'Liberation Serif', serif" font-size="8.3" fill="#222" stroke="#222" stroke-width="0.25">0</text>
<text x="232.1" y="74.7" font-family="'Liberation Serif', serif" font-size="8.3" fill="#222" stroke="#222" stroke-width="0.25">4000</text>
<text x="232.1" y="59.8" font-family="'Liberation Serif', serif" font-size="8.3" fill="#222" stroke="#222" stroke-width="0.25">8000</text>
<text x="232.1" y="45.0" font-family="'Liberation Serif', serif" font-size="8.3" fill="#222" stroke="#222" stroke-width="0.25">12000</text>
<text x="232.1" y="30.1" font-family="'Liberation Serif', serif" font-size="8.3" fill="#222" stroke="#222" stroke-width="0.25">16000</text>
<path d="M229.3 79.3h1.2 M229.3 64.4h1.2 M229.3 49.6h1.2 M229.3 34.7h1.2 M229.3 19.9h1.2 M229.3 86.7h2 M229.3 71.8h2 M229.3 57.0h2 M229.3 42.1h2 M229.3 27.3h2" stroke="#777" stroke-width="0.8"/>
<text x="206.0" y="12.7" font-family="'Liberation Serif', serif" font-size="9.2" fill="#222" stroke="#222" stroke-width="0.25" textLength="54.4" lengthAdjust="spacingAndGlyphs">Intensity (a.u.)</text>
<text transform="matrix(0.82,0,-0.57,0.95,237.6,95.8)" text-anchor="middle" font-family="'Liberation Serif', serif" font-size="10.5" fill="#222" stroke="#222" stroke-width="0.4">0</text>
<text transform="matrix(0.82,0,-0.57,0.95,225.2,112.2)" text-anchor="middle" font-family="'Liberation Serif', serif" font-size="10.5" fill="#222" stroke="#222" stroke-width="0.4">4</text>
<text transform="matrix(0.82,0,-0.57,0.95,212.8,128.6)" text-anchor="middle" font-family="'Liberation Serif', serif" font-size="10.5" fill="#222" stroke="#222" stroke-width="0.4">8</text>
<text transform="matrix(0.82,0,-0.57,0.95,200.5,144.9)" text-anchor="middle" font-family="'Liberation Serif', serif" font-size="10.5" fill="#222" stroke="#222" stroke-width="0.4">12</text>
<text transform="matrix(0.82,0,-0.57,0.95,188.1,161.3)" text-anchor="middle" font-family="'Liberation Serif', serif" font-size="10.5" fill="#222" stroke="#222" stroke-width="0.4">16</text>
<g><text transform="matrix(0.645,-0.815,0.900,0.000,207.0,150.3)" font-family="'Liberation Serif', serif" font-size="11.0" fill="#222" stroke="#222" stroke-width="0.25">Different spots</text></g>
<rect x="133.5" y="14.6" width="95.8" height="64.9" fill="#fff" stroke="#c8c8c8" stroke-width="0.9"/>
<rect x="161.90" y="39.42" width="1.05" height="26.28" fill="#efb27c"/><rect x="163.00" y="55.43" width="1.05" height="10.27" fill="#8ccf8c"/><rect x="164.10" y="57.41" width="1.05" height="8.29" fill="#b2abe2"/><rect x="165.87" y="41.31" width="1.05" height="24.39" fill="#efb27c"/><rect x="166.97" y="56.09" width="1.05" height="9.61" fill="#8ccf8c"/><rect x="168.07" y="58.08" width="1.05" height="7.62" fill="#b2abe2"/><rect x="169.84" y="38.39" width="1.05" height="27.31" fill="#efb27c"/><rect x="170.94" y="55.76" width="1.05" height="9.94" fill="#8ccf8c"/><rect x="172.04" y="57.75" width="1.05" height="7.95" fill="#b2abe2"/><rect x="173.81" y="36.80" width="1.05" height="28.90" fill="#efb27c"/><rect x="174.91" y="54.76" width="1.05" height="10.94" fill="#8ccf8c"/><rect x="176.01" y="57.08" width="1.05" height="8.62" fill="#b2abe2"/><rect x="177.78" y="40.71" width="1.05" height="24.99" fill="#efb27c"/><rect x="178.88" y="56.42" width="1.05" height="9.28" fill="#8ccf8c"/><rect x="179.98" y="58.08" width="1.05" height="7.62" fill="#b2abe2"/><rect x="181.75" y="39.42" width="1.05" height="26.28" fill="#efb27c"/><rect x="182.85" y="55.76" width="1.05" height="9.94" fill="#8ccf8c"/><rect x="183.95" y="57.75" width="1.05" height="7.95" fill="#b2abe2"/><rect x="185.72" y="40.71" width="1.05" height="24.99" fill="#efb27c"/><rect x="186.82" y="56.09" width="1.05" height="9.61" fill="#8ccf8c"/><rect x="187.92" y="58.08" width="1.05" height="7.62" fill="#b2abe2"/><rect x="189.69" y="39.42" width="1.05" height="26.28" fill="#efb27c"/><rect x="190.79" y="55.43" width="1.05" height="10.27" fill="#8ccf8c"/><rect x="191.89" y="57.41" width="1.05" height="8.29" fill="#b2abe2"/><rect x="193.66" y="37.79" width="1.05" height="27.91" fill="#efb27c"/><rect x="194.76" y="55.09" width="1.05" height="10.61" fill="#8ccf8c"/><rect x="195.86" y="57.08" width="1.05" height="8.62" fill="#b2abe2"/><rect x="197.63" y="38.39" width="1.05" height="27.31" fill="#efb27c"/><rect x="198.73" y="55.76" width="1.05" height="9.94" fill="#8ccf8c"/><rect x="199.83" y="57.75" width="1.05" height="7.95" fill="#b2abe2"/><rect x="201.60" y="39.42" width="1.05" height="26.28" fill="#efb27c"/><rect x="202.70" y="56.09" width="1.05" height="9.61" fill="#8ccf8c"/><rect x="203.80" y="58.08" width="1.05" height="7.62" fill="#b2abe2"/><rect x="205.57" y="35.51" width="1.05" height="30.19" fill="#efb27c"/><rect x="206.67" y="54.76" width="1.05" height="10.94" fill="#8ccf8c"/><rect x="207.77" y="56.75" width="1.05" height="8.95" fill="#b2abe2"/><rect x="209.54" y="36.80" width="1.05" height="28.90" fill="#efb27c"/><rect x="210.64" y="55.09" width="1.05" height="10.61" fill="#8ccf8c"/><rect x="211.74" y="57.08" width="1.05" height="8.62" fill="#b2abe2"/><rect x="213.51" y="41.70" width="1.05" height="24.00" fill="#efb27c"/><rect x="214.61" y="56.42" width="1.05" height="9.28" fill="#8ccf8c"/><rect x="215.71" y="58.41" width="1.05" height="7.29" fill="#b2abe2"/><rect x="217.48" y="38.39" width="1.05" height="27.31" fill="#efb27c"/><rect x="218.58" y="55.43" width="1.05" height="10.27" fill="#8ccf8c"/><rect x="219.68" y="57.41" width="1.05" height="8.29" fill="#b2abe2"/><rect x="221.45" y="38.39" width="1.05" height="27.31" fill="#efb27c"/><rect x="222.55" y="55.09" width="1.05" height="10.61" fill="#8ccf8c"/><rect x="223.65" y="57.41" width="1.05" height="8.29" fill="#b2abe2"/>
<rect x="161.0" y="14.6" width="65.4" height="51.1" fill="none" stroke="#8a8a8a" stroke-width="0.7"/>
<text x="160.1" y="67.6" text-anchor="end" font-family="'Liberation Serif', serif" font-size="5.6" fill="#444">0</text>
<text x="160.1" y="61.0" text-anchor="end" font-family="'Liberation Serif', serif" font-size="5.6" fill="#444">2000</text>
<text x="160.1" y="54.3" text-anchor="end" font-family="'Liberation Serif', serif" font-size="5.6" fill="#444">4000</text>
<text x="160.1" y="47.7" text-anchor="end" font-family="'Liberation Serif', serif" font-size="5.6" fill="#444">6000</text>
<text x="160.1" y="41.1" text-anchor="end" font-family="'Liberation Serif', serif" font-size="5.6" fill="#444">8000</text>
<text x="160.1" y="34.5" text-anchor="end" font-family="'Liberation Serif', serif" font-size="5.6" fill="#444">10000</text>
<text x="160.1" y="27.8" text-anchor="end" font-family="'Liberation Serif', serif" font-size="5.6" fill="#444">12000</text>
<text x="160.1" y="21.2" text-anchor="end" font-family="'Liberation Serif', serif" font-size="5.6" fill="#444">14000</text>
<text x="175.4" y="70.8" text-anchor="middle" font-family="'Liberation Serif', serif" font-size="6" fill="#444">4</text>
<text x="191.3" y="70.8" text-anchor="middle" font-family="'Liberation Serif', serif" font-size="6" fill="#444">8</text>
<text x="207.2" y="70.8" text-anchor="middle" font-family="'Liberation Serif', serif" font-size="6" fill="#444">12</text>
<text x="223.1" y="70.8" text-anchor="middle" font-family="'Liberation Serif', serif" font-size="6" fill="#444">16</text>
<text x="159.0" y="77.8" font-family="'Liberation Serif', serif" font-size="8.6" fill="#222" stroke="#222" stroke-width="0.12" textLength="67.4" lengthAdjust="spacingAndGlyphs">Random spot number</text>
<text transform="translate(142.5,63.2) rotate(-90)" font-family="'Liberation Serif', serif" font-size="8.0" fill="#222" stroke="#222" stroke-width="0.12" textLength="42.0" lengthAdjust="spacingAndGlyphs">Intensity (a.u.)</text>
<rect x="163.6" y="17.2" width="6.2" height="3.3" fill="#f3bd8c"/>
<text x="173.9" y="20.7" font-family="'Liberation Serif', serif" font-size="5.9" fill="#333" stroke="#333" stroke-width="0.1" textLength="50.0" lengthAdjust="spacingAndGlyphs">610cm<tspan dy="-1.6" font-size="3.6">−1</tspan><tspan dy="1.6">RSD=8.70%</tspan></text>
<rect x="163.6" y="23.4" width="6.2" height="3.3" fill="#96d896"/>
<text x="173.9" y="26.8" font-family="'Liberation Serif', serif" font-size="5.9" fill="#333" stroke="#333" stroke-width="0.1" textLength="49.0" lengthAdjust="spacingAndGlyphs">770cm<tspan dy="-1.6" font-size="3.6">−1</tspan><tspan dy="1.6">RSD=6.23%</tspan></text>
<rect x="163.6" y="29.4" width="6.2" height="3.3" fill="#b9b6e6"/>
<text x="173.9" y="32.9" font-family="'Liberation Serif', serif" font-size="5.9" fill="#333" stroke="#333" stroke-width="0.1" textLength="54.0" lengthAdjust="spacingAndGlyphs">1650cm<tspan dy="-1.6" font-size="3.6">−1</tspan><tspan dy="1.6">RSD=10.89%</tspan></text>
<text x="70.9" y="36.9" font-family="'Liberation Serif', serif" font-size="10.8" fill="#ee2a2a" textLength="58.6" lengthAdjust="spacingAndGlyphs">Ag@SiO<tspan dy="2" font-size="7">2</tspan><tspan dy="-2">−30</tspan></text>
</g>
<g transform="translate(274.0,179.5)">
<text x="8.6" y="27.3" font-family="'Liberation Serif', serif" font-size="12.3" font-weight="400" fill="#333" stroke="#333" stroke-width="0.15">(d)</text>
<line x1="62.0" y1="14.6" x2="62.0" y2="90.3" stroke="#cdcdcd" stroke-width="1"/>
<g fill="none" stroke-width="0.70" opacity="0.50"><path d="M60.0 94.5V87.7M225.9 94.5V88.6" stroke="#ff0000"/><path d="M56.7 98.8V93.5M222.6 98.8V92.0" stroke="#ff1500"/><path d="M53.3 103.0V96.6M219.2 103.0V96.4" stroke="#ff7700"/><path d="M50.0 107.2V101.0M215.9 107.2V100.3" stroke="#ff9400"/><path d="M46.6 111.4V105.0M212.5 111.4V106.2" stroke="#ffdc00"/><path d="M43.3 115.7V108.9M209.2 115.7V110.2" stroke="#ffff00"/><path d="M39.9 119.9V112.7M205.8 119.9V114.1" stroke="#bfff00"/><path d="M36.6 124.1V118.4M202.5 124.1V118.1" stroke="#7fff00"/><path d="M33.2 128.3V121.0M199.2 128.3V122.1" stroke="#15ff00"/><path d="M29.9 132.6V126.6M195.8 132.6V126.9" stroke="#00ff2a"/><path d="M26.6 136.8V129.8M192.5 136.8V131.3" stroke="#00ffa9"/><path d="M23.2 141.0V134.3M189.1 141.0V133.7" stroke="#00e9ff"/><path d="M19.9 145.2V137.9M185.8 145.2V138.1" stroke="#0094ff"/><path d="M16.5 149.5V142.8M182.4 149.5V141.9" stroke="#0054ff"/><path d="M13.2 153.7V147.7M179.1 153.7V147.4" stroke="#0015ff"/><path d="M9.8 157.9V151.4M175.7 157.9V150.2" stroke="#0000ff"/></g><g fill="none" stroke-width="0.90" stroke-linejoin="round" opacity="0.80"><path d="M60 87.7l.3-.1.3.1.2-.1.3.1.3 0 .3.2.2-.2.3 0 .3-.1.3-.1.3-.1.2.1.3-.2.3.2.3-.1.3.1.2-.1.3.2.3-.2.3.1.3-.1.2-.2.3 0 .3-.1.3 0 .2-.2.3.1.3-.3.3-.2.3-.2.2-.4.3-.7.3-.8.3-1.2.3-1.8.2-2.9.3-5.2.3-9.2.3-11.9.2-1.8.3 11.3.3 10.1.3 6 .3 3.4.2 2 .3 1 .3.8.3.6.3.3.2.4.3.3.3.2.3.1.3.2.2-.1.3.1.3.1.3 0 .2-.1.3.1.3 0 .3 0 .3.1.2.1.3 0 .3.1.3.1.3-.1.2 0 .3.2.3-.2.3-.1.2.1.3.1.3-.1.3.3.3.1.2.1.3 0 .3-.1.3-.3.3 0 .2-.2.3.1.3 0 .3.3.3 0 .2.1.3 0 .3 0 .3-.1.2-.3.3-.1.3-.2.3-.2.3-.2.2-.2.3-.3.3-.6.3-.8.3-1.4.2-2.2.3-3.3.3-2.9.3.4.3 3.5.2 3 .3 2.1.3 1.2.3.7.2.5.3.4.3.2.3.2.3.2.2.1.3.2.3.1.3 0 .3 0 .2 0 .3-.3.3.2.3 0 .2-.1.3.1.3.2.3 0 .3 0 .2.1.3 0 .3 0 .3.1.3.2.2.2.3.1.3-.1.3 0 .3-.1.2-.2.3 0 .3.1.3-.1.2.2.3.1.3 0 .3 0 .3-.1.2 0 .3 0 .3 0 .3.1.3.1.2-.1.3.1.3-.1.3.1.3.1.2 0 .3-.1.3.1.3-.2.2 0 .3.2.3.1.3-.2.3.2.2 0 .3-.1.3-.1.3.1.3-.1.2 0 .3-.2.3.1.3.1.2 0 .3.1.3.1.3 0 .3-.1.2.3.3-.1.3-.1.3.1.3 0 .2-.2.3.2.3 0 .3.1.3 0 .2 0 .3 0 .3 0 .3-.1.2-.1.3-.1.3.1.3 0 .3 0 .2.1.3-.1.3.1.3.1.3.1.2 0 .3.1.3-.1.3-.1.2.1.3-.2.3-.1.3-.1.3.1.2-.1.3.1.3-.1.3 0 .3-.2.2 0 .3 0 .3.1.3.2.3.1.2.1.3-.1.3-.1.3-.1.2.1.3.1.3-.2.3 0 .3 0 .2-.2.3-.1.3 0 .3.1.3-.2.2 0 .3-.3.3-.3.3-.4.3-.3.2-.5.3-.2.3-.2.3.2.2.2.3.4.3.1.3.2.3.1.2.2.3 0 .3.2.3-.2.3 0 .2-.2.3-.1.3-.2.3-.2.2-.3.3-.5.3-.8.3-.9.3-1.2.2-1.1.3-.7.3.3.3.8.3 1.1.2 1.1.3.7.3.5.3.5.3.4.2.2.3.2.3.3.3-.1.2.2.3 0 .3-.1.3.2.3.1.2 0 .3.1.3 0 .3-.1.3-.2.2-.2.3-.1.3 0 .3 0 .3.2.2.2.3-.1.3 0 .3 0 .2 0 .3-.3.3-.1.3-.1.3-.2.2-.1.3 0 .3-.1.3-.3.3-.1.2-.4.3-.3.3-.5.3-.6.2-.9.3-1 .3-1.6.3-1.6.3-1.7.2-1.1.3.3.3 1.3.3 1.4.3 1.4.2 1.2.3.7.3.4.3.3.3.1.2-.1.3-.2.3-.3.3-.5.2-.9.3-1 .3-1.6.3-2.2.3-2.7.2-3.2.3-2.8.3-1.2.3 1.2.3 2.6.2 3.1.3 2.9.3 2.1.3 1.6.2 1.2.3 1 .3.7.3.6.3.4.2.4.3.2.3.2.3.3.3.1.2.2.3.1.3 0 .3-.1.3.2.2.1.3.1.3-.1.3 0 .2 0 .3-.1.3.1.3.1.3 0 .2.1.3 0 .3-.1.3 0 .3-.1.2 0 .3.1.3-.1.3-.1.3.1.2-.3.3-.2.3 0 .3-.1.2 0 .3 0 .3 0 .3-.4.3-.3.2-.6.3-.5.3-.8.3-.8.3-1.1.2-1.4.3-2 .3-2.1.3-1.5.2-.4.3.9.3 1.9.3 1.9.3 1.5.2 1.3.3 1.2.3.7.3.6.3.3.2.2.3.2.3.1.3.2.3 0 .2.2.3-.1.3 0 .3-.4.2-.1.3-.3.3-.3.3-.6.3-.5.2-.9.3-.9.3-.5.3.3.3.6.2.8.3.9.3.6.3.3.3.4.2.4.3.1.3.2.3.3.2 0 .3.1.3 0 .3 0 .3 0 .2-.1.3-.1.3-.2.3-.2.3-.4.2-.3.3-.6.3-.7.3-.9.2-1.2.3-1.8.3-1.9.3-2 .3-1 .2.3.3 1.7.3 2 .3 1.8.3 1.5.2 1.1.3.7.3.7.3.5.3.3.2.4.3.4.3.2.3.1.2.1.3.1.3 0 .3 0 .3 0 .2.2.3-.1.3.1.3.3.3.1.2.1.3.1.3 0 .3-.1.2-.1.3 0 .3.2.3 0 .3.1.2 0 .3.1.3 0 .3.1.3 0 .2 0 .3.1.3-.1.3-.1.3.1.2.1.3 0 .3.1.3-.1.2-.1.3-.1.3 0 .3 0 .3.1.2 0 .3.1.3.1.3 0 .3.1.2 0 .3-.1.3-.2.3 0 .3 0 .2 0 .3.1.3.2.3.1.2 0 .3.1.3 0 .3 0 .3 0 .2 0 .3 0 .3.2.3 0 .3 0 .2 0 .3 0 .3 0 .3 0 .2 0 .3.1.3.1.3 0 .3 0 .2.1.3-.2.3.2.3-.1.3 0 .2 0 .3.1.3-.2.3.2.3-.1.2 0 .3.1.3 0 .3 0 .2.2.3-.1.3-.1.3.2.3.1.2-.2.3 0 .3 0 .3 0 .3 0 .2 0 .3.1.3.1.3-.1.3 0 .2.1.3 0 .3 0 .3-.2.2.1.3 0 .3.1.3 0 .3.1.2 0 .3.2.3-.1.3.1.3-.1.2 0 .3-.2.3 0 .3-.1.2.2.3.1.3.2.3.1.3.1.2-.1.3 0 .3 0" stroke="#ff0000"/><path d="M56.7 93.5l.2.1.3 0 .3-.1.3 0 .2.1.3-.1.3 0 .3 0 .3 0 .2-.1.3.1.3 0 .3.1.3-.2.2 0 .3-.1.3-.1.3-.1.2-.1.3 0 .3 0 .3-.1.3-.2.2.1.3-.1.3-.1.3.1.3-.1.2-.1.3-.5.3-.3.3-.6.3-.6.2-1 .3-1.4.3-2.6.3-4.5.2-8 .3-10.3.3-1.5.3 9.7.3 8.7.2 5.2.3 2.7.3 1.6.3 1 .3.6.2.5.3.5.3.2.3.2.3.1.2-.1.3 0 .3.2.3 0 .2.1.3.1.3 0 .3 0 .3 0 .2 0 .3 0 .3.2.3.1.3.1.2 0 .3 0 .3-.2.3 0 .2.1.3-.1.3 0 .3.1.3 0 .2-.3.3-.1.3 0 .3-.2.3-.1.2.2.3 0 .3 0 .3.1.3 0 .2-.1.3 0 .3 0 .3-.3.2 0 .3 0 .3-.1.3-.1.3.1.2-.2.3 0 .3-.2.3-.3.3-.5.2-.9.3-1.5.3-2.1.3-3.2.2-2.8.3.4.3 2.9.3 3 .3 2 .2 1.1.3.6.3.6.3.3.3.1.2.2.3.1.3.1.3.1.3.2.2.1.3.1.3-.1.3-.1.2 0 .3-.1.3 0 .3 0 .3.1.2-.1.3 0 .3 0 .3 0 .3.1.2 0 .3.1.3.1.3-.1.3-.1.2 0 .3-.1.3-.2.3.2.2 0 .3 0 .3.1.3.3.3-.1.2-.1.3 0 .3-.1.3-.2.3 0 .2 0 .3.1.3 0 .3-.1.2.1.3-.1.3-.1.3 0 .3.2.2-.1.3.1.3.1.3 0 .3-.1.2 0 .3-.1.3 0 .3-.1.3-.1.2 0 .3.1.3 0 .3 0 .2-.1.3.1.3-.2.3 0 .3 0 .2.1.3 0 .3.1.3.2.3 0 .2 0 .3-.1.3.1.3-.1.3.1.2 0 .3 0 .3-.1.3-.1.2 0 .3 0 .3-.1.3.1.3.1.2-.1.3 0 .3.1.3-.1.3 0 .2 0 .3.1.3-.1.3 0 .2-.1.3.1.3-.2.3-.1.3.1.2.1.3 0 .3.1.3 0 .3-.1.2-.2.3 0 .3-.1.3.1.3 0 .2 0 .3 0 .3.1.3 0 .2-.1.3 0 .3 0 .3.1.3-.1.2 0 .3.1.3-.1.3-.2.3.2.2-.3.3-.2.3-.2.3-.3.2-.4.3-.1.3-.4.3-.3.3-.2.2-.2.3 0 .3.4.3.4.3.3.2.2.3.2.3 0 .3.2.3.1.2 0 .3-.1.3-.1.3-.3.2-.3.3-.4.3-.4.3-.6.3-.8.2-1.1.3-1.4.3-1.2.3-.9.3.2.2 1 .3 1.4.3 1.2.3 1 .3.8.2.5.3.6.3.3.3.4.2.1.3.2.3 0 .3.1.3 0 .2.1.3.1.3.2.3.1.3 0 .2.2.3-.1.3-.1.3 0 .2.1.3-.2.3 0 .3-.1.3-.2.2-.2.3.1.3 0 .3 0 .3.1.2.2.3-.3.3 0 .3-.1.3-.4.2-.2.3-.1.3-.4.3-.4.2-.3.3-.5.3-.8.3-.9.3-1.3.2-1.7.3-1.5.3-.8.3.2.3 1.3.2 1.5.3 1.4.3.9.3.7.3.4.2.3.3-.1.3.1.3-.2.2-.3.3-.7.3-.6.3-1.2.3-1.5.2-2 .3-2.4.3-3.1.3-2.4.3-1 .2 1.2.3 2.7.3 3.1.3 2.5.2 2.1.3 1.5.3 1.1.3.8.3.7.2.4.3.4.3.5.3.2.3.2.2.1.3 0 .3.1.3.2.3.1.2.4.3.1.3 0 .3.1.2 0 .3-.3.3.1.3 0 .3-.1.2.1.3.2.3.1.3.1.3 0 .2-.1.3-.2.3-.1.3-.1.2 0 .3.1.3-.1.3-.1.3 0 .2-.1.3-.1.3-.1.3.1.3-.1.2-.2.3-.4.3-.4.3-.7.3-.5.2-1 .3-1.1.3-1.5.3-1.9.2-2.3.3-1.6.3-.6.3 1.2.3 1.9.2 2 .3 1.8.3 1.3.3 1 .3.7.2.6.3.4.3.4.3.4.3.3.2.2.3-.1.3 0 .3-.1.2-.1.3-.1.3-.1.3 0 .3-.4.2-.5.3-1 .3-.9.3-1 .3-.5.2.3.3 1 .3.8.3 1 .2.8.3.4.3.5.3.3.3.1.2-.1.3.2.3-.2.3 0 .3-.1.2 0 .3 0 .3.2.3-.1.3 0 .2-.2.3-.5.3-.5.3-.6.2-.6.3-.9.3-1.1.3-1.7.3-1.9.2-1.8.3-1 .3.5.3 1.6.3 2.1.2 1.6.3 1.4.3 1.1.3.9.3.4.2.5.3.4.3.2.3.1.2.2.3.3.3.2.3.2.3.1.2.1.3-.2.3.1.3 0 .3 0 .2 0 .3.1.3 0 .3.2.2 0 .3.1.3.1.3.1.3-.1.2.1.3 0 .3-.1.3.1.3 0 .2-.1.3 0 .3.1.3-.1.3 0 .2.4.3 0 .3 0 .3.1.2-.1.3-.3.3-.1.3-.1.3-.2.2.2.3.1.3 0 .3-.1.3.1.2 0 .3 0 .3-.1.3-.1.3.1.2-.1.3.1.3 0 .3.2.2-.1.3-.1.3 0 .3 0 .3-.1.2 0 .3.1.3 0 .3.2.3-.1.2.1.3-.1.3 0 .3-.4.2 0 .3-.1.3.1.3.1.3.2.2.1.3 0 .3.2.3 0 .3 0 .2 0 .3 0 .3-.1.3-.1.3 0 .2 0 .3 0 .3-.1.3 0 .2.1.3.1.3 0 .3.1.3 0 .2-.1.3-.2.3 0 .3-.2.3 0 .2 0 .3-.1.3.1.3.1.2 0 .3-.1.3.1.3-.1.3 0 .2-.2.3.1.3.1.3 0 .3 0 .2 0 .3 0 .3 0 .3 0 .3.1.2.2.3-.1.3-.1.3 0 .2.1.3-.2.3.1.3 0 .3 0 .2-.1.3.1.3 0 .3.1.3-.1" stroke="#ff1500"/><path d="M53.3 96.6l.3-.1.3-.2.2-.1.3 0 .3-.2.3.2.3.2.2.1.3 0 .3-.1.3-.1.3-.2.2 0 .3.1.3 0 .3 0 .2.1.3-.1.3-.1.3 0 .3 0 .2-.1.3-.1.3-.1.3-.2.3-.1.2-.2.3 0 .3-.2.3-.4.3-.4.2-.5.3-.8.3-1.1.3-1.5.2-2.6.3-4.9.3-8.3.3-10.7.3-1.7.2 10.3.3 9.2.3 5.3.3 3 .3 1.6.2 1 .3.9.3.6.3.4.2.5.3.3.3.1.3-.1.3-.1.2.1.3 0 .3.1.3.3.3 0 .2 0 .3.1.3 0 .3-.1.3 0 .2-.1.3-.1.3.2.3 0 .2.1.3 0 .3.1.3-.1.3-.1.2 0 .3 0 .3-.1.3-.2.3.2.2.2.3.1.3-.1.3.1.3-.1.2 0 .3-.1.3 0 .3.1.2.1.3-.2.3 0 .3 0 .3-.1.2 0 .3-.1.3-.1.3-.2.3-.3.2-.4.3-.5.3-.9.3-1.4.2-2.1.3-3.1.3-3 .3.5.3 3.4.2 3 .3 1.7.3 1.3.3.7.3.3.2.3.3.4.3.1.3.2.3.2.2.1.3 0 .3.1.3 0 .2 0 .3.1.3 0 .3 0 .3.1.2.1.3.1.3 0 .3-.1.3 0 .2.1.3-.1.3 0 .3.1.2 0 .3 0 .3 0 .3.1.3-.1.2.2.3 0 .3.1.3 0 .3 0 .2-.1.3 0 .3-.1.3 0 .3.1.2.1.3-.1.3-.1.3.1.2-.1.3 0 .3 0 .3.1.3.1.2.1.3 0 .3.2.3 0 .3-.1.2 0 .3 0 .3-.1.3 0 .3.1.2.1.3 0 .3-.1.3 0 .2 0 .3-.2.3 0 .3.2.3-.1.2 0 .3.1.3.1.3-.1.3 0 .2-.1.3 0 .3-.1.3 0 .2 0 .3.2.3 0 .3-.1.3 0 .2 0 .3.1.3 0 .3.2.3-.1.2.1.3-.1.3-.1.3 0 .3 0 .2 0 .3-.1.3.1.3 0 .2 0 .3 0 .3.1.3 0 .3-.1.2.1.3.1.3 0 .3-.1.3.1.2 0 .3 0 .3-.1.3-.1.3 0 .2 0 .3 0 .3 0 .3.2.2.1.3-.1.3-.1.3-.1.3-.2.2 0 .3 0 .3-.1.3 0 .3.1.2.1.3-.1.3.1.3 0 .2-.3.3-.1.3-.3.3-.4.3-.5.2-.4.3-.6.3 0 .3.1.3.4.2.4.3.4.3.1.3.2.3.1.2.1.3.1.3 0 .3 0 .2 0 .3-.2.3-.2.3-.3.3-.5.2-.5.3-.5.3-1 .3-.9.3-1 .2-.9.3-.1.3.8.3 1.1.2 1 .3.9.3.6.3.3.3.3.2.4.3 0 .3.4.3.2.3 0 .2.1.3.2.3-.1.3.1.3 0 .2 0 .3-.1.3-.1.3 0 .2.1.3 0 .3.1.3 0 .3 0 .2 0 .3-.1.3 0 .3.1.3-.3.2-.1.3 0 .3-.1.3-.1.3 0 .2 0 .3-.2.3-.1.3-.3.2-.3.3-.6.3-.5.3-.8.3-1 .2-1 .3-1.5.3-1.7.3-1.6.3-.8.2.2.3 1.5.3 1.7.3 1.4.2 1.1.3.8.3.6.3.3.3.2.2 0 .3-.1.3-.4.3-.5.3-.6.2-.9.3-1.4.3-1.8.3-2.2.3-2.6.2-2.4.3-.9.3 1 .3 2.2.2 2.7.3 2.4.3 1.8.3 1.2.3 1.1.2.6.3.6.3.4.3.4.3.3.2.2.3.2.3.1.3.2.3 0 .2.1.3.1.3.1.3 0 .2.2.3.1.3 0 .3-.1.3 0 .2 0 .3-.1.3.2.3-.1.3.1.2-.1.3-.1.3-.3.3.2.2-.3.3-.1.3.2.3 0 .3-.2.2 0 .3.1.3-.3.3 0 .3-.1.2-.2.3-.4.3-.1.3-.4.3-.5.2-.6.3-.7.3-1 .3-1.3.2-1.7.3-2 .3-2.5.3-2 .3-.6.2 1.1.3 2.1.3 2.3.3 2.1.3 1.5.2 1.3.3.8.3.7.3.5.2.4.3.3.3.3.3.1.3 0 .2 0 .3-.1.3-.2.3-.2.3-.1.2-.2.3-.4.3-.7.3-.5.3-.9.2-.7.3-.2.3.3.3.7.2.8.3.6.3.6.3.5.3.4.2.2.3.1.3.2.3 0 .3 0 .2 0 .3-.1.3-.1.3.1.3-.1.2-.1.3 0 .3-.2.3-.3.2-.4.3-.5.3-.8.3-.9.3-1.4.2-1.6.3-1.9.3-1.8.3-.9.3.6.2 1.5.3 1.9.3 1.8.3 1.5.2 1 .3.7.3.6.3.5.3.3.2.3.3.4.3.3.3.2.3.1.2.2.3.1.3-.1.3 0 .3 0 .2-.1.3.1.3 0 .3 0 .2.1.3 0 .3 0 .3.1.3 0 .2 0 .3-.1.3.1.3.1.3.1.2 0 .3.1.3 0 .3-.1.3-.1.2.1.3 0 .3-.1.3.2.2-.1.3 0 .3.1.3.1.3 0 .2 0 .3 0 .3 0 .3-.2.3 0 .2.2.3 0 .3.1.3.1.2 0 .3 0 .3 0 .3-.1.3 0 .2.1.3 0 .3-.1.3.1.3-.1.2.1.3.1.3.1.3 0 .3 0 .2.1.3-.2.3 0 .3-.1.2.1.3-.1.3.1.3 0 .3 0 .2.1.3.1.3 0 .3.1.3 0 .2-.1.3-.1.3 0 .3-.1.3.1.2-.1.3-.1.3 0 .3.1.2.1.3 0 .3.1.3-.1.3 0 .2-.1.3.1.3 0 .3.1.3.1.2 0 .3 0 .3 0 .3 0 .2.1.3-.1.3 0 .3 0 .3 0 .2 0 .3.2.3 0 .3 0 .3-.1.2.1.3-.1.3 0 .3.1.3.1.2.1.3 0 .3-.1.3.1.2-.1.3 0 .3 0 .3.1.3 0 .2-.1.3.1.3.1.3 0 .3 0 .2 0 .3 0" stroke="#ff7700"/><path d="M50 101l.2.1.3 0 .3-.2.3 0 .3 0 .2-.1.3 0 .3-.1.3 0 .3-.1.2 0 .3 0 .3-.1.3 0 .2.1.3 0 .3-.1.3 0 .3-.2.2-.2.3-.2.3.1.3-.1.3.1.2-.1.3-.1.3-.2.3-.1.2-.2.3-.1.3-.4.3-.5.3-.7.2-1.1.3-1.6.3-2.8.3-5.1.3-8.9.2-11.5.3-1.7.3 10.7.3 9.6.3 5.7.2 3.1.3 1.9.3 1.2.3.7.2.5.3.4.3.1.3.3.3.2.2.2.3.1.3.1.3 0 .3.2.2.1.3.1.3-.1.3.1.3 0 .2-.1.3-.1.3 0 .3 0 .2 0 .3.1.3.2.3 0 .3.1.2 0 .3-.1.3-.1.3 0 .3-.1.2-.1.3.2.3 0 .3 0 .2 0 .3 0 .3-.1.3-.1.3 0 .2-.1.3.1.3-.1.3 0 .3 0 .2.1.3-.3.3 0 .3-.1.3-.1.2-.4.3 0 .3-.3.3-.4.2-1 .3-1.2.3-2.4.3-3.4.3-3.1.2.3.3 3.3.3 3.2.3 2.1.3 1.4.2.8.3.6.3.2.3.3.3.1.2.2.3.1.3.1.3.1.2.1.3.1.3 0 .3-.1.3-.1.2 0 .3.1.3-.1.3.1.3 0 .2-.1.3 0 .3 0 .3 0 .2 0 .3 0 .3 0 .3.2.3 0 .2 0 .3 0 .3 0 .3 0 .3.1.2.1.3-.1.3 0 .3 0 .3 0 .2 0 .3.2.3-.1.3.2.2 0 .3 0 .3-.1.3-.1.3 0 .2 0 .3.1.3 0 .3.1.3 0 .2-.1.3-.1.3 0 .3-.1.2 0 .3.1.3.1.3.2.3 0 .2 0 .3 0 .3-.1.3-.1.3-.1.2 0 .3 0 .3.1.3.1.3.1.2 0 .3.1.3-.2.3-.1.2 0 .3.1.3-.1.3.1.3.1.2.1.3.1.3-.2.3.1.3 0 .2 0 .3-.1.3.3.3-.2.3.1.2-.2.3.1.3-.1.3 0 .2 0 .3.1.3 0 .3.1.3.1.2 0 .3.1.3 0 .3-.1.3-.1.2-.2.3 0 .3-.1.3 0 .2 0 .3 0 .3.1.3 0 .3 0 .2 0 .3.1.3-.2.3-.1.3 0 .2.1.3 0 .3 0 .3.1.3.1.2-.1.3 0 .3 0 .3 0 .2-.2.3 0 .3-.4.3-.2.3-.1.2-.4.3-.4.3-.4.3-.4.3-.3.2.1.3.4.3.4.3.4.3.4.2.2.3 0 .3 0 .3-.1.2-.2.3-.1.3-.1.3-.2.3-.2.2-.3.3-.5.3-.5.3-.9.3-1.2.2-1.4.3-1.4.3-1 .3.1.2 1 .3 1.4.3 1.4.3 1 .3.9.2.9.3.5.3.4.3.3.3.2.2.1.3.1.3 0 .3.1.3-.1.2.1.3.1.3 0 .3.1.2.1.3-.1.3-.1.3-.1.3-.1.2-.2.3 0 .3.1.3.1.3-.1.2.1.3 0 .3-.2.3-.1.2.1.3-.1.3 0 .3-.1.3-.2.2-.2.3-.2.3-.4.3-.2.3-.6.2-.5.3-.9.3-.9.3-1.3.3-1.5.2-1.6.3-.8.3.3.3 1.1.2 1.5.3 1.3.3 1 .3.5.3.5.2.2.3-.1.3-.1.3-.3.3-.4.2-.7.3-.9.3-1.4.3-1.5.3-2.4.2-2.9.3-3.3.3-3 .3-1.3.2 1.5.3 3 .3 3.5.3 3.1.3 2.3.2 1.7.3 1.3.3.9.3.7.3.5.2.5.3.2.3.2.3.2.2.1.3.2.3.1.3.2.3.1.2.3.3-.1.3.2.3 0 .3 0 .2 0 .3 0 .3 0 .3 0 .3.1.2-.1.3.1.3 0 .3-.1.2 0 .3.1.3-.1.3.1.3-.1.2 0 .3-.2.3-.2.3-.2.3-.1.2-.1.3-.1.3-.1.3-.2.3-.3.2-.3.3-.5.3-.7.3-.8.2-.9.3-1.4.3-1.8.3-2.3.3-2.5.2-2.4.3-.6.3 1.4.3 2.4.3 2.3.2 2.2.3 1.7.3 1 .3.8.2.9.3.5.3.3.3.3.3.4.2.2.3.1.3-.1.3 0 .3-.1.2-.2.3-.2.3-.2.3-.3.3-.7.2-.8.3-.9.3-.8.3-.5.2.4.3.9.3.9.3 1 .3.5.2.4.3.4.3.3.3 0 .3.3.2.1.3 0 .3.1.3 0 .3-.1.2 0 .3-.2.3.1.3-.3.2-.2.3-.4.3-.3.3-.8.3-.7.2-.9.3-1.3.3-1.7.3-1.9.3-1.9.2-1 .3.5.3 1.5.3 2 .2 1.8.3 1.5.3 1 .3 1 .3.7.2.5.3.5.3.3.3.5.3-.1.2.2.3 0 .3.1.3-.2.3.3.2 0 .3.1.3 0 .3.2.2-.1.3.2.3 0 .3 0 .3 0 .2 0 .3-.1.3.1.3 0 .3.2.2 0 .3 0 .3 0 .3 0 .2-.1.3.1.3 0 .3.1.3 0 .2 0 .3.1.3.1.3-.2.3-.1.2 0 .3-.2.3 0 .3 0 .3.2.2 0 .3 0 .3 0 .3.2.2 0 .3.1.3 0 .3.2.3 0 .2 0 .3-.2.3 0 .3-.1.3-.1.2.1.3.1.3 0 .3 0 .3 0 .2 0 .3-.2.3.1.3 0 .2 0 .3 0 .3.1.3.1.3.1.2 0 .3.1.3-.2.3-.3.3-.1.2 0 .3-.1.3.1.3.2.2.2.3-.1.3-.1.3 0 .3-.1.2-.1.3 0 .3 0 .3.2.3.1.2.1.3 0 .3.1.3-.1.3.1.2-.1.3.1.3-.1.3 0 .2.1.3.1.3-.1.3.1.3 0 .2 0 .3 0 .3 0 .3 0 .3.1.2.1.3.1.3-.1.3 0 .3-.1.2-.1.3 0 .3.2.3-.1.2.2.3-.1.3 0 .3-.3.3 0 .2-.1.3 0 .3-.1.3.2.3.2.2 0 .3 0 .3.1.3 0" stroke="#ff9400"/><path d="M46.6 105l.3-.1.3 0 .3-.1.2-.1.3.1.3.1.3.1.3 0 .2.1.3-.2.3.1.3.1.2 0 .3-.1.3 0 .3 0 .3-.1.2 0 .3 0 .3-.1.3-.2.3-.2.2 0 .3-.1.3 0 .3 0 .2 0 .3-.2.3 0 .3-.3.3-.3.2-.5.3-.7.3-1.2.3-1.6.3-2.9.2-5.1.3-8.9.3-11.5.3-1.8.3 10.9.2 9.8.3 5.9.3 3.2.3 2 .2 1.2.3 1 .3.5.3.4.3.3.2.4.3 0 .3.1.3-.1.3.2.2-.1.3 0 .3.2.3.1.2 0 .3.1.3 0 .3 0 .3 0 .2.1.3.1.3.1.3.1.3 0 .2 0 .3 0 .3-.1.3 0 .3.1.2 0 .3 0 .3-.1.3-.1.2.1.3 0 .3-.1.3.1.3.1.2-.2.3.1.3-.1.3 0 .3-.1.2 0 .3 0 .3-.1.3.2.3-.1.2.1.3-.1.3-.1.3-.3.2-.3.3-.5.3-1 .3-1.2.3-2.2.2-3.4.3-3.1.3.4.3 3 .3 3.1.2 2.2.3 1.1.3.9.3.5.2.3.3.4.3.1.3.1.3.2.2.2.3-.2.3.1.3.1.3-.1.2 0 .3.1.3.1.3.1.3 0 .2.1.3 0 .3 0 .3.1.2.1.3-.1.3-.1.3 0 .3 0 .2.1.3.1.3.2.3-.2.3-.1.2 0 .3.1.3-.2.3.1.3 0 .2-.1.3-.1.3.1.3 0 .2 0 .3.1.3 0 .3.1.3-.1.2 0 .3 0 .3-.1.3 0 .3 0 .2.2.3-.1.3 0 .3 0 .2 0 .3-.2.3.1.3 0 .3 0 .2 0 .3.1.3-.1.3 0 .3-.1.2-.1.3.1.3 0 .3 0 .3 0 .2 0 .3 0 .3 0 .3-.1.2-.1.3.1.3-.1.3 0 .3 0 .2.1.3 0 .3.1.3 0 .3.1.2-.2.3-.2.3-.3.3-.2.2-.1.3 0 .3.1.3.2.3.1.2 0 .3 0 .3.1.3 0 .3 0 .2-.2.3.1.3-.2.3-.2.3-.1.2.2.3-.2.3.1.3.1.2.1.3-.1.3 0 .3.1.3-.1.2 0 .3-.1.3.2.3-.1.3 0 .2-.1.3 0 .3-.1.3-.1.3-.1.2-.1.3 0 .3-.1.3 0 .2-.1.3-.1.3-.1.3-.2.3-.2.2-.2.3-.2.3-.3.3-.3.3-.4.2-.3.3-.1.3.1.3.2.2.2.3.3.3.1.3.1.3.2.2 0 .3.1.3-.1.3-.1.3-.2.2-.2.3-.2.3-.4.3-.5.3-.4.2-.8.3-.9.3-1.2.3-.9.2-.8.3.3.3.7.3 1.4.3 1 .2.7.3.6.3.5.3.1.3.4.2.3.3.1.3.1.3.2.3 0 .2 0 .3 0 .3 0 .3 0 .2-.2.3 0 .3.1.3.1.3.2.2-.2.3 0 .3-.1.3-.1.3-.2.2.1.3-.1.3-.1.3-.2.2 0 .3-.1.3-.2.3-.1.3-.1.2-.2.3-.1.3-.1.3-.2.3-.3.2-.3.3-.8.3-.6.3-1 .3-1.2.2-1.4.3-1.7.3-1.7.3-.9.2.3.3 1.2.3 1.7.3 1.4.3 1 .2.8.3.4.3.3.3.1.3-.1.2-.2.3-.4.3-.6.3-.9.2-1.3.3-1.7.3-2.3.3-3.1.3-3.2.2-2.9.3-1.4.3 1.2.3 3.1.3 3.3.2 2.8.3 2.5.3 1.8.3 1.4.3 1 .2 1 .3.7.3.4.3.3.2.2.3.2.3.2.3.1.3.3.2.1.3-.1.3.1.3.1.3-.1.2.2.3.1.3 0 .3 0 .3 0 .2 0 .3 0 .3 0 .3.1.2 0 .3-.1.3 0 .3 0 .3 0 .2 0 .3.1.3.1.3-.2.3-.1.2-.1.3-.2.3-.1.3 0 .2-.2.3-.1.3-.3.3-.3.3-.5.2-.5.3-.8.3-.9.3-1 .3-1.7.2-2 .3-2.2.3-1.9.3-.6.3 1.3.2 2.2.3 2.3.3 1.9.3 1.4.2 1.1.3.7.3.6.3.5.3.4.2.1.3.2.3.3.3.2.3 0 .2 0 .3-.1.3-.1.3-.2.3-.2.2-.1.3-.5.3-.7.3-.9.2-.7.3-.4.3.3.3.7.3.8.2.8.3.6.3.4.3.3.3.2.2 0 .3.2.3 0 .3-.1.2.1.3.2.3.1.3-.1.3 0 .2 0 .3-.1.3-.3.3-.4.3-.2.2-.7.3-.7.3-1.1.3-1 .3-1.8.2-1.9.3-2 .3-.9.3.4.2 1.7.3 1.9.3 2 .3 1.4.3 1.2.2.9.3.8.3.4.3.5.3.2.2.2.3.3.3.3.3.1.3.1.2.2.3.1.3 0 .3.1.2.1.3.2.3.1.3.1.3-.1.2.2.3.1.3 0 .3-.1.3.1.2.1.3-.1.3-.1.3.2.2 0 .3 0 .3.1.3.3.3 0 .2 0 .3.1.3-.1.3-.1.3.1.2 0 .3.1.3 0 .3.1.3-.1.2.1.3.1.3.1.3 0 .2.2.3-.1.3-.2.3.1.3 0 .2-.1.3-.1.3.2.3 0 .3 0 .2.1.3.2.3 0 .3 0 .2 0 .3-.1.3-.1.3.1.3.1.2.2.3 0 .3 0 .3 0 .3.1.2-.1.3.2.3.1.3 0 .3 0 .2.1.3 0 .3 0 .3-.1.2.1.3-.1.3-.1.3 0 .3 0 .2 0 .3 0 .3 0 .3 0 .3-.1.2.1.3 0 .3.1.3 0 .3.1.2 0 .3.1.3.1.3 0 .2 0 .3-.1.3-.1.3-.1.3.1.2.1.3 0 .3.1.3-.1.3 0 .2 0 .3 0 .3 0 .3 0 .2.1.3-.1.3-.1.3 0 .3 0 .2 0 .3 0 .3.1.3.1.3 0 .2 0 .3.1.3 0 .3.1.3-.1.2.1.3 0 .3-.1.3-.1.2.1.3-.1" stroke="#ffdc00"/><path d="M43.3 108.9l.3 0 .2-.1.3.1.3-.1.3 0 .2.1.3 0 .3 0 .3 0 .3 0 .2 0 .3-.1.3.1.3.2.3 0 .2 0 .3.1.3.1.3-.1.3-.1.2 0 .3-.2.3-.1.3-.1.2-.1.3 0 .3 0 .3-.3.3-.2.2-.1.3-.3.3-.6.3-.6.3-.9.2-1.6.3-2.7.3-4.5.3-8.1.3-10.4.2-1.4.3 9.9.3 8.8.3 5.1.2 2.8.3 1.6.3 1.1.3.7.3.5.2.6.3.4.3.1.3.3.3.2.2 0 .3-.1.3.1.3 0 .2-.1.3.3.3.1.3.2.3 0 .2.1.3 0 .3 0 .3 0 .3-.1.2 0 .3.1.3 0 .3.2.3.1.2.1.3 0 .3-.2.3-.1.2.1.3.1.3 0 .3.1.3 0 .2 0 .3 0 .3 0 .3.1.3-.1.2.1.3-.1.3-.1.3 0 .2.1.3-.1.3-.2.3-.1.3-.2.2-.2.3-.2.3-.3.3-.4.3-.9.2-1.2.3-2.1.3-2.8.3-2.8.3.4.2 3 .3 2.7.3 1.8.3 1.3.2.7.3.4.3.4.3.2.3 0 .2.2.3.2.3.1.3.1.3.2.2 0 .3 0 .3-.1.3.1.3-.1.2 0 .3.1.3 0 .3-.1.2.1.3 0 .3 0 .3.1.3-.1.2 0 .3 0 .3.1.3 0 .3.3.2 0 .3.1.3-.1.3-.1.2-.1.3 0 .3-.1.3.1.3.2.2.1.3-.1.3 0 .3-.1.3-.1.2-.1.3.2.3.1.3 0 .3 0 .2.2.3 0 .3.1.3-.1.2 0 .3-.2.3-.2.3-.2.3.1.2.1.3-.1.3.1.3-.1.3-.1.2 0 .3.1.3 0 .3.3.3 0 .2-.1.3-.1.3 0 .3-.2.2-.1.3-.1.3-.1.3 0 .3.2.2.2.3 0 .3 0 .3 0 .3-.1.2-.2.3.2.3.1.3-.2.2.1.3.1.3-.1.3-.2.3.1.2 0 .3-.1.3.1.3 0 .3-.1.2-.1.3-.1.3 0 .3 0 .3.1.2-.1.3 0 .3-.1.3-.3.2.2.3 0 .3 0 .3 0 .3.1.2-.2.3 0 .3.1.3-.1.3.1.2-.1.3 0 .3-.1.3.1.2 0 .3 0 .3-.1.3-.2.3 0 .2-.2.3 0 .3 0 .3-.1.3-.2.2 0 .3-.3.3-.2.3-.4.3-.2.2-.5.3-.4.3-.4.3 0 .2-.1.3.4.3.4.3.3.3.2.2.2.3.2.3-.2.3 0 .3-.2.2-.1.3-.3.3-.1.3-.3.3-.3.2-.5.3-.7.3-1 .3-1.2.2-1.3.3-1.4.3-.9.3.2.3 1 .2 1.3.3 1.2.3 1.3.3.9.3.5.2.5.3.4.3.1.3 0 .2.1.3.1.3.1.3.1.3.2.2 0 .3.2.3-.2.3.1.3 0 .2-.1.3-.1.3 0 .3 0 .3-.1.2.1.3 0 .3-.1.3 0 .2 0 .3-.2.3-.1.3-.1.3-.2.2-.2.3.1.3-.3.3-.2.3-.3.2-.2.3-.5.3-.3.3-.4.3-.7.2-.8.3-1.2.3-1.7.3-1.7.2-1.7.3-.9.3.4.3 1.3.3 1.6.2 1.3.3 1.1.3.7.3.6.3.2.2.3.3-.1.3-.3.3-.5.2-.7.3-.8.3-1.2.3-1.6.3-2.1.2-2.8.3-3.4.3-2.9.3-1.3.3 1.2.2 2.9.3 3.5.3 2.9.3 2.3.3 1.7.2 1.4.3.8.3.7.3.7.2.4.3.2.3.4.3.3.3.3.2 0 .3.3.3.1.3.1.3-.1.2.3.3-.1.3 0 .3 0 .3.1.2-.1.3.2.3-.1.3 0 .2-.1.3.1.3 0 .3.1.3-.1.2.2.3-.1.3-.2.3-.1.3 0 .2-.2.3-.2.3.1.3-.1.2-.2.3 0 .3-.2.3-.3.3-.2.2-.2.3-.5.3-.5.3-.5.3-1 .2-1.2.3-1.6.3-2 .3-2.3.3-1.9.2-.5.3 1.2.3 2.1.3 2.1.2 1.8.3 1.5.3.9.3.8.3.8.2.5.3.5.3.3.3.4.3 0 .2.1.3-.1.3.1.3-.2.2.1.3-.2.3-.3.3-.4.3-.6.2-.8.3-1 .3-.9.3-.5.3.2.2.7.3.9.3.8.3.7.3.6.2.4.3.4.3.4.3.2.2.2.3.1.3 0 .3 0 .3-.1.2.1.3-.1.3-.2.3-.2.3-.1.2-.3.3-.4.3-.5.3-.5.3-1 .2-1.3.3-1.4.3-1.8.3-1.7.2-.8.3.5.3 1.6.3 1.9.3 1.7.2 1.6.3 1 .3.9.3.6.3.3.2.1.3.4.3.1.3.3.2.3.3.1.3-.1.3.3.3.2.2-.1.3.3.3.1.3 0 .3 0 .2.2.3-.1.3.1.3.1.3 0 .2.1.3.2.3 0 .3 0 .2 0 .3-.1.3 0 .3.2.3-.1.2.2.3 0 .3.1.3-.1.3.2.2.1.3.1.3.1.3.1.3-.1.2.1.3 0 .3-.1.3.1.2-.1.3 0 .3 0 .3 0 .3 0 .2.2.3 0 .3 0 .3-.1.3 0 .2 0 .3 0 .3-.1.3.1.2-.1.3.1.3 0 .3.1.3 0 .2.1.3 0 .3 0 .3.2.3-.1.2.2.3.1.3.1.3-.1.3 0 .2 0 .3-.1.3.1.3 0 .2.1.3 0 .3 0 .3.2.3 0 .2-.1.3-.1.3.2.3-.2.3.1.2.1.3.1.3-.1.3 0 .2-.2.3 0 .3-.1.3.1.3 0 .2.2.3.1.3 0 .3-.1.3-.1.2 0 .3 0 .3 0 .3 0 .3.2.2-.1.3 0 .3-.1.3.3.2-.2.3.2.3.1.3 0 .3.1.2.1.3-.1.3.1.3.1.3-.1.2 0 .3.1.3 0 .3-.1.3 0 .2-.1.3 0 .3 0 .3 0 .2 0 .3 0 .3-.1.3-.1" stroke="#ffff00"/><path d="M39.9 112.7l.3 0 .3 0 .3 0 .2.2.3.1.3-.1.3 0 .3-.2.2-.3.3-.2.3.1.3 0 .3 0 .2 0 .3.1.3-.1.3 0 .3.2.2-.1.3-.1.3.1.3 0 .2-.2.3 0 .3-.2.3-.2.3.1.2-.1.3-.2.3-.2.3-.2.3-.7.2-.7.3-.9.3-1.6.3-2.6.2-4.8.3-8.2.3-10.9.3-1.5.3 10.2.2 9.2.3 5.3.3 3.1.3 1.8.3 1 .2.7.3.5.3.3.3.2.3.4.2.1.3.1.3.2.3.3.2.2.3.3.3 0 .3 0 .3-.2.2-.2.3.1.3.1.3.1.3.1.2.1.3-.2.3 0 .3 0 .3 0 .2 0 .3.1.3.1.3.1.2 0 .3-.2.3-.1.3 0 .3-.2.2.1.3.1.3.1.3.1.3 0 .2 0 .3 0 .3.1.3-.2.2 0 .3-.1.3-.1.3 0 .3-.1.2-.1.3-.1.3-.1.3-.3.3-.3.2-.4.3-.7.3-1.3.3-2 .3-3 .2-2.9.3.5.3 3.1.3 2.8.2 1.9.3 1.3.3.6.3.6.3.3.2.3.3.2.3.1.3-.1.3 0 .2 0 .3 0 .3 0 .3.2.2 0 .3.1.3-.1.3.1.3 0 .2-.1.3.1.3-.1.3.1.3.1.2 0 .3 0 .3.1.3-.1.3-.2.2.1.3.1.3 0 .3.2.2.2.3 0 .3 0 .3 0 .3 0 .2 0 .3.2.3 0 .3 0 .3-.1.2 0 .3-.2.3.1.3-.1.3.3.2 0 .3 0 .3.1.3-.1.2-.1.3.1.3 0 .3-.1.3.3.2-.1.3 0 .3-.1.3.2.3-.1.2-.1.3 0 .3-.1.3.1.2-.1.3 0 .3 0 .3.2.3-.1.2.3.3.1.3-.1.3-.1.3 0 .2-.1.3-.1.3.2.3-.1.3-.1.2-.2.3.1.3-.1.3.1.2.1.3.1.3 0 .3.1.3 0 .2 0 .3.1.3 0 .3 0 .3 0 .2-.1.3-.1.3-.1.3 0 .3 0 .2.1.3 0 .3-.1.3 0 .2.1.3-.2.3 0 .3.1.3-.1.2-.1.3-.2.3-.1.3.3.3 0 .2.1.3.1.3 0 .3-.4.2 0 .3-.1.3 0 .3 0 .3.1.2 0 .3 0 .3-.1.3.1.3-.2.2-.1.3-.2.3 0 .3-.3.3-.2.2-.2.3-.4.3-.4.3-.2.2-.6.3 0 .3.2.3.3.3.1.2.4.3 0 .3.1.3.1.3.1.2 0 .3.1.3-.1.3-.2.2-.1.3-.4.3-.4.3-.3.3-.7.2-.9.3-1.2.3-1.5.3-1.5.3-.6.2 0 .3 1 .3 1.4.3 1.5.3.8.2.8.3.6.3.5.3.2.2.4.3.4.3.1.3 0 .3.1.2 0 .3 0 .3 0 .3 0 .3 0 .2-.1.3-.1.3-.1.3.1.3 0 .2 0 .3 0 .3 0 .3 0 .2-.1.3-.1.3 0 .3-.3.3 0 .2-.1.3 0 .3-.2.3 0 .3-.2.2 0 .3-.1.3-.2.3-.2.2-.3.3-.6.3-.6.3-.8.3-1 .2-1.4.3-1.5.3-1.5.3-.9.3.4.2 1.2.3 1.4.3 1.4.3.9.3.5.2.5.3 0 .3 0 .3 0 .2-.1.3-.5.3-.4.3-.8.3-1.1.2-1.6.3-1.7.3-2.4.3-2.8.3-2.5.2-.8.3.9.3 2.4.3 2.8.3 2.5.2 1.9.3 1.4.3 1.2.3.7.2.4.3.7.3.3.3.3.3.3.2.3.3 0 .3.2.3.1.3.2.2 0 .3.3.3-.1.3.1.2 0 .3 0 .3-.2.3-.1.3 0 .2 0 .3-.1.3.2.3.2.3 0 .2 0 .3.1.3-.1.3-.1.3-.1.2-.1.3 0 .3-.1.3 0 .2-.1.3-.1.3-.2.3 0 .3-.2.2-.1.3-.2.3-.3.3-.4.3-.6.2-.7.3-.8.3-1.1.3-1.6.3-1.9.2-2.1.3-1.8.3-.4.3.9.2 2 .3 2.1.3 1.8.3 1.3.3 1.1.2.8.3.6.3.4.3.4.3.1.2 0 .3.2.3.1.3 0 .2 0 .3.1.3-.2.3-.2.3-.3.2-.3.3-.7.3-.6.3-.9.3-.9.2-.4.3.2.3.8.3.8.3.8.2.9.3.4.3.3.3.4.2.1.3.1.3.1.3.1.3-.1.2.1.3-.2.3-.1.3-.2.3-.1.2-.2.3-.1.3-.3.3-.3.2-.5.3-.6.3-1 .3-1.3.3-1.6.2-1.9.3-1.9.3-.9.3.7.3 1.6.2 2.1.3 1.8.3 1.4.3 1 .3.8.2.7.3.6.3.3.3.2.2.2.3.2.3.1.3.1.3.2.2.1.3 0 .3.2.3.3.3 0 .2 0 .3.1.3-.1.3-.1.3.2.2-.1.3.1.3.1.3 0 .2-.1.3.1.3.2.3 0 .3.1.2.1.3.1.3 0 .3 0 .3 0 .2 0 .3 0 .3-.1.3.1.2.1.3-.2.3.2.3 0 .3.1.2-.1.3.1.3-.2.3.1.3 0 .2.1.3 0 .3.1.3.2.3.1.2.1.3-.1.3 0 .3-.1.2-.2.3 0 .3.1.3.1.3 0 .2.1.3 0 .3 0 .3.2.3.1.2 0 .3 0 .3.1.3-.1.3-.1.2.1.3 0 .3 0 .3 0 .2-.1.3 0 .3.3.3-.1.3.1.2.1.3 0 .3-.3.3.1.3-.1.2.1.3.1.3.2.3 0 .2 0 .3 0 .3.1.3-.1.3.2.2 0 .3-.1.3 0 .3.1.3-.2.2.1.3.1.3 0 .3-.1.3.1.2-.1.3.2.3.1.3.1.2.1.3 0 .3-.1.3-.1.3 0 .2 0 .3-.1.3.1.3-.2.3.1.2 0 .3.2.3-.1.3.1.2 0 .3 0 .3 0 .3 0 .3 0 .2.1.3 0 .3 0 .3 0 .3 0 .2.1" stroke="#bfff00"/><path d="M36.6 118.4l.3.1.2 0 .3 0 .3.2.3.1.3 0 .2 0 .3 0 .3-.2.3-.2.3 0 .2-.1.3 0 .3.1.3.1.2-.2.3 0 .3-.1.3-.1.3 0 .2 0 .3-.1.3 0 .3 0 .3.1.2 0 .3-.1.3-.2.3-.2.3-.3.2-.4.3-.4.3-.5.3-1 .2-1.5.3-2.5.3-4.5.3-7.9.3-10.2.2-1.4.3 9.5.3 8.8.3 5.1.3 2.8.2 1.7.3 1.2.3.5.3.4.3.3.2.2.3.1.3.3.3.1.2.1.3.2.3.1.3-.2.3.2.2 0 .3 0 .3.1.3.2.3-.1.2.1.3.1.3-.1.3 0 .2.2.3-.2.3 0 .3-.1.3-.1.2-.1.3.1.3 0 .3.1.3-.1.2 0 .3.1.3.1.3-.1.3.1.2.1.3-.2.3-.1.3 0 .2 0 .3-.2.3 0 .3 0 .3-.1.2.1.3-.1.3 0 .3-.2.3 0 .2-.3.3-.1.3-.7.3-.7.3-1.3.2-2.1.3-2.9.3-2.6.3.5.2 2.8.3 2.7.3 1.7.3.9.3.7.2.4.3.3.3.2.3.1.3.1.2.2.3.1.3.1.3 0 .2.1.3 0 .3-.1.3-.1.3.1.2-.1.3 0 .3 0 .3 0 .3.1.2.1.3 0 .3.1.3.1.3-.1.2 0 .3 0 .3-.1.3 0 .2 0 .3-.1.3 0 .3.1.3-.1.2-.1.3-.1.3-.1.3-.1.3-.1.2.1.3.3.3-.1.3 0 .2 0 .3 0 .3-.1.3.2.3-.1.2 0 .3 0 .3-.2.3 0 .3.1.2-.1.3 0 .3 0 .3 0 .3-.1.2.1.3.1.3 0 .3 0 .2-.1.3 0 .3-.2.3.1.3-.2.2 0 .3-.1.3.1.3-.1.3.1.2.1.3-.2.3 0 .3-.1.3.1.2.1.3.1.3 0 .3.1.2-.1.3-.1.3.2.3-.1.3 0 .2-.2.3.1.3-.1.3 0 .3-.2.2 0 .3-.1.3.1.3 0 .2 0 .3 0 .3-.1.3-.3.3.2.2-.1.3.1.3.1.3.1.3-.2.2 0 .3-.1.3-.1.3-.1.3 0 .2 0 .3-.1.3 0 .3-.1.2 0 .3-.1.3 0 .3.1.3-.1.2 0 .3 0 .3.1.3-.1.3 0 .2-.1.3-.1.3-.1.3-.1.3-.3.2-.2.3-.2.3-.3.3-.3.2-.5.3-.6.3-.5.3-.4.3.1.2.4.3.5.3.4.3.4.3.2.2.1.3 0 .3 0 .3 0 .2-.1.3 0 .3-.1.3-.3.3-.4.2-.5.3-.6.3-.9.3-1.1.3-1.4.2-1.4.3-1.1.3 0 .3.9.3 1.4.2 1.3.3 1.2.3.9.3.6.2.4.3.5.3.1.3.1.3.2.2.2.3.1.3 0 .3.2.3 0 .2.1.3-.1.3 0 .3 0 .3.1.2-.1.3.1.3.2.3-.1.2-.1.3.1.3 0 .3-.2.3 0 .2.1.3 0 .3-.1.3-.1.3-.2.2-.1.3-.3.3-.2.3 0 .2-.2.3-.4.3-.5.3-.3.3-.5.2-.7.3-1.1.3-1.2.3-1.7.3-1.6.2-.9.3.4.3 1.2.3 1.5.3 1.4.2 1 .3.6.3.4.3.1.2.1.3-.2.3-.1.3-.4.3-.5.2-.8.3-1.3.3-1.6.3-2.2.3-2.6.2-3.2.3-2.6.3-1.2.3 1.2.2 2.8.3 3.2.3 2.9.3 2.3.3 1.7.2 1.3.3.8.3.7.3.5.3.4.2.3.3.3.3.2.3.3.3 0 .2.1.3.1.3 0 .3-.1.2.2.3.1.3.1.3.2.3.2.2 0 .3 0 .3-.1.3.2.3 0 .2.1.3.1.3.1.3-.2.3.2.2-.1.3-.1.3 0 .3.1.2-.2.3-.1.3 0 .3 0 .3-.2.2-.1.3-.1.3-.3.3-.5.3-.3.2-.4.3-.7.3-.9.3-.9.2-1.5.3-1.9.3-2.4.3-2.5.3-2.1.2-.5.3 1.4.3 2.4.3 2.7.3 1.9.2 1.7.3 1.2.3 1.1.3.7.3.6.2.4.3.3.3.1.3.1.2.1.3 0 .3 0 .3 0 .3 0 .2-.2.3-.5.3-.3.3-.6.3-1 .2-1 .3-.9.3-.5.3.3.3.9.2 1.2.3 1.2.3.7.3.7.2.3.3.4.3.1.3.3.3.1.2.2.3 0 .3.1.3.1.3-.1.2 0 .3-.1.3-.2.3-.2.2-.3.3-.3.3-.5.3-.5.3-1 .2-1.2.3-1.8.3-1.7.3-1.9.3-.8.2.5.3 1.5.3 1.9.3 1.7.3 1.4.2 1.2.3 1 .3.7.3.5.2.4.3.2.3.1.3.2.3.2.2 0 .3.2.3.1.3.1.3 0 .2.3.3 0 .3.1.3.2.2 0 .3 0 .3 0 .3-.1.3 0 .2.1.3 0 .3.2.3 0 .3-.1.2 0 .3-.1.3-.1.3.1.3 0 .2.2.3.2.3.1.3 0 .2.1.3-.1.3 0 .3-.1.3 0 .2-.3.3 0 .3.1.3.1.3.1.2.1.3.1.3 0 .3.1.3.1.2 0 .3.1.3-.1.3 0 .2-.1.3.1.3 0 .3-.1.3 0 .2.1.3.1.3 0 .3 0 .3 0 .2-.1.3 0 .3 0 .3.1.2.1.3 0 .3-.2.3-.1.3.1.2-.1.3-.1.3.1.3.1.3-.1.2 0 .3.1.3 0 .3.1.3 0 .2 0 .3-.1.3-.1.3-.1.2 0 .3-.1.3.2.3 0 .3.1.2.2.3-.1.3.1.3-.1.3-.1.2 0 .3.1.3 0 .3 0 .3.1.2 0 .3 0 .3 0 .3-.1.2-.1.3-.1.3-.1.3-.1.3 0 .2.2.3 0 .3 0 .3.1.3-.1.2-.1.3-.1.3 0 .3.1.2 0 .3.1.3 0 .3.1.3-.2.2.1.3-.1.3 0 .3 0 .3 0 .2-.1.3 0 .3 0" stroke="#7fff00"/><path d="M33.2 121l.3-.1.3 0 .3 0 .3-.1.2.1.3.1.3 0 .3-.1.3 0 .2-.1.3-.1.3-.1.3.2.2 0 .3-.1.3.1.3-.1.3 0 .2-.2.3 0 .3 0 .3 0 .3 0 .2.1.3 0 .3-.1.3-.2.3 0 .2-.2.3-.2.3-.3.3-.5.2-.7.3-1 .3-1.6.3-2.3.3-4.3.2-7.3.3-9.6.3-1.3.3 9 .3 8.4.2 4.8.3 2.8.3 1.5.3 1.1.2.6.3.5.3.4.3.2.3.2.2 0 .3 0 .3 0 .3.1.3 0 .2.1.3 0 .3.1.3.1.3.1.2.1.3-.1.3 0 .3.1.2 0 .3.1.3.1.3 0 .3 0 .2.1.3-.2.3-.1.3-.1.3 0 .2 0 .3.1.3.2.3.1.3 0 .2 0 .3-.1.3-.2.3-.1.2 0 .3 0 .3 0 .3.1.3 0 .2 0 .3-.1.3 0 .3 0 .3 0 .2-.2.3-.1.3-.3.3-.2.2-.7.3-.5.3-1.2.3-1.9.3-2.8.2-2.4.3.3.3 2.7.3 2.7.3 1.8.2 1 .3.5.3.5.3.2.3.3.2.2.3.3.3.2.3.3.2 0 .3 0 .3.1.3-.1.3.1.2 0 .3 0 .3-.1.3.1.3-.1.2.2.3 0 .3 0 .3-.1.3.1.2-.1.3.2.3.1.3.1.2 0 .3 0 .3 0 .3-.1.3 0 .2 0 .3-.1.3.1.3 0 .3.1.2 0 .3.1.3 0 .3-.1.2 0 .3-.1.3-.1.3.1.3.2.2 0 .3 0 .3.2.3-.1.3 0 .2 0 .3.1.3-.1.3 0 .3 0 .2.2.3-.1.3.2.3-.1.2.1.3-.2.3-.2.3-.1.3 0 .2 0 .3.1.3.1.3.2.3.2.2-.1.3 0 .3 0 .3 0 .2-.1.3-.1.3 0 .3.2.3-.1.2 0 .3 0 .3.1.3-.1.3 0 .2.1.3-.1.3.2.3-.2.3.2.2-.2.3 0 .3-.3.3.1.2-.1.3 0 .3.1.3.1.3-.2.2.2.3 0 .3-.1.3 0 .3.3.2-.2.3 0 .3 0 .3-.1.3-.1.2.1.3 0 .3 0 .3.1.2 0 .3 0 .3.1.3-.1.3-.1.2 0 .3-.2.3-.1.3 0 .3.1.2-.1.3.1.3 0 .3-.1.2-.2.3-.1.3-.2.3-.3.3-.2.2-.3.3-.3.3-.3.3-.5.3-.4.2-.3.3.1.3.3.3.6.3.3.2.1.3.3.3.3.3 0 .2-.1.3 0 .3-.2.3-.3.3-.2.2-.2.3-.3.3-.4.3-.6.3-.8.2-1.2.3-1.2.3-1.4.3-1 .3.1.2 1 .3 1.2.3 1.3.3 1.2.2.9.3.8.3.5.3.1.3.2.2.1.3 0 .3.1.3.1.3.1.2 0 .3 0 .3 0 .3.1.2.1.3 0 .3.2.3.1.3-.1.2-.2.3-.1.3-.3.3-.1.3 0 .2 0 .3 0 .3-.1.3-.1.3-.1.2-.2.3 0 .3 0 .3-.1.2-.3.3-.3.3-.3.3-.5.3-.4.2-.5.3-.7.3-.9.3-1.3.3-1.8.2-2 .3-1.9.3-1.1.3.4.3 1.5.2 1.8.3 1.8.3.9.3.8.2.6.3.3.3.1.3.2.3-.2.2-.3.3-.5.3-1 .3-1.2.3-1.8.2-2.3.3-3 .3-3.4.3-3 .2-1.1.3 1.3.3 3 .3 3.4.3 2.9.2 2.3.3 1.8.3 1.4.3 1 .3 1 .2.6.3.5.3.4.3.2.3 0 .2.1.3.1.3.1.3.2.2-.1.3.2.3 0 .3 0 .3-.1.2.2.3-.1.3 0 .3 0 .3 0 .2 0 .3.1.3 0 .3.2.2.1.3 0 .3-.1.3 0 .3-.2.2-.3.3-.1.3-.1.3-.1.3-.1.2 0 .3-.1.3.1.3-.2.3-.1.2-.3.3-.4.3-.6.3-.5.2-.8.3-1.1.3-1.5.3-2 .3-2.3.2-2.8.3-2.2.3-.5.3 1.3.3 2.2.2 2.7.3 2.2.3 1.7.3 1.1.3 1 .2.6.3.7.3.4.3.3.2.4.3 0 .3.1.3 0 .3-.1.2-.1.3-.1.3-.4.3-.2.3-.5.2-.7.3-.7.3-.9.3-1.1.2-.3.3.1.3.8.3 1.1.3 1 .2.6.3.7.3.4.3.2.3.4.2.2.3.1.3.2.3.1.3-.1.2 0 .3-.1.3 0 .3-.1.2-.1.3-.3.3-.3.3-.5.3-.6.2-.7.3-.7.3-1 .3-1.4.3-1.8.2-1.7.3-1.1.3.3.3 1.5.3 2 .2 1.8.3 1.4.3 1 .3.8.2.5.3.5.3.3.3.3.3.2.2.1.3.1.3.2.3.1.3 0 .2.1.3 0 .3.2.3.3.2.1.3.1.3-.1.3 0 .3.1.2-.2.3.1.3.3.3 0 .3 0 .2.1.3-.1.3-.2.3.1.3 0 .2.1.3 0 .3.1.3-.1.2 0 .3 0 .3.1.3.1.3 0 .2.1.3-.1.3.1.3 0 .3.1.2-.1.3.1.3-.2.3 0 .2-.1.3.1.3 0 .3.3.3 0 .2.1.3-.1.3 0 .3-.1.3.1.2.3.3.1.3 0 .3.2.3-.1.2-.2.3.1.3.1.3-.1.2 0 .3.2.3 0 .3-.1.3-.1.2.1.3-.3.3 0 .3.1.3 0 .2 0 .3.1.3.1.3 0 .3.2.2-.1.3.1.3.1.3-.1.2-.1.3.1.3-.1.3.1.3.1.2.2.3-.2.3 0 .3 0 .3-.1.2 0 .3.3.3 0 .3 0 .2.1.3-.1.3.1.3 0 .3.2.2 0 .3.1.3.2.3 0 .3-.1.2-.1.3 0 .3-.2.3.1.3.1.2.1.3.2.3.1.3-.1.2 0 .3.1.3-.2.3-.1.3-.1.2-.2.3 0 .3.1.3 0 .3 0 .2.2.3.1.3-.1.3.1.3-.1" stroke="#15ff00"/><path d="M29.9 126.6l.3 0 .3 0 .2 0 .3.1.3 0 .3 0 .3-.1.2 0 .3.1.3-.2.3 0 .2 0 .3.2.3-.1.3.1.3 0 .2 0 .3-.1.3 0 .3-.1.3-.1.2 0 .3 0 .3 0 .3 0 .3 0 .2-.2.3-.1.3-.2.3-.2.2-.2.3-.4.3-.7.3-.9.3-1.6.2-2.6.3-4.2.3-7.7.3-9.9.3-1.4.2 9.4.3 8.3.3 4.8.3 2.9.2 1.6.3 1 .3.7.3.5.3.4.2.3.3.2.3.2.3 0 .3 0 .2-.1.3.2.3.2.3.1.3.1.2.1.3-.2.3-.1.3 0 .2.1.3.1.3.2.3 0 .3 0 .2-.2.3.1.3 0 .3-.1.3 0 .2-.1.3 0 .3-.1.3.2.2 0 .3.1.3-.2.3 0 .3-.2.2.3.3 0 .3.1.3.1.3.1.2-.2.3 0 .3 0 .3 0 .3-.3.2 0 .3-.2.3-.1.3-.2.2-.3.3-.3.3-.5.3-.8.3-1.1.2-1.8.3-3 .3-2.5.3.3.3 2.8.2 2.6.3 1.8.3 1.1.3.7.3.4.2.4.3.2.3.1.3 0 .2.1.3 0 .3 0 .3.2.3.1.2.2.3 0 .3.1.3-.1.3 0 .2-.1.3.1.3-.1.3.1.2 0 .3-.1.3 0 .3.1.3-.2.2.1.3.1.3 0 .3-.2.3.1.2-.1.3.1.3.1.3 0 .3-.1.2-.1.3 0 .3-.1.3.2.2.1.3 0 .3 0 .3-.1.3-.3.2 0 .3 0 .3-.1.3-.1.3 0 .2.1.3 0 .3.1.3.1.3.1.2-.1.3 0 .3 0 .3-.1.2 0 .3-.1.3-.1.3 0 .3.1.2-.1.3.1.3 0 .3 0 .3 0 .2.1.3-.1.3.1.3-.1.2-.1.3-.2.3 0 .3 0 .3 0 .2-.1.3 0 .3 0 .3 0 .3.1.2 0 .3 0 .3.1.3-.1.3-.1.2 0 .3 0 .3-.2.3.1.2-.1.3 0 .3-.1.3 0 .3-.2.2 0 .3.1.3-.1.3-.1.3.1.2-.1.3 0 .3 0 .3.1.3 0 .2 0 .3 0 .3.1.3-.3.2-.2.3 0 .3 0 .3 0 .3 0 .2.1.3-.2.3-.1.3-.1.3.1.2 0 .3.1.3 0 .3 0 .2-.1.3-.2.3-.1.3-.2.3-.2.2-.1.3-.3.3-.2.3-.3.3-.4.2-.6.3-.3.3-.1.3.1.3.4.2.5.3.3.3.1.3.1.2-.1.3.2.3.1.3-.1.3-.1.2-.2.3-.3.3-.4.3-.3.3-.6.2-.5.3-.9.3-1.3.3-1.6.2-1.4.3-1 .3 0 .3 1.3.3 1.6.2 1.4.3.9.3 1.1.3.4.3.6.2.2.3.5.3 0 .3 0 .3 0 .2.2.3 0 .3.2.3.2.2 0 .3-.1.3.1.3-.1.3.1.2-.1.3 0 .3 0 .3.1.3-.1.2-.2.3-.1.3 0 .3-.1.3-.1.2.2.3-.1.3-.2.3 0 .2-.1.3-.3.3-.2.3-.3.3-.4.2-.3.3-.4.3-.5.3-.7.3-.8.2-1.5.3-1.6.3-1.9.3-1.7.2-1 .3.3.3 1.4.3 1.8.3 1.6.2 1.2.3 1 .3.5.3.4.3 0 .2 0 .3-.2.3-.4.3-.5.3-.9.2-1.1.3-1.7.3-2.3.3-3 .2-3.6.3-3.1.3-1.2.3 1.3.3 3 .2 3.6.3 3.2.3 2.2.3 1.8.3 1.4.2 1 .3.6.3.7.3.5.3.4.2.2.3.4.3.2.3.1.2.2.3.1.3.2.3 0 .3 0 .2-.1.3.3.3 0 .3.1.3.1.2.1.3-.2.3.1.3 0 .2.1.3.1.3-.1.3-.2.3.2.2-.1.3-.1.3.2.3 0 .3-.2.2 0 .3-.1.3-.2.3-.1.3 0 .2-.2.3-.1.3-.2.3-.4.2-.4.3-.4.3-.7.3-.7.3-1.2.2-1.6.3-2 .3-2.1.3-2 .3-.5.2 1.2.3 1.9.3 2.2.3 2 .2 1.3.3.9.3.9.3.6.3.5.2.4.3.4.3 0 .3.2.3.2.2 0 .3.1.3 0 .3-.2.3-.2.2-.4.3-.4.3-.5.3-.6.2-1 .3-.6.3-.3.3.2.3.7.2 1.1.3.6.3.6.3.4.3.5.2.3.3.5.3.3.3.2.3.1.2-.1.3-.1.3 0 .3-.1.2-.1.3-.1.3-.2.3-.3.3-.2.2-.4.3-.4.3-.6.3-.8.3-1.1.2-1.5.3-1.7.3-1.7.3-1 .2.5.3 1.6.3 1.8.3 1.7.3 1.3.2 1 .3.8.3.6.3.4.3.3.2.3.3.2.3.2.3.2.3.3.2.2.3.1.3.1.3.2.2 0 .3 0 .3.1.3.3.3-.1.2.1.3.1.3-.1.3-.1.3.1.2-.1.3 0 .3.2.3 0 .3.1.2.1.3.1.3 0 .3.1.2 0 .3 0 .3-.1.3-.1.3 0 .2 0 .3.1.3.1.3.1.3.1.2 0 .3 0 .3 0 .3 0 .2-.1.3.1.3.1.3 0 .3 0 .2.1.3-.1.3.2.3 0 .3 0 .2-.1.3-.1.3 0 .3-.1.3.1.2.2.3.2.3 0 .3 0 .2 0 .3 0 .3 0 .3 0 .3 0 .2 0 .3-.1.3 0 .3-.2.3-.1.2 0 .3.1.3 0 .3.1.2 0 .3 0 .3 0 .3 0 .3 0 .2 0 .3-.1.3 0 .3 0 .3 0 .2.1.3.1.3 0 .3.1.3.1.2.1.3 0 .3 0 .3-.1.2-.1.3-.1.3 0 .3 0 .3.3.2.1.3 0 .3 0 .3-.1.3-.1.2.1.3-.1.3.1.3.2.3-.1.2-.1.3 0 .3-.2.3 0 .2-.1.3.1.3 0 .3.2.3-.1.2.1.3 0 .3 0 .3-.1.3.1.2-.1.3.1.3-.1.3.1.2-.2.3.1.3-.1" stroke="#00ff2a"/><path d="M26.6 129.8l.2 0 .3.1.3.1.3.1.3.2.2-.1.3-.1.3-.1.3 0 .2-.1.3.1.3 0 .3.2.3-.2.2-.1.3.1.3-.2.3-.1.3 0 .2 0 .3-.2.3.2.3.1.2.1.3-.2.3.1.3-.2.3 0 .2-.3.3-.2.3-.1.3-.6.3-.9.2-.8.3-1.6.3-2.6.3-4.4.3-7.7.2-10.2.3-1.4.3 9.6.3 8.6.2 5.1.3 3 .3 1.6.3 1 .3.7.2.3.3.4.3.3.3.3.3.2.2.2.3-.1.3 0 .3.1.3.1.2.1.3.2.3.1.3.1.2 0 .3 0 .3 0 .3.2.3-.2.2-.2.3.1.3 0 .3-.1.3.1.2.1.3 0 .3-.1.3.2.2-.1.3 0 .3-.2.3.1.3 0 .2 0 .3.1.3.2.3.1.3-.1.2 0 .3.1.3 0 .3-.2.3.1.2-.1.3-.2.3-.1.3.1.2-.2.3 0 .3-.1.3-.4.3-.5.2-.8.3-1.4.3-1.9.3-2.9.3-2.6.2.5.3 3 .3 2.7.3 1.7.2 1.1.3.6.3.4.3.4.3.2.2 0 .3.1.3.1.3.1.3 0 .2.1.3 0 .3-.1.3 0 .3 0 .2 0 .3.1.3.2.3.1.2.2.3.1.3-.1.3 0 .3 0 .2 0 .3 0 .3 0 .3 0 .3 0 .2 0 .3.1.3.1.3-.1.3-.1.2-.2.3.1.3-.2.3.1.2.1.3.1.3-.1.3.2.3 0 .2.1.3 0 .3-.1.3-.1.3 0 .2-.1.3.1.3-.1.3 0 .2 0 .3 0 .3-.1.3.1.3-.1.2-.1.3-.1.3 0 .3 0 .3 0 .2 0 .3 0 .3 0 .3.1.3 0 .2.2.3 0 .3-.2.3-.1.2 0 .3-.2.3.1.3.1.3.2.2 0 .3 0 .3 0 .3 0 .3.1.2 0 .3.1.3-.2.3-.1.3-.3.2-.1.3 0 .3.1.3-.2.2.2.3 0 .3-.2.3.1.3 0 .2 0 .3-.1.3.2.3-.1.3 0 .2-.1.3.1.3-.1.3.1.2-.1.3-.1.3 0 .3 0 .3 0 .2-.1.3.1.3-.1.3-.1.3-.1.2-.1.3 0 .3-.1.3-.1.3-.1.2 0 .3 0 .3 0 .3 0 .2 0 .3-.1.3-.1.3 0 .3 0 .2-.1.3-.1.3-.1.3-.3.3-.4.2-.4.3-.5.3-.6.3-.4.3-.2.2.3.3.4.3.5.3.3.2.3.3.1.3-.1.3.1.3-.2.2.1.3-.2.3-.2.3-.2.3-.1.2-.6.3-.4.3-.7.3-1 .2-1.3.3-1.6.3-1.7.3-1 .3.1.2 1.2.3 1.6.3 1.4.3 1.3.3.9.2.6.3.5.3.5.3.2.3.2.2.1.3-.1.3 0 .3.1.2 0 .3.1.3 0 .3 0 .3.1.2.1.3-.1.3 0 .3 0 .3-.1.2-.1.3 0 .3-.1.3-.1.2 0 .3-.1.3 0 .3-.1.3 0 .2 0 .3-.1.3-.1.3-.1.3-.2.2-.2.3-.2.3-.4.3-.3.3-.4.2-.8.3-1 .3-1 .3-1.6.2-1.7.3-1.6.3-1 .3.3.3 1.2.2 1.4.3 1.5.3 1.1.3.6.3.5.2.3.3.1.3-.2.3 0 .3-.4.2-.8.3-1.1.3-1.4.3-2 .2-2.4.3-3.3.3-3.7.3-3.3.3-1.3.2 1.3.3 3.4.3 3.5.3 3.3.3 2.5.2 1.8.3 1.5.3 1.5.3.9.2.7.3.5.3.4.3.1.3.3.2.2.3.3.3.2.3 0 .3.2.2-.1.3.1.3.1.3 0 .3.1.2.2.3-.1.3 0 .3.1.2 0 .3-.2.3 0 .3.1.3-.1.2-.1.3.2.3 0 .3 0 .3-.1.2.1.3-.1.3-.2.3 0 .3.1.2-.1.3-.2.3 0 .3-.2.2-.3.3-.3.3-.3.3-.4.3-.8.2-.9.3-1.1.3-1.6.3-1.9.3-2 .2-1.8.3-.3.3 1 .3 1.9.2 2.1.3 1.8.3 1.2.3 1 .3.7.2.4.3.5.3.4.3.2.3.4.2.1.3.1.3.1.3 0 .3-.1.2 0 .3-.1.3-.4.3-.3.2-.5.3-.8.3-.8.3-.9.3-.4.2.2.3 1 .3.9.3.8.3.5.2.6.3.3.3.3.3.2.2.3.3 0 .3 0 .3 0 .3.2.2-.1.3.2.3-.2.3-.1.3-.3.2-.2.3-.3.3-.3.3-.4.3-.5.2-.9.3-1.1.3-1.6.3-1.9.2-1.7.3-.8.3.5.3 1.5.3 2 .2 1.6.3 1.4.3 1 .3.9.3.5.2.6.3.2.3.3.3.2.3.2.2.1.3.2.3.1.3.3.2.1.3.1.3.1.3.1.3 0 .2 0 .3 0 .3.1.3-.1.3 0 .2-.1.3.2.3.2.3.3.2-.1.3.2.3 0 .3-.1.3-.1.2.2.3-.1.3-.1.3.1.3 0 .2-.1.3.2.3.2.3-.1.3 0 .2.2.3 0 .3 0 .3.1.2 0 .3.1.3 0 .3-.1.3.1.2-.1.3.1.3-.1.3.1.3 0 .2.1.3 0 .3 0 .3 0 .3 0 .2-.2.3.1.3 0 .3.1.2.1.3.2.3 0 .3 0 .3.1.2-.1.3 0 .3 0 .3 0 .3 0 .2 0 .3 0 .3-.1.3.1.2.1.3.1.3.1.3.2.3 0 .2-.2.3 0 .3-.1.3-.1.3.1.2.1.3.1.3.2.3-.1.3-.2.2.1.3 0 .3-.1.3.2.2 0 .3 0 .3.1.3 0 .3-.2.2.1.3.1.3-.1.3 0 .3.1.2 0 .3 0 .3.1.3 0 .2.1.3-.1.3 0 .3-.1.3.1.2 0 .3 0 .3-.1.3.2.3-.1.2 0 .3 0 .3 0 .3-.2.3 0 .2 0 .3.2.3 0 .3 0 .2 0 .3 0 .3-.1.3 0 .3.1" stroke="#00ffa9"/><path d="M23.2 134.3l.3-.1.3 0 .2-.1.3-.1.3-.2.3 0 .3.1.2-.1.3.1.3.1.3 0 .3-.1.2-.1.3-.1.3-.1.3-.2.3 0 .2-.1.3.1.3.1.3.2.2-.3.3 0 .3-.2.3-.2.3-.4.2 0 .3-.1.3-.2.3-.2.3-.1.2-.3.3-.8.3-.9.3-1.6.3-2.8.2-4.6.3-8.1.3-10.6.3-1.4.2 9.9.3 9 .3 5.1.3 2.9.3 1.7.2 1.3.3.6.3.4.3.3.3.1.2-.1.3.2.3.3.3.2.2.4.3.2.3 0 .3 0 .3-.1.2 0 .3.1.3.1.3.1.3.2.2-.1.3-.2.3-.1.3 0 .3 0 .2 0 .3 0 .3 0 .3-.2.2-.1.3.1.3 0 .3 0 .3.1.2.1.3 0 .3 0 .3 0 .3-.1.2-.1.3-.1.3.1.3.1.3.1.2 0 .3 0 .3-.1.3 0 .2-.3.3-.1.3-.1.3-.2.3-.3.2-.2.3-.6.3-.7.3-1.1.3-2.1.2-3 .3-2.7.3.2.3 3.1.2 2.9.3 1.7.3 1.2.3.9.3.4.2.3.3.2.3.1.3.1.3.1.2-.1.3.2.3.1.3.1.3.1.2 0 .3.1.3.1.3-.1.2.1.3.1.3.1.3-.1.3.1.2-.1.3 0 .3-.1.3 0 .3-.2.2 0 .3 0 .3 0 .3.1.3.1.2 0 .3.1.3-.1.3.1.2.1.3.1.3 0 .3.2.3-.2.2.1.3 0 .3-.1.3 0 .3 0 .2-.1.3.1.3 0 .3-.1.2.1.3 0 .3 0 .3.1.3 0 .2.1.3 0 .3-.1.3-.1.3.1.2.1.3 0 .3.1.3.2.3 0 .2-.2.3-.1.3-.1.3 0 .2.1.3 0 .3.1.3.1.3-.1.2-.2.3-.1.3 0 .3.1.3 0 .2.1.3.2.3 0 .3-.1.2.1.3 0 .3 0 .3 0 .3-.1.2 0 .3 0 .3 0 .3 0 .3 0 .2 0 .3-.1.3.1.3.1.3 0 .2 0 .3 0 .3 0 .3-.1.2.1.3-.2.3.1.3.1.3.1.2-.1.3.2.3 0 .3-.2.3-.1.2.1.3-.2.3 0 .3 0 .3.1.2.1.3.1.3-.1.3.1.2-.1.3 0 .3-.1.3 0 .3-.1.2 0 .3-.2.3-.1.3-.1.3-.2.2-.3.3-.3.3-.2.3-.5.2-.4.3-.5.3-.3.3.1.3.4.2.4.3.4.3.4.3.1.3.3.2 0 .3.1.3-.1.3.1.3-.2.2-.2.3-.2.3-.3.3-.6.2-.7.3-.9.3-1.2.3-1.2.3-1.2.2-.7.3.1.3 1.2.3 1.3.3 1.3.2.9.3.8.3.6.3.5.3.2.2.4.3.1.3.1.3-.2.2.2.3-.1.3.2.3-.1.3.2.2 0 .3.1.3-.2.3.2.3-.2.2-.1.3 0 .3.1.3-.2.2 0 .3.1.3-.1.3.1.3 0 .2 0 .3 0 .3-.1.3-.3.3-.1.2-.3.3-.1.3-.1.3-.2.3-.3.2-.3.3-.7.3-.7.3-.9.2-1.3.3-1.4.3-1.7.3-1.5.3-1 .2.4.3 1.3.3 1.5.3 1.3.3 1.1.2.8.3.4.3.3.3.1.2 0 .3-.3.3-.3.3-.7.3-.9.2-1.3.3-1.9.3-2.7.3-3.1.3-3.7.2-3.2.3-1.2.3 1.4.3 3.3.3 3.7.2 3.2.3 2.4.3 1.8.3 1.3.2 1.1.3.7.3.6.3.6.3.4.2.2.3.1.3.2.3.1.3.1.2.2.3.4.3 0 .3.1.3.1.2.1.3-.2.3 0 .3.1.2-.1.3-.3.3.1.3-.1.3 0 .2.1.3 0 .3 0 .3 0 .3-.1.2-.2.3.2.3-.1.3-.1.2.1.3.1.3-.1.3 0 .3-.2.2-.3.3-.2.3-.6.3-.3.3-.4.2-.4.3-.9.3-.9.3-1.6.3-1.7.2-2.5.3-2.6.3-2.1.3-.4.2 1.1.3 2.4.3 2.6.3 2.2.3 1.6.2 1.3.3.9.3.6.3.5.3.3.2.2.3.1.3.3.3-.1.3.1.2.1.3 0 .3-.2.3-.1.2-.3.3-.5.3-.5.3-.8.3-1 .2-.8.3-.4.3.4.3.8.3.9.2.9.3.6.3.4.3.4.2.4.3 0 .3.1.3.1.3-.1.2.1.3 0 .3.1.3 0 .3-.2.2-.2.3-.2.3-.3.3-.2.3-.2.2-.5.3-.6.3-.9.3-1.3.2-1.5.3-1.9.3-1.8.3-1 .3.5.2 1.4.3 2 .3 1.6.3 1.6.3.9.2.8.3.6.3.6.3.2.2.5.3.3.3.2.3.1.3.3.2.1.3 0 .3 0 .3.1.3-.1.2-.1.3-.1.3.1.3.1.3-.1.2.1.3.2.3-.1.3 0 .2-.1.3.1.3.2.3 0 .3.1.2.2.3.1.3-.2.3 0 .3 0 .2 0 .3 0 .3.2.3 0 .3-.1.2-.1.3.1.3 0 .3-.2.2.1.3.1.3-.2.3-.2.3.2.2 0 .3 0 .3 0 .3.1.3-.1.2 0 .3.1.3.1.3.1.2 0 .3 0 .3 0 .3 0 .3.1.2.2.3 0 .3 0 .3 0 .3-.1.2 0 .3 0 .3.1.3 0 .3-.1.2-.1.3-.1.3 0 .3.1.2.2.3 0 .3-.1.3.1.3-.1.2 0 .3-.1.3.1.3 0 .3.1.2-.1.3.2.3 0 .3.1.3-.3.2.1.3-.1.3 0 .3 0 .2.2.3.1.3 0 .3-.1.3.1.2 0 .3-.1.3 0 .3.1.3-.1.2 0 .3.1.3.1.3.1.2-.1.3 0 .3 0 .3-.1.3.1.2.2.3-.2.3 0 .3.1.3-.1.2-.2.3.1.3 0 .3 0 .3 0 .2.1.3.1.3 0 .3 0 .2.3.3.1.3-.1.3-.1.3 0 .2-.1.3-.1" stroke="#00e9ff"/><path d="M19.9 137.9l.2 0 .3 0 .3.2.3.1.3-.1.2 0 .3 0 .3-.1.3.1.3-.1.2-.1.3-.1.3 0 .3-.2.3 0 .2.1.3-.1.3 0 .3 0 .2 0 .3-.2.3 0 .3-.1.3-.1.2-.1.3 0 .3-.1.3-.1.3-.2.2-.2.3-.3.3-.4.3-.8.2-1.2.3-1.6.3-2.7.3-4.7.3-8.1.2-10.7.3-1.6.3 10.2.3 9 .3 5.4.2 3 .3 1.8.3 1.1.3.7.3.4.2.4.3.3.3.2.3 0 .2.1.3.2.3.1.3-.1.3.1.2 0 .3 0 .3-.1.3.2.3.1.2.1.3 0 .3.1.3-.1.3 0 .2.1.3 0 .3.1.3-.1.2 0 .3-.1.3-.1.3-.1.3.1.2 0 .3 0 .3.3.3.1.3 0 .2 0 .3-.1.3-.2.3-.1.2.1.3 0 .3-.1.3 0 .3-.2.2-.2.3 0 .3-.2.3-.3.3.1.2-.2.3-.2.3-.2.3-.4.3-.7.2-1.1.3-2 .3-2.9.3-2.5.2.3.3 3 .3 2.7.3 1.9.3 1 .2.8.3.4.3.2.3.1.3.1.2.1.3.2.3.1.3.1.3.1.2 0 .3 0 .3.2.3 0 .2 0 .3 0 .3-.2.3.1.3.1.2-.1.3 0 .3.1.3-.1.3-.1.2.1.3.1.3 0 .3 0 .2.1.3.1.3 0 .3.1.3 0 .2.1.3-.1.3 0 .3-.1.3 0 .2-.1.3.2.3-.1.3 0 .3.1.2-.1.3 0 .3 0 .3-.1.2.1.3.2.3 0 .3.2.3 0 .2-.1.3-.1.3-.1.3-.1.3.1.2 0 .3 0 .3.1.3.2.3 0 .2 0 .3 0 .3.1.3 0 .2.1.3.1.3 0 .3-.2.3 0 .2-.1.3.1.3-.1.3.2.3-.1.2.1.3-.1.3 0 .3-.1.2 0 .3 0 .3 0 .3.1.3.2.2 0 .3-.1.3-.1.3 0 .3-.1.2.1.3 0 .3 0 .3.1.3 0 .2-.1.3 0 .3.1.3-.1.2 0 .3.1.3 0 .3.1.3.1.2 0 .3 0 .3-.2.3-.1.3-.1.2 0 .3.1.3 0 .3 0 .2 0 .3 0 .3-.2.3-.1.3.1.2.1.3-.1.3.1.3 0 .3.1.2-.1.3-.1.3-.2.3-.1.3-.3.2-.1.3-.2.3-.1.3-.2.2-.4.3-.4.3-.4.3-.6.3-.2.2.3.3.4.3.5.3.5.3.3.2.2.3 0 .3-.1.3 0 .3-.1.2 0 .3-.1.3-.1.3-.2.2-.4.3-.7.3-.8.3-1 .3-1.2.2-1.6.3-1.6.3-1 .3 0 .3 1.1.2 1.7.3 1.5.3 1.3.3 1 .2.7.3.5.3.5.3.2.3.2.2.3.3.2.3-.1.3 0 .3 0 .2.1.3 0 .3.2.3.1.3.1.2 0 .3-.1.3-.1.3.1.2-.1.3.1.3-.1.3.1.3-.3.2 0 .3-.1.3.1.3-.3.3 0 .2-.2.3-.2.3-.1.3-.1.3-.2.2-.1.3-.1.3-.3.3-.5.2-.6.3-1 .3-1.2.3-1.4.3-1.6.2-1.6.3-.9.3.3.3 1 .3 1.5.2 1.3.3 1.1.3.7.3.4.2.2.3.1.3-.1.3-.2.3-.3.2-.6.3-1 .3-1.3.3-1.8.3-2.5.2-3.3.3-3.5.3-3.2.3-1.5.3 1.3.2 3.3.3 3.5.3 3 .3 2.8.2 1.8.3 1.5.3 1 .3 1 .3.6.2.5.3.5.3.3.3.2.3.1.2.2.3 0 .3-.1.3 0 .2.1.3 0 .3 0 .3.2.3 0 .2 0 .3.1.3 0 .3-.1.3.1.2 0 .3.1.3 0 .3 0 .3-.1.2 0 .3-.1.3 0 .3-.2.2.2.3-.1.3-.2.3-.2.3-.1.2-.3.3-.1.3-.2.3-.2.3-.2.2-.3.3-.6.3-.5.3-1 .3-1.2.2-1.5.3-2 .3-2.7.3-2.6.2-2.2.3-.8.3 1.4.3 2.6.3 2.6.2 2.5.3 1.6.3 1.4.3 1.1.3.7.2.4.3.5.3.2.3.2.2.1.3.1.3.2.3 0 .3-.1.2-.1.3-.2.3-.3.3-.5.3-.5.2-.9.3-.9.3-.8.3-.4.3.1.2 1.1.3.9.3.8.3.5.2.5.3.1.3.4.3.3.3.2.2.2.3.2.3 0 .3.1.3-.1.2 0 .3-.2.3.1.3-.1.3-.2.2-.3.3-.3.3-.8.3-.7.2-.8.3-1.2.3-1.6.3-1.7.3-1.9.2-.9.3.4.3 1.6.3 1.8.3 1.9.2 1.3.3 1 .3.9.3.4.2.4.3.4.3.3.3.1.3.3.2.1.3.2.3.1.3.2.3 0 .2 0 .3 0 .3 0 .3.1.3.2.2 0 .3.1.3-.2.3 0 .2-.1.3.1.3 0 .3.3.3 0 .2 0 .3 0 .3 0 .3-.1.3.1.2.2.3-.1.3.1.3-.1.2-.1.3-.1.3.1.3-.1.3 0 .2.1.3-.1.3.1.3 0 .3.1.2-.1.3.1.3 0 .3.1.3 0 .2 0 .3.1.3-.1.3 0 .2 0 .3.1.3-.1.3 0 .3-.1.2.1.3.1.3.1.3 0 .3.1.2.1.3 0 .3 0 .3.1.3 0 .2-.1.3-.1.3 0 .3 0 .2.1.3-.1.3 0 .3.1.3 0 .2.1.3.2.3 0 .3-.1.3 0 .2-.1.3-.1.3-.1.3 0 .2-.1.3.1.3.1.3.2.3.1.2 0 .3-.1.3-.1.3-.1.3.1.2.1.3 0 .3.1.3-.1.3-.1.2 0 .3.1.3 0 .3.1.2 0 .3 0 .3-.1.3 0 .3 0 .2 0 .3.1.3.1.3.1.3 0 .2.1.3 0 .3 0 .3.1.3-.1.2-.2.3 0 .3-.1.3 0 .2.1.3.1.3.1.3-.1.3.1.2 0 .3 0 .3-.1.3.2" stroke="#0094ff"/><path d="M16.5 142.8l.3.1.3 0 .3 0 .2.1.3 0 .3 0 .3-.1.3 0 .2-.1.3 0 .3-.1.3 0 .3-.1.2-.1.3 0 .3 0 .3 0 .2.1.3 0 .3-.1.3 0 .3 0 .2-.2.3-.2.3-.2.3-.1.3-.1.2-.1.3-.2.3-.1.3-.3.2-.3.3-.8.3-.8.3-1.6.3-2.4.2-4.3.3-7 .3-9.4.3-1.4.3 8.9.2 8.1.3 4.6.3 2.6.3 1.5.3.9.2.4.3.4.3.3.3.2.2.2.3.1.3 0 .3.1.3-.1.2-.1.3.1.3.2.3.1.3.3.2.4.3-.1.3-.1.3 0 .3-.1.2 0 .3.1.3-.1.3 0 .2-.1.3-.1.3 0 .3.2.3 0 .2.2.3 0 .3-.1.3-.1.3.2.2-.2.3 0 .3.1.3-.1.2-.1.3 0 .3 0 .3-.2.3-.2.2-.1.3.1.3-.1.3.2.3-.1.2 0 .3-.2.3.1.3-.2.3-.2.2-.5.3-.8.3-1.3.3-1.9.2-2.7.3-2.6.3.3.3 2.6.3 2.6.2 1.7.3 1.2.3.6.3.5.3.2.2.2.3.2.3.2.3 0 .2.2.3.1.3-.3.3 0 .3 0 .2-.1.3-.1.3.2.3 0 .3.1.2.1.3.1.3 0 .3.2.3 0 .2 0 .3-.1.3 0 .3 0 .2-.2.3 0 .3.1.3-.1.3 0 .2.2.3 0 .3 0 .3.1.3 0 .2-.1.3.1.3 0 .3.1.3 0 .2.1.3-.2.3-.2.3 0 .2 0 .3-.1.3.1.3.1.3-.1.2.2.3 0 .3.1.3.2.3.1.2-.2.3.1.3-.1.3-.2.2-.2.3.1.3-.1.3 0 .3 0 .2.1.3 0 .3 0 .3.2.3-.1.2.1.3 0 .3.1.3-.1.3 0 .2 0 .3.1.3.1.3.1.2 0 .3 0 .3.1.3 0 .3-.1.2 0 .3 0 .3-.2.3-.1.3.1.2-.1.3 0 .3.1.3.1.3 0 .2.2.3.1.3 0 .3-.1.2-.1.3-.1.3-.3.3-.2.3.1.2.1.3.2.3.2.3 0 .3.1.2 0 .3-.1.3 0 .3 0 .2-.2.3-.1.3.1.3.1.3 0 .2.1.3-.1.3-.1.3-.1.3-.1.2 0 .3.1.3-.1.3.1.3 0 .2 0 .3-.3.3-.1.3-.2.2-.2.3-.4.3-.2.3-.4.3-.4.2-.4.3-.1.3.2.3.4.3.4.2.4.3.2.3.3.3.1.2 0 .3-.1.3-.1.3-.3.3-.2.2-.3.3-.3.3-.3.3-.6.3-.9.2-1 .3-1.2.3-1.7.3-1.7.3-.9.2 0 .3 1.1.3 1.7.3 1.6.2 1.5.3 1.1.3.7.3.6.3.5.2.2.3.2.3.1.3.1.3 0 .2.2.3.1.3.1.3.1.3.1.2 0 .3 0 .3 0 .3.2.2-.1.3.1.3 0 .3-.1.3-.2.2 0 .3.1.3 0 .3 0 .3 0 .2 0 .3-.2.3-.1.3-.1.2-.3.3-.1.3-.2.3-.1.3-.4.2-.3.3-.7.3-.8.3-.9.3-1.1.2-1.4.3-1.4.3-1.5.3-.9.3.4.2 1.2.3 1.5.3 1.4.3 1.2.2.6.3.3.3.3.3-.2.3-.2.2-.2.3-.5.3-.9.3-1 .3-1.3.2-2.2.3-2.6.3-3.3.3-4 .3-3.6.2-1.3.3 1.5.3 3.5.3 4 .2 3.6.3 2.7.3 2 .3 1.4.3 1.2.2.7.3.6.3.6.3.4.3.3.2.4.3.5.3.2.3.2.2.1.3 0 .3 0 .3 0 .3.1.2 0 .3.1.3 0 .3-.1.3 0 .2 0 .3.2.3 0 .3.1.3 0 .2 0 .3 0 .3-.1.3-.1.2 0 .3-.2.3-.1.3 0 .3.1.2 0 .3 0 .3 0 .3-.2.3-.2.2-.2.3-.3.3-.4.3-.5.2-.4.3-.6.3-.9.3-1.2.3-1.6.2-1.9.3-2.4.3-2 .3-.4.3 1.2.2 2 .3 2.1.3 2.1.3 1.3.3.9.2.7.3.6.3.4.3.2.2.4.3.2.3.1.3.1.3.1.2 0 .3-.1.3-.1.3-.2.3-.3.2-.7.3-.8.3-.9.3-1.2.3-1 .2-.4.3.2.3.9.3 1.2.2.9.3.8.3.5.3.4.3.3.2.4.3.2.3 0 .3.2.3.2.2-.1.3 0 .3 0 .3 0 .2-.1.3-.2.3 0 .3-.3.3-.4.2-.5.3-.5.3-1 .3-1.1.3-1.5.2-1.9.3-1.6.3-.9.3.5.3 1.6.2 1.8.3 1.5.3 1.3.3 1 .2.6.3.5.3.4.3.4.3.2.2.2.3.2.3 0 .3 0 .3 0 .2.1.3 0 .3.3.3.1.3.1.2.1.3.2.3.1.3-.1.2.1.3 0 .3.1.3-.2.3 0 .2 0 .3-.1.3 0 .3.1.3 0 .2-.2.3.1.3 0 .3 0 .2 0 .3.1.3 0 .3 0 .3-.1.2.1.3 0 .3 0 .3 0 .3.1.2-.1.3.1.3.1.3.1.3-.1.2 0 .3-.1.3 0 .3-.1.2.1.3 0 .3 0 .3-.1.3 0 .2 0 .3-.1.3 0 .3 0 .3.2.2 0 .3.1.3 0 .3.2.2-.3.3-.1.3.1.3 0 .3-.1.2.2.3 0 .3 0 .3-.1.3.2.2-.1.3 0 .3.1.3-.1.3-.1.2.2.3-.1.3-.1.3.1.2-.1.3-.2.3.2.3-.1.3 0 .2 0 .3.1.3-.1.3.2.3.1.2-.1.3.2.3 0 .3 0 .3-.1.2 0 .3 0 .3 0 .3-.1.2.1.3-.1.3 0 .3 0 .3 0 .2.1.3 0 .3 0 .3.1.3-.1.2-.1.3 0 .3.1.3-.2.2.1.3.1.3.2.3.1.3 0 .2 0 .3 0 .3-.2.3 0 .3 0 .2-.1.3.1.3.1.3-.1.3 0 .2.1" stroke="#0054ff"/><path d="M13.2 147.7l.3 0 .2.1.3-.1.3-.1.3.1.3.1.2-.1.3.1.3 0 .3-.2.2-.1.3 0 .3 0 .3 0 .3.1.2-.1.3 0 .3-.1.3-.2.3-.2.2-.1.3 0 .3.1.3.1.3-.1.2 0 .3 0 .3-.2.3-.4.2-.1.3-.4.3-.7.3-.8.3-1.1.2-1.9.3-3.1.3-5.3.3-9.3.3-12.2.2-1.9.3 11.6.3 10.4.3 6 .3 3.4.2 2.1.3 1.3.3 1 .3.5.2.4.3.4.3.3.3 0 .3.3.2.1.3 0 .3 0 .3.1.3 0 .2 0 .3.1.3 0 .3.1.2.1.3.1.3.1.3-.1.3-.1.2 0 .3 0 .3-.1.3.2.3 0 .2 0 .3 0 .3.1.3-.2.3-.1.2 0 .3 0 .3 0 .3.1.2.1.3 0 .3-.1.3 0 .3-.1.2 0 .3 0 .3 0 .3-.1.3.1.2-.3.3-.2.3-.1.3-.1.3-.2.2-.1.3-.3.3-.5.3-.9.2-1.5.3-2.2.3-3.1.3-3 .3.5.2 3.2.3 3.1.3 1.9.3 1.2.3.7.2.7.3.2.3.1.3.2.2.1.3 0 .3.1.3.2.3.2.2 0 .3.1.3-.1.3.1.3 0 .2.1.3 0 .3 0 .3.1.3-.2.2-.1.3-.1.3 0 .3 0 .2.1.3-.1.3 0 .3 0 .3-.1.2-.1.3.1.3.1.3-.1.3.2.2 0 .3-.1.3-.2.3 0 .2-.2.3.1.3.1.3 0 .3 0 .2-.2.3 0 .3 0 .3 0 .3.3.2 0 .3 0 .3 0 .3 0 .3-.2.2 0 .3.1.3-.2.3-.2.2.1.3 0 .3-.1.3 0 .3.2.2-.1.3.1.3-.1.3.1.3-.1.2.1.3-.1.3-.1.3 0 .3.1.2-.3.3.1.3.1.3-.1.2-.1.3 0 .3-.1.3-.2.3.2.2-.2.3-.1.3.1.3.1.3 0 .2.1.3.2.3-.1.3 0 .2-.1.3 0 .3-.2.3 0 .3-.1.2 0 .3 0 .3.1.3.1.3-.1.2-.1.3-.2.3-.1.3-.1.3 0 .2.1.3.1.3 0 .3 0 .2 0 .3-.2.3 0 .3 0 .3 0 .2 0 .3.2.3-.2.3 0 .3-.1.2-.2.3 0 .3-.2.3 0 .3 0 .2 0 .3 0 .3.1.3-.2.2-.1.3-.1.3-.3.3-.2.3-.3.2-.5.3-.5.3-.6.3-.3.3.1.2.3.3.4.3.2.3.3.2.2.3.2.3 0 .3.1.3-.3.2-.2.3-.1.3-.2.3-.5.3-.2.2-.5.3-.9.3-1.2.3-1.3.3-1.7.2-1.8.3-1.1.3.1.3 1.2.2 1.5.3 1.7.3 1.3.3 1 .3.7.2.6.3.3.3.4.3.3.3.3.2.1.3.2.3.1.3 0 .2.2.3 0 .3.1.3-.2.3 0 .2-.2.3.1.3 0 .3.1.3 0 .2.1.3-.1.3-.1.3-.1.3-.1.2-.1.3 0 .3-.1.3-.1.2 0 .3.1.3-.2.3 0 .3-.4.2-.2.3-.4.3-.3.3-.5.3-.5.2-.8.3-1.1.3-1.4.3-1.8.3-1.8.2-1 .3.3.3 1.4.3 1.5.2 1.5.3 1.1.3.8.3.4.3.4.2.1.3.1.3-.2.3-.3.3-.6.2-.8.3-1.1.3-1.4.3-2.1.2-2.7.3-2.9.3-2.5.3-1.2.3 1.1.2 2.8.3 3 .3 2.7.3 2.2.3 1.6.2 1 .3.8.3.7.3.5.3.6.2.3.3.2.3.2.3.2.2-.1.3.2.3.2.3.1.3-.1.2.2.3.1.3.1.3 0 .3.2.2-.1.3 0 .3.1.3 0 .3 0 .2-.1.3-.2.3 0 .3.1.2.2.3 0 .3.3.3-.1.3-.1.2-.1.3.1.3-.2.3-.1.3-.2.2-.1.3-.2.3-.3.3-.3.2-.3.3-.4.3-.6.3-.8.3-1 .2-1.2.3-2 .3-2.4.3-2.5.3-2 .2-.5.3 1.5.3 2.5.3 2.7.3 2.2.2 1.4.3 1.1.3.8.3.5.2.4.3.4.3.4.3.4.3.3.2.1.3.1.3 0 .3-.2.3-.1.2-.1.3-.3.3-.4.3-.6.2-.7.3-1.1.3-1 .3-.4.3.3.2.8.3 1.1.3 1 .3.9.3.6.2.5.3.3.3.3.3 0 .3.1.2.1.3 0 .3-.1.3 0 .2-.1.3-.1.3-.2.3 0 .3 0 .2-.2.3-.4.3-.4.3-.7.3-1.1.2-1.1.3-1.7.3-1.9.3-1.8.3-.9.2.3.3 1.8.3 2 .3 1.6.2 1.4.3 1.1.3.8.3.7.3.6.2.6.3.4.3.2.3.2.3.1.2.1.3.1.3.1.3.1.2.2.3-.1.3.1.3 0 .3.1.2-.1.3.2.3 0 .3.1.3-.1.2.2.3.1.3 0 .3-.2.3 0 .2 0 .3 0 .3.1.3.1.2.1.3 0 .3-.1.3.1.3.1.2 0 .3 0 .3.1.3 0 .3 0 .2 0 .3-.1.3.1.3 0 .3-.1.2 0 .3.1.3.1.3 0 .2.1.3.1.3 0 .3-.1.3-.2.2.1.3-.1.3.1.3.1.3.2.2 0 .3 0 .3.1.3-.2.2 0 .3.2.3 0 .3 0 .3 0 .2.1.3-.3.3.1.3 0 .3 0 .2-.1.3.2.3-.1.3 0 .3.1.2-.1.3 0 .3-.1.3 0 .2 0 .3.2.3-.1.3-.1.3.3.2 0 .3-.2.3.1.3.2.3-.2.2 0 .3.1.3-.2.3-.1.2 0 .3.1.3 0 .3.1.3 0 .2 0 .3 0 .3-.1.3 0 .3 0 .2.1.3-.2.3 0 .3 0 .3 0 .2-.1.3.3.3 0 .3 0 .2 0 .3 0 .3-.3.3 0 .3.1.2-.1.3 0 .3.1.3 0 .3 0 .2.2.3 0 .3 0 .3-.1.3.1.2-.2.3 0 .3-.1" stroke="#0015ff"/><path d="M9.8 151.4l.3.1.3-.1.3.1.3 0 .2-.1.3 0 .3 0 .3.1.2-.1.3 0 .3.2.3-.2.3.1.2 0 .3.1.3-.3.3-.1.3-.1.2 0 .3-.2.3 0 .3 0 .3 0 .2 0 .3 0 .3-.1.3 0 .2-.1.3-.2.3-.2.3-.3.3-.5.2-.8.3-1.3.3-1.7.3-2.7.3-4.8.2-8.1.3-10.4.3-1.4.3 10.1.2 8.9.3 5.3.3 3.1.3 1.7.3 1 .2.6.3.3.3.2.3.2.3.3.2.3.3.1.3.1.3.2.3-.2.2 0 .3.1.3-.1.3 0 .2.1.3 0 .3-.1.3.2.3-.1.2 0 .3-.1.3 0 .3-.3.3.1.2.1.3.1.3.1.3 0 .3 0 .2-.1.3-.2.3.1.3-.1.2 0 .3 0 .3 0 .3-.2.3.1.2-.1.3-.1.3.1.3-.1.3 0 .2 0 .3.1.3.1.3 0 .2 0 .3-.2.3-.2.3-.3.3-.2.2-.5.3-.7.3-1.3.3-2.1.3-2.9.2-2.7.3.3.3 3 .3 2.6.3 1.7.2 1.1.3.7.3.5.3.3.2.3.3.1.3.1.3.2.3.1.2.1.3.1.3 0 .3 0 .3 0 .2-.1.3-.1.3-.1.3-.1.3.1.2 0 .3 0 .3 0 .3.1.2.1.3-.1.3.1.3 0 .3-.1.2-.1.3.1.3 0 .3 0 .3-.1.2.1.3 0 .3 0 .3 0 .2 0 .3-.1.3-.2.3-.2.3.2.2 0 .3 0 .3.2.3.1.3 0 .2 0 .3 0 .3.1.3 0 .3-.1.2.1.3.1.3-.1.3.1.2 0 .3-.1.3-.1.3 0 .3.1.2 0 .3.1.3 0 .3 0 .3-.1.2 0 .3.1.3 0 .3 0 .2 0 .3-.1.3 0 .3-.2.3.1.2-.1.3.1.3 0 .3 0 .3-.1.2.1.3-.1.3 0 .3 0 .3 0 .2.1.3 0 .3 0 .3.1.2-.1.3.1.3 0 .3.1.3-.2.2.1.3 0 .3.1.3 0 .3.1.2-.2.3-.1.3-.1.3 0 .3.1.2.1.3 0 .3-.1.3 0 .2-.1.3-.1.3.1.3.1.3.1.2 0 .3 0 .3 0 .3.1.3 0 .2-.1.3.1.3-.2.3-.1.2-.1.3 0 .3-.1.3 0 .3-.1.2 0 .3 0 .3-.2.3-.2.3-.3.2-.2.3-.4.3-.4.3-.4.3-.3.2-.3.3.3.3.4.3.2.2.2.3.4.3-.1.3.1.3.2.2.2.3-.1.3.1.3-.2.3-.2.2-.2.3-.5.3-.6.3-.8.3-1 .2-1.5.3-1.6.3-1.5.3-.9.2.2.3 1.3.3 1.6.3 1.6.3 1.2.2.7.3.8.3.5.3.5.3.5.2.3.3.2.3.1.3-.1.2 0 .3.1.3 0 .3.1.3.1.2.1.3 0 .3.1.3-.1.3.1.2-.1.3.1.3-.1.3 0 .3.1.2-.2.3 0 .3 0 .3.1.2-.1.3 0 .3-.1.3-.1.3-.2.2 0 .3-.3.3-.3.3-.3.3-.4.2-1 .3-.6.3-.9.3-1.3.2-1.6.3-1.7.3-1.7.3-1.1.3.3.2 1.5.3 1.8.3 1.6.3 1.1.3.9.2.5.3.4.3 0 .3.1.3-.2.2-.4.3-.5.3-.5.3-.9.2-1.5.3-2.1.3-2.7.3-3.2.3-2.8.2-1.1.3 1.1.3 2.9.3 3.2.3 2.8.2 2.1.3 1.6.3 1.2.3.7.3.6.2.6.3.5.3.3.3.4.2.3.3.3.3.1.3.2.3.1.2 0 .3.1.3 0 .3-.1.3 0 .2.1.3 0 .3.2.3-.1.2.1.3 0 .3 0 .3 0 .3.1.2 0 .3 0 .3-.1.3-.2.3 0 .2-.2.3 0 .3-.1.3.1.3-.1.2-.1.3 0 .3.2.3-.4.2-.1.3-.2.3-.4.3-.5.3-.3.2-.7.3-1.1.3-1.1.3-1.6.3-2.1.2-2.2.3-1.6.3-.6.3 1 .3 2.1.2 2.1.3 1.7.3 1.5.3 1.1.2.7.3.7.3.4.3.3.3.1.2.2.3 0 .3 0 .3.1.3.1.2 0 .3-.1.3-.1.3-.3.2-.5.3-.5.3-.7.3-.9.3-.8.2-.7.3.3.3.7.3 1 .3.8.2.8.3.4.3.4.3.3.3.1.2.3.3.2.3.1.3-.1.2.2.3-.1.3 0 .3-.2.3 0 .2-.3.3-.3.3-.3.3-.4.3-.4.2-.7.3-.9.3-1.3.3-1.6.2-1.7.3-1.7.3-.8.3.5.3 1.5.2 1.8.3 1.6.3 1.3.3 1.1.3.8.2.6.3.5.3.5.3.3.3.1.2.2.3.1.3.1.3 0 .2.2.3-.1.3 0 .3 0 .3 0 .2.1.3-.1.3.1.3.2.3 0 .2-.1.3.2.3-.2.3 0 .3 0 .2 0 .3.2.3.2.3 0 .2 0 .3 0 .3 0 .3-.1.3 0 .2-.1.3.1.3-.1.3 0 .3 0 .2 0 .3.1.3 0 .3.1.2 0 .3 0 .3 0 .3-.1.3 0 .2 0 .3 0 .3-.1.3.1.3 0 .2-.1.3-.2.3.2.3.1.3 0 .2.1.3.2.3-.1.3-.2.2 0 .3-.1.3-.1.3 0 .3.1.2 0 .3 0 .3.1.3 0 .3-.1.2.1.3-.1.3 0 .3.1.3 0 .2 0 .3 0 .3.1.3 0 .2 0 .3-.1.3-.1.3.1.3-.1.2 0 .3 0 .3.1.3 0 .3 0 .2 0 .3-.1.3 0 .3 0 .2 0 .3.2.3 0 .3 0 .3-.1.2 0 .3-.1.3.2.3 0 .3.1.2.1.3 0 .3-.1.3.1.3 0 .2 0 .3.1.3 0 .3-.2.2.1.3-.1.3-.3.3.2.3.1.2-.2.3 0 .3.2.3-.2.3-.1.2-.1.3.1.3 0 .3.1.3.1.2 0 .3 0 .3-.1.3.1.2-.1" stroke="#0000ff"/></g>
<g stroke="#828282" stroke-width="1.0" fill="none">
<polyline points="8.5,157.9 8.5,82.2 62.0,14.6 229.3,14.6"/>
<polyline points="8.5,157.9 175.8,157.9 229.3,90.3 229.3,14.6"/>
</g>
<path d="M19.7 157.9v1.6 M36.4 157.9v1.1 M53.1 157.9v1.6 M69.8 157.9v1.1 M86.6 157.9v1.6 M103.3 157.9v1.1 M120.0 157.9v1.6 M136.8 157.9v1.1 M153.5 157.9v1.6 M170.2 157.9v1.1" stroke="#777" stroke-width="0.8"/>
<text x="19.7" y="170.5" text-anchor="middle" font-family="'Liberation Serif', serif" font-size="10.5" fill="#222" stroke="#222" stroke-width="0.25">600</text>
<text x="53.1" y="170.5" text-anchor="middle" font-family="'Liberation Serif', serif" font-size="10.5" fill="#222" stroke="#222" stroke-width="0.25">900</text>
<text x="86.6" y="170.5" text-anchor="middle" font-family="'Liberation Serif', serif" font-size="10.5" fill="#222" stroke="#222" stroke-width="0.25">1200</text>
<text x="120.0" y="170.5" text-anchor="middle" font-family="'Liberation Serif', serif" font-size="10.5" fill="#222" stroke="#222" stroke-width="0.25">1500</text>
<text x="153.5" y="170.5" text-anchor="middle" font-family="'Liberation Serif', serif" font-size="10.5" fill="#222" stroke="#222" stroke-width="0.25">1800</text>
<text x="48.0" y="182.5" font-family="'Liberation Serif', serif" font-size="11" fill="#222" stroke="#222" stroke-width="0.25" textLength="87" lengthAdjust="spacingAndGlyphs">Raman shift (cm<tspan dy="-3.5" font-size="7">−1</tspan><tspan dy="3.5">)</tspan></text>
<text x="232.1" y="91.3" font-family="'Liberation Serif', serif" font-size="10.5" fill="#222" stroke="#222" stroke-width="0.25">0</text>
<text x="232.1" y="71.2" font-family="'Liberation Serif', serif" font-size="10.5" fill="#222" stroke="#222" stroke-width="0.25">3000</text>
<text x="232.1" y="51.1" font-family="'Liberation Serif', serif" font-size="10.5" fill="#222" stroke="#222" stroke-width="0.25">6000</text>
<text x="232.1" y="31.1" font-family="'Liberation Serif', serif" font-size="10.5" fill="#222" stroke="#222" stroke-width="0.25">9000</text>
<path d="M229.3 77.7h1.2 M229.3 57.6h1.2 M229.3 37.5h1.2 M229.3 17.5h1.2 M229.3 87.7h2 M229.3 67.6h2 M229.3 47.6h2 M229.3 27.5h2" stroke="#777" stroke-width="0.8"/>
<text x="205.5" y="12.7" font-family="'Liberation Serif', serif" font-size="11.0" fill="#222" stroke="#222" stroke-width="0.25" textLength="65.0" lengthAdjust="spacingAndGlyphs">Intensity (a.u.)</text>
<text transform="matrix(0.82,0,-0.57,0.95,237.6,95.8)" text-anchor="middle" font-family="'Liberation Serif', serif" font-size="10.5" fill="#222" stroke="#222" stroke-width="0.4">0</text>
<text transform="matrix(0.82,0,-0.57,0.95,225.2,112.2)" text-anchor="middle" font-family="'Liberation Serif', serif" font-size="10.5" fill="#222" stroke="#222" stroke-width="0.4">4</text>
<text transform="matrix(0.82,0,-0.57,0.95,212.8,128.6)" text-anchor="middle" font-family="'Liberation Serif', serif" font-size="10.5" fill="#222" stroke="#222" stroke-width="0.4">8</text>
<text transform="matrix(0.82,0,-0.57,0.95,200.5,144.9)" text-anchor="middle" font-family="'Liberation Serif', serif" font-size="10.5" fill="#222" stroke="#222" stroke-width="0.4">12</text>
<text transform="matrix(0.82,0,-0.57,0.95,188.1,161.3)" text-anchor="middle" font-family="'Liberation Serif', serif" font-size="10.5" fill="#222" stroke="#222" stroke-width="0.4">16</text>
<clipPath id="clpd"><rect x="150" y="101.5" width="200" height="100"/></clipPath>
<g clip-path="url(#clpd)"><text transform="matrix(0.645,-0.815,0.900,0.000,218.3,149.5)" font-family="'Liberation Serif', serif" font-size="11.0" fill="#222" stroke="#222" stroke-width="0.25">Different spot</text></g>
<rect x="139.4" y="14.6" width="89.9" height="64.9" fill="#fff" stroke="#c8c8c8" stroke-width="0.9"/>
<rect x="162.70" y="34.90" width="1.05" height="31.10" fill="#efb27c"/><rect x="163.80" y="53.85" width="1.05" height="12.15" fill="#8ccf8c"/><rect x="164.90" y="57.07" width="1.05" height="8.93" fill="#b2abe2"/><rect x="166.70" y="38.77" width="1.05" height="27.23" fill="#efb27c"/><rect x="167.80" y="54.59" width="1.05" height="11.41" fill="#8ccf8c"/><rect x="168.90" y="57.57" width="1.05" height="8.43" fill="#b2abe2"/><rect x="170.70" y="37.43" width="1.05" height="28.57" fill="#efb27c"/><rect x="171.80" y="54.10" width="1.05" height="11.90" fill="#8ccf8c"/><rect x="172.90" y="57.32" width="1.05" height="8.68" fill="#b2abe2"/><rect x="174.70" y="35.84" width="1.05" height="30.16" fill="#efb27c"/><rect x="175.80" y="53.85" width="1.05" height="12.15" fill="#8ccf8c"/><rect x="176.90" y="57.07" width="1.05" height="8.93" fill="#b2abe2"/><rect x="178.70" y="35.45" width="1.05" height="30.55" fill="#efb27c"/><rect x="179.80" y="53.60" width="1.05" height="12.40" fill="#8ccf8c"/><rect x="180.90" y="56.82" width="1.05" height="9.18" fill="#b2abe2"/><rect x="182.70" y="38.37" width="1.05" height="27.63" fill="#efb27c"/><rect x="183.80" y="54.59" width="1.05" height="11.41" fill="#8ccf8c"/><rect x="184.90" y="57.57" width="1.05" height="8.43" fill="#b2abe2"/><rect x="186.70" y="37.43" width="1.05" height="28.57" fill="#efb27c"/><rect x="187.80" y="54.34" width="1.05" height="11.66" fill="#8ccf8c"/><rect x="188.90" y="57.32" width="1.05" height="8.68" fill="#b2abe2"/><rect x="190.70" y="38.77" width="1.05" height="27.23" fill="#efb27c"/><rect x="191.80" y="54.59" width="1.05" height="11.41" fill="#8ccf8c"/><rect x="192.90" y="57.57" width="1.05" height="8.43" fill="#b2abe2"/><rect x="194.70" y="40.11" width="1.05" height="25.89" fill="#efb27c"/><rect x="195.80" y="54.84" width="1.05" height="11.16" fill="#8ccf8c"/><rect x="196.90" y="57.82" width="1.05" height="8.18" fill="#b2abe2"/><rect x="198.70" y="39.36" width="1.05" height="26.64" fill="#efb27c"/><rect x="199.80" y="54.59" width="1.05" height="11.41" fill="#8ccf8c"/><rect x="200.90" y="57.57" width="1.05" height="8.43" fill="#b2abe2"/><rect x="202.70" y="38.77" width="1.05" height="27.23" fill="#efb27c"/><rect x="203.80" y="54.59" width="1.05" height="11.41" fill="#8ccf8c"/><rect x="204.90" y="57.57" width="1.05" height="8.43" fill="#b2abe2"/><rect x="206.70" y="37.78" width="1.05" height="28.22" fill="#efb27c"/><rect x="207.80" y="54.10" width="1.05" height="11.90" fill="#8ccf8c"/><rect x="208.90" y="57.32" width="1.05" height="8.68" fill="#b2abe2"/><rect x="210.70" y="37.43" width="1.05" height="28.57" fill="#efb27c"/><rect x="211.80" y="54.34" width="1.05" height="11.66" fill="#8ccf8c"/><rect x="212.90" y="57.32" width="1.05" height="8.68" fill="#b2abe2"/><rect x="214.70" y="40.70" width="1.05" height="25.30" fill="#efb27c"/><rect x="215.80" y="55.09" width="1.05" height="10.91" fill="#8ccf8c"/><rect x="216.90" y="58.06" width="1.05" height="7.94" fill="#b2abe2"/><rect x="218.70" y="33.51" width="1.05" height="32.49" fill="#efb27c"/><rect x="219.80" y="53.60" width="1.05" height="12.40" fill="#8ccf8c"/><rect x="220.90" y="56.82" width="1.05" height="9.18" fill="#b2abe2"/><rect x="222.70" y="37.78" width="1.05" height="28.22" fill="#efb27c"/><rect x="223.80" y="54.34" width="1.05" height="11.66" fill="#8ccf8c"/><rect x="224.90" y="57.32" width="1.05" height="8.68" fill="#b2abe2"/>
<rect x="161.7" y="14.6" width="65.3" height="51.4" fill="none" stroke="#8a8a8a" stroke-width="0.7"/>
<text x="160.8" y="67.9" text-anchor="end" font-family="'Liberation Serif', serif" font-size="5.8" fill="#444">0</text>
<text x="160.8" y="58.0" text-anchor="end" font-family="'Liberation Serif', serif" font-size="5.8" fill="#444">2000</text>
<text x="160.8" y="48.1" text-anchor="end" font-family="'Liberation Serif', serif" font-size="5.8" fill="#444">4000</text>
<text x="160.8" y="38.1" text-anchor="end" font-family="'Liberation Serif', serif" font-size="5.8" fill="#444">6000</text>
<text x="160.8" y="28.2" text-anchor="end" font-family="'Liberation Serif', serif" font-size="5.8" fill="#444">8000</text>
<text x="160.8" y="18.3" text-anchor="end" font-family="'Liberation Serif', serif" font-size="5.8" fill="#444">10000</text>
<text x="176.3" y="70.8" text-anchor="middle" font-family="'Liberation Serif', serif" font-size="6" fill="#444">4</text>
<text x="192.3" y="70.8" text-anchor="middle" font-family="'Liberation Serif', serif" font-size="6" fill="#444">8</text>
<text x="208.3" y="70.8" text-anchor="middle" font-family="'Liberation Serif', serif" font-size="6" fill="#444">12</text>
<text x="224.3" y="70.8" text-anchor="middle" font-family="'Liberation Serif', serif" font-size="6" fill="#444">16</text>
<text x="159.7" y="77.8" font-family="'Liberation Serif', serif" font-size="8.6" fill="#222" stroke="#222" stroke-width="0.12" textLength="67.3" lengthAdjust="spacingAndGlyphs">Random spot number</text>
<text transform="translate(146.3,63.6) rotate(-90)" font-family="'Liberation Serif', serif" font-size="7.3" fill="#222" stroke="#222" stroke-width="0.12" textLength="44.5" lengthAdjust="spacingAndGlyphs">Intensity (a.u.)</text>
<rect x="166.2" y="16.7" width="6.2" height="3.3" fill="#f3bd8c"/>
<text x="174.0" y="20.1" font-family="'Liberation Serif', serif" font-size="5.9" fill="#333" stroke="#333" stroke-width="0.1" textLength="49.0" lengthAdjust="spacingAndGlyphs">610cm<tspan dy="-1.6" font-size="3.6">−1</tspan><tspan dy="1.6">RSD=6.58%</tspan></text>
<rect x="166.2" y="22.5" width="6.2" height="3.3" fill="#96d896"/>
<text x="174.0" y="25.9" font-family="'Liberation Serif', serif" font-size="5.9" fill="#333" stroke="#333" stroke-width="0.1" textLength="49.0" lengthAdjust="spacingAndGlyphs">770cm<tspan dy="-1.6" font-size="3.6">−1</tspan><tspan dy="1.6">RSD=5.78%</tspan></text>
<rect x="166.2" y="28.4" width="6.2" height="3.3" fill="#b9b6e6"/>
<text x="174.0" y="31.8" font-family="'Liberation Serif', serif" font-size="5.9" fill="#333" stroke="#333" stroke-width="0.1" textLength="49.0" lengthAdjust="spacingAndGlyphs">1650cm<tspan dy="-1.6" font-size="3.6">−1</tspan><tspan dy="1.6">RSD=7.66%</tspan></text>
<text x="73.8" y="36.8" font-family="'Liberation Serif', serif" font-size="10.8" fill="#ee2a2a" textLength="58.8" lengthAdjust="spacingAndGlyphs">Ag@SiO<tspan dy="2" font-size="7">2</tspan><tspan dy="-2">−50</tspan></text>
</g>
</svg></body></html>
